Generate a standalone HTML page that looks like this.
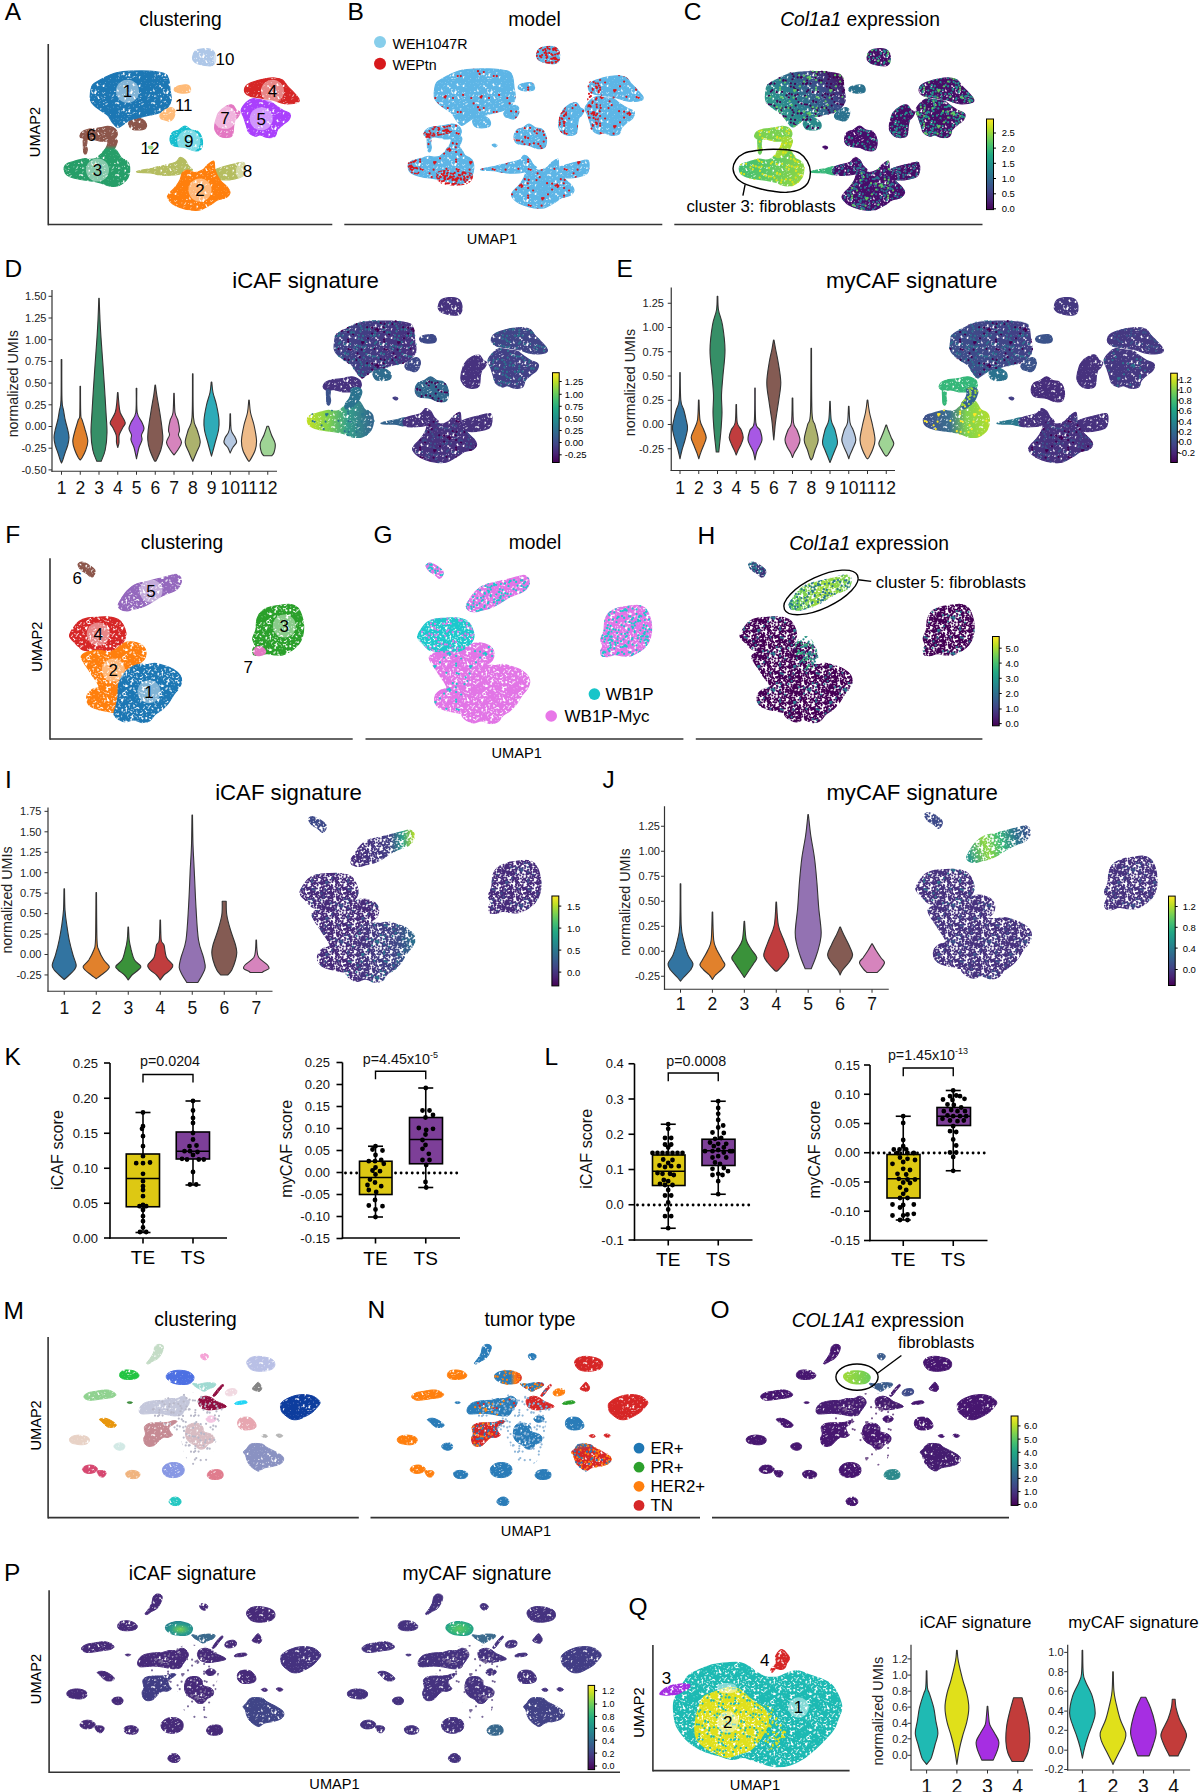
<!DOCTYPE html>
<html><head><meta charset="utf-8"><title>figure</title>
<style>html,body{margin:0;padding:0;background:#fff;} svg{display:block;} text{font-family:"Liberation Sans", sans-serif;}</style>
</head><body>
<svg width="1200" height="1792" viewBox="0 0 1200 1792" font-family='"Liberation Sans", sans-serif'>
<rect width="1200" height="1792" fill="#fff"/>
<defs><linearGradient id="vir" x1="0" y1="0" x2="0" y2="1"><stop offset="0.0" stop-color="#fde725"/><stop offset="0.1" stop-color="#bddf26"/><stop offset="0.2" stop-color="#7ad151"/><stop offset="0.3" stop-color="#44bf70"/><stop offset="0.4" stop-color="#22a884"/><stop offset="0.5" stop-color="#21918c"/><stop offset="0.6" stop-color="#2a788e"/><stop offset="0.7" stop-color="#355f8d"/><stop offset="0.8" stop-color="#414487"/><stop offset="0.9" stop-color="#482475"/><stop offset="1.0" stop-color="#440154"/></linearGradient><pattern id="p_mkd" width="36" height="36" patternUnits="userSpaceOnUse"><path d="M11.7 5.4h0M23.4 2.6h0M19.3 13.2h0M2.1 18.3h0M1.3 15.6h0M2.5 3.3h0M15.3 29.8h0M4.5 8.0h0M22.6 34.1h0M20.8 14.3h0M-0.9 1.7h0M35.1 1.7h0M30.9 10.4h0M5.2 4.2h0M11.1 29.4h0M6.5 20.9h0M23.0 13.4h0M19.7 2.3h0M2.1 7.4h0M24.5 15.4h0M11.3 21.1h0M16.3 10.8h0M28.6 25.2h0M8.8 20.7h0M18.9 31.5h0M26.3 10.4h0M-0.7 4.3h0M35.3 4.3h0M15.1 27.3h0M5.5 17.6h0M1.4 24.1h0M27.5 20.6h0M31.5 11.3h0M25.0 21.4h0M20.9 16.4h0M30.2 34.0h0M17.1 23.9h0M2.2 25.3h0M23.3 -0.2h0M23.3 35.8h0M29.6 10.2h0M13.9 24.1h0M0.8 16.6h0M36.8 16.6h0M6.0 4.2h0M2.1 27.7h0M4.7 8.9h0M14.1 31.4h0M2.9 16.2h0M19.8 31.8h0M29.5 31.1h0M10.0 15.0h0M12.9 31.8h0M34.5 5.4h0M6.3 8.4h0M8.4 17.5h0M21.2 9.5h0M0.1 15.1h0M36.1 15.1h0M13.3 20.4h0M34.3 24.9h0M18.6 22.2h0M24.3 1.9h0M32.4 28.1h0M31.5 28.7h0M14.1 14.4h0M3.7 22.8h0M2.2 2.4h0M7.5 5.8h0M12.2 1.9h0M0.0 5.4h0M36.0 5.4h0M3.7 13.1h0M0.9 31.5h0M36.9 31.5h0M22.1 5.3h0M9.1 12.5h0M13.1 4.4h0M30.6 -0.2h0M30.6 35.8h0M16.8 17.4h0M3.1 3.7h0M12.3 9.5h0M29.8 5.8h0M0.8 34.2h0M36.8 34.2h0M19.0 5.3h0M19.6 1.0h0M19.6 37.0h0M19.0 -0.8h0M19.0 35.2h0M31.1 25.1h0M9.4 13.2h0M6.0 27.8h0M19.2 28.0h0M11.9 8.0h0M29.2 -0.5h0M29.2 35.5h0M30.7 29.0h0M29.5 26.6h0M8.2 18.6h0M12.8 1.0h0M12.8 37.0h0M1.0 10.1h0M37.0 10.1h0M9.3 24.9h0M34.4 16.1h0M33.7 -0.4h0M33.7 35.6h0M34.4 13.1h0M7.9 8.2h0M7.1 7.4h0M22.5 32.4h0M30.3 17.3h0M23.5 28.8h0M3.1 23.8h0M32.8 28.2h0M27.0 17.2h0M6.4 28.4h0M12.0 28.8h0M-1.0 14.3h0M35.0 14.3h0M14.4 34.1h0M26.1 6.1h0M4.6 5.4h0M32.6 29.0h0M5.3 29.8h0M-0.7 23.7h0M35.3 23.7h0M12.6 19.8h0M4.7 0.5h0M4.7 36.5h0M-1.0 23.4h0M35.0 23.4h0M19.0 33.6h0M15.6 31.4h0M29.7 7.6h0M9.1 10.5h0M8.7 21.1h0M9.3 15.1h0M4.7 32.8h0M12.7 16.5h0M21.0 32.6h0M15.1 33.0h0M18.1 19.1h0M18.8 0.7h0M18.8 36.7h0M15.8 6.6h0M0.1 28.8h0M36.1 28.8h0M6.2 17.0h0M26.1 20.0h0M11.7 18.7h0M20.0 28.2h0M3.8 20.2h0M8.9 10.0h0M27.8 18.3h0M20.2 27.4h0M32.8 16.0h0M22.1 18.2h0M18.4 24.9h0M16.3 19.2h0M17.2 33.9h0M25.2 31.6h0M33.9 9.3h0M20.1 34.0h0M30.2 4.9h0M4.4 15.9h0M2.6 8.7h0M2.6 24.1h0M28.2 32.3h0M5.6 25.8h0M23.8 5.1h0M31.8 34.8h0M7.9 34.3h0M14.3 17.5h0M-0.4 30.0h0M35.6 30.0h0M5.8 15.5h0M18.6 12.2h0M7.0 11.5h0M26.0 0.7h0M26.0 36.7h0M19.9 15.9h0M0.7 11.9h0M36.7 11.9h0M22.5 18.4h0M2.3 -0.5h0M2.3 35.5h0M28.4 -1.0h0M28.4 35.0h0M3.8 9.6h0M1.4 28.0h0M9.7 4.7h0M15.2 32.8h0M29.5 9.3h0M5.4 33.1h0M20.5 25.2h0M3.2 2.1h0M24.8 15.3h0M2.6 33.8h0M22.8 28.9h0M3.0 30.8h0M2.4 31.1h0M16.3 12.2h0M19.9 33.4h0M9.6 4.7h0M19.0 8.6h0M3.9 5.8h0M1.8 7.3h0M11.2 11.0h0M27.3 10.4h0M18.0 6.4h0M12.5 0.7h0M12.5 36.7h0M9.0 0.6h0M9.0 36.6h0M26.4 19.8h0M6.8 17.1h0M33.6 3.8h0M29.5 15.6h0M17.8 30.0h0M14.2 18.2h0M24.8 -0.6h0M24.8 35.4h0M12.3 30.0h0M25.4 22.9h0M14.6 12.5h0M2.0 4.7h0M2.5 26.7h0M9.2 5.9h0M3.0 30.3h0M31.3 24.1h0M10.1 8.7h0M10.6 16.5h0M5.7 16.0h0M9.5 34.6h0M-1.0 19.7h0M35.0 19.7h0M8.8 34.8h0M11.1 12.8h0M0.0 13.7h0M36.0 13.7h0M17.1 18.1h0M7.2 18.2h0M0.2 9.5h0M36.2 9.5h0M3.2 14.4h0M1.5 0.8h0M1.5 36.8h0M11.0 8.4h0M21.1 19.1h0M27.0 23.7h0M25.8 31.6h0M14.0 11.7h0M-0.5 5.4h0M35.5 5.4h0M26.1 23.2h0M1.6 30.1h0M32.1 22.6h0M26.4 29.2h0M5.0 18.9h0M18.2 30.1h0M29.0 29.8h0M21.0 32.1h0M24.6 25.0h0M8.3 1.1h0M4.8 13.0h0M3.8 30.1h0M20.1 22.6h0M22.5 24.5h0M17.6 0.1h0M17.6 36.1h0M28.7 26.9h0M18.1 19.3h0M23.7 2.4h0M26.5 9.1h0M2.7 9.6h0M26.3 7.4h0M26.6 -0.9h0M26.6 35.1h0M17.8 13.8h0M17.2 24.6h0M27.6 22.2h0M23.1 2.8h0M5.3 9.1h0M26.8 11.0h0M20.4 0.4h0M20.4 36.4h0M2.2 9.7h0M24.2 24.9h0M24.3 10.5h0M18.6 16.7h0M16.8 4.3h0M32.2 7.2h0M-0.8 33.7h0M35.2 33.7h0M0.6 16.5h0M36.6 16.5h0M29.5 34.9h0M16.2 9.7h0M7.6 34.0h0M7.6 20.9h0M5.1 18.9h0M34.3 4.8h0M29.5 18.3h0M31.9 25.3h0M8.3 32.3h0M17.5 0.9h0M17.5 36.9h0M0.1 17.7h0M36.1 17.7h0M16.2 10.9h0M5.1 12.4h0M11.4 30.2h0M0.1 27.0h0M36.1 27.0h0M30.2 4.3h0M33.4 25.7h0M32.5 10.4h0M13.4 14.1h0M-0.0 21.2h0M36.0 21.2h0M13.0 15.4h0M9.9 1.7h0M3.7 30.0h0M10.3 33.7h0M9.0 9.6h0M18.4 6.8h0M13.4 34.4h0M31.8 29.2h0M22.7 32.9h0M33.9 19.8h0M25.9 1.8h0M26.4 16.2h0M27.1 23.2h0M10.3 1.8h0M33.4 4.6h0M17.0 12.4h0M10.7 26.6h0M-0.9 9.4h0M35.1 9.4h0M23.6 10.8h0M20.1 14.2h0M6.0 5.8h0M7.5 32.6h0M17.9 7.9h0M32.6 -0.1h0M32.6 35.9h0M16.2 5.0h0M6.9 3.3h0M12.3 3.3h0M8.6 9.3h0M20.5 31.9h0M27.0 14.9h0M14.9 18.9h0M13.6 12.2h0M2.2 10.0h0M34.8 4.5h0M18.1 22.7h0M31.1 7.8h0M9.8 8.9h0M14.4 16.1h0M34.3 30.6h0M31.4 0.8h0M31.4 36.8h0M1.2 25.5h0M32.2 17.0h0M21.1 0.0h0M21.1 36.0h0M14.1 33.4h0M29.7 30.8h0M-1.0 8.9h0M35.0 8.9h0M3.9 5.6h0M18.8 24.6h0M33.9 26.0h0M23.3 27.5h0M16.5 19.9h0M1.4 28.2h0M8.4 33.1h0M23.2 10.9h0M4.6 9.1h0M22.9 25.1h0M4.0 2.5h0M18.9 21.0h0M14.0 8.0h0M21.6 0.4h0M21.6 36.4h0M10.9 16.6h0M34.5 23.2h0M31.8 17.1h0M8.5 8.9h0M34.6 25.4h0M11.1 0.8h0M11.1 36.8h0M17.9 24.3h0M15.1 9.3h0M24.0 33.3h0M8.2 1.2h0M12.2 15.1h0M24.6 7.1h0M28.7 26.6h0M18.2 7.4h0M-1.1 11.2h0M34.9 11.2h0M29.5 8.3h0M8.0 27.4h0M10.6 34.3h0M17.8 6.7h0M8.0 15.0h0M24.0 34.2h0M5.3 14.2h0M7.7 -0.9h0M7.7 35.1h0M5.1 1.9h0M2.2 14.2h0M32.3 31.8h0M26.4 -0.1h0M26.4 35.9h0M33.5 11.9h0M6.7 33.7h0M26.9 1.1h0M23.9 13.6h0M13.5 11.9h0M6.1 0.1h0M6.1 36.1h0M10.1 12.7h0M34.4 4.5h0M34.7 7.5h0M12.8 29.6h0M29.6 15.6h0M1.8 17.0h0M13.4 33.1h0M6.9 13.1h0M32.3 1.1h0M32.3 37.1h0M14.8 29.2h0M27.6 1.5h0M1.3 2.3h0M33.1 9.3h0M26.9 32.3h0M12.2 9.8h0M34.5 22.2h0M9.4 25.8h0M11.4 9.9h0M0.1 27.2h0M36.1 27.2h0M33.0 22.8h0M34.0 0.9h0M34.0 36.9h0M8.4 17.1h0M34.4 34.3h0M13.9 9.0h0M15.5 17.8h0M33.4 6.6h0M28.9 26.6h0M29.6 27.8h0M21.9 11.8h0M11.5 13.0h0M28.2 2.8h0M7.1 27.1h0M8.9 2.3h0M1.2 19.9h0M11.7 -0.7h0M11.7 35.3h0M31.8 -0.4h0M31.8 35.6h0M9.5 3.0h0M3.5 17.9h0M25.6 16.1h0M8.4 15.0h0M22.3 24.3h0M26.9 30.5h0M23.9 4.4h0M30.3 10.6h0M20.4 13.4h0M26.6 7.2h0M8.9 8.8h0M5.5 31.8h0M20.8 11.7h0M14.3 -0.3h0M14.3 35.7h0M18.3 8.3h0M29.1 23.5h0M-0.3 3.7h0M35.7 3.7h0M17.1 29.5h0M30.3 32.9h0M1.5 10.6h0M4.3 6.8h0M-1.0 21.0h0M35.0 21.0h0M33.5 13.4h0M31.2 16.2h0M9.4 28.0h0M34.0 3.8h0M21.5 22.3h0M7.8 13.3h0M5.1 7.3h0M9.2 21.6h0M23.5 7.3h0M0.4 11.8h0M36.4 11.8h0M24.4 6.7h0M11.2 7.3h0M28.6 19.7h0M2.3 3.6h0M14.2 19.8h0M23.0 3.3h0M5.9 25.0h0M14.8 10.2h0M11.1 34.3h0M11.2 20.4h0M12.9 15.0h0M31.1 -0.1h0M31.1 35.9h0M13.1 7.1h0M26.2 7.3h0M0.2 32.5h0M36.2 32.5h0M15.3 29.5h0M14.6 31.8h0M16.6 5.9h0M0.5 19.9h0M36.5 19.9h0M23.1 32.8h0M3.2 22.4h0M13.4 18.2h0M5.3 10.2h0M18.8 33.3h0M3.9 17.7h0M29.0 34.8h0M7.1 4.6h0M34.0 -0.9h0M34.0 35.1h0M17.4 1.9h0M33.3 14.0h0M32.6 22.3h0M29.7 5.8h0M28.3 8.0h0M14.6 30.5h0M29.9 6.6h0M7.9 14.4h0M18.6 13.8h0M4.4 8.9h0M26.1 32.3h0M1.5 20.2h0M27.3 1.4h0M30.2 4.2h0M21.6 19.8h0M22.6 11.0h0M15.1 21.0h0M15.3 23.7h0M16.1 15.8h0M0.8 22.3h0M36.8 22.3h0M17.6 8.5h0M27.5 28.1h0M16.5 6.5h0M17.0 3.9h0M4.6 15.5h0M3.3 15.9h0M18.4 1.5h0M22.9 3.0h0M26.4 28.0h0M18.4 2.0h0M18.1 13.6h0M34.2 4.9h0M30.9 -0.1h0M30.9 35.9h0M26.4 29.3h0M7.0 -0.7h0M7.0 35.3h0M17.7 34.4h0M33.0 5.9h0M28.4 33.5h0M2.4 12.6h0M27.2 5.7h0M32.3 9.9h0M29.4 5.2h0M18.1 33.1h0M7.5 9.5h0M18.2 11.5h0M1.3 6.6h0M5.8 33.7h0M24.5 32.2h0M6.1 28.3h0M4.1 19.1h0M22.9 13.0h0M31.4 20.0h0M20.9 31.8h0M3.8 -0.3h0M3.8 35.7h0M22.7 14.2h0M28.7 9.5h0M-0.3 20.8h0M35.7 20.8h0M13.0 27.5h0M15.9 6.4h0M26.8 1.7h0M29.5 9.1h0M23.0 -0.6h0M23.0 35.4h0M21.1 23.9h0M11.3 0.1h0M11.3 36.1h0M1.2 5.4h0M22.2 15.6h0M18.5 32.2h0M4.8 8.2h0M23.5 0.8h0M23.5 36.8h0M0.1 12.8h0M36.1 12.8h0M3.8 12.9h0M8.1 21.0h0M21.2 7.4h0M22.5 17.1h0M4.9 33.7h0M8.8 5.4h0M3.4 23.0h0M31.4 28.2h0M14.5 9.5h0M0.4 23.2h0M36.4 23.2h0M20.2 12.6h0M23.2 16.0h0M33.7 26.4h0M8.9 32.5h0M1.6 19.1h0M14.6 8.6h0M2.1 28.0h0M0.4 19.8h0M36.4 19.8h0M33.9 5.1h0M7.2 21.9h0M18.3 23.1h0M29.3 6.3h0M11.1 10.8h0M1.7 32.0h0M28.2 25.8h0M0.2 30.4h0M36.2 30.4h0M26.8 16.7h0M26.7 16.3h0M8.1 3.8h0M8.4 1.4h0M12.1 27.0h0M25.0 30.4h0M25.6 9.6h0M19.9 15.7h0M28.4 18.8h0M9.6 23.1h0M34.7 7.8h0M31.7 0.5h0M31.7 36.5h0M9.4 8.5h0M26.8 34.0h0M26.9 11.8h0M31.7 11.8h0M8.6 32.7h0M22.7 24.9h0M23.9 -0.8h0M23.9 35.2h0M16.9 30.2h0M25.1 30.9h0M15.7 26.1h0M20.5 11.1h0M7.6 22.4h0M2.8 32.8h0M5.2 1.0h0M5.2 37.0h0M3.8 33.4h0M12.4 5.1h0M1.0 1.5h0M37.0 1.5h0M24.9 22.8h0M25.1 26.5h0M2.4 21.3h0M13.1 29.4h0M29.5 32.1h0M2.4 31.2h0M32.9 34.0h0M3.9 7.4h0M4.0 1.2h0M30.5 29.2h0M22.8 29.7h0M22.7 10.3h0M3.6 3.5h0M27.3 7.4h0M11.5 15.3h0M0.8 9.2h0M36.8 9.2h0M10.2 25.8h0M13.2 11.5h0M34.7 18.1h0M30.6 22.3h0M1.1 14.9h0M15.7 27.8h0M12.5 25.4h0M19.4 7.8h0M31.0 3.3h0M29.5 6.1h0M0.0 7.3h0M36.0 7.3h0M27.4 -0.8h0M27.4 35.2h0M0.2 17.7h0M36.2 17.7h0M17.7 28.7h0M6.6 17.8h0M12.5 29.9h0M9.4 34.0h0M10.2 7.7h0M25.2 17.9h0M4.0 22.9h0M2.9 28.4h0M25.1 28.3h0M22.6 12.8h0M14.4 14.2h0M32.1 3.1h0M32.0 0.9h0M32.0 36.9h0M7.4 9.5h0M32.4 18.0h0M13.7 31.8h0M8.4 16.6h0M19.1 27.2h0M27.1 23.3h0M12.5 11.8h0M5.6 30.4h0M23.8 26.7h0M6.1 15.8h0M27.8 20.9h0M4.5 16.6h0M31.9 8.6h0M6.9 10.9h0M25.3 30.4h0M5.6 5.6h0M8.9 11.8h0M18.8 5.8h0M11.8 6.8h0M-0.9 26.2h0M35.1 26.2h0M3.7 34.6h0M3.7 13.8h0M-0.6 28.6h0M35.4 28.6h0M26.4 15.7h0M7.1 23.0h0M3.8 7.4h0M14.0 1.2h0M14.4 28.5h0M25.0 18.0h0M22.8 16.7h0M5.1 21.7h0M14.6 26.7h0M32.7 15.5h0M20.7 27.0h0M15.2 8.2h0M26.0 31.7h0M27.9 25.2h0M30.7 24.5h0M23.1 16.3h0M11.3 22.6h0M3.5 15.1h0M28.2 25.7h0M22.7 9.0h0M15.2 16.4h0M22.4 14.7h0M24.3 33.5h0M6.6 23.6h0M28.0 14.0h0M17.6 -0.9h0M17.6 35.1h0M1.4 19.6h0M5.8 28.1h0M33.9 18.7h0M3.6 20.7h0M19.5 25.8h0M18.4 23.0h0M29.8 18.8h0M14.8 34.1h0M7.6 24.6h0M14.1 27.5h0M4.4 -0.6h0M4.4 35.4h0M12.8 2.0h0M9.9 14.4h0M0.5 15.1h0M36.5 15.1h0M15.1 25.1h0M12.7 9.5h0M8.1 26.7h0M33.8 19.0h0M7.9 28.9h0M14.1 7.6h0M4.7 28.0h0M29.1 22.8h0M16.9 20.2h0M8.1 34.7h0M12.7 23.0h0M29.5 29.4h0M16.9 10.6h0M19.7 4.5h0M30.0 12.8h0M30.6 9.6h0M13.5 9.1h0M15.3 6.7h0M0.1 26.0h0M36.1 26.0h0M10.1 8.8h0M10.9 17.3h0M15.4 22.9h0M23.7 13.0h0M33.4 30.8h0M2.1 29.8h0M32.6 28.2h0M5.1 29.9h0M22.8 0.5h0M22.8 36.5h0M0.4 34.3h0M36.4 34.3h0M23.6 9.0h0M3.7 5.1h0M8.4 27.9h0M12.5 5.5h0M32.5 28.5h0M6.0 32.1h0M21.9 28.1h0M24.1 32.2h0M28.4 30.2h0M7.1 24.9h0M19.1 26.7h0M15.8 31.8h0M20.0 9.5h0M8.4 5.0h0M17.8 2.1h0M16.8 5.2h0M17.7 17.9h0M19.4 31.1h0M0.2 30.3h0M36.2 30.3h0M16.8 20.3h0M24.0 30.3h0M13.5 15.1h0M34.6 2.7h0M22.9 22.9h0M1.0 21.9h0M37.0 21.9h0M24.6 33.5h0M11.9 -0.7h0M11.9 35.3h0M18.4 17.4h0M32.3 1.2h0M25.9 22.5h0M12.2 31.0h0M13.2 17.1h0M18.9 27.7h0M7.6 15.7h0M15.2 19.9h0M29.8 10.5h0M29.8 14.5h0M18.1 9.8h0M18.2 -0.9h0M18.2 35.1h0M23.6 28.5h0M11.9 11.4h0M10.8 21.1h0M22.9 28.2h0M1.4 26.0h0M31.9 19.6h0M1.8 10.8h0M0.2 6.8h0M36.2 6.8h0M33.2 21.9h0M23.7 28.4h0M32.8 22.0h0M22.2 22.6h0M25.1 21.5h0M24.5 7.7h0M24.0 16.5h0M27.5 3.6h0M6.5 1.3h0M27.9 32.9h0M23.6 13.3h0M29.6 28.3h0M20.2 9.3h0M10.9 15.2h0M11.5 15.5h0M23.1 33.6h0M2.0 20.4h0M1.4 4.3h0M29.2 20.7h0M33.1 16.1h0M0.5 13.9h0M36.5 13.9h0M21.3 33.8h0M-0.7 17.1h0M35.3 17.1h0M14.8 3.7h0M23.2 7.6h0M5.5 0.6h0M5.5 36.6h0M0.2 24.6h0M36.2 24.6h0M4.4 34.8h0M3.2 31.3h0M4.6 0.6h0M4.6 36.6h0M25.9 8.7h0M26.4 6.7h0M1.8 27.9h0M25.7 30.8h0M26.3 3.0h0M22.6 25.5h0M16.6 33.6h0M9.1 34.7h0M25.8 0.4h0M25.8 36.4h0M0.5 23.4h0M36.5 23.4h0M29.4 2.9h0M11.2 26.3h0M6.0 31.0h0M17.5 2.2h0M13.2 20.7h0M15.8 24.4h0M5.2 28.7h0M13.1 23.2h0M22.7 15.0h0M13.9 28.3h0M34.0 28.2h0M20.4 10.5h0M2.2 -0.9h0M2.2 35.1h0M25.3 29.8h0M12.0 21.8h0M-0.8 29.9h0M35.2 29.9h0M21.6 11.1h0M15.4 32.0h0M13.6 24.7h0M21.7 32.3h0M29.1 10.2h0M0.1 9.5h0M36.1 9.5h0M15.2 21.1h0M29.4 31.9h0M1.5 30.0h0M29.2 31.2h0M20.6 9.9h0M30.6 29.1h0M24.6 32.9h0M12.5 3.1h0M19.9 28.7h0M7.2 27.0h0M33.5 8.4h0M21.8 24.4h0M16.8 7.4h0M9.2 27.0h0M28.5 16.5h0M3.2 29.0h0M27.8 8.4h0M20.9 32.3h0M31.9 18.8h0M17.2 21.2h0M6.8 6.9h0M6.5 25.2h0M13.1 20.3h0M14.5 18.6h0M5.4 1.6h0M-0.1 13.5h0M35.9 13.5h0M3.8 22.8h0M28.3 5.6h0M21.5 12.4h0M18.7 0.7h0M18.7 36.7h0M1.2 -0.3h0M1.2 35.7h0M31.2 17.5h0M20.4 9.4h0M28.1 15.3h0M34.1 27.6h0M29.5 34.7h0M9.1 1.4h0M7.2 6.5h0M3.0 1.8h0M20.1 31.3h0M16.5 34.1h0M32.8 2.3h0M21.5 14.3h0M4.3 34.5h0M9.3 20.3h0M23.1 34.4h0M24.1 14.2h0M16.1 5.8h0M34.8 -0.3h0M34.8 35.7h0M8.0 1.4h0M9.2 12.7h0M32.5 32.6h0M30.1 1.7h0M28.3 25.5h0M23.3 -0.5h0M23.3 35.5h0M2.0 5.2h0M27.2 33.8h0M24.4 10.8h0M21.3 27.3h0M3.8 11.7h0M9.3 4.5h0M17.3 6.1h0M8.6 5.2h0M24.4 0.5h0M24.4 36.5h0M25.8 7.0h0M1.3 33.4h0M7.9 33.6h0M31.2 32.0h0M5.0 16.1h0M3.5 33.4h0M30.3 22.6h0M16.3 12.2h0M29.6 17.2h0M22.6 5.1h0M8.0 2.0h0M25.7 19.9h0M5.2 31.3h0M9.6 14.8h0M5.6 9.8h0M30.2 12.0h0M6.0 17.7h0M11.5 32.5h0M4.1 -0.8h0M4.1 35.2h0M2.0 32.2h0M24.1 7.6h0M17.2 10.3h0M9.3 7.3h0M13.1 -0.3h0M13.1 35.7h0M-0.1 33.3h0M35.9 33.3h0M3.5 10.4h0M32.3 2.1h0M26.2 10.6h0M-0.8 0.6h0M-0.8 36.6h0M35.2 0.6h0M35.2 36.6h0M29.1 12.3h0M5.0 0.1h0M5.0 36.1h0M30.0 19.0h0M6.7 15.7h0M32.8 7.9h0M20.6 5.0h0M6.5 27.7h0M25.6 7.1h0M2.9 3.1h0M21.9 17.8h0M9.9 7.4h0M22.0 25.5h0M29.2 21.0h0M7.3 2.4h0M26.4 14.7h0M26.0 2.0h0M29.2 12.1h0M30.3 31.1h0M17.7 0.6h0M17.7 36.6h0M32.8 17.2h0M31.4 9.6h0M6.7 29.9h0M13.2 5.9h0M13.4 21.4h0M0.2 18.7h0M36.2 18.7h0M16.0 18.6h0M4.3 25.7h0M29.4 31.2h0M11.6 25.6h0M13.7 27.0h0M2.2 31.4h0M34.3 17.8h0M18.5 19.1h0M19.3 0.7h0M19.3 36.7h0M34.8 8.1h0M6.6 3.7h0M9.0 29.4h0M1.1 3.5h0M37.1 3.5h0M25.2 7.0h0M0.6 21.6h0M36.6 21.6h0M20.8 18.8h0M25.3 3.7h0M31.3 25.8h0M1.6 4.4h0M17.8 18.0h0M10.1 4.4h0M14.6 4.9h0M21.3 31.0h0M5.3 20.6h0M26.9 5.9h0M29.7 33.8h0M14.0 15.1h0M30.2 18.9h0M14.2 33.9h0M28.0 12.2h0M8.7 12.1h0M15.7 -0.7h0M15.7 35.3h0M29.0 32.9h0M29.3 30.5h0M1.9 18.6h0M34.5 33.6h0M9.0 15.2h0M22.8 13.1h0M19.1 2.5h0M15.6 18.2h0M0.7 5.0h0M36.7 5.0h0M-1.1 28.0h0M34.9 28.0h0M33.7 22.8h0M29.1 31.8h0M31.8 1.2h0" stroke="#fff" stroke-width="2.2" stroke-linecap="round"/></pattern><mask id="mkd" maskUnits="userSpaceOnUse" x="0" y="0" width="1200" height="1792"><rect width="1200" height="1792" fill="url(#p_mkd)"/></mask><pattern id="p_mkm" width="36" height="36" patternUnits="userSpaceOnUse"><path d="M23.1 9.6h0M24.4 9.8h0M19.5 33.3h0M22.4 9.0h0M18.7 15.6h0M34.2 10.4h0M11.0 23.3h0M4.3 21.4h0M34.4 18.5h0M9.7 16.8h0M19.2 5.3h0M4.5 4.7h0M10.6 14.6h0M10.4 8.8h0M3.2 19.7h0M30.2 22.0h0M20.5 23.4h0M7.2 25.6h0M16.6 19.7h0M22.1 16.9h0M11.2 8.7h0M8.0 18.4h0M13.8 21.1h0M0.4 12.7h0M36.4 12.7h0M31.0 8.6h0M20.0 17.7h0M10.3 -0.4h0M10.3 35.6h0M10.6 27.8h0M5.7 2.4h0M31.4 15.8h0M2.2 14.0h0M15.8 26.5h0M3.9 8.1h0M34.5 26.6h0M5.6 12.1h0M12.7 24.3h0M22.2 30.6h0M29.6 18.6h0M26.6 26.8h0M27.3 17.1h0M28.3 25.5h0M32.9 4.6h0M31.3 0.2h0M31.3 36.2h0M27.6 21.1h0M17.9 34.7h0M20.6 15.0h0M28.2 31.4h0M21.9 13.7h0M16.3 16.5h0M26.0 10.5h0M14.1 20.0h0M13.8 11.6h0M28.3 30.6h0M18.0 16.0h0M6.6 10.9h0M5.2 20.7h0M20.9 3.2h0M33.1 11.7h0M30.4 30.2h0M34.5 7.4h0M15.4 32.8h0M0.4 1.7h0M36.4 1.7h0M20.3 17.9h0M33.1 27.8h0M19.4 -0.1h0M19.4 35.9h0M18.6 18.6h0M24.7 14.0h0M12.9 21.4h0M12.6 34.1h0M24.4 18.9h0M3.6 13.5h0M14.4 20.2h0M20.7 31.7h0M34.7 17.5h0M15.8 22.5h0M-0.1 12.4h0M35.9 12.4h0M19.1 29.4h0M6.1 11.5h0M-0.8 29.7h0M35.2 29.7h0M18.5 4.0h0M32.2 24.8h0M29.5 -0.4h0M29.5 35.6h0M32.0 15.2h0M5.6 10.4h0M18.4 18.2h0M6.8 6.6h0M22.7 21.7h0M12.7 -0.2h0M12.7 35.8h0M22.9 1.5h0M14.8 28.4h0M11.0 24.9h0M0.1 11.0h0M36.1 11.0h0M30.3 21.1h0M24.1 7.1h0M17.9 19.9h0M9.6 23.3h0M19.1 -0.1h0M19.1 35.9h0M20.7 14.8h0M4.4 5.6h0M27.3 3.8h0M3.6 6.1h0M18.8 29.6h0M22.1 29.0h0M2.2 0.4h0M2.2 36.4h0M27.7 11.6h0M25.8 12.7h0M6.1 9.6h0M3.6 32.5h0M21.0 12.6h0M16.2 13.9h0M2.0 32.1h0M21.0 34.5h0M15.8 22.3h0M9.0 1.6h0M33.5 30.8h0M11.3 32.4h0M29.4 10.9h0M21.7 34.6h0M17.8 34.2h0M8.7 14.0h0M25.9 8.0h0M11.1 31.5h0M17.4 28.5h0M8.8 6.2h0M12.9 6.7h0M-1.0 10.5h0M35.0 10.5h0M20.2 4.1h0M19.2 13.9h0M14.5 2.4h0M4.4 29.7h0M12.6 8.8h0M6.9 10.2h0M8.5 1.3h0M23.9 12.3h0M5.6 25.4h0M3.3 9.7h0M30.1 4.6h0M16.0 30.1h0M29.0 5.7h0M12.7 26.0h0M13.6 34.5h0M7.5 34.2h0M18.2 8.2h0M16.3 4.7h0M25.4 9.4h0M32.4 21.2h0M13.2 8.9h0M21.9 7.7h0M31.4 4.4h0M18.5 19.5h0M9.7 27.8h0M13.9 23.7h0M20.4 11.2h0M14.0 3.1h0M6.4 30.6h0M11.6 23.9h0M3.9 20.2h0M13.0 18.0h0M10.7 2.4h0M11.2 8.2h0M4.5 25.8h0M10.2 14.5h0M32.7 27.9h0M31.8 31.0h0M4.8 10.0h0M1.1 24.5h0M37.1 24.5h0M23.9 12.7h0M14.9 23.7h0M25.2 8.9h0M30.5 12.7h0M22.6 6.5h0M4.1 32.9h0M26.4 25.7h0M1.5 1.4h0M5.8 7.1h0M10.9 13.7h0M1.4 11.2h0M23.0 6.5h0M30.2 20.5h0M25.8 9.2h0M15.7 24.6h0M12.6 0.0h0M12.6 36.0h0M30.0 28.0h0M10.3 1.5h0M30.7 21.9h0M1.7 8.8h0M4.0 28.5h0M7.6 32.9h0M27.0 3.1h0M25.0 14.2h0M26.9 29.8h0M10.1 3.2h0M34.1 15.3h0M33.5 24.9h0M26.6 29.9h0M22.6 16.3h0M2.0 25.1h0M15.4 18.4h0M33.4 4.6h0M27.4 1.6h0M25.3 29.0h0M9.4 19.7h0M34.9 23.0h0M19.6 9.0h0M2.1 12.9h0M14.8 7.3h0M11.2 4.9h0M25.5 24.1h0M8.6 8.7h0M18.6 16.0h0M33.7 12.7h0M10.8 31.8h0M5.1 20.3h0M12.0 29.4h0M19.7 27.4h0M6.1 24.0h0M21.6 16.6h0M27.6 29.9h0M4.1 10.4h0M13.0 7.4h0M2.2 10.1h0M7.1 25.3h0M16.1 4.1h0M11.7 16.9h0M13.1 6.1h0M2.6 0.4h0M2.6 36.4h0M-0.3 27.0h0M35.7 27.0h0M3.0 25.8h0M-0.7 20.3h0M35.3 20.3h0M3.9 17.6h0M15.6 6.8h0M19.6 0.3h0M19.6 36.3h0M33.1 23.2h0M22.6 33.7h0M23.5 9.1h0M8.9 5.0h0M1.0 27.9h0M37.0 27.9h0M30.2 10.7h0M6.7 23.0h0M30.4 33.4h0M6.1 28.2h0M29.9 26.7h0M11.8 6.6h0M29.7 11.5h0M13.3 19.8h0M13.3 29.9h0M8.6 1.5h0M20.4 22.6h0M29.5 25.4h0M32.6 34.0h0M17.8 18.0h0M5.7 10.8h0M20.9 2.9h0M24.8 5.9h0M16.0 -1.1h0M16.0 34.9h0M3.2 1.4h0M15.8 6.9h0M26.0 0.1h0M26.0 36.1h0M30.3 30.8h0M28.3 15.3h0M10.2 23.8h0M18.5 15.2h0M12.2 15.8h0M24.0 29.7h0M32.5 5.9h0M10.6 16.0h0M20.3 12.5h0M7.0 3.1h0M11.7 16.6h0M-1.0 32.7h0M35.0 32.7h0M31.2 -0.9h0M31.2 35.1h0M34.6 22.3h0M29.2 2.2h0M24.4 21.9h0M10.7 20.6h0M34.3 17.3h0M23.3 10.8h0M12.4 31.9h0M1.0 6.8h0M37.0 6.8h0M24.4 16.1h0M3.1 23.8h0M13.4 20.9h0M15.0 19.1h0M20.3 14.3h0M4.1 6.5h0M32.0 19.7h0M4.0 31.0h0M9.1 3.4h0M19.1 9.1h0M17.6 19.9h0M8.2 20.6h0M4.1 18.5h0M21.2 2.9h0M14.7 2.6h0M15.8 31.1h0M19.8 25.7h0M27.2 4.1h0M-0.3 26.0h0M35.7 26.0h0M3.7 29.9h0M14.1 6.2h0M34.6 20.3h0M27.9 4.9h0M27.9 2.1h0M8.5 13.4h0M0.5 21.4h0M36.5 21.4h0M7.7 10.8h0M25.5 15.3h0M32.0 22.4h0M31.4 20.3h0M33.0 31.3h0M6.0 26.8h0M12.3 27.5h0M24.5 29.7h0M4.4 13.4h0M26.5 34.1h0M26.0 1.6h0M21.7 3.6h0M19.8 28.9h0M4.1 33.3h0M24.3 9.2h0M7.0 16.1h0M30.2 20.9h0M4.1 0.8h0M4.1 36.8h0M4.0 28.8h0M6.7 20.0h0M10.4 24.7h0M13.7 5.2h0M31.5 19.4h0M24.8 29.1h0M34.2 0.5h0M34.2 36.5h0M12.3 5.4h0M18.1 31.4h0M28.8 1.3h0M6.6 29.5h0M24.5 14.1h0M17.1 5.7h0M30.4 14.2h0M31.4 22.0h0M2.7 11.9h0M7.8 32.2h0M21.2 1.6h0M6.1 13.0h0M16.8 20.8h0M14.0 12.7h0M0.2 20.8h0M36.2 20.8h0M12.0 0.7h0M12.0 36.7h0M16.5 -0.5h0M16.5 35.5h0M1.6 5.2h0M24.2 9.8h0M9.8 18.0h0M9.4 20.5h0M19.0 34.5h0M-0.3 1.2h0M35.7 1.2h0M20.2 27.8h0M31.4 27.9h0M22.8 22.8h0M13.1 10.1h0M28.6 31.4h0M33.8 24.5h0M10.9 27.5h0M26.6 18.3h0M22.9 12.6h0M19.8 14.6h0M2.2 12.1h0M11.6 -0.4h0M11.6 35.6h0M17.3 13.2h0M8.8 8.5h0M12.6 4.9h0M0.3 31.4h0M36.3 31.4h0M16.3 16.0h0M20.5 10.9h0M6.1 2.4h0M10.9 11.1h0M26.2 19.8h0M33.7 12.3h0M33.2 21.0h0M2.9 6.4h0M20.9 -0.5h0M20.9 35.5h0M12.9 27.9h0M15.4 31.3h0M2.4 17.4h0M32.4 9.9h0M9.3 0.8h0M9.3 36.8h0M5.9 9.6h0M25.4 7.9h0M14.4 7.2h0M21.7 31.1h0M23.3 7.1h0M26.4 34.7h0M21.6 2.9h0M29.1 31.5h0M12.3 4.9h0M6.8 19.3h0M31.5 23.0h0M33.2 7.6h0M11.8 27.0h0M23.4 14.6h0M24.4 12.2h0M2.1 14.9h0M1.6 22.5h0M12.0 17.8h0M21.5 9.3h0M16.7 0.5h0M16.7 36.5h0M33.3 20.3h0M-0.4 2.0h0M35.6 2.0h0M22.1 26.1h0M11.8 3.4h0M5.6 5.1h0M27.6 3.2h0M29.3 15.2h0M19.4 21.2h0M20.0 23.7h0M21.7 11.9h0M26.7 9.3h0M25.6 27.5h0M27.9 11.1h0M27.8 -0.8h0M27.8 35.2h0M16.3 10.0h0M18.8 33.9h0M4.7 0.3h0M4.7 36.3h0M17.1 23.6h0M27.9 13.0h0M-0.4 8.2h0M35.6 8.2h0M27.2 3.2h0M1.0 4.8h0M37.0 4.8h0M2.2 18.1h0M20.0 6.5h0M33.8 13.2h0M5.4 6.4h0M26.6 33.2h0M5.8 1.0h0M5.8 37.0h0M28.0 8.7h0M-0.6 18.0h0M35.4 18.0h0M22.9 12.4h0M28.8 16.6h0M11.7 32.5h0M3.9 26.4h0M2.4 23.2h0M14.5 31.1h0M2.2 20.3h0M14.8 33.1h0M34.0 22.6h0M8.1 9.1h0M9.4 15.6h0M8.3 7.3h0M27.3 23.1h0M10.7 -0.2h0M10.7 35.8h0M7.8 20.5h0M5.6 31.1h0M31.3 9.6h0M27.1 29.6h0M10.2 11.9h0M17.5 32.1h0M5.8 24.6h0M21.5 16.3h0M20.9 31.8h0M7.6 31.8h0M13.0 28.1h0M31.1 6.6h0M31.1 -0.2h0M31.1 35.8h0M10.7 0.9h0M10.7 36.9h0M4.0 -0.9h0M4.0 35.1h0M0.3 32.8h0M36.3 32.8h0M5.4 26.5h0M3.5 6.1h0M24.6 3.2h0M12.2 33.1h0M25.8 31.8h0M-0.7 1.2h0M35.3 1.2h0M8.4 28.5h0M24.8 1.4h0M18.2 8.3h0M15.5 3.8h0M0.7 -0.3h0M0.7 35.7h0M36.7 -0.3h0M36.7 35.7h0M11.4 31.6h0M4.3 17.5h0M4.9 15.4h0M6.4 24.7h0M5.3 26.6h0M18.0 4.0h0M12.7 17.9h0M33.1 12.6h0M7.7 34.8h0M31.8 26.3h0M9.8 6.4h0M9.5 2.5h0M1.6 18.3h0M14.7 20.0h0M13.1 0.4h0M13.1 36.4h0M24.8 23.5h0M19.6 19.8h0M24.9 -0.6h0M24.9 35.4h0M31.5 25.8h0M14.4 11.5h0M15.1 -1.0h0M15.1 35.0h0M13.9 13.9h0M14.8 5.1h0M-0.1 0.2h0M-0.1 36.2h0M35.9 0.2h0M35.9 36.2h0M21.9 33.3h0M9.2 22.0h0M13.6 8.7h0M7.1 4.2h0M30.4 28.2h0M32.7 1.8h0M25.0 11.7h0M23.3 19.8h0M11.4 -1.0h0M11.4 35.0h0M0.0 26.9h0M36.0 26.9h0M30.7 18.4h0M21.3 -0.2h0M21.3 35.8h0M8.4 22.7h0M26.8 13.6h0M25.6 14.2h0M18.9 22.1h0M24.4 11.6h0M22.6 19.6h0M8.0 22.1h0M9.5 32.7h0M17.0 26.0h0M18.8 17.2h0M8.0 5.1h0M33.4 19.0h0M18.9 19.0h0M29.3 8.6h0M6.2 29.6h0M16.6 23.1h0M29.8 32.2h0M31.2 1.6h0M13.7 30.0h0M29.4 4.4h0M5.5 9.1h0M3.7 12.8h0M28.9 18.8h0M16.3 3.2h0M14.2 -0.1h0M14.2 35.9h0M25.0 16.2h0M17.2 28.7h0M27.3 5.4h0M24.5 13.2h0M18.7 8.6h0M13.3 12.2h0M13.7 0.6h0M13.7 36.6h0M7.2 20.5h0M2.1 6.4h0M25.9 9.9h0M11.7 8.7h0M30.0 3.3h0M22.9 30.9h0M7.3 15.2h0M28.5 22.2h0M13.4 1.6h0M15.9 13.2h0M25.7 10.6h0M14.7 23.3h0M29.2 12.7h0M13.9 20.8h0M33.3 6.9h0M-1.0 25.6h0M35.0 25.6h0M13.4 24.0h0M11.9 2.5h0M27.2 13.7h0M18.9 17.9h0M32.4 27.3h0M0.9 21.3h0M36.9 21.3h0M16.7 16.6h0M30.2 14.9h0M17.0 32.1h0M15.8 17.7h0M18.4 29.7h0M24.1 26.7h0M14.5 1.5h0M24.5 19.9h0M27.7 27.7h0M4.3 7.9h0M2.8 29.4h0M3.7 3.2h0M27.1 20.3h0M2.0 24.5h0M25.6 17.4h0M2.0 24.9h0M15.0 21.0h0M-0.1 29.4h0M35.9 29.4h0M31.4 5.2h0M12.0 18.7h0M0.2 -0.4h0M0.2 35.6h0M36.2 -0.4h0M36.2 35.6h0M9.9 9.4h0M11.3 9.2h0M30.9 20.0h0M18.4 15.1h0M1.8 11.0h0M31.2 28.9h0M30.8 9.3h0M7.3 1.9h0M19.3 13.5h0M16.7 17.6h0M21.0 13.2h0M28.9 7.2h0M33.1 20.0h0M1.8 11.3h0M19.2 14.7h0M20.3 11.6h0M9.8 28.7h0M10.5 25.6h0M28.9 21.3h0M16.4 33.7h0M16.0 31.6h0M2.1 15.6h0M23.0 1.8h0M31.1 2.6h0M21.5 6.5h0M33.2 20.2h0M28.8 17.9h0M24.3 24.3h0M10.6 7.6h0M30.2 5.2h0M33.0 7.4h0M3.6 3.4h0M28.2 34.2h0M14.9 23.7h0M9.3 32.6h0M24.7 5.6h0M2.0 25.0h0M1.5 30.1h0M10.6 8.4h0M21.0 11.5h0M20.2 5.5h0M32.8 11.7h0M30.3 5.5h0M28.8 -0.7h0M28.8 35.3h0M14.1 1.2h0M13.7 23.1h0M8.0 19.6h0M3.4 16.7h0M26.2 15.5h0M24.4 4.1h0M29.8 4.4h0M33.2 -0.1h0M33.2 35.9h0M33.8 18.9h0M10.5 12.5h0M27.0 17.9h0M33.5 3.3h0M17.5 31.1h0M21.5 19.5h0M3.2 5.0h0M9.8 32.2h0M30.4 8.2h0M33.3 1.2h0M21.6 34.8h0M12.4 34.0h0M23.6 1.8h0M12.0 16.2h0M8.9 26.7h0M6.4 28.4h0M10.7 2.5h0M20.1 3.4h0M19.9 28.4h0M21.4 16.6h0M1.2 18.5h0M3.5 23.3h0M4.8 20.8h0M12.7 13.5h0M23.9 5.9h0M6.1 33.9h0M11.9 30.3h0M31.4 17.3h0M5.4 3.4h0M31.6 4.2h0M17.9 19.3h0M4.2 16.8h0M5.9 19.3h0M18.2 13.2h0M7.1 14.5h0M7.3 4.6h0M8.6 31.4h0M18.1 32.1h0M0.5 34.0h0M36.5 34.0h0M17.6 28.5h0M20.5 24.8h0M8.3 27.0h0M5.5 9.5h0M1.1 14.2h0M18.7 10.5h0M32.1 3.0h0M20.8 8.4h0M21.4 28.2h0M25.6 2.2h0M8.8 21.6h0M-0.6 1.5h0M35.4 1.5h0M22.3 24.9h0M29.3 12.3h0M29.2 16.6h0M33.2 0.4h0M33.2 36.4h0M33.9 14.8h0M14.7 3.2h0M8.8 26.4h0M24.4 5.4h0M12.4 5.1h0M7.1 7.9h0M11.9 -0.9h0M11.9 35.1h0M-0.1 28.5h0M35.9 28.5h0" stroke="#fff" stroke-width="2.2" stroke-linecap="round"/></pattern><mask id="mkm" maskUnits="userSpaceOnUse" x="0" y="0" width="1200" height="1792"><rect width="1200" height="1792" fill="url(#p_mkm)"/></mask><pattern id="p_mks" width="36" height="36" patternUnits="userSpaceOnUse"><path d="M17.3 17.9h0M28.1 32.7h0M27.1 22.9h0M7.2 22.5h0M30.4 28.3h0M3.3 25.8h0M12.6 5.8h0M34.8 24.2h0M26.8 4.9h0M29.8 33.7h0M32.6 26.8h0M30.0 28.9h0M21.3 15.7h0M29.7 28.2h0M31.3 10.8h0M34.6 19.1h0M34.1 4.2h0M34.9 28.3h0M9.1 30.2h0M8.4 7.1h0M16.5 8.5h0M17.7 32.7h0M24.7 25.6h0M14.1 28.2h0M28.6 24.6h0M33.9 29.7h0M14.6 3.1h0M23.5 30.1h0M12.2 21.4h0M30.1 28.5h0M0.2 17.6h0M36.2 17.6h0M0.6 4.0h0M36.6 4.0h0M29.2 15.1h0M21.8 16.5h0M12.1 7.7h0M12.7 30.4h0M22.3 10.5h0M3.2 9.8h0M25.2 15.9h0M23.8 29.1h0M4.3 24.6h0M1.5 29.6h0M6.6 9.8h0M34.5 13.0h0M8.1 32.0h0M22.0 32.2h0M14.2 18.0h0M34.4 18.2h0M-0.4 6.8h0M35.6 6.8h0M29.9 5.8h0M19.0 0.0h0M19.0 36.0h0M6.3 34.0h0M16.4 29.1h0M9.0 12.7h0M3.6 19.9h0M31.0 18.5h0M13.6 33.4h0M32.2 24.0h0M2.7 22.5h0M16.0 34.5h0M13.0 23.8h0M22.7 13.5h0M18.8 24.4h0M32.7 17.9h0M13.1 -0.9h0M13.1 35.1h0M2.1 30.1h0M24.6 20.1h0M16.1 27.0h0M32.1 26.2h0M27.0 1.3h0M11.7 4.9h0M34.3 32.1h0M5.2 21.2h0M20.8 1.7h0M14.1 26.9h0M23.1 10.1h0M27.4 10.5h0M19.6 15.1h0M-0.8 23.4h0M35.2 23.4h0M29.0 24.4h0M13.7 34.7h0M25.5 24.9h0M10.0 5.8h0M20.7 29.7h0M28.6 12.5h0M5.0 18.6h0M31.6 5.8h0M26.6 6.1h0M11.2 1.9h0M10.7 13.8h0M34.8 34.6h0M6.7 11.1h0M34.0 7.1h0M11.6 15.8h0M3.9 9.4h0M14.2 13.9h0M34.7 9.6h0M7.3 32.7h0M16.2 30.1h0M22.9 28.0h0M11.3 5.5h0M27.3 16.9h0M20.1 24.1h0M27.1 9.9h0M13.1 33.0h0M19.1 10.4h0M22.7 9.4h0M27.8 1.5h0M29.8 20.4h0M12.7 33.8h0M9.6 8.8h0M2.5 19.7h0M27.1 24.4h0M14.9 29.1h0M4.0 11.1h0M23.2 34.8h0M22.8 24.9h0M27.9 14.2h0M33.9 26.7h0M12.3 14.1h0M29.0 12.6h0M6.7 31.4h0M19.1 18.8h0M24.1 32.5h0M4.8 12.2h0M2.4 14.9h0M18.1 30.7h0M24.0 20.8h0M14.5 20.7h0M9.9 30.4h0M28.4 30.2h0M5.4 24.2h0M27.1 18.0h0M32.3 32.4h0M26.7 29.6h0M23.4 31.6h0M4.7 25.3h0M25.3 22.0h0M9.9 2.4h0M21.7 29.7h0M9.8 7.7h0M8.1 3.4h0M24.3 -0.9h0M24.3 35.1h0M28.9 12.9h0M25.2 2.6h0M30.2 11.7h0M0.1 22.7h0M36.1 22.7h0M5.0 9.9h0M2.1 16.0h0M20.0 29.1h0M1.4 29.8h0M4.0 8.1h0M22.7 12.2h0M11.9 20.5h0M7.8 28.6h0M7.5 30.2h0M29.1 19.3h0M1.1 28.0h0M1.0 18.2h0M15.3 2.3h0M22.7 26.1h0M21.1 14.4h0M18.4 21.2h0M8.1 31.2h0M-0.2 29.0h0M35.8 29.0h0M34.6 11.9h0M-0.5 2.6h0M35.5 2.6h0M17.2 4.8h0M16.3 24.6h0M25.5 16.4h0M12.3 6.8h0M14.5 10.2h0M7.0 26.5h0M18.6 15.8h0M7.1 25.3h0M7.1 9.6h0M20.2 25.2h0M-1.0 26.9h0M35.0 26.9h0M34.1 33.1h0M26.0 25.9h0M2.3 7.4h0M0.5 31.1h0M36.5 31.1h0M26.0 22.7h0M9.5 12.8h0M5.9 22.8h0M-0.3 11.0h0M35.7 11.0h0M1.6 6.3h0M12.8 32.4h0M29.0 16.4h0M3.7 3.8h0M5.5 28.0h0M17.0 -0.3h0M17.0 35.7h0M32.8 28.6h0M17.1 29.6h0M4.6 3.9h0M20.3 18.3h0M7.5 9.1h0M0.8 32.7h0M36.8 32.7h0M25.6 34.0h0M-0.7 15.7h0M35.3 15.7h0M26.4 13.8h0M29.2 30.3h0M4.8 0.5h0M4.8 36.5h0M7.7 21.1h0M13.6 0.3h0M13.6 36.3h0M29.9 28.3h0M16.7 1.6h0M32.0 19.2h0M2.6 11.6h0M22.5 31.9h0M17.4 23.0h0M7.4 8.8h0M32.6 13.8h0M3.7 21.3h0M4.5 7.2h0M16.4 21.1h0M22.9 25.5h0M15.8 2.4h0M26.1 1.9h0M16.9 14.4h0M24.2 25.7h0M8.6 23.4h0M24.9 17.0h0M5.1 32.7h0M21.6 2.3h0M8.6 -0.5h0M8.6 35.5h0M8.2 14.1h0M28.4 29.7h0M22.8 26.7h0M1.4 3.4h0M-0.9 28.9h0M35.1 28.9h0M1.4 1.8h0M8.7 33.5h0M7.9 24.2h0M33.5 23.0h0M33.1 9.5h0M5.5 0.7h0M5.5 36.7h0M27.3 3.7h0M-1.0 25.6h0M35.0 25.6h0M6.7 29.1h0M5.9 18.4h0M3.8 28.3h0M32.0 33.0h0M0.1 30.7h0M36.1 30.7h0M20.0 29.6h0M18.1 22.3h0M21.4 28.8h0M2.8 2.0h0M19.6 10.5h0M14.3 0.3h0M14.3 36.3h0M26.8 0.9h0M26.8 36.9h0M29.9 29.2h0M16.5 4.4h0M23.4 7.5h0M15.4 4.0h0M-0.8 19.7h0M35.2 19.7h0M12.7 3.4h0M26.3 30.6h0M30.5 3.7h0M13.2 10.9h0M27.4 5.3h0M21.8 -0.8h0M21.8 35.2h0M27.7 0.2h0M27.7 36.2h0M2.7 4.1h0M24.9 21.6h0M18.7 16.4h0M14.7 22.0h0M23.3 33.0h0M26.4 28.7h0M32.9 30.1h0M25.8 1.1h0M24.5 30.6h0M15.5 31.6h0M6.5 33.9h0M15.9 25.4h0M9.1 10.8h0M12.5 11.7h0M3.4 15.9h0M-0.7 23.5h0M35.3 23.5h0M33.6 27.4h0M30.1 -0.2h0M30.1 35.8h0M27.1 9.9h0M9.0 14.8h0M0.8 8.3h0M36.8 8.3h0M31.9 33.2h0M11.8 27.7h0M27.9 32.0h0M28.6 19.2h0M3.8 29.7h0M11.3 22.6h0M13.2 19.3h0M34.8 5.8h0M19.1 23.4h0M19.4 33.8h0M14.7 32.9h0M24.8 34.8h0M3.2 7.6h0M10.3 32.6h0M0.5 9.4h0M36.5 9.4h0M25.8 -0.4h0M25.8 35.6h0M6.3 15.8h0M24.7 24.9h0M26.9 27.1h0M8.9 9.3h0M1.0 24.9h0M37.0 24.9h0M7.5 9.3h0M34.7 23.2h0M21.3 23.6h0M21.5 25.0h0M10.9 2.3h0M2.4 0.5h0M2.4 36.5h0M13.0 5.1h0M4.1 17.8h0M34.9 24.8h0M9.8 27.7h0M6.4 3.6h0M10.9 14.7h0M24.8 16.0h0M26.2 3.4h0M33.6 12.3h0M30.0 1.1h0M29.8 8.1h0M30.8 28.9h0M24.1 10.0h0M0.4 6.8h0M36.4 6.8h0M32.6 5.7h0M23.7 21.1h0M23.8 6.5h0M5.2 3.5h0M-0.6 13.8h0M35.4 13.8h0M23.5 20.5h0M8.0 2.3h0M0.5 30.7h0M36.5 30.7h0M4.7 34.7h0M13.1 26.0h0M5.0 28.4h0M9.1 13.2h0M18.8 4.0h0M8.9 28.7h0M10.3 13.7h0M27.5 8.1h0M7.0 7.9h0M13.8 13.2h0M23.1 17.0h0M31.3 1.8h0M23.9 30.1h0M8.5 1.1h0M15.8 4.2h0M16.6 25.6h0M3.4 4.2h0M17.3 6.3h0M8.3 15.8h0M4.3 2.4h0M13.0 16.9h0M33.7 20.0h0M2.6 8.0h0M26.8 20.3h0M31.3 34.6h0M30.9 4.0h0M34.0 18.9h0M8.6 6.1h0M31.1 7.6h0M3.0 9.6h0M33.3 16.6h0M26.3 2.7h0M16.3 11.4h0M7.4 23.9h0M13.0 4.3h0M-0.6 17.3h0M35.4 17.3h0M6.5 0.4h0M6.5 36.4h0M23.5 18.5h0M0.9 16.9h0M36.9 16.9h0M26.7 19.3h0M8.4 18.0h0M21.8 23.4h0M5.2 28.9h0M34.0 26.7h0M30.9 13.2h0M32.5 6.5h0M8.2 21.5h0M32.5 3.0h0M7.8 1.3h0M15.8 5.1h0M6.9 27.0h0M21.0 33.8h0M14.5 24.4h0M0.5 34.1h0M36.5 34.1h0M8.4 17.2h0M18.4 34.1h0M17.7 -0.3h0M17.7 35.7h0M22.4 7.8h0M30.0 7.3h0M-0.0 16.4h0M36.0 16.4h0M8.1 34.6h0M11.6 14.7h0M12.4 24.1h0M0.8 13.5h0M36.8 13.5h0M5.8 29.8h0M0.0 21.9h0M36.0 21.9h0M9.3 16.3h0M20.2 25.6h0M5.0 8.7h0M4.3 34.6h0M5.4 4.9h0M18.8 20.9h0M31.9 2.0h0M8.4 6.0h0M21.1 16.3h0M14.7 32.0h0M23.8 31.0h0M34.4 9.7h0M33.9 14.7h0M1.9 32.9h0M3.7 0.6h0M3.7 36.6h0M10.4 10.4h0M34.8 31.3h0M15.1 19.1h0M30.6 29.1h0M23.5 18.5h0M4.2 8.8h0M23.7 21.1h0M28.8 32.4h0M34.6 6.9h0M2.7 32.3h0M20.5 6.5h0M24.9 9.2h0M8.5 13.2h0M18.9 24.4h0M2.6 26.7h0M22.5 17.0h0M24.2 28.8h0M0.3 17.1h0M36.3 17.1h0M24.4 25.5h0M23.3 6.5h0M34.5 28.3h0M8.4 15.5h0M34.5 7.5h0M14.7 34.6h0M32.4 8.4h0M26.5 12.9h0M23.9 27.6h0M4.6 8.0h0M7.7 9.6h0M1.3 4.9h0M14.6 15.1h0M2.8 21.0h0M33.9 20.8h0M12.8 25.4h0M15.7 6.3h0M17.3 0.6h0M17.3 36.6h0M24.3 5.8h0M13.3 34.6h0M27.6 30.1h0M23.1 22.8h0M25.4 34.8h0M7.1 27.6h0M10.8 9.2h0M29.6 21.6h0M30.6 31.5h0M21.2 7.1h0M0.5 19.3h0M36.5 19.3h0M26.1 9.8h0M2.5 0.2h0M2.5 36.2h0M6.2 25.1h0M0.1 8.3h0M36.1 8.3h0M9.5 25.6h0M-0.5 0.7h0M-0.5 36.7h0M35.5 0.7h0M35.5 36.7h0M4.1 33.6h0M34.9 5.4h0M12.1 18.8h0M11.5 15.0h0M17.2 9.3h0M2.0 3.0h0M5.8 3.3h0M22.5 25.1h0M9.5 28.5h0M26.2 12.3h0M17.7 6.8h0M33.4 20.2h0M1.8 5.5h0M24.9 13.9h0M25.8 8.3h0M28.7 28.9h0M3.4 21.1h0M6.9 25.5h0M28.9 28.5h0M8.3 3.4h0M23.9 20.3h0M5.0 6.9h0M21.0 3.9h0M22.8 8.7h0M9.3 15.2h0M19.2 26.1h0M1.1 26.1h0M8.0 10.5h0M23.0 24.9h0M22.1 32.5h0M7.4 11.2h0M23.9 9.4h0M5.7 8.1h0M27.8 29.8h0M25.8 34.5h0M28.6 11.1h0M11.4 26.0h0M2.0 21.9h0M3.2 1.8h0M18.5 5.4h0M33.5 31.6h0M16.6 7.1h0M4.3 18.2h0M18.8 13.1h0M25.8 19.1h0M27.9 3.8h0M2.5 13.9h0M17.4 9.1h0M24.1 8.0h0M11.5 17.2h0M25.6 27.7h0M13.4 16.1h0M33.4 33.6h0" stroke="#fff" stroke-width="2.0" stroke-linecap="round"/></pattern><mask id="mks" maskUnits="userSpaceOnUse" x="0" y="0" width="1200" height="1792"><rect width="1200" height="1792" fill="url(#p_mks)"/></mask><pattern id="p_sk0" width="36" height="36" patternUnits="userSpaceOnUse"><path d="M22.3 3.8h0M16.4 22.9h0M10.0 1.3h0M-0.7 32.7h0M35.3 32.7h0M4.6 16.8h0M22.3 10.8h0M2.5 27.0h0M27.7 15.7h0M3.1 14.2h0M3.4 34.7h0M1.8 10.4h0M27.6 4.9h0M3.8 2.5h0M5.9 19.1h0M30.0 6.1h0M6.3 27.5h0M15.3 12.2h0M4.4 8.7h0M-1.0 4.2h0M35.0 4.2h0M9.3 26.7h0M32.1 32.6h0M17.0 34.4h0M21.7 10.4h0M16.7 25.8h0M26.4 4.7h0M7.0 34.5h0M3.9 29.3h0M12.2 8.9h0M9.2 16.9h0M-0.3 5.3h0M35.7 5.3h0M30.8 11.6h0M6.2 26.8h0M12.3 6.8h0M15.1 29.6h0M31.1 20.7h0M0.4 27.5h0M36.4 27.5h0M21.8 32.4h0M34.3 11.8h0M30.5 29.5h0M9.6 13.2h0M13.5 12.7h0M13.6 4.0h0M8.2 32.7h0M14.8 22.9h0M31.9 27.2h0M8.8 33.1h0M29.0 -0.3h0M29.0 35.7h0M26.2 27.2h0M29.3 9.1h0M23.6 13.7h0M30.2 4.8h0M19.4 12.1h0M29.5 12.4h0M30.4 30.5h0M31.6 5.0h0M33.8 26.8h0M24.4 23.5h0M1.7 31.3h0M19.7 16.4h0M12.2 28.2h0M28.2 31.3h0M7.7 12.3h0M9.0 3.6h0M11.8 0.9h0M11.8 36.9h0M28.7 8.2h0M2.5 2.4h0M26.7 7.1h0M16.6 14.5h0M28.9 34.3h0M11.2 22.8h0M32.2 16.9h0M32.4 26.4h0M11.2 31.5h0M20.6 3.8h0M21.1 29.9h0M18.7 17.4h0M15.0 31.7h0M24.0 7.5h0M13.0 13.1h0M34.5 25.1h0M4.5 32.9h0M1.3 21.3h0M15.6 25.8h0M15.5 3.3h0M18.9 29.5h0M28.4 12.8h0M8.0 26.8h0M28.9 7.9h0M31.8 -0.3h0M31.8 35.7h0M15.6 13.7h0M25.6 33.5h0M7.3 10.9h0M11.8 26.4h0M6.7 19.7h0M18.0 24.1h0M5.2 34.4h0M-0.0 20.2h0M36.0 20.2h0M28.6 6.6h0M32.8 19.9h0M27.3 31.3h0M13.0 33.3h0M7.5 0.8h0M7.5 36.8h0M18.1 32.4h0M32.4 34.4h0M18.4 33.6h0M20.2 5.2h0M22.7 28.9h0M15.3 21.7h0M9.3 9.9h0M15.1 18.5h0M16.9 3.3h0M0.2 12.2h0M36.2 12.2h0M25.8 26.9h0M8.5 9.2h0M18.6 6.3h0M21.7 32.5h0M7.3 21.1h0M25.9 27.0h0M25.6 25.6h0M9.8 30.2h0M33.3 1.9h0M34.0 15.9h0M3.1 2.5h0M28.7 24.4h0M5.1 16.6h0M23.0 -0.1h0M23.0 35.9h0M12.1 27.6h0M8.8 7.2h0M5.8 14.8h0M22.3 10.9h0M5.8 7.9h0M3.1 7.0h0M11.4 18.2h0M6.6 17.3h0M15.8 -1.0h0M15.8 35.0h0M17.5 34.0h0M17.0 7.1h0M21.3 5.2h0M6.1 2.6h0M25.2 34.8h0M14.5 12.7h0M15.3 12.7h0M24.9 14.1h0M5.5 31.1h0M20.6 0.2h0M20.6 36.2h0M30.6 26.2h0M12.8 22.7h0M33.1 14.5h0M15.6 10.7h0M20.0 23.9h0M26.5 34.2h0M5.2 13.2h0M30.7 28.5h0M21.2 24.4h0M12.2 34.0h0M19.8 14.5h0M6.6 4.2h0M32.3 28.8h0M1.0 11.6h0M37.0 11.6h0M17.3 17.8h0M13.1 32.2h0M12.6 19.2h0M33.5 23.0h0M17.2 12.0h0M13.9 21.9h0M28.3 9.4h0M13.3 14.0h0M13.1 32.9h0M19.4 9.9h0M12.0 29.6h0M5.8 24.8h0M0.8 7.0h0M36.8 7.0h0M2.1 29.0h0M5.3 8.2h0M2.1 9.5h0M26.4 25.9h0M32.8 34.1h0M19.8 33.2h0M3.2 33.3h0M15.6 6.9h0M26.9 30.9h0M13.9 3.4h0M31.4 27.1h0M21.5 -0.8h0M21.5 35.2h0M1.4 2.0h0M4.5 0.8h0M4.5 36.8h0M25.5 22.7h0M4.0 5.8h0M6.5 21.9h0M24.2 -1.1h0M24.2 34.9h0M13.0 -0.8h0M13.0 35.2h0M15.6 14.1h0M9.1 8.4h0M-0.9 -0.2h0M-0.9 35.8h0M35.1 -0.2h0M35.1 35.8h0M25.4 6.3h0M6.5 5.5h0M12.6 26.5h0M2.1 19.1h0M24.5 1.2h0M15.8 28.5h0" stroke="#fff" stroke-width="2.2" stroke-linecap="round"/></pattern><mask id="sk0" maskUnits="userSpaceOnUse" x="0" y="0" width="1200" height="1792"><rect width="1200" height="1792" fill="url(#p_sk0)"/></mask><pattern id="p_sk1" width="36" height="36" patternUnits="userSpaceOnUse"><path d="M20.7 16.3h0M31.7 21.6h0M12.1 14.3h0M34.0 30.9h0M32.9 20.2h0M5.1 6.3h0M13.8 24.9h0M0.2 28.9h0M36.2 28.9h0M28.3 18.5h0M0.2 28.7h0M36.2 28.7h0M14.9 24.1h0M20.5 26.2h0M14.7 34.6h0M34.4 33.4h0M22.1 11.4h0M13.6 9.7h0M32.5 28.5h0M28.4 29.6h0M-0.3 24.8h0M35.7 24.8h0M11.5 27.3h0M9.4 22.0h0M5.7 30.9h0M17.6 9.9h0M33.2 3.0h0M33.5 27.3h0M5.4 27.4h0M20.6 32.7h0M21.1 15.4h0M33.6 3.1h0M28.0 3.7h0M10.0 4.1h0M31.4 15.9h0M26.1 9.2h0M26.3 23.4h0M3.5 17.8h0M26.0 7.7h0M23.6 10.0h0M13.3 33.1h0M34.0 -0.1h0M34.0 35.9h0M15.4 20.6h0M29.1 27.3h0M16.4 31.1h0M14.4 34.2h0M17.0 4.3h0M27.0 5.2h0M24.5 1.9h0M-0.4 19.5h0M35.6 19.5h0M26.7 4.7h0M22.9 13.6h0M9.0 29.3h0M1.2 17.2h0M3.1 30.7h0M32.2 1.2h0M16.7 16.9h0M25.9 26.2h0M12.4 33.6h0M6.7 4.9h0M29.3 4.3h0M6.7 18.0h0M12.1 5.9h0M33.5 17.1h0M28.3 9.0h0M32.9 8.0h0M32.6 22.1h0M-1.0 27.8h0M35.0 27.8h0M22.7 19.2h0M30.8 16.0h0M3.5 32.9h0M29.0 24.6h0M26.8 8.4h0M16.7 29.6h0M34.6 33.2h0M5.8 24.6h0M19.9 14.6h0M6.0 4.9h0M16.9 17.8h0M9.6 13.2h0M19.9 27.4h0M21.2 5.8h0M31.9 13.2h0M34.6 -0.7h0M34.6 35.3h0M5.1 21.0h0M34.8 13.9h0M19.7 11.3h0M1.0 7.4h0M37.0 7.4h0M4.5 10.2h0M22.7 20.3h0M34.1 24.7h0M13.0 34.2h0M22.8 19.6h0M31.1 24.1h0M13.0 21.8h0M10.8 34.9h0M8.8 -1.0h0M8.8 35.0h0M2.3 0.4h0M2.3 36.4h0M19.9 7.4h0M18.3 4.3h0M30.1 24.1h0M24.6 33.4h0M-0.3 24.4h0M35.7 24.4h0" stroke="#fff" stroke-width="2.2" stroke-linecap="round"/></pattern><mask id="sk1" maskUnits="userSpaceOnUse" x="0" y="0" width="1200" height="1792"><rect width="1200" height="1792" fill="url(#p_sk1)"/></mask><pattern id="p_sk2" width="36" height="36" patternUnits="userSpaceOnUse"><path d="M25.7 0.1h0M25.7 36.1h0M1.8 15.4h0M34.9 11.3h0M20.5 0.3h0M20.5 36.3h0M15.0 32.5h0M21.2 29.7h0M0.5 7.3h0M36.5 7.3h0M6.5 30.0h0M3.7 33.6h0M9.6 31.7h0M18.6 11.6h0M34.8 14.6h0M25.1 2.4h0M29.9 -0.7h0M29.9 35.3h0M4.0 26.9h0M9.7 5.3h0M13.1 23.8h0M34.3 -0.2h0M34.3 35.8h0M-0.2 22.4h0M35.8 22.4h0M23.5 5.8h0M26.1 19.8h0M12.9 32.4h0M9.2 5.1h0M5.7 5.4h0M21.2 28.8h0M5.8 18.1h0M20.7 20.2h0M14.9 19.6h0M0.5 2.1h0M36.5 2.1h0M15.2 8.5h0M27.2 8.7h0M29.7 8.7h0M3.3 17.2h0M14.0 12.1h0M27.5 8.0h0M24.1 30.1h0M16.3 18.1h0M33.3 21.7h0M6.5 2.5h0M3.0 11.9h0M3.2 23.4h0M15.2 11.1h0M18.4 33.7h0M8.8 5.6h0M11.0 11.7h0M32.8 25.4h0M15.4 6.0h0M1.6 4.4h0M30.5 23.3h0M5.6 22.5h0" stroke="#fff" stroke-width="2.2" stroke-linecap="round"/></pattern><mask id="sk2" maskUnits="userSpaceOnUse" x="0" y="0" width="1200" height="1792"><rect width="1200" height="1792" fill="url(#p_sk2)"/></mask><pattern id="p_sk3" width="36" height="36" patternUnits="userSpaceOnUse"><path d="M2.1 18.2h0M12.1 3.7h0M26.7 25.8h0M18.4 6.1h0M24.1 15.6h0M23.8 3.3h0M32.5 0.1h0M32.5 36.1h0M8.0 14.3h0M7.1 3.2h0M24.7 -0.2h0M24.7 35.8h0M12.1 9.6h0M24.1 8.0h0M14.4 24.8h0M15.5 5.6h0M2.5 19.5h0M-0.3 33.1h0M35.7 33.1h0M3.6 18.1h0M17.6 7.0h0M24.1 17.8h0M29.1 10.5h0M33.6 29.3h0M17.0 5.1h0M17.4 4.6h0M24.7 25.1h0M20.8 -0.9h0M20.8 35.1h0M1.6 25.7h0" stroke="#fff" stroke-width="2.2" stroke-linecap="round"/></pattern><mask id="sk3" maskUnits="userSpaceOnUse" x="0" y="0" width="1200" height="1792"><rect width="1200" height="1792" fill="url(#p_sk3)"/></mask><pattern id="p_sk4" width="36" height="36" patternUnits="userSpaceOnUse"><path d="M28.8 4.1h0M11.6 1.9h0M21.0 26.0h0M12.5 25.0h0M13.2 25.6h0M10.0 -0.8h0M10.0 35.2h0M15.8 0.1h0M15.8 36.1h0M3.3 26.1h0M31.1 22.9h0M5.6 31.4h0M25.8 4.1h0M13.7 24.2h0" stroke="#fff" stroke-width="2.2" stroke-linecap="round"/></pattern><mask id="sk4" maskUnits="userSpaceOnUse" x="0" y="0" width="1200" height="1792"><rect width="1200" height="1792" fill="url(#p_sk4)"/></mask><filter id="soft" x="-2%" y="-2%" width="104%" height="104%"><feGaussianBlur stdDeviation="0.42"/></filter><linearGradient id="g1" x1="0" y1="0" x2="0" y2="1"><stop offset="0" stop-color="#8c564b"/><stop offset="0.4" stop-color="#8c564b"/><stop offset="0.6" stop-color="#279e68"/><stop offset="1" stop-color="#279e68"/></linearGradient><linearGradient id="g2" x1="0" y1="0.8" x2="1" y2="0.2"><stop offset="0" stop-color="#32a98a"/><stop offset="0.4" stop-color="#2a7d8e"/><stop offset="0.75" stop-color="#3a4a88"/><stop offset="1" stop-color="#470d60"/></linearGradient><linearGradient id="g3" x1="0" y1="0.3" x2="1" y2="0.6"><stop offset="0" stop-color="#3cbc74"/><stop offset="0.5" stop-color="#5ec962"/><stop offset="1" stop-color="#8ed645"/></linearGradient><linearGradient id="g4" x1="0" y1="0.5" x2="1" y2="0.5"><stop offset="0" stop-color="#414487"/><stop offset="1" stop-color="#46307e"/></linearGradient><linearGradient id="g5" x1="0" y1="0" x2="1" y2="0"><stop offset="0" stop-color="#c2df23"/><stop offset="0.3" stop-color="#86d549"/><stop offset="0.6" stop-color="#35a08a"/><stop offset="1" stop-color="#33638d"/></linearGradient><linearGradient id="g6" x1="0" y1="0.8" x2="1" y2="0.2"><stop offset="0" stop-color="#3b528b"/><stop offset="1" stop-color="#433e85"/></linearGradient><linearGradient id="g7" x1="0" y1="0" x2="1" y2="0"><stop offset="0" stop-color="#3d4e8a"/><stop offset="0.4" stop-color="#3b6f8e"/><stop offset="0.65" stop-color="#7fd34e"/><stop offset="1" stop-color="#b2dd2c"/></linearGradient><linearGradient id="g8" x1="0" y1="0" x2="1" y2="0"><stop offset="0" stop-color="#5ec962"/><stop offset="0.5" stop-color="#a0da39"/><stop offset="1" stop-color="#7ad151"/></linearGradient><linearGradient id="g9" x1="0" y1="0" x2="1" y2="0"><stop offset="0" stop-color="#472a7a"/><stop offset="0.6" stop-color="#433e85"/><stop offset="0.8" stop-color="#2a9d8c"/><stop offset="1" stop-color="#bddf26"/></linearGradient><linearGradient id="g10" x1="0" y1="0" x2="1" y2="0"><stop offset="0" stop-color="#472a7a"/><stop offset="0.7" stop-color="#414487"/><stop offset="1" stop-color="#2f6c8e"/></linearGradient><linearGradient id="g11" x1="0" y1="0.6" x2="1" y2="0.4"><stop offset="0" stop-color="#2c9a8a"/><stop offset="0.3" stop-color="#8fd744"/><stop offset="0.55" stop-color="#35b779"/><stop offset="0.8" stop-color="#2c728e"/><stop offset="1" stop-color="#3b528b"/></linearGradient><linearGradient id="g12" x1="0" y1="0" x2="0.3" y2="1"><stop offset="0" stop-color="#2a7cb8"/><stop offset="0.3" stop-color="#d62728"/><stop offset="1" stop-color="#d62728"/></linearGradient><linearGradient id="g13" x1="0" y1="0" x2="1" y2="0"><stop offset="0" stop-color="#2a7cb8"/><stop offset="0.6" stop-color="#2a7cb8"/><stop offset="0.75" stop-color="#ff7f0e"/><stop offset="1" stop-color="#d62728"/></linearGradient><linearGradient id="g14" x1="0" y1="0" x2="1" y2="0"><stop offset="0" stop-color="#a0da39"/><stop offset="1" stop-color="#6ccd5a"/></linearGradient><radialGradient id="g15" cx="0.55" cy="0.55" r="0.55"><stop offset="0" stop-color="#7ad151"/><stop offset="0.6" stop-color="#2a9d8c"/><stop offset="1" stop-color="#26828e"/></radialGradient><radialGradient id="g16" cx="0.5" cy="0.5" r="0.55"><stop offset="0" stop-color="#5ec962"/><stop offset="0.6" stop-color="#35b779"/><stop offset="1" stop-color="#1f988b"/></radialGradient></defs>
<g filter="url(#soft)"><g mask="url(#mkd)">
<path d="M137.5,171.2C139.4,170.6 146.2,169.5 150,168.8C153.8,168 158.8,165.8 160.5,166.8C162.2,167.7 162.2,173.5 160.5,174.5C158.8,175.5 153.6,173.1 150,172.8C146.4,172.4 140.8,172.8 138.8,172.5C136.7,172.2 135.6,171.9 137.5,171.2Z" fill="#b5bd61" stroke="#b5bd61" stroke-width="1.2" stroke-linejoin="round"/>
<path d="M160,167C162.5,165 171.7,164.1 175,162.5C178.3,160.9 178.3,157.9 180,157.5C181.7,157.1 183.5,158.5 185,160C186.5,161.5 187.5,164.6 188.8,166.2C190,167.9 193.1,169 192.5,170C191.9,171 187.9,171.7 185,172.5C182.1,173.3 179.2,174.7 175,175C170.8,175.3 162.5,175.8 160,174.5C157.5,173.2 157.5,169 160,167Z" fill="#b5bd61" stroke="#b5bd61" stroke-width="1.2" stroke-linejoin="round"/>
<path d="M215,170C216.7,168.5 221.7,167.3 225,166.2C228.3,165.2 231.9,164.4 235,163.8C238.1,163.1 242.1,161.5 243.8,162.5C245.4,163.5 245.2,167.7 245,170C244.8,172.3 244.2,174.8 242.5,176.2C240.8,177.7 237.9,178.1 235,178.8C232.1,179.4 227.9,180 225,180C222.1,180 219.2,179.6 217.5,178.8C215.8,177.9 215.4,176.5 215,175C214.6,173.5 213.3,171.5 215,170Z" fill="#b5bd61" stroke="#b5bd61" stroke-width="1.2" stroke-linejoin="round"/>
<path d="M167.5,197.5C167.1,195.6 168.8,194.2 170,192.5C171.2,190.8 173.3,189.6 175,187.5C176.7,185.4 178.8,182.5 180,180C181.2,177.5 181.2,174.2 182.5,172.5C183.8,170.8 185.4,170 187.5,170C189.6,170 192.5,172.5 195,172.5C197.5,172.5 200.4,171.2 202.5,170C204.6,168.8 205.6,166.5 207.5,165C209.4,163.5 212.5,160.4 213.8,161.2C215,162.1 214,166.9 215,170C216,173.1 217.9,177.1 220,180C222.1,182.9 225.8,185.4 227.5,187.5C229.2,189.6 230.2,190.8 230,192.5C229.8,194.2 228.3,196.2 226.2,197.5C224.2,198.8 220.2,198.8 217.5,200C214.8,201.2 212.9,203.3 210,205C207.1,206.7 203.3,209.2 200,210C196.7,210.8 193.3,210.4 190,210C186.7,209.6 182.9,208.5 180,207.5C177.1,206.5 174.6,205.4 172.5,203.8C170.4,202.1 167.9,199.4 167.5,197.5Z" fill="#ff7f0e" stroke="#ff7f0e" stroke-width="1.2" stroke-linejoin="round"/>
<path d="M64.2,167.4C64.6,165.7 66.1,164.3 67.7,163.3C69.2,162.3 71.6,162.1 73.5,161.5C75.4,161 77.4,160.3 79.3,159.8C81.3,159.3 83.2,158.7 85.2,158.6C87.1,158.6 89.3,159.4 91,159.4C92.8,159.4 94.3,159.2 95.7,158.6C97,158 98,156.6 99.2,155.7C100.3,154.8 101.5,154 102.7,153.4C103.8,152.8 104.8,152.5 106.2,152.2C107.5,151.9 109.3,152 110.8,151.6C112.4,151.2 114.2,149.6 115.5,149.9C116.8,150.2 117.4,152 118.4,153.4C119.4,154.7 120.1,156.9 121.3,158C122.6,159.2 124.7,159.4 126,160.4C127.3,161.3 128.3,162.1 128.9,163.9C129.5,165.6 129.9,168.5 129.7,170.9C129.5,173.2 128.8,175.9 127.8,177.9C126.7,179.8 125.1,181.3 123.7,182.5C122.2,183.8 120.8,184.8 119,185.5C117.3,186.1 115.1,186.4 113.2,186.4C111.2,186.4 109.3,186 107.3,185.5C105.4,184.9 103.6,183.8 101.5,183.1C99.4,182.4 97,181.9 94.5,181.4C92,180.9 89.1,180.6 86.3,180.2C83.6,179.8 80.9,179.6 78.2,179C75.4,178.5 72.1,177.7 70,176.7C67.9,175.7 66.3,174.8 65.3,173.2C64.4,171.7 63.8,169 64.2,167.4Z" fill="#279e68" stroke="#279e68" stroke-width="1.2" stroke-linejoin="round"/>
<path d="M79.9,135.9C79.9,134.7 81,132.9 82.3,131.8C83.5,130.7 85.5,130 87.5,129.5C89.5,128.9 92.2,129 94.5,128.6C96.8,128.3 99.4,127.9 101.5,127.5C103.6,127.1 105.6,126.4 107.3,126.3C109.1,126.2 110.5,126.5 112,127.1C113.5,127.7 115.2,128.8 116.1,130C117,131.3 117.4,133.3 117.3,134.7C117.1,136.1 116.2,137.2 114.9,138.2C113.7,139.2 111.3,140.1 109.7,140.5C108,141 106.6,141 105,141.1C103.4,141.2 101.9,141.3 100.3,141.1C98.8,140.9 97.2,140.3 95.7,140C94.1,139.6 92.6,139.2 91,139.1C89.4,139 87.8,139.4 86.3,139.4C84.9,139.3 83.3,139.4 82.3,138.8C81.2,138.2 79.9,137 79.9,135.9Z" fill="#8c564b" stroke="#8c564b" stroke-width="1.2" stroke-linejoin="round"/>
<path d="M83.4,139.4C84,138.3 86.4,139 86.9,140C87.4,140.9 86.5,143.6 86.6,145.2C86.6,146.9 87.4,148.4 87.3,149.9C87.1,151.3 86.3,153.6 85.8,154C85.2,154.3 84.2,153.5 83.8,152.2C83.4,150.9 83.5,148.5 83.4,146.4C83.4,144.2 82.8,140.4 83.4,139.4Z" fill="#8c564b" stroke="#8c564b" stroke-width="1.2" stroke-linejoin="round"/>
<path d="M107.3,138.2C108.5,137.2 112.6,136.6 114.3,137C116.1,137.4 117.4,139.2 117.8,140.5C118.2,141.9 117.3,143.6 116.7,145.2C116.1,146.8 115.5,148.3 114.3,149.9C113.2,151.4 111.2,153.3 109.7,154.5C108.1,155.8 106.4,157.1 105,157.5C103.6,157.8 102,157.7 101.5,156.9C101,156 101.4,153.8 102.1,152.2C102.8,150.6 104.7,149.1 105.6,147.5C106.5,146 107,144.4 107.3,142.9C107.6,141.3 106.2,139.2 107.3,138.2Z" fill="url(#g1)" stroke="none" stroke-width="1.2" stroke-linejoin="round"/>
<path d="M128.8,122.5C129.4,120.6 132.7,118 135,117.5C137.3,117 140.6,118.5 142.5,119.5C144.4,120.5 145.8,122.2 146.2,123.8C146.7,125.3 146.5,127.7 145,128.8C143.5,129.8 139.8,130 137.5,130C135.2,130 132.7,130 131.2,128.8C129.8,127.5 128.1,124.4 128.8,122.5Z" fill="#8c564b" stroke="#8c564b" stroke-width="1.2" stroke-linejoin="round"/>
<path d="M90.5,92.5C90.8,90 90.9,87.1 92.5,85C94.1,82.9 97.1,81.7 100,80C102.9,78.3 107.1,76.2 110,75C112.9,73.8 114.2,73.1 117.5,72.5C120.8,71.9 124.6,71.5 130,71.2C135.4,71 144.2,70.8 150,71.2C155.8,71.7 161.9,72.3 165,73.8C168.1,75.2 167.9,77.3 168.8,80C169.6,82.7 169.6,86.7 170,90C170.4,93.3 171.7,97.1 171.2,100C170.8,102.9 169.4,105.4 167.5,107.5C165.6,109.6 162.9,111.2 160,112.5C157.1,113.8 153.3,114.2 150,115C146.7,115.8 143.3,116.7 140,117.5C136.7,118.3 132.9,118.8 130,120C127.1,121.2 124.6,123.8 122.5,125C120.4,126.2 119.2,127.9 117.5,127.5C115.8,127.1 114.2,124.6 112.5,122.5C110.8,120.4 109.6,117.1 107.5,115C105.4,112.9 102.3,111.7 100,110C97.7,108.3 95.3,106.7 93.8,105C92.2,103.3 91,102.1 90.5,100C90,97.9 90.2,95 90.5,92.5Z" fill="#1f77b4" stroke="#1f77b4" stroke-width="1.2" stroke-linejoin="round"/>
<path d="M175,87.5C175.8,86.5 177.9,85.9 180,85.5C182.1,85.1 185.8,84.5 187.5,85C189.2,85.5 190.3,87.5 190.5,88.8C190.7,90 190.5,91.8 188.8,92.5C187,93.2 182.3,93.2 180,93C177.7,92.8 175.8,92.2 175,91.2C174.2,90.3 174.2,88.5 175,87.5Z" fill="#ffbb78" stroke="#ffbb78" stroke-width="1.2" stroke-linejoin="round"/>
<path d="M160,115C160.6,113.5 163.1,111.2 165,110C166.9,108.8 169.6,107.3 171.2,107.5C172.9,107.7 174.6,109.6 175,111.2C175.4,112.9 174.6,115.8 173.8,117.5C172.9,119.2 171.5,120.8 170,121.2C168.5,121.7 166.5,120.4 165,120C163.5,119.6 162.1,119.6 161.2,118.8C160.4,117.9 159.4,116.5 160,115Z" fill="#ffbb78" stroke="#ffbb78" stroke-width="1.2" stroke-linejoin="round"/>
<path d="M192.5,57.5C192.7,55.8 193.3,52.7 195,51.2C196.7,49.8 199.8,49 202.5,48.8C205.2,48.5 209.2,48.7 211.2,49.5C213.3,50.3 214.3,51.8 215,53.8C215.7,55.7 215.9,59.3 215.5,61.2C215.1,63.2 214.2,64.8 212.5,65.5C210.8,66.2 207.5,65.8 205,65.5C202.5,65.2 199.4,64.5 197.5,63.8C195.6,63 194.6,62.3 193.8,61.2C192.9,60.2 192.3,59.2 192.5,57.5Z" fill="#aec7e8" stroke="#aec7e8" stroke-width="1.2" stroke-linejoin="round"/>
<path d="M170,138.8C170.2,136.9 171,134 172.5,132.5C174,131 176.7,131 178.8,130C180.8,129 182.9,126.2 185,126.2C187.1,126.2 189.2,129.2 191.2,130C193.3,130.8 195.8,130.2 197.5,131.2C199.2,132.3 200.4,134.2 201.2,136.2C202.1,138.3 202.7,141.5 202.5,143.8C202.3,146 201.7,148.9 200,150C198.3,151.1 195,150.9 192.5,150.5C190,150.1 187.9,148.2 185,147.5C182.1,146.8 177.3,146.9 175,146.2C172.7,145.6 172.1,145 171.2,143.8C170.4,142.5 169.8,140.6 170,138.8Z" fill="#17becf" stroke="#17becf" stroke-width="1.2" stroke-linejoin="round"/>
<path d="M216.2,118.8C216.9,116.9 217.1,114.6 218.8,112.5C220.4,110.4 224,107.5 226.2,106.2C228.5,105 230.8,104.4 232.5,105C234.2,105.6 235,108.8 236.2,110C237.5,111.2 239.8,111.2 240,112.5C240.2,113.8 238.3,116.2 237.5,117.5C236.7,118.8 235.6,118.8 235,120C234.4,121.2 234.2,122.5 233.8,125C233.3,127.5 233.5,132.9 232.5,135C231.5,137.1 229.6,137.3 227.5,137.5C225.4,137.7 222.1,137.5 220,136.2C217.9,135 215.8,132.1 215,130C214.2,127.9 214.8,125.6 215,123.8C215.2,121.9 215.6,120.6 216.2,118.8Z" fill="#e377c2" stroke="#e377c2" stroke-width="1.2" stroke-linejoin="round"/>
<path d="M241.2,110C241.7,107.5 244.4,104.4 246.2,102.5C248.1,100.6 249.8,99.2 252.5,98.8C255.2,98.3 259.6,99.6 262.5,100C265.4,100.4 267.9,100.4 270,101.2C272.1,102.1 272.9,103.5 275,105C277.1,106.5 280,108.5 282.5,110C285,111.5 289,112.1 290,113.8C291,115.4 290,118.1 288.8,120C287.5,121.9 284.4,123.3 282.5,125C280.6,126.7 278.8,128.1 277.5,130C276.2,131.9 276.7,135 275,136.2C273.3,137.5 270,137.7 267.5,137.5C265,137.3 262.1,135.2 260,135C257.9,134.8 256.9,136.7 255,136.2C253.1,135.8 250.2,134.4 248.8,132.5C247.3,130.6 247.1,127.5 246.2,125C245.4,122.5 244.6,120 243.8,117.5C242.9,115 240.8,112.5 241.2,110Z" fill="#aa40fc" stroke="#aa40fc" stroke-width="1.2" stroke-linejoin="round"/>
<path d="M245,87.5C245.6,86 246.7,84.9 248.8,83.8C250.8,82.6 254.8,81.3 257.5,80.5C260.2,79.7 262.1,79.2 265,78.8C267.9,78.3 272.1,77.8 275,78C277.9,78.2 280.4,78.6 282.5,80C284.6,81.4 285.8,84.4 287.5,86.2C289.2,88.1 290.6,89.2 292.5,91.2C294.4,93.3 297.9,96.9 298.8,98.8C299.6,100.6 299.4,101.7 297.5,102.5C295.6,103.3 290.4,103.8 287.5,103.8C284.6,103.8 282.5,103.1 280,102.5C277.5,101.9 275,100.6 272.5,100C270,99.4 267.5,99.2 265,98.8C262.5,98.3 260,97.9 257.5,97.5C255,97.1 252.1,97.1 250,96.2C247.9,95.4 245.8,94 245,92.5C244.2,91 244.4,89 245,87.5Z" fill="#d62728" stroke="#d62728" stroke-width="1.2" stroke-linejoin="round"/>
<path d="M148.2,147C148.2,146.5 150,146.2 150.8,146.2C151.5,146.3 153,147 153,147.5C153,148 151.8,149.1 151,149C150.2,148.9 148.3,147.5 148.2,147Z" fill="#98df8a" stroke="#98df8a" stroke-width="1.2" stroke-linejoin="round"/>
</g></g>
<circle cx="127.50" cy="91.25" r="11.50" fill="#ffffff" fill-opacity="0.45"/>
<text x="127.50" y="97.25" font-size="17" text-anchor="middle" fill="#000">1</text>
<circle cx="200.00" cy="190.00" r="11.50" fill="#ffffff" fill-opacity="0.45"/>
<text x="200.00" y="196.00" font-size="17" text-anchor="middle" fill="#000">2</text>
<circle cx="97.50" cy="170.00" r="11.50" fill="#ffffff" fill-opacity="0.45"/>
<text x="97.50" y="176.00" font-size="17" text-anchor="middle" fill="#000">3</text>
<circle cx="272.50" cy="91.25" r="11.50" fill="#ffffff" fill-opacity="0.45"/>
<text x="272.50" y="97.25" font-size="17" text-anchor="middle" fill="#000">4</text>
<circle cx="261.25" cy="118.75" r="11.50" fill="#ffffff" fill-opacity="0.45"/>
<text x="261.25" y="124.75" font-size="17" text-anchor="middle" fill="#000">5</text>
<text x="91.25" y="141.00" font-size="17" text-anchor="middle" fill="#000">6</text>
<circle cx="225.00" cy="117.50" r="11.50" fill="#ffffff" fill-opacity="0.45"/>
<text x="225.00" y="123.50" font-size="17" text-anchor="middle" fill="#000">7</text>
<circle cx="247.50" cy="171.25" r="11.50" fill="#ffffff" fill-opacity="0.45"/>
<text x="247.50" y="177.25" font-size="17" text-anchor="middle" fill="#000">8</text>
<circle cx="188.75" cy="141.25" r="11.50" fill="#ffffff" fill-opacity="0.45"/>
<text x="188.75" y="147.25" font-size="17" text-anchor="middle" fill="#000">9</text>
<circle cx="225.00" cy="59.25" r="11.50" fill="#ffffff" fill-opacity="0.45"/>
<text x="225.00" y="65.25" font-size="17" text-anchor="middle" fill="#000">10</text>
<text x="183.75" y="111.00" font-size="17" text-anchor="middle" fill="#000">11</text>
<text x="150.00" y="153.50" font-size="17" text-anchor="middle" fill="#000">12</text>
<g filter="url(#soft)"><g mask="url(#mkd)">
<path d="M481.5,169.1C483.4,168.4 490.2,167.3 494,166.6C497.8,165.8 502.8,163.6 504.5,164.6C506.2,165.5 506.2,171.3 504.5,172.3C502.8,173.3 497.6,170.9 494,170.6C490.4,170.2 484.8,170.6 482.8,170.3C480.7,170.1 479.6,169.7 481.5,169.1Z" fill="#5db5e6" stroke="#5db5e6" stroke-width="1.2" stroke-linejoin="round"/>
<path d="M504,164.8C506.5,162.8 515.7,161.9 519,160.3C522.3,158.7 522.3,155.7 524,155.3C525.7,154.9 527.5,156.3 529,157.8C530.5,159.3 531.5,162.4 532.8,164.1C534,165.7 537.1,166.8 536.5,167.8C535.9,168.8 531.9,169.5 529,170.3C526.1,171.1 523.2,172.5 519,172.8C514.8,173.1 506.5,173.6 504,172.3C501.5,171 501.5,166.8 504,164.8Z" fill="#5db5e6" stroke="#5db5e6" stroke-width="1.2" stroke-linejoin="round"/>
<path d="M559,167.8C560.7,166.3 565.7,165.1 569,164.1C572.3,163 575.9,162.2 579,161.6C582.1,160.9 586.1,159.3 587.8,160.3C589.4,161.3 589.2,165.5 589,167.8C588.8,170.1 588.2,172.6 586.5,174.1C584.8,175.5 581.9,175.9 579,176.6C576.1,177.2 571.9,177.8 569,177.8C566.1,177.8 563.2,177.4 561.5,176.6C559.8,175.7 559.4,174.3 559,172.8C558.6,171.3 557.3,169.3 559,167.8Z" fill="#5db5e6" stroke="#5db5e6" stroke-width="1.2" stroke-linejoin="round"/>
<path d="M511.5,195.3C511.1,193.4 512.8,192 514,190.3C515.2,188.6 517.3,187.4 519,185.3C520.7,183.2 522.8,180.3 524,177.8C525.2,175.3 525.2,172 526.5,170.3C527.8,168.6 529.4,167.8 531.5,167.8C533.6,167.8 536.5,170.3 539,170.3C541.5,170.3 544.4,169.1 546.5,167.8C548.6,166.6 549.6,164.3 551.5,162.8C553.4,161.3 556.5,158.2 557.8,159.1C559,159.9 558,164.7 559,167.8C560,170.9 561.9,174.9 564,177.8C566.1,180.7 569.8,183.2 571.5,185.3C573.2,187.4 574.2,188.6 574,190.3C573.8,192 572.3,194.1 570.2,195.3C568.2,196.6 564.2,196.6 561.5,197.8C558.8,199.1 556.9,201.1 554,202.8C551.1,204.5 547.3,207 544,207.8C540.7,208.6 537.3,208.2 534,207.8C530.7,207.4 526.9,206.3 524,205.3C521.1,204.3 518.6,203.2 516.5,201.6C514.4,199.9 511.9,197.2 511.5,195.3Z" fill="#5db5e6" stroke="#5db5e6" stroke-width="1.2" stroke-linejoin="round"/>
<path d="M408.2,165.2C408.6,163.5 410.1,162.1 411.7,161.1C413.2,160.1 415.6,159.9 417.5,159.3C419.4,158.8 421.4,158.1 423.3,157.6C425.3,157.1 427.2,156.5 429.2,156.4C431.1,156.4 433.3,157.2 435,157.2C436.8,157.2 438.3,157 439.7,156.4C441,155.8 442,154.4 443.2,153.5C444.3,152.6 445.5,151.8 446.7,151.2C447.8,150.6 448.8,150.3 450.2,150C451.5,149.7 453.3,149.8 454.8,149.4C456.4,149 458.2,147.4 459.5,147.7C460.8,148 461.4,149.8 462.4,151.2C463.4,152.5 464.1,154.7 465.3,155.8C466.6,157 468.7,157.2 470,158.2C471.3,159.1 472.3,159.9 472.9,161.7C473.5,163.4 473.9,166.3 473.7,168.7C473.5,171 472.8,173.7 471.8,175.7C470.7,177.6 469.1,179.1 467.7,180.3C466.2,181.6 464.8,182.6 463,183.3C461.3,183.9 459.1,184.2 457.2,184.2C455.2,184.2 453.3,183.8 451.3,183.3C449.4,182.7 447.6,181.6 445.5,180.9C443.4,180.2 441,179.7 438.5,179.2C436,178.7 433.1,178.4 430.3,178C427.6,177.6 424.9,177.4 422.2,176.8C419.4,176.3 416.1,175.5 414,174.5C411.9,173.5 410.3,172.6 409.3,171C408.4,169.5 407.8,166.8 408.2,165.2Z" fill="#5db5e6" stroke="#5db5e6" stroke-width="1.2" stroke-linejoin="round"/>
<path d="M423.9,133.7C423.9,132.5 425,130.7 426.3,129.6C427.5,128.5 429.5,127.8 431.5,127.3C433.5,126.7 436.2,126.8 438.5,126.4C440.8,126.1 443.4,125.7 445.5,125.3C447.6,124.9 449.6,124.2 451.3,124.1C453.1,124 454.5,124.3 456,124.9C457.5,125.5 459.2,126.6 460.1,127.8C461,129.1 461.4,131.1 461.3,132.5C461.1,133.9 460.2,135 458.9,136C457.7,137 455.3,137.9 453.7,138.3C452,138.8 450.6,138.8 449,138.9C447.4,139 445.9,139.1 444.3,138.9C442.8,138.7 441.2,138.1 439.7,137.8C438.1,137.4 436.6,137 435,136.9C433.4,136.8 431.8,137.2 430.3,137.2C428.9,137.1 427.3,137.2 426.3,136.6C425.2,136 423.9,134.8 423.9,133.7Z" fill="#5db5e6" stroke="#5db5e6" stroke-width="1.2" stroke-linejoin="round"/>
<path d="M427.4,137.2C428,136.1 430.4,136.8 430.9,137.8C431.4,138.7 430.5,141.4 430.6,143C430.6,144.7 431.4,146.2 431.3,147.7C431.1,149.1 430.3,151.4 429.8,151.8C429.2,152.1 428.2,151.3 427.8,150C427.4,148.7 427.5,146.3 427.4,144.2C427.4,142 426.8,138.2 427.4,137.2Z" fill="#5db5e6" stroke="#5db5e6" stroke-width="1.2" stroke-linejoin="round"/>
<path d="M451.3,136C452.5,135 456.6,134.4 458.3,134.8C460.1,135.2 461.4,137 461.8,138.3C462.2,139.7 461.3,141.4 460.7,143C460.1,144.6 459.5,146.1 458.3,147.7C457.2,149.2 455.2,151.1 453.7,152.3C452.1,153.6 450.4,154.9 449,155.3C447.6,155.6 446,155.5 445.5,154.7C445,153.8 445.4,151.6 446.1,150C446.8,148.4 448.7,146.9 449.6,145.3C450.5,143.8 451,142.2 451.3,140.7C451.6,139.1 450.2,137 451.3,136Z" fill="#5db5e6" stroke="#5db5e6" stroke-width="1.2" stroke-linejoin="round"/>
<path d="M472.8,120.3C473.4,118.4 476.7,115.8 479,115.3C481.3,114.8 484.6,116.3 486.5,117.3C488.4,118.3 489.8,120 490.2,121.5C490.7,123.1 490.5,125.5 489,126.5C487.5,127.6 483.8,127.8 481.5,127.8C479.2,127.8 476.7,127.8 475.2,126.5C473.8,125.3 472.1,122.2 472.8,120.3Z" fill="#5db5e6" stroke="#5db5e6" stroke-width="1.2" stroke-linejoin="round"/>
<path d="M434.5,90.3C434.8,87.8 434.9,84.9 436.5,82.8C438.1,80.7 441.1,79.5 444,77.8C446.9,76.1 451.1,74 454,72.8C456.9,71.5 458.2,70.9 461.5,70.3C464.8,69.7 468.6,69.3 474,69C479.4,68.8 488.2,68.6 494,69C499.8,69.5 505.9,70.1 509,71.5C512.1,73 511.9,75.1 512.8,77.8C513.6,80.5 513.6,84.5 514,87.8C514.4,91.1 515.7,94.9 515.2,97.8C514.8,100.7 513.4,103.2 511.5,105.3C509.6,107.4 506.9,109 504,110.3C501.1,111.5 497.3,112 494,112.8C490.7,113.6 487.3,114.5 484,115.3C480.7,116.1 476.9,116.5 474,117.8C471.1,119 468.6,121.5 466.5,122.8C464.4,124 463.2,125.7 461.5,125.3C459.8,124.9 458.2,122.4 456.5,120.3C454.8,118.2 453.6,114.9 451.5,112.8C449.4,110.7 446.3,109.5 444,107.8C441.7,106.1 439.3,104.5 437.8,102.8C436.2,101.1 435,99.9 434.5,97.8C434,95.7 434.2,92.8 434.5,90.3Z" fill="#5db5e6" stroke="#5db5e6" stroke-width="1.2" stroke-linejoin="round"/>
<path d="M519,85.3C519.8,84.3 521.9,83.7 524,83.3C526.1,82.9 529.8,82.3 531.5,82.8C533.2,83.3 534.3,85.3 534.5,86.5C534.7,87.8 534.5,89.6 532.8,90.3C531,91 526.3,91 524,90.8C521.7,90.6 519.8,90 519,89C518.2,88.1 518.2,86.3 519,85.3Z" fill="#5db5e6" stroke="#5db5e6" stroke-width="1.2" stroke-linejoin="round"/>
<path d="M504,112.8C504.6,111.3 507.1,109 509,107.8C510.9,106.5 513.6,105.1 515.2,105.3C516.9,105.5 518.6,107.4 519,109C519.4,110.7 518.6,113.6 517.8,115.3C516.9,117 515.5,118.6 514,119C512.5,119.5 510.5,118.2 509,117.8C507.5,117.4 506.1,117.4 505.2,116.5C504.4,115.7 503.4,114.3 504,112.8Z" fill="#5db5e6" stroke="#5db5e6" stroke-width="1.2" stroke-linejoin="round"/>
<path d="M536.5,55.3C536.7,53.6 537.3,50.5 539,49C540.7,47.6 543.8,46.8 546.5,46.5C549.2,46.3 553.2,46.5 555.2,47.3C557.3,48.1 558.3,49.6 559,51.5C559.7,53.5 559.9,57.1 559.5,59C559.1,61 558.2,62.6 556.5,63.3C554.8,64 551.5,63.6 549,63.3C546.5,63 543.4,62.3 541.5,61.5C539.6,60.8 538.6,60.1 537.8,59C536.9,58 536.3,57 536.5,55.3Z" fill="#5db5e6" stroke="#5db5e6" stroke-width="1.2" stroke-linejoin="round"/>
<path d="M514,136.6C514.2,134.7 515,131.8 516.5,130.3C518,128.8 520.7,128.8 522.8,127.8C524.8,126.8 526.9,124 529,124C531.1,124 533.2,127 535.2,127.8C537.3,128.6 539.8,128 541.5,129.1C543.2,130.1 544.4,132 545.2,134.1C546.1,136.1 546.7,139.3 546.5,141.6C546.3,143.8 545.7,146.7 544,147.8C542.3,148.9 539,148.7 536.5,148.3C534,147.9 531.9,146 529,145.3C526.1,144.6 521.3,144.7 519,144.1C516.7,143.4 516.1,142.8 515.2,141.6C514.4,140.3 513.8,138.4 514,136.6Z" fill="#5db5e6" stroke="#5db5e6" stroke-width="1.2" stroke-linejoin="round"/>
<path d="M560.2,116.5C560.9,114.7 561.1,112.4 562.8,110.3C564.4,108.2 568,105.3 570.2,104C572.5,102.8 574.8,102.2 576.5,102.8C578.2,103.4 579,106.5 580.2,107.8C581.5,109 583.8,109 584,110.3C584.2,111.5 582.3,114 581.5,115.3C580.7,116.5 579.6,116.5 579,117.8C578.4,119 578.2,120.3 577.8,122.8C577.3,125.3 577.5,130.7 576.5,132.8C575.5,134.9 573.6,135.1 571.5,135.3C569.4,135.5 566.1,135.3 564,134.1C561.9,132.8 559.8,129.9 559,127.8C558.2,125.7 558.8,123.4 559,121.5C559.2,119.7 559.6,118.4 560.2,116.5Z" fill="#5db5e6" stroke="#5db5e6" stroke-width="1.2" stroke-linejoin="round"/>
<path d="M585.2,107.8C585.7,105.3 588.4,102.2 590.2,100.3C592.1,98.4 593.8,97 596.5,96.5C599.2,96.1 603.6,97.4 606.5,97.8C609.4,98.2 611.9,98.2 614,99C616.1,99.9 616.9,101.3 619,102.8C621.1,104.3 624,106.3 626.5,107.8C629,109.3 633,109.9 634,111.5C635,113.2 634,115.9 632.8,117.8C631.5,119.7 628.4,121.1 626.5,122.8C624.6,124.5 622.8,125.9 621.5,127.8C620.2,129.7 620.7,132.8 619,134.1C617.3,135.3 614,135.5 611.5,135.3C609,135.1 606.1,133 604,132.8C601.9,132.6 600.9,134.5 599,134.1C597.1,133.6 594.2,132.2 592.8,130.3C591.3,128.4 591.1,125.3 590.2,122.8C589.4,120.3 588.6,117.8 587.8,115.3C586.9,112.8 584.8,110.3 585.2,107.8Z" fill="#5db5e6" stroke="#5db5e6" stroke-width="1.2" stroke-linejoin="round"/>
<path d="M589,85.3C589.6,83.8 590.7,82.7 592.8,81.5C594.8,80.4 598.8,79.1 601.5,78.3C604.2,77.5 606.1,77 609,76.5C611.9,76.1 616.1,75.6 619,75.8C621.9,76 624.4,76.4 626.5,77.8C628.6,79.2 629.8,82.2 631.5,84C633.2,85.9 634.6,87 636.5,89C638.4,91.1 641.9,94.7 642.8,96.5C643.6,98.4 643.4,99.5 641.5,100.3C639.6,101.1 634.4,101.5 631.5,101.5C628.6,101.5 626.5,100.9 624,100.3C621.5,99.7 619,98.4 616.5,97.8C614,97.2 611.5,97 609,96.5C606.5,96.1 604,95.7 601.5,95.3C599,94.9 596.1,94.9 594,94C591.9,93.2 589.8,91.8 589,90.3C588.2,88.8 588.4,86.8 589,85.3Z" fill="#5db5e6" stroke="#5db5e6" stroke-width="1.2" stroke-linejoin="round"/>
<path d="M492.2,144.8C492.2,144.3 494,144 494.8,144.1C495.5,144.1 497,144.8 497,145.3C497,145.8 495.8,146.9 495,146.8C494.2,146.7 492.3,145.3 492.2,144.8Z" fill="#5db5e6" stroke="#5db5e6" stroke-width="1.2" stroke-linejoin="round"/>
</g></g>
<g filter="url(#soft)"><g mask="url(#sk0)">
<path d="M536.5,55.3C536.7,53.6 537.3,50.5 539,49C540.7,47.6 543.8,46.8 546.5,46.5C549.2,46.3 553.2,46.5 555.2,47.3C557.3,48.1 558.3,49.6 559,51.5C559.7,53.5 559.9,57.1 559.5,59C559.1,61 558.2,62.6 556.5,63.3C554.8,64 551.5,63.6 549,63.3C546.5,63 543.4,62.3 541.5,61.5C539.6,60.8 538.6,60.1 537.8,59C536.9,58 536.3,57 536.5,55.3Z" fill="#d7141c" stroke="#d7141c" stroke-width="1.0" stroke-linejoin="round"/>
</g></g>
<g filter="url(#soft)"><g mask="url(#sk3)">
<path d="M481.5,169.1C483.4,168.4 490.2,167.3 494,166.6C497.8,165.8 502.8,163.6 504.5,164.6C506.2,165.5 506.2,171.3 504.5,172.3C502.8,173.3 497.6,170.9 494,170.6C490.4,170.2 484.8,170.6 482.8,170.3C480.7,170.1 479.6,169.7 481.5,169.1Z" fill="#d7141c" stroke="#d7141c" stroke-width="1.0" stroke-linejoin="round"/>
<path d="M504,164.8C506.5,162.8 515.7,161.9 519,160.3C522.3,158.7 522.3,155.7 524,155.3C525.7,154.9 527.5,156.3 529,157.8C530.5,159.3 531.5,162.4 532.8,164.1C534,165.7 537.1,166.8 536.5,167.8C535.9,168.8 531.9,169.5 529,170.3C526.1,171.1 523.2,172.5 519,172.8C514.8,173.1 506.5,173.6 504,172.3C501.5,171 501.5,166.8 504,164.8Z" fill="#d7141c" stroke="#d7141c" stroke-width="1.0" stroke-linejoin="round"/>
<path d="M559,167.8C560.7,166.3 565.7,165.1 569,164.1C572.3,163 575.9,162.2 579,161.6C582.1,160.9 586.1,159.3 587.8,160.3C589.4,161.3 589.2,165.5 589,167.8C588.8,170.1 588.2,172.6 586.5,174.1C584.8,175.5 581.9,175.9 579,176.6C576.1,177.2 571.9,177.8 569,177.8C566.1,177.8 563.2,177.4 561.5,176.6C559.8,175.7 559.4,174.3 559,172.8C558.6,171.3 557.3,169.3 559,167.8Z" fill="#d7141c" stroke="#d7141c" stroke-width="1.0" stroke-linejoin="round"/>
<path d="M511.5,195.3C511.1,193.4 512.8,192 514,190.3C515.2,188.6 517.3,187.4 519,185.3C520.7,183.2 522.8,180.3 524,177.8C525.2,175.3 525.2,172 526.5,170.3C527.8,168.6 529.4,167.8 531.5,167.8C533.6,167.8 536.5,170.3 539,170.3C541.5,170.3 544.4,169.1 546.5,167.8C548.6,166.6 549.6,164.3 551.5,162.8C553.4,161.3 556.5,158.2 557.8,159.1C559,159.9 558,164.7 559,167.8C560,170.9 561.9,174.9 564,177.8C566.1,180.7 569.8,183.2 571.5,185.3C573.2,187.4 574.2,188.6 574,190.3C573.8,192 572.3,194.1 570.2,195.3C568.2,196.6 564.2,196.6 561.5,197.8C558.8,199.1 556.9,201.1 554,202.8C551.1,204.5 547.3,207 544,207.8C540.7,208.6 537.3,208.2 534,207.8C530.7,207.4 526.9,206.3 524,205.3C521.1,204.3 518.6,203.2 516.5,201.6C514.4,199.9 511.9,197.2 511.5,195.3Z" fill="#d7141c" stroke="#d7141c" stroke-width="1.0" stroke-linejoin="round"/>
<path d="M408.2,165.2C408.6,163.5 410.1,162.1 411.7,161.1C413.2,160.1 415.6,159.9 417.5,159.3C419.4,158.8 421.4,158.1 423.3,157.6C425.3,157.1 427.2,156.5 429.2,156.4C431.1,156.4 433.3,157.2 435,157.2C436.8,157.2 438.3,157 439.7,156.4C441,155.8 442,154.4 443.2,153.5C444.3,152.6 445.5,151.8 446.7,151.2C447.8,150.6 448.8,150.3 450.2,150C451.5,149.7 453.3,149.8 454.8,149.4C456.4,149 458.2,147.4 459.5,147.7C460.8,148 461.4,149.8 462.4,151.2C463.4,152.5 464.1,154.7 465.3,155.8C466.6,157 468.7,157.2 470,158.2C471.3,159.1 472.3,159.9 472.9,161.7C473.5,163.4 473.9,166.3 473.7,168.7C473.5,171 472.8,173.7 471.8,175.7C470.7,177.6 469.1,179.1 467.7,180.3C466.2,181.6 464.8,182.6 463,183.3C461.3,183.9 459.1,184.2 457.2,184.2C455.2,184.2 453.3,183.8 451.3,183.3C449.4,182.7 447.6,181.6 445.5,180.9C443.4,180.2 441,179.7 438.5,179.2C436,178.7 433.1,178.4 430.3,178C427.6,177.6 424.9,177.4 422.2,176.8C419.4,176.3 416.1,175.5 414,174.5C411.9,173.5 410.3,172.6 409.3,171C408.4,169.5 407.8,166.8 408.2,165.2Z" fill="#d7141c" stroke="#d7141c" stroke-width="1.0" stroke-linejoin="round"/>
<path d="M423.9,133.7C423.9,132.5 425,130.7 426.3,129.6C427.5,128.5 429.5,127.8 431.5,127.3C433.5,126.7 436.2,126.8 438.5,126.4C440.8,126.1 443.4,125.7 445.5,125.3C447.6,124.9 449.6,124.2 451.3,124.1C453.1,124 454.5,124.3 456,124.9C457.5,125.5 459.2,126.6 460.1,127.8C461,129.1 461.4,131.1 461.3,132.5C461.1,133.9 460.2,135 458.9,136C457.7,137 455.3,137.9 453.7,138.3C452,138.8 450.6,138.8 449,138.9C447.4,139 445.9,139.1 444.3,138.9C442.8,138.7 441.2,138.1 439.7,137.8C438.1,137.4 436.6,137 435,136.9C433.4,136.8 431.8,137.2 430.3,137.2C428.9,137.1 427.3,137.2 426.3,136.6C425.2,136 423.9,134.8 423.9,133.7Z" fill="#d7141c" stroke="#d7141c" stroke-width="1.0" stroke-linejoin="round"/>
<path d="M427.4,137.2C428,136.1 430.4,136.8 430.9,137.8C431.4,138.7 430.5,141.4 430.6,143C430.6,144.7 431.4,146.2 431.3,147.7C431.1,149.1 430.3,151.4 429.8,151.8C429.2,152.1 428.2,151.3 427.8,150C427.4,148.7 427.5,146.3 427.4,144.2C427.4,142 426.8,138.2 427.4,137.2Z" fill="#d7141c" stroke="#d7141c" stroke-width="1.0" stroke-linejoin="round"/>
<path d="M451.3,136C452.5,135 456.6,134.4 458.3,134.8C460.1,135.2 461.4,137 461.8,138.3C462.2,139.7 461.3,141.4 460.7,143C460.1,144.6 459.5,146.1 458.3,147.7C457.2,149.2 455.2,151.1 453.7,152.3C452.1,153.6 450.4,154.9 449,155.3C447.6,155.6 446,155.5 445.5,154.7C445,153.8 445.4,151.6 446.1,150C446.8,148.4 448.7,146.9 449.6,145.3C450.5,143.8 451,142.2 451.3,140.7C451.6,139.1 450.2,137 451.3,136Z" fill="#d7141c" stroke="#d7141c" stroke-width="1.0" stroke-linejoin="round"/>
<path d="M519,85.3C519.8,84.3 521.9,83.7 524,83.3C526.1,82.9 529.8,82.3 531.5,82.8C533.2,83.3 534.3,85.3 534.5,86.5C534.7,87.8 534.5,89.6 532.8,90.3C531,91 526.3,91 524,90.8C521.7,90.6 519.8,90 519,89C518.2,88.1 518.2,86.3 519,85.3Z" fill="#d7141c" stroke="#d7141c" stroke-width="1.0" stroke-linejoin="round"/>
<path d="M504,112.8C504.6,111.3 507.1,109 509,107.8C510.9,106.5 513.6,105.1 515.2,105.3C516.9,105.5 518.6,107.4 519,109C519.4,110.7 518.6,113.6 517.8,115.3C516.9,117 515.5,118.6 514,119C512.5,119.5 510.5,118.2 509,117.8C507.5,117.4 506.1,117.4 505.2,116.5C504.4,115.7 503.4,114.3 504,112.8Z" fill="#d7141c" stroke="#d7141c" stroke-width="1.0" stroke-linejoin="round"/>
<path d="M560.2,116.5C560.9,114.7 561.1,112.4 562.8,110.3C564.4,108.2 568,105.3 570.2,104C572.5,102.8 574.8,102.2 576.5,102.8C578.2,103.4 579,106.5 580.2,107.8C581.5,109 583.8,109 584,110.3C584.2,111.5 582.3,114 581.5,115.3C580.7,116.5 579.6,116.5 579,117.8C578.4,119 578.2,120.3 577.8,122.8C577.3,125.3 577.5,130.7 576.5,132.8C575.5,134.9 573.6,135.1 571.5,135.3C569.4,135.5 566.1,135.3 564,134.1C561.9,132.8 559.8,129.9 559,127.8C558.2,125.7 558.8,123.4 559,121.5C559.2,119.7 559.6,118.4 560.2,116.5Z" fill="#d7141c" stroke="#d7141c" stroke-width="1.0" stroke-linejoin="round"/>
<path d="M585.2,107.8C585.7,105.3 588.4,102.2 590.2,100.3C592.1,98.4 593.8,97 596.5,96.5C599.2,96.1 603.6,97.4 606.5,97.8C609.4,98.2 611.9,98.2 614,99C616.1,99.9 616.9,101.3 619,102.8C621.1,104.3 624,106.3 626.5,107.8C629,109.3 633,109.9 634,111.5C635,113.2 634,115.9 632.8,117.8C631.5,119.7 628.4,121.1 626.5,122.8C624.6,124.5 622.8,125.9 621.5,127.8C620.2,129.7 620.7,132.8 619,134.1C617.3,135.3 614,135.5 611.5,135.3C609,135.1 606.1,133 604,132.8C601.9,132.6 600.9,134.5 599,134.1C597.1,133.6 594.2,132.2 592.8,130.3C591.3,128.4 591.1,125.3 590.2,122.8C589.4,120.3 588.6,117.8 587.8,115.3C586.9,112.8 584.8,110.3 585.2,107.8Z" fill="#d7141c" stroke="#d7141c" stroke-width="1.0" stroke-linejoin="round"/>
<path d="M589,85.3C589.6,83.8 590.7,82.7 592.8,81.5C594.8,80.4 598.8,79.1 601.5,78.3C604.2,77.5 606.1,77 609,76.5C611.9,76.1 616.1,75.6 619,75.8C621.9,76 624.4,76.4 626.5,77.8C628.6,79.2 629.8,82.2 631.5,84C633.2,85.9 634.6,87 636.5,89C638.4,91.1 641.9,94.7 642.8,96.5C643.6,98.4 643.4,99.5 641.5,100.3C639.6,101.1 634.4,101.5 631.5,101.5C628.6,101.5 626.5,100.9 624,100.3C621.5,99.7 619,98.4 616.5,97.8C614,97.2 611.5,97 609,96.5C606.5,96.1 604,95.7 601.5,95.3C599,94.9 596.1,94.9 594,94C591.9,93.2 589.8,91.8 589,90.3C588.2,88.8 588.4,86.8 589,85.3Z" fill="#d7141c" stroke="#d7141c" stroke-width="1.0" stroke-linejoin="round"/>
</g></g>
<g filter="url(#soft)"><g mask="url(#sk2)">
<path d="M514,136.6C514.2,134.7 515,131.8 516.5,130.3C518,128.8 520.7,128.8 522.8,127.8C524.8,126.8 526.9,124 529,124C531.1,124 533.2,127 535.2,127.8C537.3,128.6 539.8,128 541.5,129.1C543.2,130.1 544.4,132 545.2,134.1C546.1,136.1 546.7,139.3 546.5,141.6C546.3,143.8 545.7,146.7 544,147.8C542.3,148.9 539,148.7 536.5,148.3C534,147.9 531.9,146 529,145.3C526.1,144.6 521.3,144.7 519,144.1C516.7,143.4 516.1,142.8 515.2,141.6C514.4,140.3 513.8,138.4 514,136.6Z" fill="#d7141c" stroke="#d7141c" stroke-width="1.0" stroke-linejoin="round"/>
</g></g>
<g filter="url(#soft)"><g mask="url(#sk4)">
<path d="M434.5,90.3C434.8,87.8 434.9,84.9 436.5,82.8C438.1,80.7 441.1,79.5 444,77.8C446.9,76.1 451.1,74 454,72.8C456.9,71.5 458.2,70.9 461.5,70.3C464.8,69.7 468.6,69.3 474,69C479.4,68.8 488.2,68.6 494,69C499.8,69.5 505.9,70.1 509,71.5C512.1,73 511.9,75.1 512.8,77.8C513.6,80.5 513.6,84.5 514,87.8C514.4,91.1 515.7,94.9 515.2,97.8C514.8,100.7 513.4,103.2 511.5,105.3C509.6,107.4 506.9,109 504,110.3C501.1,111.5 497.3,112 494,112.8C490.7,113.6 487.3,114.5 484,115.3C480.7,116.1 476.9,116.5 474,117.8C471.1,119 468.6,121.5 466.5,122.8C464.4,124 463.2,125.7 461.5,125.3C459.8,124.9 458.2,122.4 456.5,120.3C454.8,118.2 453.6,114.9 451.5,112.8C449.4,110.7 446.3,109.5 444,107.8C441.7,106.1 439.3,104.5 437.8,102.8C436.2,101.1 435,99.9 434.5,97.8C434,95.7 434.2,92.8 434.5,90.3Z" fill="#d7141c" stroke="#d7141c" stroke-width="1.0" stroke-linejoin="round"/>
</g></g>
<g filter="url(#soft)"><g mask="url(#sk0)">
<path d="M437.2,172.8C438.9,170.9 445,170.5 449,170.3C453,170.1 457.7,170.9 461.5,171.6C465.3,172.2 470.5,172.4 472,174.1C473.5,175.7 472,179.8 470.2,181.6C468.5,183.3 465,184.3 461.5,184.8C458,185.3 452.8,185.3 449,184.8C445.2,184.3 441,183.6 439,181.6C437,179.6 435.6,174.7 437.2,172.8Z" fill="#d7141c" stroke="#d7141c" stroke-width="1.0" stroke-linejoin="round"/>
<path d="M408,164.1C408.2,162 410.9,160.7 412.8,160.3C414.6,159.9 418,159.5 419,161.6C420,163.6 420.2,170.9 419,172.8C417.8,174.7 413.3,174.3 411.5,172.8C409.7,171.3 407.8,166.1 408,164.1Z" fill="#d7141c" stroke="#d7141c" stroke-width="1.0" stroke-linejoin="round"/>
<path d="M424.2,132.8C425.3,131.4 428.2,130.1 431.5,129.1C434.8,128 440.9,127.2 444,126.5C447.1,125.9 449,124.5 450.2,125.3C451.5,126.1 452.5,130.1 451.5,131.6C450.5,133 447.3,133.2 444,134.1C440.7,134.9 434.6,136 431.5,136.6C428.4,137.1 426.5,137.9 425.2,137.3C424,136.7 423.2,134.2 424.2,132.8Z" fill="#d7141c" stroke="#d7141c" stroke-width="1.0" stroke-linejoin="round"/>
<path d="M559.5,117.8C559.9,114.7 561.6,112.8 562.8,111.5C563.9,110.3 566.1,108.4 566.5,110.3C566.9,112.2 565.7,119 565.2,122.8C564.8,126.5 564.8,131.6 564,132.8C563.2,134.1 561,132.8 560.2,130.3C559.5,127.8 559.1,120.9 559.5,117.8Z" fill="#d7141c" stroke="#d7141c" stroke-width="1.0" stroke-linejoin="round"/>
</g></g>
<g filter="url(#soft)"><g mask="url(#sk1)">
<path d="M588.5,84C589.5,80.5 592.2,81.5 594,81.5C595.8,81.5 597.8,81.3 599,84C600.2,86.8 601.5,93 601.5,97.8C601.5,102.6 599.8,107.8 599,112.8C598.2,117.8 597.8,124.9 596.5,127.8C595.2,130.7 592.8,132 591.5,130.3C590.2,128.6 589.6,122.4 589,117.8C588.4,113.2 587.8,108.4 587.8,102.8C587.7,97.2 587.5,87.6 588.5,84Z" fill="#d7141c" stroke="#d7141c" stroke-width="1.0" stroke-linejoin="round"/>
</g></g>
<g filter="url(#soft)"><g mask="url(#mkd)">
<path d="M812.1,171.2C814,170.6 820.8,169.5 824.6,168.8C828.4,168 833.4,165.8 835.1,166.8C836.9,167.7 836.9,173.5 835.1,174.5C833.4,175.5 828.2,173.1 824.6,172.8C821,172.4 815.4,172.8 813.4,172.5C811.3,172.2 810.2,171.9 812.1,171.2Z" fill="#35b779" stroke="#35b779" stroke-width="1.2" stroke-linejoin="round"/>
<path d="M834.6,167C837.1,165 846.3,164.1 849.6,162.5C852.9,160.9 852.9,157.9 854.6,157.5C856.3,157.1 858.1,158.5 859.6,160C861.1,161.5 862.1,164.6 863.4,166.2C864.6,167.9 867.7,169 867.1,170C866.5,171 862.5,171.7 859.6,172.5C856.7,173.3 853.8,174.7 849.6,175C845.4,175.3 837.1,175.8 834.6,174.5C832.1,173.2 832.1,169 834.6,167Z" fill="#46086a" stroke="#46086a" stroke-width="1.2" stroke-linejoin="round"/>
<path d="M889.6,170C891.3,168.5 896.3,167.3 899.6,166.2C902.9,165.2 906.5,164.4 909.6,163.8C912.7,163.1 916.7,161.5 918.4,162.5C920,163.5 919.8,167.7 919.6,170C919.4,172.3 918.8,174.8 917.1,176.2C915.4,177.7 912.5,178.1 909.6,178.8C906.7,179.4 902.5,180 899.6,180C896.7,180 893.8,179.6 892.1,178.8C890.4,177.9 890,176.5 889.6,175C889.2,173.5 887.9,171.5 889.6,170Z" fill="#460b66" stroke="#460b66" stroke-width="1.2" stroke-linejoin="round"/>
<path d="M842.1,197.5C841.7,195.6 843.4,194.2 844.6,192.5C845.9,190.8 847.9,189.6 849.6,187.5C851.3,185.4 853.4,182.5 854.6,180C855.9,177.5 855.9,174.2 857.1,172.5C858.4,170.8 860,170 862.1,170C864.2,170 867.1,172.5 869.6,172.5C872.1,172.5 875,171.2 877.1,170C879.2,168.8 880.2,166.5 882.1,165C884,163.5 887.1,160.4 888.4,161.2C889.6,162.1 888.6,166.9 889.6,170C890.6,173.1 892.5,177.1 894.6,180C896.7,182.9 900.4,185.4 902.1,187.5C903.8,189.6 904.8,190.8 904.6,192.5C904.4,194.2 902.9,196.2 900.9,197.5C898.8,198.8 894.8,198.8 892.1,200C889.4,201.2 887.5,203.3 884.6,205C881.7,206.7 877.9,209.2 874.6,210C871.3,210.8 867.9,210.4 864.6,210C861.3,209.6 857.5,208.5 854.6,207.5C851.7,206.5 849.2,205.4 847.1,203.8C845,202.1 842.5,199.4 842.1,197.5Z" fill="#46086a" stroke="#46086a" stroke-width="1.2" stroke-linejoin="round"/>
<path d="M738.8,167.4C739.2,165.7 740.7,164.3 742.3,163.3C743.8,162.3 746.2,162.1 748.1,161.5C750,161 752,160.3 753.9,159.8C755.9,159.3 757.8,158.7 759.8,158.6C761.7,158.6 763.9,159.4 765.6,159.4C767.4,159.4 768.9,159.2 770.3,158.6C771.6,158 772.6,156.6 773.8,155.7C774.9,154.8 776.1,154 777.3,153.4C778.4,152.8 779.4,152.5 780.8,152.2C782.1,151.9 783.9,152 785.4,151.6C787,151.2 788.8,149.6 790.1,149.9C791.4,150.2 792,152 793,153.4C794,154.7 794.7,156.9 795.9,158C797.2,159.2 799.3,159.4 800.6,160.4C801.9,161.3 802.9,162.1 803.5,163.9C804.1,165.6 804.5,168.5 804.3,170.9C804.1,173.2 803.4,175.9 802.4,177.9C801.3,179.8 799.7,181.3 798.3,182.5C796.8,183.8 795.4,184.8 793.6,185.5C791.9,186.1 789.7,186.4 787.8,186.4C785.8,186.4 783.9,186 781.9,185.5C780,184.9 778.2,183.8 776.1,183.1C774,182.4 771.6,181.9 769.1,181.4C766.6,180.9 763.7,180.6 760.9,180.2C758.2,179.8 755.5,179.6 752.8,179C750,178.5 746.7,177.7 744.6,176.7C742.5,175.7 740.9,174.8 739.9,173.2C739,171.7 738.4,169 738.8,167.4Z" fill="url(#g3)" stroke="none" stroke-width="1.2" stroke-linejoin="round"/>
<path d="M754.5,135.9C754.5,134.7 755.6,132.9 756.9,131.8C758.1,130.7 760.1,130 762.1,129.5C764.1,128.9 766.8,129 769.1,128.6C771.4,128.3 774,127.9 776.1,127.5C778.2,127.1 780.2,126.4 781.9,126.3C783.7,126.2 785.1,126.5 786.6,127.1C788.1,127.7 789.8,128.8 790.7,130C791.6,131.3 792,133.3 791.9,134.7C791.7,136.1 790.8,137.2 789.5,138.2C788.3,139.2 785.9,140.1 784.3,140.5C782.6,141 781.2,141 779.6,141.1C778,141.2 776.5,141.3 774.9,141.1C773.4,140.9 771.8,140.3 770.3,140C768.7,139.6 767.2,139.2 765.6,139.1C764,139 762.4,139.4 760.9,139.4C759.5,139.3 757.9,139.4 756.9,138.8C755.8,138.2 754.5,137 754.5,135.9Z" fill="#7ad151" stroke="#7ad151" stroke-width="1.2" stroke-linejoin="round"/>
<path d="M758,139.4C758.6,138.3 761,139 761.5,140C762,140.9 761.1,143.6 761.2,145.2C761.2,146.9 762,148.4 761.9,149.9C761.7,151.3 760.9,153.6 760.4,154C759.8,154.3 758.8,153.5 758.4,152.2C758,150.9 758.1,148.5 758,146.4C758,144.2 757.4,140.4 758,139.4Z" fill="#6ccd5a" stroke="#6ccd5a" stroke-width="1.2" stroke-linejoin="round"/>
<path d="M781.9,138.2C783.1,137.2 787.2,136.6 788.9,137C790.7,137.4 792,139.2 792.4,140.5C792.8,141.9 791.9,143.6 791.3,145.2C790.7,146.8 790.1,148.3 788.9,149.9C787.8,151.4 785.8,153.3 784.3,154.5C782.7,155.8 781,157.1 779.6,157.5C778.2,157.8 776.6,157.7 776.1,156.9C775.6,156 776,153.8 776.7,152.2C777.4,150.6 779.3,149.1 780.2,147.5C781.1,146 781.6,144.4 781.9,142.9C782.2,141.3 780.8,139.2 781.9,138.2Z" fill="#a0da39" stroke="#a0da39" stroke-width="1.2" stroke-linejoin="round"/>
<path d="M803.4,122.5C804,120.6 807.3,118 809.6,117.5C811.9,117 815.2,118.5 817.1,119.5C819,120.5 820.4,122.2 820.9,123.8C821.3,125.3 821.1,127.7 819.6,128.8C818.1,129.8 814.4,130 812.1,130C809.8,130 807.3,130 805.9,128.8C804.4,127.5 802.7,124.4 803.4,122.5Z" fill="#2a8a8a" stroke="#2a8a8a" stroke-width="1.2" stroke-linejoin="round"/>
<path d="M765.1,92.5C765.4,90 765.5,87.1 767.1,85C768.7,82.9 771.7,81.7 774.6,80C777.5,78.3 781.7,76.2 784.6,75C787.5,73.8 788.8,73.1 792.1,72.5C795.4,71.9 799.2,71.5 804.6,71.2C810,71 818.8,70.8 824.6,71.2C830.4,71.7 836.5,72.3 839.6,73.8C842.7,75.2 842.5,77.3 843.4,80C844.2,82.7 844.2,86.7 844.6,90C845,93.3 846.3,97.1 845.9,100C845.4,102.9 844,105.4 842.1,107.5C840.2,109.6 837.5,111.2 834.6,112.5C831.7,113.8 827.9,114.2 824.6,115C821.3,115.8 817.9,116.7 814.6,117.5C811.3,118.3 807.5,118.8 804.6,120C801.7,121.2 799.2,123.8 797.1,125C795,126.2 793.8,127.9 792.1,127.5C790.4,127.1 788.8,124.6 787.1,122.5C785.4,120.4 784.2,117.1 782.1,115C780,112.9 776.9,111.7 774.6,110C772.3,108.3 769.9,106.7 768.4,105C766.8,103.3 765.6,102.1 765.1,100C764.6,97.9 764.8,95 765.1,92.5Z" fill="url(#g2)" stroke="none" stroke-width="1.2" stroke-linejoin="round"/>
<path d="M849.6,87.5C850.4,86.5 852.5,85.9 854.6,85.5C856.7,85.1 860.4,84.5 862.1,85C863.9,85.5 864.9,87.5 865.1,88.8C865.3,90 865.1,91.8 863.4,92.5C861.6,93.2 856.9,93.2 854.6,93C852.3,92.8 850.4,92.2 849.6,91.2C848.8,90.3 848.8,88.5 849.6,87.5Z" fill="#2c728e" stroke="#2c728e" stroke-width="1.2" stroke-linejoin="round"/>
<path d="M834.6,115C835.2,113.5 837.7,111.2 839.6,110C841.5,108.8 844.2,107.3 845.9,107.5C847.5,107.7 849.2,109.6 849.6,111.2C850,112.9 849.2,115.8 848.4,117.5C847.5,119.2 846.1,120.8 844.6,121.2C843.1,121.7 841.1,120.4 839.6,120C838.1,119.6 836.7,119.6 835.9,118.8C835,117.9 834,116.5 834.6,115Z" fill="#2c728e" stroke="#2c728e" stroke-width="1.2" stroke-linejoin="round"/>
<path d="M867.1,57.5C867.3,55.8 867.9,52.7 869.6,51.2C871.3,49.8 874.4,49 877.1,48.8C879.8,48.5 883.8,48.7 885.9,49.5C887.9,50.3 888.9,51.8 889.6,53.8C890.3,55.7 890.5,59.3 890.1,61.2C889.7,63.2 888.9,64.8 887.1,65.5C885.4,66.2 882.1,65.8 879.6,65.5C877.1,65.2 874,64.5 872.1,63.8C870.2,63 869.2,62.3 868.4,61.2C867.5,60.2 866.9,59.2 867.1,57.5Z" fill="#460b66" stroke="#460b66" stroke-width="1.2" stroke-linejoin="round"/>
<path d="M844.6,138.8C844.8,136.9 845.6,134 847.1,132.5C848.6,131 851.3,131 853.4,130C855.4,129 857.5,126.2 859.6,126.2C861.7,126.2 863.8,129.2 865.9,130C867.9,130.8 870.4,130.2 872.1,131.2C873.8,132.3 875,134.2 875.9,136.2C876.7,138.3 877.3,141.5 877.1,143.8C876.9,146 876.3,148.9 874.6,150C872.9,151.1 869.6,150.9 867.1,150.5C864.6,150.1 862.5,148.2 859.6,147.5C856.7,146.8 851.9,146.9 849.6,146.2C847.3,145.6 846.7,145 845.9,143.8C845,142.5 844.4,140.6 844.6,138.8Z" fill="#46086a" stroke="#46086a" stroke-width="1.2" stroke-linejoin="round"/>
<path d="M890.9,118.8C891.5,116.9 891.7,114.6 893.4,112.5C895,110.4 898.6,107.5 900.9,106.2C903.1,105 905.4,104.4 907.1,105C908.8,105.6 909.6,108.8 910.9,110C912.1,111.2 914.4,111.2 914.6,112.5C914.8,113.8 912.9,116.2 912.1,117.5C911.3,118.8 910.2,118.8 909.6,120C909,121.2 908.8,122.5 908.4,125C907.9,127.5 908.1,132.9 907.1,135C906.1,137.1 904.2,137.3 902.1,137.5C900,137.7 896.7,137.5 894.6,136.2C892.5,135 890.4,132.1 889.6,130C888.8,127.9 889.4,125.6 889.6,123.8C889.8,121.9 890.2,120.6 890.9,118.8Z" fill="#460b66" stroke="#460b66" stroke-width="1.2" stroke-linejoin="round"/>
<path d="M915.9,110C916.3,107.5 919,104.4 920.9,102.5C922.7,100.6 924.4,99.2 927.1,98.8C929.8,98.3 934.2,99.6 937.1,100C940,100.4 942.5,100.4 944.6,101.2C946.7,102.1 947.5,103.5 949.6,105C951.7,106.5 954.6,108.5 957.1,110C959.6,111.5 963.6,112.1 964.6,113.8C965.6,115.4 964.6,118.1 963.4,120C962.1,121.9 959,123.3 957.1,125C955.2,126.7 953.4,128.1 952.1,130C950.9,131.9 951.3,135 949.6,136.2C947.9,137.5 944.6,137.7 942.1,137.5C939.6,137.3 936.7,135.2 934.6,135C932.5,134.8 931.5,136.7 929.6,136.2C927.7,135.8 924.8,134.4 923.4,132.5C921.9,130.6 921.7,127.5 920.9,125C920,122.5 919.2,120 918.4,117.5C917.5,115 915.4,112.5 915.9,110Z" fill="#460b66" stroke="#460b66" stroke-width="1.2" stroke-linejoin="round"/>
<path d="M919.6,87.5C920.2,86 921.3,84.9 923.4,83.8C925.4,82.6 929.4,81.3 932.1,80.5C934.8,79.7 936.7,79.2 939.6,78.8C942.5,78.3 946.7,77.8 949.6,78C952.5,78.2 955,78.6 957.1,80C959.2,81.4 960.4,84.4 962.1,86.2C963.8,88.1 965.2,89.2 967.1,91.2C969,93.3 972.5,96.9 973.4,98.8C974.2,100.6 974,101.7 972.1,102.5C970.2,103.3 965,103.8 962.1,103.8C959.2,103.8 957.1,103.1 954.6,102.5C952.1,101.9 949.6,100.6 947.1,100C944.6,99.4 942.1,99.2 939.6,98.8C937.1,98.3 934.6,97.9 932.1,97.5C929.6,97.1 926.7,97.1 924.6,96.2C922.5,95.4 920.4,94 919.6,92.5C918.8,91 919,89 919.6,87.5Z" fill="#460b66" stroke="#460b66" stroke-width="1.2" stroke-linejoin="round"/>
<path d="M822.9,147C822.8,146.5 824.6,146.2 825.4,146.2C826.1,146.3 827.6,147 827.6,147.5C827.6,148 826.4,149.1 825.6,149C824.8,148.9 822.9,147.5 822.9,147Z" fill="#46086a" stroke="#46086a" stroke-width="1.2" stroke-linejoin="round"/>
</g></g>
<g filter="url(#soft)"><g mask="url(#sk1)">
<path d="M834.6,167C837.1,165 846.3,164.1 849.6,162.5C852.9,160.9 852.9,157.9 854.6,157.5C856.3,157.1 858.1,158.5 859.6,160C861.1,161.5 862.1,164.6 863.4,166.2C864.6,167.9 867.7,169 867.1,170C866.5,171 862.5,171.7 859.6,172.5C856.7,173.3 853.8,174.7 849.6,175C845.4,175.3 837.1,175.8 834.6,174.5C832.1,173.2 832.1,169 834.6,167Z" fill="#2c728e" stroke="#2c728e" stroke-width="1.0" stroke-linejoin="round"/>
<path d="M889.6,170C891.3,168.5 896.3,167.3 899.6,166.2C902.9,165.2 906.5,164.4 909.6,163.8C912.7,163.1 916.7,161.5 918.4,162.5C920,163.5 919.8,167.7 919.6,170C919.4,172.3 918.8,174.8 917.1,176.2C915.4,177.7 912.5,178.1 909.6,178.8C906.7,179.4 902.5,180 899.6,180C896.7,180 893.8,179.6 892.1,178.8C890.4,177.9 890,176.5 889.6,175C889.2,173.5 887.9,171.5 889.6,170Z" fill="#2c728e" stroke="#2c728e" stroke-width="1.0" stroke-linejoin="round"/>
<path d="M842.1,197.5C841.7,195.6 843.4,194.2 844.6,192.5C845.9,190.8 847.9,189.6 849.6,187.5C851.3,185.4 853.4,182.5 854.6,180C855.9,177.5 855.9,174.2 857.1,172.5C858.4,170.8 860,170 862.1,170C864.2,170 867.1,172.5 869.6,172.5C872.1,172.5 875,171.2 877.1,170C879.2,168.8 880.2,166.5 882.1,165C884,163.5 887.1,160.4 888.4,161.2C889.6,162.1 888.6,166.9 889.6,170C890.6,173.1 892.5,177.1 894.6,180C896.7,182.9 900.4,185.4 902.1,187.5C903.8,189.6 904.8,190.8 904.6,192.5C904.4,194.2 902.9,196.2 900.9,197.5C898.8,198.8 894.8,198.8 892.1,200C889.4,201.2 887.5,203.3 884.6,205C881.7,206.7 877.9,209.2 874.6,210C871.3,210.8 867.9,210.4 864.6,210C861.3,209.6 857.5,208.5 854.6,207.5C851.7,206.5 849.2,205.4 847.1,203.8C845,202.1 842.5,199.4 842.1,197.5Z" fill="#2c728e" stroke="#2c728e" stroke-width="1.0" stroke-linejoin="round"/>
<path d="M867.1,57.5C867.3,55.8 867.9,52.7 869.6,51.2C871.3,49.8 874.4,49 877.1,48.8C879.8,48.5 883.8,48.7 885.9,49.5C887.9,50.3 888.9,51.8 889.6,53.8C890.3,55.7 890.5,59.3 890.1,61.2C889.7,63.2 888.9,64.8 887.1,65.5C885.4,66.2 882.1,65.8 879.6,65.5C877.1,65.2 874,64.5 872.1,63.8C870.2,63 869.2,62.3 868.4,61.2C867.5,60.2 866.9,59.2 867.1,57.5Z" fill="#21918c" stroke="#21918c" stroke-width="1.0" stroke-linejoin="round"/>
<path d="M890.9,118.8C891.5,116.9 891.7,114.6 893.4,112.5C895,110.4 898.6,107.5 900.9,106.2C903.1,105 905.4,104.4 907.1,105C908.8,105.6 909.6,108.8 910.9,110C912.1,111.2 914.4,111.2 914.6,112.5C914.8,113.8 912.9,116.2 912.1,117.5C911.3,118.8 910.2,118.8 909.6,120C909,121.2 908.8,122.5 908.4,125C907.9,127.5 908.1,132.9 907.1,135C906.1,137.1 904.2,137.3 902.1,137.5C900,137.7 896.7,137.5 894.6,136.2C892.5,135 890.4,132.1 889.6,130C888.8,127.9 889.4,125.6 889.6,123.8C889.8,121.9 890.2,120.6 890.9,118.8Z" fill="#21918c" stroke="#21918c" stroke-width="1.0" stroke-linejoin="round"/>
<path d="M915.9,110C916.3,107.5 919,104.4 920.9,102.5C922.7,100.6 924.4,99.2 927.1,98.8C929.8,98.3 934.2,99.6 937.1,100C940,100.4 942.5,100.4 944.6,101.2C946.7,102.1 947.5,103.5 949.6,105C951.7,106.5 954.6,108.5 957.1,110C959.6,111.5 963.6,112.1 964.6,113.8C965.6,115.4 964.6,118.1 963.4,120C962.1,121.9 959,123.3 957.1,125C955.2,126.7 953.4,128.1 952.1,130C950.9,131.9 951.3,135 949.6,136.2C947.9,137.5 944.6,137.7 942.1,137.5C939.6,137.3 936.7,135.2 934.6,135C932.5,134.8 931.5,136.7 929.6,136.2C927.7,135.8 924.8,134.4 923.4,132.5C921.9,130.6 921.7,127.5 920.9,125C920,122.5 919.2,120 918.4,117.5C917.5,115 915.4,112.5 915.9,110Z" fill="#21918c" stroke="#21918c" stroke-width="1.0" stroke-linejoin="round"/>
<path d="M919.6,87.5C920.2,86 921.3,84.9 923.4,83.8C925.4,82.6 929.4,81.3 932.1,80.5C934.8,79.7 936.7,79.2 939.6,78.8C942.5,78.3 946.7,77.8 949.6,78C952.5,78.2 955,78.6 957.1,80C959.2,81.4 960.4,84.4 962.1,86.2C963.8,88.1 965.2,89.2 967.1,91.2C969,93.3 972.5,96.9 973.4,98.8C974.2,100.6 974,101.7 972.1,102.5C970.2,103.3 965,103.8 962.1,103.8C959.2,103.8 957.1,103.1 954.6,102.5C952.1,101.9 949.6,100.6 947.1,100C944.6,99.4 942.1,99.2 939.6,98.8C937.1,98.3 934.6,97.9 932.1,97.5C929.6,97.1 926.7,97.1 924.6,96.2C922.5,95.4 920.4,94 919.6,92.5C918.8,91 919,89 919.6,87.5Z" fill="#21918c" stroke="#21918c" stroke-width="1.0" stroke-linejoin="round"/>
</g></g>
<g filter="url(#soft)"><g mask="url(#sk2)">
<path d="M738.8,167.4C739.2,165.7 740.7,164.3 742.3,163.3C743.8,162.3 746.2,162.1 748.1,161.5C750,161 752,160.3 753.9,159.8C755.9,159.3 757.8,158.7 759.8,158.6C761.7,158.6 763.9,159.4 765.6,159.4C767.4,159.4 768.9,159.2 770.3,158.6C771.6,158 772.6,156.6 773.8,155.7C774.9,154.8 776.1,154 777.3,153.4C778.4,152.8 779.4,152.5 780.8,152.2C782.1,151.9 783.9,152 785.4,151.6C787,151.2 788.8,149.6 790.1,149.9C791.4,150.2 792,152 793,153.4C794,154.7 794.7,156.9 795.9,158C797.2,159.2 799.3,159.4 800.6,160.4C801.9,161.3 802.9,162.1 803.5,163.9C804.1,165.6 804.5,168.5 804.3,170.9C804.1,173.2 803.4,175.9 802.4,177.9C801.3,179.8 799.7,181.3 798.3,182.5C796.8,183.8 795.4,184.8 793.6,185.5C791.9,186.1 789.7,186.4 787.8,186.4C785.8,186.4 783.9,186 781.9,185.5C780,184.9 778.2,183.8 776.1,183.1C774,182.4 771.6,181.9 769.1,181.4C766.6,180.9 763.7,180.6 760.9,180.2C758.2,179.8 755.5,179.6 752.8,179C750,178.5 746.7,177.7 744.6,176.7C742.5,175.7 740.9,174.8 739.9,173.2C739,171.7 738.4,169 738.8,167.4Z" fill="#dde318" stroke="#dde318" stroke-width="1.0" stroke-linejoin="round"/>
<path d="M754.5,135.9C754.5,134.7 755.6,132.9 756.9,131.8C758.1,130.7 760.1,130 762.1,129.5C764.1,128.9 766.8,129 769.1,128.6C771.4,128.3 774,127.9 776.1,127.5C778.2,127.1 780.2,126.4 781.9,126.3C783.7,126.2 785.1,126.5 786.6,127.1C788.1,127.7 789.8,128.8 790.7,130C791.6,131.3 792,133.3 791.9,134.7C791.7,136.1 790.8,137.2 789.5,138.2C788.3,139.2 785.9,140.1 784.3,140.5C782.6,141 781.2,141 779.6,141.1C778,141.2 776.5,141.3 774.9,141.1C773.4,140.9 771.8,140.3 770.3,140C768.7,139.6 767.2,139.2 765.6,139.1C764,139 762.4,139.4 760.9,139.4C759.5,139.3 757.9,139.4 756.9,138.8C755.8,138.2 754.5,137 754.5,135.9Z" fill="#dde318" stroke="#dde318" stroke-width="1.0" stroke-linejoin="round"/>
<path d="M758,139.4C758.6,138.3 761,139 761.5,140C762,140.9 761.1,143.6 761.2,145.2C761.2,146.9 762,148.4 761.9,149.9C761.7,151.3 760.9,153.6 760.4,154C759.8,154.3 758.8,153.5 758.4,152.2C758,150.9 758.1,148.5 758,146.4C758,144.2 757.4,140.4 758,139.4Z" fill="#dde318" stroke="#dde318" stroke-width="1.0" stroke-linejoin="round"/>
<path d="M781.9,138.2C783.1,137.2 787.2,136.6 788.9,137C790.7,137.4 792,139.2 792.4,140.5C792.8,141.9 791.9,143.6 791.3,145.2C790.7,146.8 790.1,148.3 788.9,149.9C787.8,151.4 785.8,153.3 784.3,154.5C782.7,155.8 781,157.1 779.6,157.5C778.2,157.8 776.6,157.7 776.1,156.9C775.6,156 776,153.8 776.7,152.2C777.4,150.6 779.3,149.1 780.2,147.5C781.1,146 781.6,144.4 781.9,142.9C782.2,141.3 780.8,139.2 781.9,138.2Z" fill="#dde318" stroke="#dde318" stroke-width="1.0" stroke-linejoin="round"/>
<path d="M803.4,122.5C804,120.6 807.3,118 809.6,117.5C811.9,117 815.2,118.5 817.1,119.5C819,120.5 820.4,122.2 820.9,123.8C821.3,125.3 821.1,127.7 819.6,128.8C818.1,129.8 814.4,130 812.1,130C809.8,130 807.3,130 805.9,128.8C804.4,127.5 802.7,124.4 803.4,122.5Z" fill="#440154" stroke="#440154" stroke-width="1.0" stroke-linejoin="round"/>
<path d="M765.1,92.5C765.4,90 765.5,87.1 767.1,85C768.7,82.9 771.7,81.7 774.6,80C777.5,78.3 781.7,76.2 784.6,75C787.5,73.8 788.8,73.1 792.1,72.5C795.4,71.9 799.2,71.5 804.6,71.2C810,71 818.8,70.8 824.6,71.2C830.4,71.7 836.5,72.3 839.6,73.8C842.7,75.2 842.5,77.3 843.4,80C844.2,82.7 844.2,86.7 844.6,90C845,93.3 846.3,97.1 845.9,100C845.4,102.9 844,105.4 842.1,107.5C840.2,109.6 837.5,111.2 834.6,112.5C831.7,113.8 827.9,114.2 824.6,115C821.3,115.8 817.9,116.7 814.6,117.5C811.3,118.3 807.5,118.8 804.6,120C801.7,121.2 799.2,123.8 797.1,125C795,126.2 793.8,127.9 792.1,127.5C790.4,127.1 788.8,124.6 787.1,122.5C785.4,120.4 784.2,117.1 782.1,115C780,112.9 776.9,111.7 774.6,110C772.3,108.3 769.9,106.7 768.4,105C766.8,103.3 765.6,102.1 765.1,100C764.6,97.9 764.8,95 765.1,92.5Z" fill="#440154" stroke="#440154" stroke-width="1.0" stroke-linejoin="round"/>
<path d="M844.6,138.8C844.8,136.9 845.6,134 847.1,132.5C848.6,131 851.3,131 853.4,130C855.4,129 857.5,126.2 859.6,126.2C861.7,126.2 863.8,129.2 865.9,130C867.9,130.8 870.4,130.2 872.1,131.2C873.8,132.3 875,134.2 875.9,136.2C876.7,138.3 877.3,141.5 877.1,143.8C876.9,146 876.3,148.9 874.6,150C872.9,151.1 869.6,150.9 867.1,150.5C864.6,150.1 862.5,148.2 859.6,147.5C856.7,146.8 851.9,146.9 849.6,146.2C847.3,145.6 846.7,145 845.9,143.8C845,142.5 844.4,140.6 844.6,138.8Z" fill="#21918c" stroke="#21918c" stroke-width="1.0" stroke-linejoin="round"/>
</g></g>
<g filter="url(#soft)"><g mask="url(#sk3)">
<path d="M842.1,197.5C841.7,195.6 843.4,194.2 844.6,192.5C845.9,190.8 847.9,189.6 849.6,187.5C851.3,185.4 853.4,182.5 854.6,180C855.9,177.5 855.9,174.2 857.1,172.5C858.4,170.8 860,170 862.1,170C864.2,170 867.1,172.5 869.6,172.5C872.1,172.5 875,171.2 877.1,170C879.2,168.8 880.2,166.5 882.1,165C884,163.5 887.1,160.4 888.4,161.2C889.6,162.1 888.6,166.9 889.6,170C890.6,173.1 892.5,177.1 894.6,180C896.7,182.9 900.4,185.4 902.1,187.5C903.8,189.6 904.8,190.8 904.6,192.5C904.4,194.2 902.9,196.2 900.9,197.5C898.8,198.8 894.8,198.8 892.1,200C889.4,201.2 887.5,203.3 884.6,205C881.7,206.7 877.9,209.2 874.6,210C871.3,210.8 867.9,210.4 864.6,210C861.3,209.6 857.5,208.5 854.6,207.5C851.7,206.5 849.2,205.4 847.1,203.8C845,202.1 842.5,199.4 842.1,197.5Z" fill="#5ec962" stroke="#5ec962" stroke-width="1.0" stroke-linejoin="round"/>
<path d="M765.1,92.5C765.4,90 765.5,87.1 767.1,85C768.7,82.9 771.7,81.7 774.6,80C777.5,78.3 781.7,76.2 784.6,75C787.5,73.8 788.8,73.1 792.1,72.5C795.4,71.9 799.2,71.5 804.6,71.2C810,71 818.8,70.8 824.6,71.2C830.4,71.7 836.5,72.3 839.6,73.8C842.7,75.2 842.5,77.3 843.4,80C844.2,82.7 844.2,86.7 844.6,90C845,93.3 846.3,97.1 845.9,100C845.4,102.9 844,105.4 842.1,107.5C840.2,109.6 837.5,111.2 834.6,112.5C831.7,113.8 827.9,114.2 824.6,115C821.3,115.8 817.9,116.7 814.6,117.5C811.3,118.3 807.5,118.8 804.6,120C801.7,121.2 799.2,123.8 797.1,125C795,126.2 793.8,127.9 792.1,127.5C790.4,127.1 788.8,124.6 787.1,122.5C785.4,120.4 784.2,117.1 782.1,115C780,112.9 776.9,111.7 774.6,110C772.3,108.3 769.9,106.7 768.4,105C766.8,103.3 765.6,102.1 765.1,100C764.6,97.9 764.8,95 765.1,92.5Z" fill="#5ec962" stroke="#5ec962" stroke-width="1.0" stroke-linejoin="round"/>
<path d="M867.1,57.5C867.3,55.8 867.9,52.7 869.6,51.2C871.3,49.8 874.4,49 877.1,48.8C879.8,48.5 883.8,48.7 885.9,49.5C887.9,50.3 888.9,51.8 889.6,53.8C890.3,55.7 890.5,59.3 890.1,61.2C889.7,63.2 888.9,64.8 887.1,65.5C885.4,66.2 882.1,65.8 879.6,65.5C877.1,65.2 874,64.5 872.1,63.8C870.2,63 869.2,62.3 868.4,61.2C867.5,60.2 866.9,59.2 867.1,57.5Z" fill="#5ec962" stroke="#5ec962" stroke-width="1.0" stroke-linejoin="round"/>
<path d="M915.9,110C916.3,107.5 919,104.4 920.9,102.5C922.7,100.6 924.4,99.2 927.1,98.8C929.8,98.3 934.2,99.6 937.1,100C940,100.4 942.5,100.4 944.6,101.2C946.7,102.1 947.5,103.5 949.6,105C951.7,106.5 954.6,108.5 957.1,110C959.6,111.5 963.6,112.1 964.6,113.8C965.6,115.4 964.6,118.1 963.4,120C962.1,121.9 959,123.3 957.1,125C955.2,126.7 953.4,128.1 952.1,130C950.9,131.9 951.3,135 949.6,136.2C947.9,137.5 944.6,137.7 942.1,137.5C939.6,137.3 936.7,135.2 934.6,135C932.5,134.8 931.5,136.7 929.6,136.2C927.7,135.8 924.8,134.4 923.4,132.5C921.9,130.6 921.7,127.5 920.9,125C920,122.5 919.2,120 918.4,117.5C917.5,115 915.4,112.5 915.9,110Z" fill="#5ec962" stroke="#5ec962" stroke-width="1.0" stroke-linejoin="round"/>
<path d="M919.6,87.5C920.2,86 921.3,84.9 923.4,83.8C925.4,82.6 929.4,81.3 932.1,80.5C934.8,79.7 936.7,79.2 939.6,78.8C942.5,78.3 946.7,77.8 949.6,78C952.5,78.2 955,78.6 957.1,80C959.2,81.4 960.4,84.4 962.1,86.2C963.8,88.1 965.2,89.2 967.1,91.2C969,93.3 972.5,96.9 973.4,98.8C974.2,100.6 974,101.7 972.1,102.5C970.2,103.3 965,103.8 962.1,103.8C959.2,103.8 957.1,103.1 954.6,102.5C952.1,101.9 949.6,100.6 947.1,100C944.6,99.4 942.1,99.2 939.6,98.8C937.1,98.3 934.6,97.9 932.1,97.5C929.6,97.1 926.7,97.1 924.6,96.2C922.5,95.4 920.4,94 919.6,92.5C918.8,91 919,89 919.6,87.5Z" fill="#5ec962" stroke="#5ec962" stroke-width="1.0" stroke-linejoin="round"/>
</g></g>
<g filter="url(#soft)"><g mask="url(#mkd)">
<path d="M382,422.7C383.9,422 390.8,420.9 394.8,420.1C398.7,419.4 403.7,417.1 405.5,418.1C407.3,419.1 407.3,425 405.5,426C403.7,427 398.5,424.5 394.8,424.2C391,423.9 385.4,424.2 383.2,424C381.1,423.7 380,423.3 382,422.7Z" fill="#33638d" stroke="#33638d" stroke-width="1.2" stroke-linejoin="round"/>
<path d="M405,418.3C407.5,416.3 416.9,415.4 420.3,413.8C423.7,412.1 423.7,409.1 425.4,408.6C427.1,408.2 429.1,409.7 430.6,411.2C432,412.7 433.1,415.9 434.4,417.6C435.7,419.3 438.9,420.3 438.2,421.4C437.6,422.5 433.5,423.1 430.6,424C427.6,424.8 424.6,426.2 420.3,426.5C416.1,426.8 407.5,427.4 405,426C402.4,424.6 402.4,420.4 405,418.3Z" fill="#46307e" stroke="#46307e" stroke-width="1.2" stroke-linejoin="round"/>
<path d="M461.2,421.4C462.9,419.9 468.1,418.6 471.5,417.6C474.9,416.5 478.5,415.7 481.7,415C484.9,414.4 489,412.7 490.7,413.8C492.4,414.8 492.1,419.1 491.9,421.4C491.7,423.7 491.1,426.3 489.4,427.8C487.7,429.3 484.7,429.7 481.7,430.3C478.7,431 474.5,431.6 471.5,431.6C468.5,431.6 465.5,431.2 463.8,430.3C462.1,429.5 461.7,428 461.2,426.5C460.8,425 459.5,422.9 461.2,421.4Z" fill="#46327e" stroke="#46327e" stroke-width="1.2" stroke-linejoin="round"/>
<path d="M412.7,449.5C412.2,447.5 413.9,446.1 415.2,444.4C416.5,442.7 418.6,441.4 420.3,439.2C422,437.1 424.2,434.2 425.4,431.6C426.7,429.1 426.7,425.7 428,424C429.3,422.3 431,421.4 433.1,421.4C435.2,421.4 438.2,424 440.8,424C443.3,424 446.3,422.7 448.5,421.4C450.6,420.1 451.7,417.8 453.6,416.3C455.5,414.8 458.7,411.6 460,412.5C461.2,413.3 460.2,418.2 461.2,421.4C462.3,424.6 464.2,428.6 466.4,431.6C468.5,434.6 472.3,437.1 474,439.2C475.7,441.4 476.8,442.7 476.6,444.4C476.4,446.1 474.9,448.2 472.8,449.5C470.6,450.7 466.6,450.7 463.8,452C461,453.3 459.1,455.4 456.1,457.1C453.1,458.8 449.3,461.4 445.9,462.2C442.5,463.1 439.1,462.6 435.7,462.2C432.3,461.8 428.4,460.7 425.4,459.6C422.5,458.6 419.9,457.5 417.8,455.8C415.6,454.1 413.1,451.4 412.7,449.5Z" fill="#46307e" stroke="#46307e" stroke-width="1.2" stroke-linejoin="round"/>
<path d="M306.9,418.7C307.3,417 308.9,415.5 310.5,414.6C312.1,413.6 314.5,413.4 316.5,412.8C318.5,412.2 320.5,411.5 322.5,411C324.4,410.5 326.4,409.9 328.4,409.8C330.4,409.7 332.6,410.6 334.4,410.6C336.2,410.6 337.8,410.4 339.2,409.8C340.6,409.2 341.6,407.7 342.8,406.8C343.9,405.9 345.1,405 346.3,404.4C347.5,403.8 348.5,403.5 349.9,403.2C351.3,403 353.1,403.1 354.7,402.7C356.3,402.3 358.2,400.6 359.5,400.9C360.8,401.2 361.5,403.1 362.4,404.4C363.4,405.8 364.1,408 365.4,409.2C366.7,410.4 368.9,410.6 370.2,411.6C371.5,412.6 372.6,413.4 373.2,415.1C373.8,416.9 374.2,419.9 374,422.3C373.8,424.7 373,427.4 372,429.4C371,431.4 369.3,432.9 367.8,434.2C366.3,435.5 364.8,436.5 363,437.2C361.3,437.8 359.1,438.1 357.1,438.1C355.1,438.1 353.1,437.7 351.1,437.2C349.1,436.6 347.3,435.5 345.1,434.8C342.9,434.1 340.6,433.5 338,433C335.4,432.5 332.4,432.2 329.6,431.8C326.8,431.4 324.1,431.2 321.3,430.6C318.5,430 315.1,429.2 312.9,428.2C310.7,427.2 309.1,426.3 308.1,424.7C307.1,423.1 306.5,420.4 306.9,418.7Z" fill="url(#g5)" stroke="none" stroke-width="1.2" stroke-linejoin="round"/>
<path d="M323.1,386.6C323.1,385.4 324.2,383.5 325.4,382.4C326.7,381.3 328.7,380.6 330.8,380C332.9,379.5 335.6,379.5 338,379.2C340.4,378.9 342.9,378.4 345.1,378C347.3,377.6 349.3,376.9 351.1,376.8C352.9,376.8 354.4,377 355.9,377.7C357.4,378.3 359.2,379.3 360.1,380.6C361,381.9 361.5,384 361.3,385.4C361.1,386.8 360.2,388 358.9,389C357.6,390 355.2,390.9 353.5,391.3C351.8,391.8 350.3,391.8 348.7,391.9C347.1,392 345.5,392.1 343.9,391.9C342.4,391.7 340.8,391.1 339.2,390.8C337.6,390.4 336,390 334.4,389.9C332.8,389.8 331.1,390.2 329.6,390.2C328.1,390.1 326.5,390.2 325.4,389.6C324.3,389 323.1,387.8 323.1,386.6Z" fill="#46337f" stroke="#46337f" stroke-width="1.2" stroke-linejoin="round"/>
<path d="M326.6,390.2C327.2,389.1 329.7,389.8 330.2,390.8C330.8,391.7 329.8,394.4 329.9,396.1C329.9,397.8 330.7,399.4 330.6,400.9C330.4,402.4 329.6,404.6 329,405C328.4,405.4 327.4,404.5 327,403.2C326.6,402 326.7,399.5 326.6,397.3C326.6,395.1 326,391.2 326.6,390.2Z" fill="#3b528b" stroke="#3b528b" stroke-width="1.2" stroke-linejoin="round"/>
<path d="M351.1,389C352.3,388 356.5,387.4 358.3,387.8C360.1,388.2 361.5,390 361.8,391.3C362.2,392.7 361.3,394.5 360.7,396.1C360.1,397.7 359.5,399.3 358.3,400.9C357.1,402.5 355.1,404.3 353.5,405.6C351.9,406.9 350.1,408.2 348.7,408.6C347.3,409 345.6,408.9 345.1,408C344.6,407.1 345,404.8 345.7,403.2C346.4,401.7 348.4,400.1 349.3,398.5C350.2,396.9 350.8,395.3 351.1,393.7C351.4,392.1 349.9,390 351.1,389Z" fill="#2c728e" stroke="#2c728e" stroke-width="1.2" stroke-linejoin="round"/>
<path d="M373,372.9C373.7,371 377.1,368.4 379.4,367.9C381.7,367.3 385.2,368.8 387.1,369.9C389,371 390.5,372.7 390.9,374.2C391.3,375.8 391.1,378.3 389.6,379.3C388.1,380.4 384.3,380.6 382,380.6C379.6,380.6 377.1,380.6 375.6,379.3C374.1,378 372.4,374.9 373,372.9Z" fill="#2f6c8e" stroke="#2f6c8e" stroke-width="1.2" stroke-linejoin="round"/>
<path d="M333.9,342.4C334.2,339.8 334.3,336.8 335.9,334.7C337.5,332.6 340.6,331.3 343.6,329.6C346.6,327.9 350.8,325.8 353.8,324.5C356.8,323.2 358.1,322.6 361.5,321.9C364.9,321.3 368.7,320.9 374.3,320.7C379.8,320.5 388.8,320.2 394.8,320.7C400.7,321.1 406.9,321.7 410.1,323.2C413.3,324.7 413.1,326.8 413.9,329.6C414.8,332.4 414.8,336.4 415.2,339.8C415.6,343.2 416.9,347 416.5,350C416.1,353 414.6,355.5 412.7,357.6C410.7,359.8 408,361.5 405,362.8C402,364 398.2,364.4 394.8,365.3C391.3,366.2 387.9,367 384.5,367.9C381.1,368.7 377.3,369.1 374.3,370.4C371.3,371.7 368.7,374.2 366.6,375.5C364.5,376.8 363.2,378.5 361.5,378.1C359.8,377.6 358.1,375.1 356.4,372.9C354.7,370.8 353.4,367.4 351.3,365.3C349.1,363.2 345.9,361.9 343.6,360.2C341.3,358.5 338.8,356.8 337.2,355.1C335.6,353.4 334.4,352.1 333.9,350C333.3,347.9 333.5,344.9 333.9,342.4Z" fill="url(#g4)" stroke="none" stroke-width="1.2" stroke-linejoin="round"/>
<path d="M420.3,337.2C421.2,336.3 423.3,335.6 425.4,335.2C427.6,334.8 431.3,334.1 433.1,334.7C434.9,335.3 436,337.2 436.2,338.5C436.4,339.8 436.2,341.6 434.4,342.4C432.6,343.1 427.8,343.1 425.4,342.9C423.1,342.6 421.2,342 420.3,341.1C419.5,340.1 419.5,338.2 420.3,337.2Z" fill="#3e4989" stroke="#3e4989" stroke-width="1.2" stroke-linejoin="round"/>
<path d="M405,365.3C405.6,363.8 408.2,361.5 410.1,360.2C412,358.9 414.8,357.4 416.5,357.6C418.2,357.9 419.9,359.8 420.3,361.5C420.8,363.2 419.9,366.2 419,367.9C418.2,369.6 416.7,371.2 415.2,371.7C413.7,372.1 411.6,370.8 410.1,370.4C408.6,370 407.1,370 406.3,369.1C405.4,368.3 404.3,366.8 405,365.3Z" fill="#3e4989" stroke="#3e4989" stroke-width="1.2" stroke-linejoin="round"/>
<path d="M438.2,306.6C438.4,304.9 439.1,301.8 440.8,300.3C442.5,298.8 445.7,298 448.5,297.7C451.2,297.4 455.3,297.6 457.4,298.5C459.5,299.3 460.5,300.8 461.2,302.8C462,304.8 462.2,308.5 461.8,310.5C461.3,312.5 460.5,314.1 458.7,314.8C456.9,315.5 453.6,315.1 451,314.8C448.5,314.5 445.3,313.7 443.3,313C441.4,312.3 440.4,311.5 439.5,310.5C438.7,309.4 438,308.3 438.2,306.6Z" fill="#46337f" stroke="#46337f" stroke-width="1.2" stroke-linejoin="round"/>
<path d="M415.2,389.5C415.4,387.6 416.3,384.6 417.8,383.1C419.3,381.7 422,381.7 424.2,380.6C426.3,379.5 428.4,376.8 430.6,376.8C432.7,376.8 434.8,379.8 436.9,380.6C439.1,381.5 441.6,380.8 443.3,381.9C445,382.9 446.3,384.9 447.2,387C448,389.1 448.7,392.3 448.5,394.6C448.2,397 447.6,399.9 445.9,401C444.2,402.1 440.8,401.9 438.2,401.5C435.7,401.1 433.5,399.2 430.6,398.4C427.6,397.7 422.7,397.8 420.3,397.2C418,396.5 417.3,395.9 416.5,394.6C415.6,393.4 415,391.4 415.2,389.5Z" fill="#31688e" stroke="#31688e" stroke-width="1.2" stroke-linejoin="round"/>
<path d="M462.5,369.1C463.2,367.2 463.4,364.9 465.1,362.8C466.8,360.6 470.4,357.6 472.8,356.4C475.1,355.1 477.4,354.5 479.1,355.1C480.9,355.7 481.7,358.9 483,360.2C484.3,361.5 486.6,361.5 486.8,362.8C487,364 485.1,366.6 484.3,367.9C483.4,369.1 482.3,369.1 481.7,370.4C481.1,371.7 480.9,372.9 480.4,375.5C480,378.1 480.2,383.6 479.1,385.7C478.1,387.8 476.2,388 474,388.2C471.9,388.5 468.5,388.2 466.4,387C464.2,385.7 462.1,382.7 461.2,380.6C460.4,378.5 461,376.1 461.2,374.2C461.5,372.3 461.9,371 462.5,369.1Z" fill="#46337f" stroke="#46337f" stroke-width="1.2" stroke-linejoin="round"/>
<path d="M488.1,360.2C488.5,357.6 491.3,354.5 493.2,352.6C495.1,350.6 496.8,349.2 499.6,348.7C502.4,348.3 506.9,349.6 509.8,350C512.8,350.4 515.4,350.4 517.5,351.3C519.6,352.1 520.5,353.6 522.6,355.1C524.8,356.6 527.7,358.7 530.3,360.2C532.9,361.7 536.9,362.3 538,364C539,365.7 538,368.5 536.7,370.4C535.4,372.3 532.2,373.8 530.3,375.5C528.4,377.2 526.5,378.7 525.2,380.6C523.9,382.5 524.3,385.7 522.6,387C520.9,388.2 517.5,388.5 515,388.2C512.4,388 509.4,385.9 507.3,385.7C505.1,385.5 504.1,387.4 502.2,387C500.2,386.6 497.3,385.1 495.8,383.1C494.3,381.2 494.1,378.1 493.2,375.5C492.4,372.9 491.5,370.4 490.7,367.9C489.8,365.3 487.7,362.8 488.1,360.2Z" fill="#424086" stroke="#424086" stroke-width="1.2" stroke-linejoin="round"/>
<path d="M491.9,337.2C492.6,335.8 493.6,334.6 495.8,333.4C497.9,332.2 502,331 504.7,330.1C507.5,329.3 509.4,328.8 512.4,328.3C515.4,327.9 519.6,327.3 522.6,327.6C525.6,327.8 528.2,328.2 530.3,329.6C532.4,331 533.7,334.1 535.4,336C537.1,337.9 538.6,338.9 540.5,341.1C542.4,343.2 546.1,346.8 546.9,348.7C547.8,350.6 547.6,351.7 545.6,352.6C543.7,353.4 538.4,353.8 535.4,353.8C532.4,353.8 530.3,353.2 527.7,352.6C525.2,351.9 522.6,350.6 520.1,350C517.5,349.4 515,349.2 512.4,348.7C509.8,348.3 507.3,347.9 504.7,347.4C502.2,347 499.2,347 497,346.2C494.9,345.3 492.8,343.8 491.9,342.4C491.1,340.9 491.3,338.7 491.9,337.2Z" fill="#414487" stroke="#414487" stroke-width="1.2" stroke-linejoin="round"/>
<path d="M393,397.9C392.9,397.5 394.7,397.1 395.5,397.2C396.3,397.3 397.8,398 397.8,398.4C397.9,398.9 396.6,400.1 395.8,400C395,399.9 393,398.4 393,397.9Z" fill="#433d85" stroke="#433d85" stroke-width="1.2" stroke-linejoin="round"/>
</g></g>
<g filter="url(#soft)"><g mask="url(#sk2)">
<path d="M412.7,449.5C412.2,447.5 413.9,446.1 415.2,444.4C416.5,442.7 418.6,441.4 420.3,439.2C422,437.1 424.2,434.2 425.4,431.6C426.7,429.1 426.7,425.7 428,424C429.3,422.3 431,421.4 433.1,421.4C435.2,421.4 438.2,424 440.8,424C443.3,424 446.3,422.7 448.5,421.4C450.6,420.1 451.7,417.8 453.6,416.3C455.5,414.8 458.7,411.6 460,412.5C461.2,413.3 460.2,418.2 461.2,421.4C462.3,424.6 464.2,428.6 466.4,431.6C468.5,434.6 472.3,437.1 474,439.2C475.7,441.4 476.8,442.7 476.6,444.4C476.4,446.1 474.9,448.2 472.8,449.5C470.6,450.7 466.6,450.7 463.8,452C461,453.3 459.1,455.4 456.1,457.1C453.1,458.8 449.3,461.4 445.9,462.2C442.5,463.1 439.1,462.6 435.7,462.2C432.3,461.8 428.4,460.7 425.4,459.6C422.5,458.6 419.9,457.5 417.8,455.8C415.6,454.1 413.1,451.4 412.7,449.5Z" fill="#3b528b" stroke="#3b528b" stroke-width="1.0" stroke-linejoin="round"/>
<path d="M333.9,342.4C334.2,339.8 334.3,336.8 335.9,334.7C337.5,332.6 340.6,331.3 343.6,329.6C346.6,327.9 350.8,325.8 353.8,324.5C356.8,323.2 358.1,322.6 361.5,321.9C364.9,321.3 368.7,320.9 374.3,320.7C379.8,320.5 388.8,320.2 394.8,320.7C400.7,321.1 406.9,321.7 410.1,323.2C413.3,324.7 413.1,326.8 413.9,329.6C414.8,332.4 414.8,336.4 415.2,339.8C415.6,343.2 416.9,347 416.5,350C416.1,353 414.6,355.5 412.7,357.6C410.7,359.8 408,361.5 405,362.8C402,364 398.2,364.4 394.8,365.3C391.3,366.2 387.9,367 384.5,367.9C381.1,368.7 377.3,369.1 374.3,370.4C371.3,371.7 368.7,374.2 366.6,375.5C364.5,376.8 363.2,378.5 361.5,378.1C359.8,377.6 358.1,375.1 356.4,372.9C354.7,370.8 353.4,367.4 351.3,365.3C349.1,363.2 345.9,361.9 343.6,360.2C341.3,358.5 338.8,356.8 337.2,355.1C335.6,353.4 334.4,352.1 333.9,350C333.3,347.9 333.5,344.9 333.9,342.4Z" fill="#2c728e" stroke="#2c728e" stroke-width="1.0" stroke-linejoin="round"/>
<path d="M415.2,389.5C415.4,387.6 416.3,384.6 417.8,383.1C419.3,381.7 422,381.7 424.2,380.6C426.3,379.5 428.4,376.8 430.6,376.8C432.7,376.8 434.8,379.8 436.9,380.6C439.1,381.5 441.6,380.8 443.3,381.9C445,382.9 446.3,384.9 447.2,387C448,389.1 448.7,392.3 448.5,394.6C448.2,397 447.6,399.9 445.9,401C444.2,402.1 440.8,401.9 438.2,401.5C435.7,401.1 433.5,399.2 430.6,398.4C427.6,397.7 422.7,397.8 420.3,397.2C418,396.5 417.3,395.9 416.5,394.6C415.6,393.4 415,391.4 415.2,389.5Z" fill="#440154" stroke="#440154" stroke-width="1.0" stroke-linejoin="round"/>
<path d="M488.1,360.2C488.5,357.6 491.3,354.5 493.2,352.6C495.1,350.6 496.8,349.2 499.6,348.7C502.4,348.3 506.9,349.6 509.8,350C512.8,350.4 515.4,350.4 517.5,351.3C519.6,352.1 520.5,353.6 522.6,355.1C524.8,356.6 527.7,358.7 530.3,360.2C532.9,361.7 536.9,362.3 538,364C539,365.7 538,368.5 536.7,370.4C535.4,372.3 532.2,373.8 530.3,375.5C528.4,377.2 526.5,378.7 525.2,380.6C523.9,382.5 524.3,385.7 522.6,387C520.9,388.2 517.5,388.5 515,388.2C512.4,388 509.4,385.9 507.3,385.7C505.1,385.5 504.1,387.4 502.2,387C500.2,386.6 497.3,385.1 495.8,383.1C494.3,381.2 494.1,378.1 493.2,375.5C492.4,372.9 491.5,370.4 490.7,367.9C489.8,365.3 487.7,362.8 488.1,360.2Z" fill="#2c728e" stroke="#2c728e" stroke-width="1.0" stroke-linejoin="round"/>
<path d="M491.9,337.2C492.6,335.8 493.6,334.6 495.8,333.4C497.9,332.2 502,331 504.7,330.1C507.5,329.3 509.4,328.8 512.4,328.3C515.4,327.9 519.6,327.3 522.6,327.6C525.6,327.8 528.2,328.2 530.3,329.6C532.4,331 533.7,334.1 535.4,336C537.1,337.9 538.6,338.9 540.5,341.1C542.4,343.2 546.1,346.8 546.9,348.7C547.8,350.6 547.6,351.7 545.6,352.6C543.7,353.4 538.4,353.8 535.4,353.8C532.4,353.8 530.3,353.2 527.7,352.6C525.2,351.9 522.6,350.6 520.1,350C517.5,349.4 515,349.2 512.4,348.7C509.8,348.3 507.3,347.9 504.7,347.4C502.2,347 499.2,347 497,346.2C494.9,345.3 492.8,343.8 491.9,342.4C491.1,340.9 491.3,338.7 491.9,337.2Z" fill="#2c728e" stroke="#2c728e" stroke-width="1.0" stroke-linejoin="round"/>
</g></g>
<g filter="url(#soft)"><g mask="url(#sk3)">
<path d="M412.7,449.5C412.2,447.5 413.9,446.1 415.2,444.4C416.5,442.7 418.6,441.4 420.3,439.2C422,437.1 424.2,434.2 425.4,431.6C426.7,429.1 426.7,425.7 428,424C429.3,422.3 431,421.4 433.1,421.4C435.2,421.4 438.2,424 440.8,424C443.3,424 446.3,422.7 448.5,421.4C450.6,420.1 451.7,417.8 453.6,416.3C455.5,414.8 458.7,411.6 460,412.5C461.2,413.3 460.2,418.2 461.2,421.4C462.3,424.6 464.2,428.6 466.4,431.6C468.5,434.6 472.3,437.1 474,439.2C475.7,441.4 476.8,442.7 476.6,444.4C476.4,446.1 474.9,448.2 472.8,449.5C470.6,450.7 466.6,450.7 463.8,452C461,453.3 459.1,455.4 456.1,457.1C453.1,458.8 449.3,461.4 445.9,462.2C442.5,463.1 439.1,462.6 435.7,462.2C432.3,461.8 428.4,460.7 425.4,459.6C422.5,458.6 419.9,457.5 417.8,455.8C415.6,454.1 413.1,451.4 412.7,449.5Z" fill="#440154" stroke="#440154" stroke-width="1.0" stroke-linejoin="round"/>
<path d="M306.9,418.7C307.3,417 308.9,415.5 310.5,414.6C312.1,413.6 314.5,413.4 316.5,412.8C318.5,412.2 320.5,411.5 322.5,411C324.4,410.5 326.4,409.9 328.4,409.8C330.4,409.7 332.6,410.6 334.4,410.6C336.2,410.6 337.8,410.4 339.2,409.8C340.6,409.2 341.6,407.7 342.8,406.8C343.9,405.9 345.1,405 346.3,404.4C347.5,403.8 348.5,403.5 349.9,403.2C351.3,403 353.1,403.1 354.7,402.7C356.3,402.3 358.2,400.6 359.5,400.9C360.8,401.2 361.5,403.1 362.4,404.4C363.4,405.8 364.1,408 365.4,409.2C366.7,410.4 368.9,410.6 370.2,411.6C371.5,412.6 372.6,413.4 373.2,415.1C373.8,416.9 374.2,419.9 374,422.3C373.8,424.7 373,427.4 372,429.4C371,431.4 369.3,432.9 367.8,434.2C366.3,435.5 364.8,436.5 363,437.2C361.3,437.8 359.1,438.1 357.1,438.1C355.1,438.1 353.1,437.7 351.1,437.2C349.1,436.6 347.3,435.5 345.1,434.8C342.9,434.1 340.6,433.5 338,433C335.4,432.5 332.4,432.2 329.6,431.8C326.8,431.4 324.1,431.2 321.3,430.6C318.5,430 315.1,429.2 312.9,428.2C310.7,427.2 309.1,426.3 308.1,424.7C307.1,423.1 306.5,420.4 306.9,418.7Z" fill="#2a788e" stroke="#2a788e" stroke-width="1.0" stroke-linejoin="round"/>
<path d="M333.9,342.4C334.2,339.8 334.3,336.8 335.9,334.7C337.5,332.6 340.6,331.3 343.6,329.6C346.6,327.9 350.8,325.8 353.8,324.5C356.8,323.2 358.1,322.6 361.5,321.9C364.9,321.3 368.7,320.9 374.3,320.7C379.8,320.5 388.8,320.2 394.8,320.7C400.7,321.1 406.9,321.7 410.1,323.2C413.3,324.7 413.1,326.8 413.9,329.6C414.8,332.4 414.8,336.4 415.2,339.8C415.6,343.2 416.9,347 416.5,350C416.1,353 414.6,355.5 412.7,357.6C410.7,359.8 408,361.5 405,362.8C402,364 398.2,364.4 394.8,365.3C391.3,366.2 387.9,367 384.5,367.9C381.1,368.7 377.3,369.1 374.3,370.4C371.3,371.7 368.7,374.2 366.6,375.5C364.5,376.8 363.2,378.5 361.5,378.1C359.8,377.6 358.1,375.1 356.4,372.9C354.7,370.8 353.4,367.4 351.3,365.3C349.1,363.2 345.9,361.9 343.6,360.2C341.3,358.5 338.8,356.8 337.2,355.1C335.6,353.4 334.4,352.1 333.9,350C333.3,347.9 333.5,344.9 333.9,342.4Z" fill="#440154" stroke="#440154" stroke-width="1.0" stroke-linejoin="round"/>
</g></g>
<g filter="url(#soft)"><g mask="url(#mkd)">
<path d="M998,422.7C999.9,422 1006.8,420.9 1010.8,420.1C1014.7,419.4 1019.7,417.1 1021.5,418.1C1023.3,419.1 1023.3,425 1021.5,426C1019.7,427 1014.5,424.5 1010.8,424.2C1007,423.9 1001.4,424.2 999.2,424C997.1,423.7 996,423.3 998,422.7Z" fill="#2a788e" stroke="#2a788e" stroke-width="1.2" stroke-linejoin="round"/>
<path d="M1021,418.3C1023.5,416.3 1032.9,415.4 1036.3,413.8C1039.7,412.1 1039.7,409.1 1041.4,408.6C1043.1,408.2 1045.1,409.7 1046.6,411.2C1048,412.7 1049.1,415.9 1050.4,417.6C1051.7,419.3 1054.9,420.3 1054.2,421.4C1053.6,422.5 1049.5,423.1 1046.6,424C1043.6,424.8 1040.6,426.2 1036.3,426.5C1032.1,426.8 1023.5,427.4 1021,426C1018.4,424.6 1018.4,420.4 1021,418.3Z" fill="#46307e" stroke="#46307e" stroke-width="1.2" stroke-linejoin="round"/>
<path d="M1077.2,421.4C1078.9,419.9 1084.1,418.6 1087.5,417.6C1090.9,416.5 1094.5,415.7 1097.7,415C1100.9,414.4 1105,412.7 1106.7,413.8C1108.4,414.8 1108.1,419.1 1107.9,421.4C1107.7,423.7 1107.1,426.3 1105.4,427.8C1103.7,429.3 1100.7,429.7 1097.7,430.3C1094.7,431 1090.5,431.6 1087.5,431.6C1084.5,431.6 1081.5,431.2 1079.8,430.3C1078.1,429.5 1077.7,428 1077.2,426.5C1076.8,425 1075.5,422.9 1077.2,421.4Z" fill="#46307e" stroke="#46307e" stroke-width="1.2" stroke-linejoin="round"/>
<path d="M1028.7,449.5C1028.2,447.5 1029.9,446.1 1031.2,444.4C1032.5,442.7 1034.6,441.4 1036.3,439.2C1038,437.1 1040.2,434.2 1041.4,431.6C1042.7,429.1 1042.7,425.7 1044,424C1045.3,422.3 1047,421.4 1049.1,421.4C1051.2,421.4 1054.2,424 1056.8,424C1059.3,424 1062.3,422.7 1064.5,421.4C1066.6,420.1 1067.7,417.8 1069.6,416.3C1071.5,414.8 1074.7,411.6 1076,412.5C1077.2,413.3 1076.2,418.2 1077.2,421.4C1078.3,424.6 1080.2,428.6 1082.4,431.6C1084.5,434.6 1088.3,437.1 1090,439.2C1091.7,441.4 1092.8,442.7 1092.6,444.4C1092.4,446.1 1090.9,448.2 1088.8,449.5C1086.6,450.7 1082.6,450.7 1079.8,452C1077,453.3 1075.1,455.4 1072.1,457.1C1069.1,458.8 1065.3,461.4 1061.9,462.2C1058.5,463.1 1055.1,462.6 1051.7,462.2C1048.3,461.8 1044.4,460.7 1041.4,459.6C1038.5,458.6 1035.9,457.5 1033.8,455.8C1031.6,454.1 1029.1,451.4 1028.7,449.5Z" fill="#46307e" stroke="#46307e" stroke-width="1.2" stroke-linejoin="round"/>
<path d="M922.9,418.7C923.3,417 924.9,415.5 926.5,414.6C928.1,413.6 930.5,413.4 932.5,412.8C934.5,412.2 936.5,411.5 938.5,411C940.4,410.5 942.4,409.9 944.4,409.8C946.4,409.7 948.6,410.6 950.4,410.6C952.2,410.6 953.8,410.4 955.2,409.8C956.6,409.2 957.6,407.7 958.8,406.8C959.9,405.9 961.1,405 962.3,404.4C963.5,403.8 964.5,403.5 965.9,403.2C967.3,403 969.1,403.1 970.7,402.7C972.3,402.3 974.2,400.6 975.5,400.9C976.8,401.2 977.5,403.1 978.4,404.4C979.4,405.8 980.1,408 981.4,409.2C982.7,410.4 984.9,410.6 986.2,411.6C987.5,412.6 988.6,413.4 989.2,415.1C989.8,416.9 990.2,419.9 990,422.3C989.8,424.7 989,427.4 988,429.4C987,431.4 985.3,432.9 983.8,434.2C982.3,435.5 980.8,436.5 979,437.2C977.3,437.8 975.1,438.1 973.1,438.1C971.1,438.1 969.1,437.7 967.1,437.2C965.1,436.6 963.3,435.5 961.1,434.8C958.9,434.1 956.6,433.5 954,433C951.4,432.5 948.4,432.2 945.6,431.8C942.8,431.4 940.1,431.2 937.3,430.6C934.5,430 931.1,429.2 928.9,428.2C926.7,427.2 925.1,426.3 924.1,424.7C923.1,423.1 922.5,420.4 922.9,418.7Z" fill="url(#g7)" stroke="none" stroke-width="1.2" stroke-linejoin="round"/>
<path d="M939.1,386.6C939.1,385.4 940.2,383.5 941.4,382.4C942.7,381.3 944.7,380.6 946.8,380C948.9,379.5 951.6,379.5 954,379.2C956.4,378.9 958.9,378.4 961.1,378C963.3,377.6 965.3,376.9 967.1,376.8C968.9,376.8 970.4,377 971.9,377.7C973.4,378.3 975.2,379.3 976.1,380.6C977,381.9 977.5,384 977.3,385.4C977.1,386.8 976.2,388 974.9,389C973.6,390 971.2,390.9 969.5,391.3C967.8,391.8 966.3,391.8 964.7,391.9C963.1,392 961.5,392.1 959.9,391.9C958.4,391.7 956.8,391.1 955.2,390.8C953.6,390.4 952,390 950.4,389.9C948.8,389.8 947.1,390.2 945.6,390.2C944.1,390.1 942.5,390.2 941.4,389.6C940.3,389 939.1,387.8 939.1,386.6Z" fill="#35b779" stroke="#35b779" stroke-width="1.2" stroke-linejoin="round"/>
<path d="M942.6,390.2C943.2,389.1 945.7,389.8 946.2,390.8C946.8,391.7 945.8,394.4 945.9,396.1C945.9,397.8 946.7,399.4 946.6,400.9C946.4,402.4 945.6,404.6 945,405C944.4,405.4 943.4,404.5 943,403.2C942.6,402 942.7,399.5 942.6,397.3C942.6,395.1 942,391.2 942.6,390.2Z" fill="#35b779" stroke="#35b779" stroke-width="1.2" stroke-linejoin="round"/>
<path d="M967.1,389C968.3,388 972.5,387.4 974.3,387.8C976.1,388.2 977.5,390 977.8,391.3C978.2,392.7 977.3,394.5 976.7,396.1C976.1,397.7 975.5,399.3 974.3,400.9C973.1,402.5 971.1,404.3 969.5,405.6C967.9,406.9 966.1,408.2 964.7,408.6C963.3,409 961.6,408.9 961.1,408C960.6,407.1 961,404.8 961.7,403.2C962.4,401.7 964.4,400.1 965.3,398.5C966.2,396.9 966.8,395.3 967.1,393.7C967.4,392.1 965.9,390 967.1,389Z" fill="#33638d" stroke="#33638d" stroke-width="1.2" stroke-linejoin="round"/>
<path d="M989,372.9C989.7,371 993.1,368.4 995.4,367.9C997.7,367.3 1001.2,368.8 1003.1,369.9C1005,371 1006.5,372.7 1006.9,374.2C1007.3,375.8 1007.1,378.3 1005.6,379.3C1004.1,380.4 1000.3,380.6 998,380.6C995.6,380.6 993.1,380.6 991.6,379.3C990.1,378 988.4,374.9 989,372.9Z" fill="#2c728e" stroke="#2c728e" stroke-width="1.2" stroke-linejoin="round"/>
<path d="M949.9,342.4C950.2,339.8 950.3,336.8 951.9,334.7C953.5,332.6 956.6,331.3 959.6,329.6C962.6,327.9 966.8,325.8 969.8,324.5C972.8,323.2 974.1,322.6 977.5,321.9C980.9,321.3 984.7,320.9 990.3,320.7C995.8,320.5 1004.8,320.2 1010.8,320.7C1016.7,321.1 1022.9,321.7 1026.1,323.2C1029.3,324.7 1029.1,326.8 1029.9,329.6C1030.8,332.4 1030.8,336.4 1031.2,339.8C1031.6,343.2 1032.9,347 1032.5,350C1032.1,353 1030.6,355.5 1028.7,357.6C1026.7,359.8 1024,361.5 1021,362.8C1018,364 1014.2,364.4 1010.8,365.3C1007.3,366.2 1003.9,367 1000.5,367.9C997.1,368.7 993.3,369.1 990.3,370.4C987.3,371.7 984.7,374.2 982.6,375.5C980.5,376.8 979.2,378.5 977.5,378.1C975.8,377.6 974.1,375.1 972.4,372.9C970.7,370.8 969.4,367.4 967.3,365.3C965.1,363.2 961.9,361.9 959.6,360.2C957.3,358.5 954.8,356.8 953.2,355.1C951.6,353.4 950.4,352.1 949.9,350C949.3,347.9 949.5,344.9 949.9,342.4Z" fill="url(#g6)" stroke="none" stroke-width="1.2" stroke-linejoin="round"/>
<path d="M1036.3,337.2C1037.2,336.3 1039.3,335.6 1041.4,335.2C1043.6,334.8 1047.3,334.1 1049.1,334.7C1050.9,335.3 1052,337.2 1052.2,338.5C1052.4,339.8 1052.2,341.6 1050.4,342.4C1048.6,343.1 1043.8,343.1 1041.4,342.9C1039.1,342.6 1037.2,342 1036.3,341.1C1035.5,340.1 1035.5,338.2 1036.3,337.2Z" fill="#3b528b" stroke="#3b528b" stroke-width="1.2" stroke-linejoin="round"/>
<path d="M1021,365.3C1021.6,363.8 1024.2,361.5 1026.1,360.2C1028,358.9 1030.8,357.4 1032.5,357.6C1034.2,357.9 1035.9,359.8 1036.3,361.5C1036.8,363.2 1035.9,366.2 1035,367.9C1034.2,369.6 1032.7,371.2 1031.2,371.7C1029.7,372.1 1027.6,370.8 1026.1,370.4C1024.6,370 1023.1,370 1022.3,369.1C1021.4,368.3 1020.3,366.8 1021,365.3Z" fill="#3b528b" stroke="#3b528b" stroke-width="1.2" stroke-linejoin="round"/>
<path d="M1054.2,306.6C1054.4,304.9 1055.1,301.8 1056.8,300.3C1058.5,298.8 1061.7,298 1064.5,297.7C1067.2,297.4 1071.3,297.6 1073.4,298.5C1075.5,299.3 1076.5,300.8 1077.2,302.8C1078,304.8 1078.2,308.5 1077.8,310.5C1077.3,312.5 1076.5,314.1 1074.7,314.8C1072.9,315.5 1069.6,315.1 1067,314.8C1064.5,314.5 1061.3,313.7 1059.3,313C1057.4,312.3 1056.4,311.5 1055.5,310.5C1054.7,309.4 1054,308.3 1054.2,306.6Z" fill="#453781" stroke="#453781" stroke-width="1.2" stroke-linejoin="round"/>
<path d="M1031.2,389.5C1031.4,387.6 1032.3,384.6 1033.8,383.1C1035.3,381.7 1038,381.7 1040.2,380.6C1042.3,379.5 1044.4,376.8 1046.6,376.8C1048.7,376.8 1050.8,379.8 1052.9,380.6C1055.1,381.5 1057.6,380.8 1059.3,381.9C1061,382.9 1062.3,384.9 1063.2,387C1064,389.1 1064.7,392.3 1064.5,394.6C1064.2,397 1063.6,399.9 1061.9,401C1060.2,402.1 1056.8,401.9 1054.2,401.5C1051.7,401.1 1049.5,399.2 1046.6,398.4C1043.6,397.7 1038.7,397.8 1036.3,397.2C1034,396.5 1033.3,395.9 1032.5,394.6C1031.6,393.4 1031,391.4 1031.2,389.5Z" fill="#472d7b" stroke="#472d7b" stroke-width="1.2" stroke-linejoin="round"/>
<path d="M1078.5,369.1C1079.2,367.2 1079.4,364.9 1081.1,362.8C1082.8,360.6 1086.4,357.6 1088.8,356.4C1091.1,355.1 1093.4,354.5 1095.1,355.1C1096.9,355.7 1097.7,358.9 1099,360.2C1100.3,361.5 1102.6,361.5 1102.8,362.8C1103,364 1101.1,366.6 1100.3,367.9C1099.4,369.1 1098.3,369.1 1097.7,370.4C1097.1,371.7 1096.9,372.9 1096.4,375.5C1096,378.1 1096.2,383.6 1095.1,385.7C1094.1,387.8 1092.2,388 1090,388.2C1087.9,388.5 1084.5,388.2 1082.4,387C1080.2,385.7 1078.1,382.7 1077.2,380.6C1076.4,378.5 1077,376.1 1077.2,374.2C1077.5,372.3 1077.9,371 1078.5,369.1Z" fill="#46327e" stroke="#46327e" stroke-width="1.2" stroke-linejoin="round"/>
<path d="M1104.1,360.2C1104.5,357.6 1107.3,354.5 1109.2,352.6C1111.1,350.6 1112.8,349.2 1115.6,348.7C1118.4,348.3 1122.9,349.6 1125.8,350C1128.8,350.4 1131.4,350.4 1133.5,351.3C1135.6,352.1 1136.5,353.6 1138.6,355.1C1140.8,356.6 1143.7,358.7 1146.3,360.2C1148.9,361.7 1152.9,362.3 1154,364C1155,365.7 1154,368.5 1152.7,370.4C1151.4,372.3 1148.2,373.8 1146.3,375.5C1144.4,377.2 1142.5,378.7 1141.2,380.6C1139.9,382.5 1140.3,385.7 1138.6,387C1136.9,388.2 1133.5,388.5 1131,388.2C1128.4,388 1125.4,385.9 1123.3,385.7C1121.1,385.5 1120.1,387.4 1118.2,387C1116.2,386.6 1113.3,385.1 1111.8,383.1C1110.3,381.2 1110.1,378.1 1109.2,375.5C1108.4,372.9 1107.5,370.4 1106.7,367.9C1105.8,365.3 1103.7,362.8 1104.1,360.2Z" fill="#453781" stroke="#453781" stroke-width="1.2" stroke-linejoin="round"/>
<path d="M1107.9,337.2C1108.6,335.8 1109.6,334.6 1111.8,333.4C1113.9,332.2 1118,331 1120.7,330.1C1123.5,329.3 1125.4,328.8 1128.4,328.3C1131.4,327.9 1135.6,327.3 1138.6,327.6C1141.6,327.8 1144.2,328.2 1146.3,329.6C1148.4,331 1149.7,334.1 1151.4,336C1153.1,337.9 1154.6,338.9 1156.5,341.1C1158.4,343.2 1162.1,346.8 1162.9,348.7C1163.8,350.6 1163.6,351.7 1161.6,352.6C1159.7,353.4 1154.4,353.8 1151.4,353.8C1148.4,353.8 1146.3,353.2 1143.7,352.6C1141.2,351.9 1138.6,350.6 1136.1,350C1133.5,349.4 1131,349.2 1128.4,348.7C1125.8,348.3 1123.3,347.9 1120.7,347.4C1118.2,347 1115.2,347 1113,346.2C1110.9,345.3 1108.8,343.8 1107.9,342.4C1107.1,340.9 1107.3,338.7 1107.9,337.2Z" fill="#453781" stroke="#453781" stroke-width="1.2" stroke-linejoin="round"/>
<path d="M1009,397.9C1008.9,397.5 1010.7,397.1 1011.5,397.2C1012.3,397.3 1013.8,398 1013.8,398.4C1013.9,398.9 1012.6,400.1 1011.8,400C1011,399.9 1009,398.4 1009,397.9Z" fill="#433d85" stroke="#433d85" stroke-width="1.2" stroke-linejoin="round"/>
</g></g>
<g filter="url(#soft)"><g mask="url(#sk1)">
<path d="M967.1,389C968.3,388 972.5,387.4 974.3,387.8C976.1,388.2 977.5,390 977.8,391.3C978.2,392.7 977.3,394.5 976.7,396.1C976.1,397.7 975.5,399.3 974.3,400.9C973.1,402.5 971.1,404.3 969.5,405.6C967.9,406.9 966.1,408.2 964.7,408.6C963.3,409 961.6,408.9 961.1,408C960.6,407.1 961,404.8 961.7,403.2C962.4,401.7 964.4,400.1 965.3,398.5C966.2,396.9 966.8,395.3 967.1,393.7C967.4,392.1 965.9,390 967.1,389Z" fill="#a0da39" stroke="#a0da39" stroke-width="1.0" stroke-linejoin="round"/>
</g></g>
<g filter="url(#soft)"><g mask="url(#sk2)">
<path d="M1028.7,449.5C1028.2,447.5 1029.9,446.1 1031.2,444.4C1032.5,442.7 1034.6,441.4 1036.3,439.2C1038,437.1 1040.2,434.2 1041.4,431.6C1042.7,429.1 1042.7,425.7 1044,424C1045.3,422.3 1047,421.4 1049.1,421.4C1051.2,421.4 1054.2,424 1056.8,424C1059.3,424 1062.3,422.7 1064.5,421.4C1066.6,420.1 1067.7,417.8 1069.6,416.3C1071.5,414.8 1074.7,411.6 1076,412.5C1077.2,413.3 1076.2,418.2 1077.2,421.4C1078.3,424.6 1080.2,428.6 1082.4,431.6C1084.5,434.6 1088.3,437.1 1090,439.2C1091.7,441.4 1092.8,442.7 1092.6,444.4C1092.4,446.1 1090.9,448.2 1088.8,449.5C1086.6,450.7 1082.6,450.7 1079.8,452C1077,453.3 1075.1,455.4 1072.1,457.1C1069.1,458.8 1065.3,461.4 1061.9,462.2C1058.5,463.1 1055.1,462.6 1051.7,462.2C1048.3,461.8 1044.4,460.7 1041.4,459.6C1038.5,458.6 1035.9,457.5 1033.8,455.8C1031.6,454.1 1029.1,451.4 1028.7,449.5Z" fill="#3b528b" stroke="#3b528b" stroke-width="1.0" stroke-linejoin="round"/>
<path d="M949.9,342.4C950.2,339.8 950.3,336.8 951.9,334.7C953.5,332.6 956.6,331.3 959.6,329.6C962.6,327.9 966.8,325.8 969.8,324.5C972.8,323.2 974.1,322.6 977.5,321.9C980.9,321.3 984.7,320.9 990.3,320.7C995.8,320.5 1004.8,320.2 1010.8,320.7C1016.7,321.1 1022.9,321.7 1026.1,323.2C1029.3,324.7 1029.1,326.8 1029.9,329.6C1030.8,332.4 1030.8,336.4 1031.2,339.8C1031.6,343.2 1032.9,347 1032.5,350C1032.1,353 1030.6,355.5 1028.7,357.6C1026.7,359.8 1024,361.5 1021,362.8C1018,364 1014.2,364.4 1010.8,365.3C1007.3,366.2 1003.9,367 1000.5,367.9C997.1,368.7 993.3,369.1 990.3,370.4C987.3,371.7 984.7,374.2 982.6,375.5C980.5,376.8 979.2,378.5 977.5,378.1C975.8,377.6 974.1,375.1 972.4,372.9C970.7,370.8 969.4,367.4 967.3,365.3C965.1,363.2 961.9,361.9 959.6,360.2C957.3,358.5 954.8,356.8 953.2,355.1C951.6,353.4 950.4,352.1 949.9,350C949.3,347.9 949.5,344.9 949.9,342.4Z" fill="#2c728e" stroke="#2c728e" stroke-width="1.0" stroke-linejoin="round"/>
<path d="M1107.9,337.2C1108.6,335.8 1109.6,334.6 1111.8,333.4C1113.9,332.2 1118,331 1120.7,330.1C1123.5,329.3 1125.4,328.8 1128.4,328.3C1131.4,327.9 1135.6,327.3 1138.6,327.6C1141.6,327.8 1144.2,328.2 1146.3,329.6C1148.4,331 1149.7,334.1 1151.4,336C1153.1,337.9 1154.6,338.9 1156.5,341.1C1158.4,343.2 1162.1,346.8 1162.9,348.7C1163.8,350.6 1163.6,351.7 1161.6,352.6C1159.7,353.4 1154.4,353.8 1151.4,353.8C1148.4,353.8 1146.3,353.2 1143.7,352.6C1141.2,351.9 1138.6,350.6 1136.1,350C1133.5,349.4 1131,349.2 1128.4,348.7C1125.8,348.3 1123.3,347.9 1120.7,347.4C1118.2,347 1115.2,347 1113,346.2C1110.9,345.3 1108.8,343.8 1107.9,342.4C1107.1,340.9 1107.3,338.7 1107.9,337.2Z" fill="#3b528b" stroke="#3b528b" stroke-width="1.0" stroke-linejoin="round"/>
</g></g>
<g filter="url(#soft)"><g mask="url(#sk3)">
<path d="M1028.7,449.5C1028.2,447.5 1029.9,446.1 1031.2,444.4C1032.5,442.7 1034.6,441.4 1036.3,439.2C1038,437.1 1040.2,434.2 1041.4,431.6C1042.7,429.1 1042.7,425.7 1044,424C1045.3,422.3 1047,421.4 1049.1,421.4C1051.2,421.4 1054.2,424 1056.8,424C1059.3,424 1062.3,422.7 1064.5,421.4C1066.6,420.1 1067.7,417.8 1069.6,416.3C1071.5,414.8 1074.7,411.6 1076,412.5C1077.2,413.3 1076.2,418.2 1077.2,421.4C1078.3,424.6 1080.2,428.6 1082.4,431.6C1084.5,434.6 1088.3,437.1 1090,439.2C1091.7,441.4 1092.8,442.7 1092.6,444.4C1092.4,446.1 1090.9,448.2 1088.8,449.5C1086.6,450.7 1082.6,450.7 1079.8,452C1077,453.3 1075.1,455.4 1072.1,457.1C1069.1,458.8 1065.3,461.4 1061.9,462.2C1058.5,463.1 1055.1,462.6 1051.7,462.2C1048.3,461.8 1044.4,460.7 1041.4,459.6C1038.5,458.6 1035.9,457.5 1033.8,455.8C1031.6,454.1 1029.1,451.4 1028.7,449.5Z" fill="#440154" stroke="#440154" stroke-width="1.0" stroke-linejoin="round"/>
<path d="M922.9,418.7C923.3,417 924.9,415.5 926.5,414.6C928.1,413.6 930.5,413.4 932.5,412.8C934.5,412.2 936.5,411.5 938.5,411C940.4,410.5 942.4,409.9 944.4,409.8C946.4,409.7 948.6,410.6 950.4,410.6C952.2,410.6 953.8,410.4 955.2,409.8C956.6,409.2 957.6,407.7 958.8,406.8C959.9,405.9 961.1,405 962.3,404.4C963.5,403.8 964.5,403.5 965.9,403.2C967.3,403 969.1,403.1 970.7,402.7C972.3,402.3 974.2,400.6 975.5,400.9C976.8,401.2 977.5,403.1 978.4,404.4C979.4,405.8 980.1,408 981.4,409.2C982.7,410.4 984.9,410.6 986.2,411.6C987.5,412.6 988.6,413.4 989.2,415.1C989.8,416.9 990.2,419.9 990,422.3C989.8,424.7 989,427.4 988,429.4C987,431.4 985.3,432.9 983.8,434.2C982.3,435.5 980.8,436.5 979,437.2C977.3,437.8 975.1,438.1 973.1,438.1C971.1,438.1 969.1,437.7 967.1,437.2C965.1,436.6 963.3,435.5 961.1,434.8C958.9,434.1 956.6,433.5 954,433C951.4,432.5 948.4,432.2 945.6,431.8C942.8,431.4 940.1,431.2 937.3,430.6C934.5,430 931.1,429.2 928.9,428.2C926.7,427.2 925.1,426.3 924.1,424.7C923.1,423.1 922.5,420.4 922.9,418.7Z" fill="#fde725" stroke="#fde725" stroke-width="1.0" stroke-linejoin="round"/>
<path d="M949.9,342.4C950.2,339.8 950.3,336.8 951.9,334.7C953.5,332.6 956.6,331.3 959.6,329.6C962.6,327.9 966.8,325.8 969.8,324.5C972.8,323.2 974.1,322.6 977.5,321.9C980.9,321.3 984.7,320.9 990.3,320.7C995.8,320.5 1004.8,320.2 1010.8,320.7C1016.7,321.1 1022.9,321.7 1026.1,323.2C1029.3,324.7 1029.1,326.8 1029.9,329.6C1030.8,332.4 1030.8,336.4 1031.2,339.8C1031.6,343.2 1032.9,347 1032.5,350C1032.1,353 1030.6,355.5 1028.7,357.6C1026.7,359.8 1024,361.5 1021,362.8C1018,364 1014.2,364.4 1010.8,365.3C1007.3,366.2 1003.9,367 1000.5,367.9C997.1,368.7 993.3,369.1 990.3,370.4C987.3,371.7 984.7,374.2 982.6,375.5C980.5,376.8 979.2,378.5 977.5,378.1C975.8,377.6 974.1,375.1 972.4,372.9C970.7,370.8 969.4,367.4 967.3,365.3C965.1,363.2 961.9,361.9 959.6,360.2C957.3,358.5 954.8,356.8 953.2,355.1C951.6,353.4 950.4,352.1 949.9,350C949.3,347.9 949.5,344.9 949.9,342.4Z" fill="#440154" stroke="#440154" stroke-width="1.0" stroke-linejoin="round"/>
<path d="M1104.1,360.2C1104.5,357.6 1107.3,354.5 1109.2,352.6C1111.1,350.6 1112.8,349.2 1115.6,348.7C1118.4,348.3 1122.9,349.6 1125.8,350C1128.8,350.4 1131.4,350.4 1133.5,351.3C1135.6,352.1 1136.5,353.6 1138.6,355.1C1140.8,356.6 1143.7,358.7 1146.3,360.2C1148.9,361.7 1152.9,362.3 1154,364C1155,365.7 1154,368.5 1152.7,370.4C1151.4,372.3 1148.2,373.8 1146.3,375.5C1144.4,377.2 1142.5,378.7 1141.2,380.6C1139.9,382.5 1140.3,385.7 1138.6,387C1136.9,388.2 1133.5,388.5 1131,388.2C1128.4,388 1125.4,385.9 1123.3,385.7C1121.1,385.5 1120.1,387.4 1118.2,387C1116.2,386.6 1113.3,385.1 1111.8,383.1C1110.3,381.2 1110.1,378.1 1109.2,375.5C1108.4,372.9 1107.5,370.4 1106.7,367.9C1105.8,365.3 1103.7,362.8 1104.1,360.2Z" fill="#2c728e" stroke="#2c728e" stroke-width="1.0" stroke-linejoin="round"/>
</g></g>
<g filter="url(#soft)"><g mask="url(#mkm)">
<path d="M78.2,563.8C78.9,563 80.6,561.9 82.6,562.2C84.6,562.6 88.1,564.6 90.2,565.9C92.2,567.3 94.2,568.8 94.9,570.2C95.7,571.7 95.1,573.4 94.5,574.6C93.9,575.8 92.5,577.6 91.2,577.4C90,577.2 88.5,574.7 86.9,573.5C85.3,572.3 82.8,571.3 81.5,570.2C80.2,569.2 79.4,568.1 78.9,567C78.4,565.9 77.6,564.5 78.2,563.8Z" fill="#8c564b" stroke="#8c564b" stroke-width="1.2" stroke-linejoin="round"/>
<path d="M118.3,604.9C118.5,603.1 120.1,600.8 121.6,598.4C123,596.1 124.7,593.2 127,590.8C129.3,588.5 132.1,586 135.7,584.3C139.3,582.7 144.3,582.2 148.7,581.1C153,580 158.1,578.7 161.7,577.8C165.3,576.9 167.8,576.2 170.3,575.7C172.9,575.1 175,574 176.8,574.6C178.6,575.1 180.6,577.1 181.2,578.9C181.7,580.7 181.2,583.4 180.1,585.4C179,587.4 177,589.4 174.7,590.8C172.3,592.3 168.5,593 166,594.1C163.5,595.2 162,595.9 159.5,597.3C157,598.8 153.7,601.1 150.8,602.8C147.9,604.4 145.1,606 142.2,607.1C139.3,608.2 136,608.6 133.5,609.2C131,609.9 129.2,610.8 127,610.8C124.8,610.8 121.9,610.2 120.5,609.2C119.1,608.3 118.2,606.7 118.3,604.9Z" fill="#9467bd" stroke="#9467bd" stroke-width="1.2" stroke-linejoin="round"/>
<path d="M69.6,636.3C69.2,634 71.2,631.3 72.8,628.8C74.5,626.2 76.8,623 79.3,621.2C81.9,619.4 85.1,618.6 88,617.9C90.9,617.3 93.8,617.4 96.7,617.3C99.6,617.1 102.4,616.7 105.3,616.8C108.2,616.9 111.5,617.2 114,617.9C116.5,618.6 118.7,619.4 120.5,621.2C122.3,623 123.9,626.2 124.8,628.8C125.7,631.3 126.3,634 125.9,636.3C125.6,638.7 124.3,640.7 122.7,642.8C121,645 118.5,647.8 116.2,649.3C113.8,650.9 111.3,651.8 108.6,651.9C105.9,652.1 103,650.6 99.9,650.4C96.8,650.3 93.2,651.2 90.2,651.1C87.1,650.9 84,650.7 81.5,649.3C79,648 77,645 75,642.8C73,640.7 69.9,638.7 69.6,636.3Z" fill="#d62728" stroke="#d62728" stroke-width="1.2" stroke-linejoin="round"/>
<path d="M81.5,655.8C82.6,654 87.1,652 90.2,651.1C93.2,650.2 96.8,650.3 99.9,650.4C103,650.6 105.9,652.1 108.6,651.9C111.3,651.8 113.8,650.7 116.2,649.3C118.5,648 120.5,645.2 122.7,643.9C124.8,642.7 126.8,641.9 129.2,641.8C131.5,641.6 134.4,642.1 136.8,642.8C139.1,643.6 141.7,644.5 143.2,646.1C144.8,647.7 145.9,650.4 146.1,652.6C146.2,654.8 145.5,657.3 144.3,659.1C143.1,660.9 141.1,662.2 138.9,663.4C136.8,664.7 133.7,665.4 131.3,666.7C129,667.9 126.6,669.2 124.8,671C123,672.8 121.5,675 120.5,677.5C119.5,680 118.8,683.3 118.8,686.2C118.7,689.1 120.1,691.9 120.1,694.8C120.1,697.7 119.6,700.6 118.8,703.5C117.9,706.4 117.1,710.9 115.1,712.2C113,713.4 109.1,711.5 106.4,711.1C103.7,710.7 101.4,710.3 98.8,709.6C96.3,708.8 93.2,708.1 91.2,706.8C89.3,705.4 87.5,703.5 86.9,701.3C86.3,699.2 86.7,695.7 87.6,693.8C88.5,691.8 90.5,690.5 92.3,689.4C94.2,688.3 98.1,688.5 98.8,687.2C99.6,686 97.8,683.8 96.7,681.8C95.6,679.8 93.8,677.5 92.3,675.3C90.9,673.2 89.4,671 88,668.8C86.6,666.7 84.8,664.5 83.7,662.3C82.6,660.2 80.4,657.7 81.5,655.8Z" fill="#ff7f0e" stroke="#ff7f0e" stroke-width="1.2" stroke-linejoin="round"/>
<path d="M118.8,684C119.6,680.4 120.9,677.9 122.7,675.3C124.4,672.8 126.6,670.6 129.2,668.8C131.7,667 134.8,665.2 137.8,664.5C140.9,663.8 144.7,664.7 147.6,664.5C150.5,664.3 152.5,663.2 155.2,663.4C157.9,663.6 160.9,664.7 163.8,665.6C166.7,666.5 169.8,667.2 172.5,668.8C175.2,670.5 178.6,673.2 180.1,675.3C181.6,677.5 181.8,679.7 181.6,681.8C181.4,684 180.3,686.2 179,688.3C177.7,690.5 175.4,692.3 173.6,694.8C171.8,697.4 170.2,701 168.2,703.5C166.2,706 163.8,708.2 161.7,710C159.5,711.8 157.2,712.5 155.2,714.3C153.2,716.1 151.9,719.5 149.8,720.8C147.6,722.2 144.9,722.7 142.2,722.6C139.5,722.4 136.2,719.9 133.5,719.8C130.8,719.6 128.3,721.9 125.9,721.9C123.6,721.9 121.4,721 119.4,719.8C117.4,718.5 114.5,716.7 114,714.3C113.5,712 115.5,708.6 116.2,705.7C116.8,702.8 117.5,700.6 117.9,697C118.3,693.4 118,687.6 118.8,684Z" fill="#1f77b4" stroke="#1f77b4" stroke-width="1.2" stroke-linejoin="round"/>
<path d="M252.7,638.5C252.8,636 255.2,633.1 255.9,629.8C256.6,626.6 256.1,622.1 257,619C257.9,615.9 259.2,613.4 261.3,611.4C263.5,609.4 267.1,608.1 270,607.1C272.9,606.1 275.4,606 278.7,605.6C281.9,605.1 286.4,604 289.5,604.3C292.6,604.5 295.1,605.4 297.1,607.1C299.1,608.8 300.3,611.6 301.4,614.7C302.5,617.7 303.4,621.9 303.6,625.5C303.8,629.1 303.4,633.1 302.5,636.3C301.6,639.6 300,642.7 298.2,645C296.4,647.3 294.2,648.8 291.7,650.4C289.1,652 285.9,654 283,654.8C280.1,655.5 276.9,654.9 274.3,654.8C271.8,654.6 270,653.8 267.8,653.7C265.7,653.6 263.5,653.8 261.3,654.1C259.2,654.4 256.3,656 254.8,655.4C253.4,654.8 252.7,652.1 252.7,650.4C252.7,648.7 254.8,647 254.8,645C254.8,643 252.5,641 252.7,638.5Z" fill="#2ca02c" stroke="#2ca02c" stroke-width="1.2" stroke-linejoin="round"/>
<path d="M254.4,649.3C255.1,648.2 256.7,647 258.1,646.7C259.4,646.4 261.2,646.8 262.4,647.6C263.7,648.4 265.7,650.3 265.7,651.5C265.7,652.7 263.9,654.3 262.4,655C261,655.6 258.4,655.7 257,655.4C255.6,655.1 254.4,654.2 254,653.2C253.5,652.2 253.7,650.4 254.4,649.3Z" fill="#e377c2" stroke="#e377c2" stroke-width="1.2" stroke-linejoin="round"/>
</g></g>
<circle cx="149.00" cy="691.67" r="11.50" fill="#ffffff" fill-opacity="0.45"/>
<text x="149.00" y="697.67" font-size="17" text-anchor="middle" fill="#000">1</text>
<circle cx="113.33" cy="670.00" r="11.50" fill="#ffffff" fill-opacity="0.45"/>
<text x="113.33" y="676.00" font-size="17" text-anchor="middle" fill="#000">2</text>
<circle cx="284.33" cy="626.00" r="11.50" fill="#ffffff" fill-opacity="0.45"/>
<text x="284.33" y="632.00" font-size="17" text-anchor="middle" fill="#000">3</text>
<circle cx="98.33" cy="634.00" r="11.50" fill="#ffffff" fill-opacity="0.45"/>
<text x="98.33" y="640.00" font-size="17" text-anchor="middle" fill="#000">4</text>
<circle cx="151.00" cy="591.00" r="11.50" fill="#ffffff" fill-opacity="0.45"/>
<text x="151.00" y="597.00" font-size="17" text-anchor="middle" fill="#000">5</text>
<text x="77.33" y="584.33" font-size="17" text-anchor="middle" fill="#000">6</text>
<text x="248.33" y="672.67" font-size="17" text-anchor="middle" fill="#000">7</text>
<g filter="url(#soft)"><g mask="url(#mkm)">
<path d="M426.2,564.8C426.9,564 428.6,562.9 430.6,563.2C432.6,563.6 436.1,565.6 438.2,566.9C440.2,568.3 442.2,569.8 442.9,571.2C443.7,572.7 443.1,574.4 442.5,575.6C441.9,576.8 440.5,578.6 439.2,578.4C438,578.2 436.5,575.7 434.9,574.5C433.3,573.3 430.8,572.3 429.5,571.2C428.2,570.2 427.4,569.1 426.9,568C426.4,566.9 425.6,565.5 426.2,564.8Z" fill="#e274e6" stroke="#e274e6" stroke-width="1.2" stroke-linejoin="round"/>
<path d="M466.3,605.9C466.5,604.1 468.1,601.8 469.6,599.4C471,597.1 472.7,594.2 475,591.8C477.3,589.5 480.1,587 483.7,585.3C487.3,583.7 492.3,583.2 496.7,582.1C501,581 506.1,579.7 509.7,578.8C513.3,577.9 515.8,577.2 518.3,576.7C520.9,576.1 523,575 524.8,575.6C526.6,576.1 528.6,578.1 529.2,579.9C529.7,581.7 529.2,584.4 528.1,586.4C527,588.4 525,590.4 522.7,591.8C520.3,593.3 516.5,594 514,595.1C511.5,596.2 510,596.9 507.5,598.3C505,599.8 501.7,602.1 498.8,603.8C495.9,605.4 493.1,607 490.2,608.1C487.3,609.2 484,609.6 481.5,610.2C479,610.9 477.2,611.8 475,611.8C472.8,611.8 469.9,611.2 468.5,610.2C467.1,609.3 466.2,607.7 466.3,605.9Z" fill="#e274e6" stroke="#e274e6" stroke-width="1.2" stroke-linejoin="round"/>
<path d="M417.6,637.3C417.2,635 419.2,632.3 420.8,629.8C422.5,627.2 424.8,624 427.3,622.2C429.9,620.4 433.1,619.6 436,618.9C438.9,618.3 441.8,618.4 444.7,618.3C447.6,618.1 450.4,617.7 453.3,617.8C456.2,617.9 459.5,618.2 462,618.9C464.5,619.6 466.7,620.4 468.5,622.2C470.3,624 471.9,627.2 472.8,629.8C473.7,632.3 474.3,635 473.9,637.3C473.6,639.7 472.3,641.7 470.7,643.8C469,646 466.5,648.8 464.2,650.3C461.8,651.9 459.3,652.8 456.6,652.9C453.9,653.1 451,651.6 447.9,651.4C444.8,651.3 441.2,652.2 438.2,652.1C435.1,651.9 432,651.7 429.5,650.3C427,649 425,646 423,643.8C421,641.7 417.9,639.7 417.6,637.3Z" fill="#1ec8cc" stroke="#1ec8cc" stroke-width="1.2" stroke-linejoin="round"/>
<path d="M429.5,656.8C430.6,655 435.1,653 438.2,652.1C441.2,651.2 444.8,651.3 447.9,651.4C451,651.6 453.9,653.1 456.6,652.9C459.3,652.8 461.8,651.7 464.2,650.3C466.5,649 468.5,646.2 470.7,644.9C472.8,643.7 474.8,642.9 477.2,642.8C479.5,642.6 482.4,643.1 484.8,643.8C487.1,644.6 489.7,645.5 491.2,647.1C492.8,648.7 493.9,651.4 494.1,653.6C494.2,655.8 493.5,658.3 492.3,660.1C491.1,661.9 489.1,663.2 486.9,664.4C484.7,665.7 481.7,666.4 479.3,667.7C477,668.9 474.6,670.2 472.8,672C471,673.8 469.5,676 468.5,678.5C467.5,681 466.8,684.3 466.8,687.2C466.7,690.1 468.1,692.9 468.1,695.8C468.1,698.7 467.6,701.6 466.8,704.5C465.9,707.4 465.1,711.9 463.1,713.2C461,714.4 457.1,712.5 454.4,712.1C451.7,711.7 449.4,711.3 446.8,710.6C444.3,709.8 441.2,709.1 439.2,707.8C437.3,706.4 435.5,704.5 434.9,702.3C434.3,700.2 434.7,696.7 435.6,694.8C436.5,692.8 438.5,691.5 440.3,690.4C442.2,689.3 446.1,689.5 446.8,688.2C447.6,687 445.8,684.8 444.7,682.8C443.6,680.8 441.8,678.5 440.3,676.3C438.9,674.2 437.4,672 436,669.8C434.6,667.7 432.8,665.5 431.7,663.3C430.6,661.2 428.4,658.7 429.5,656.8Z" fill="#e274e6" stroke="#e274e6" stroke-width="1.2" stroke-linejoin="round"/>
<path d="M466.8,685C467.6,681.4 468.9,678.9 470.7,676.3C472.4,673.8 474.6,671.6 477.2,669.8C479.7,668 482.8,666.2 485.8,665.5C488.9,664.8 492.7,665.7 495.6,665.5C498.5,665.3 500.5,664.2 503.2,664.4C505.9,664.6 508.9,665.7 511.8,666.6C514.7,667.5 517.8,668.2 520.5,669.8C523.2,671.5 526.6,674.2 528.1,676.3C529.6,678.5 529.8,680.7 529.6,682.8C529.4,685 528.3,687.2 527,689.3C525.7,691.5 523.4,693.3 521.6,695.8C519.8,698.4 518.2,702 516.2,704.5C514.2,707 511.8,709.2 509.7,711C507.5,712.8 505.2,713.5 503.2,715.3C501.2,717.1 499.9,720.5 497.8,721.8C495.6,723.2 492.9,723.7 490.2,723.6C487.5,723.4 484.2,720.9 481.5,720.8C478.8,720.6 476.3,722.9 473.9,722.9C471.6,722.9 469.4,722 467.4,720.8C465.4,719.5 462.5,717.7 462,715.3C461.5,713 463.5,709.6 464.2,706.7C464.8,703.8 465.5,701.6 465.9,698C466.3,694.4 466,688.6 466.8,685Z" fill="#e274e6" stroke="#e274e6" stroke-width="1.2" stroke-linejoin="round"/>
<path d="M600.7,639.5C600.8,637 603.2,634.1 603.9,630.8C604.6,627.6 604.1,623.1 605,620C605.9,616.9 607.2,614.4 609.3,612.4C611.5,610.4 615.1,609.1 618,608.1C620.9,607.1 623.4,607 626.7,606.6C629.9,606.1 634.4,605 637.5,605.3C640.6,605.5 643.1,606.4 645.1,608.1C647.1,609.8 648.3,612.6 649.4,615.7C650.5,618.7 651.4,622.9 651.6,626.5C651.8,630.1 651.4,634.1 650.5,637.3C649.6,640.6 648,643.7 646.2,646C644.4,648.3 642.2,649.8 639.7,651.4C637.1,653 633.9,655 631,655.8C628.1,656.5 624.9,655.9 622.3,655.8C619.8,655.6 618,654.8 615.8,654.7C613.7,654.6 611.5,654.8 609.3,655.1C607.2,655.4 604.3,657 602.8,656.4C601.4,655.8 600.7,653.1 600.7,651.4C600.7,649.7 602.8,648 602.8,646C602.8,644 600.5,642 600.7,639.5Z" fill="#e274e6" stroke="#e274e6" stroke-width="1.2" stroke-linejoin="round"/>
<path d="M602.4,650.3C603.1,649.2 604.7,648 606.1,647.7C607.4,647.4 609.2,647.8 610.4,648.6C611.7,649.4 613.7,651.3 613.7,652.5C613.7,653.7 611.9,655.3 610.4,656C609,656.6 606.4,656.7 605,656.4C603.6,656.1 602.4,655.2 602,654.2C601.5,653.2 601.7,651.4 602.4,650.3Z" fill="#e274e6" stroke="#e274e6" stroke-width="1.2" stroke-linejoin="round"/>
</g></g>
<g filter="url(#soft)"><g mask="url(#sk1)">
<path d="M426.2,564.8C426.9,564 428.6,562.9 430.6,563.2C432.6,563.6 436.1,565.6 438.2,566.9C440.2,568.3 442.2,569.8 442.9,571.2C443.7,572.7 443.1,574.4 442.5,575.6C441.9,576.8 440.5,578.6 439.2,578.4C438,578.2 436.5,575.7 434.9,574.5C433.3,573.3 430.8,572.3 429.5,571.2C428.2,570.2 427.4,569.1 426.9,568C426.4,566.9 425.6,565.5 426.2,564.8Z" fill="#1ec8cc" stroke="#1ec8cc" stroke-width="1.0" stroke-linejoin="round"/>
<path d="M466.3,605.9C466.5,604.1 468.1,601.8 469.6,599.4C471,597.1 472.7,594.2 475,591.8C477.3,589.5 480.1,587 483.7,585.3C487.3,583.7 492.3,583.2 496.7,582.1C501,581 506.1,579.7 509.7,578.8C513.3,577.9 515.8,577.2 518.3,576.7C520.9,576.1 523,575 524.8,575.6C526.6,576.1 528.6,578.1 529.2,579.9C529.7,581.7 529.2,584.4 528.1,586.4C527,588.4 525,590.4 522.7,591.8C520.3,593.3 516.5,594 514,595.1C511.5,596.2 510,596.9 507.5,598.3C505,599.8 501.7,602.1 498.8,603.8C495.9,605.4 493.1,607 490.2,608.1C487.3,609.2 484,609.6 481.5,610.2C479,610.9 477.2,611.8 475,611.8C472.8,611.8 469.9,611.2 468.5,610.2C467.1,609.3 466.2,607.7 466.3,605.9Z" fill="#1ec8cc" stroke="#1ec8cc" stroke-width="1.0" stroke-linejoin="round"/>
<path d="M600.7,639.5C600.8,637 603.2,634.1 603.9,630.8C604.6,627.6 604.1,623.1 605,620C605.9,616.9 607.2,614.4 609.3,612.4C611.5,610.4 615.1,609.1 618,608.1C620.9,607.1 623.4,607 626.7,606.6C629.9,606.1 634.4,605 637.5,605.3C640.6,605.5 643.1,606.4 645.1,608.1C647.1,609.8 648.3,612.6 649.4,615.7C650.5,618.7 651.4,622.9 651.6,626.5C651.8,630.1 651.4,634.1 650.5,637.3C649.6,640.6 648,643.7 646.2,646C644.4,648.3 642.2,649.8 639.7,651.4C637.1,653 633.9,655 631,655.8C628.1,656.5 624.9,655.9 622.3,655.8C619.8,655.6 618,654.8 615.8,654.7C613.7,654.6 611.5,654.8 609.3,655.1C607.2,655.4 604.3,657 602.8,656.4C601.4,655.8 600.7,653.1 600.7,651.4C600.7,649.7 602.8,648 602.8,646C602.8,644 600.5,642 600.7,639.5Z" fill="#1ec8cc" stroke="#1ec8cc" stroke-width="1.0" stroke-linejoin="round"/>
</g></g>
<g filter="url(#soft)"><g mask="url(#sk2)">
<path d="M417.6,637.3C417.2,635 419.2,632.3 420.8,629.8C422.5,627.2 424.8,624 427.3,622.2C429.9,620.4 433.1,619.6 436,618.9C438.9,618.3 441.8,618.4 444.7,618.3C447.6,618.1 450.4,617.7 453.3,617.8C456.2,617.9 459.5,618.2 462,618.9C464.5,619.6 466.7,620.4 468.5,622.2C470.3,624 471.9,627.2 472.8,629.8C473.7,632.3 474.3,635 473.9,637.3C473.6,639.7 472.3,641.7 470.7,643.8C469,646 466.5,648.8 464.2,650.3C461.8,651.9 459.3,652.8 456.6,652.9C453.9,653.1 451,651.6 447.9,651.4C444.8,651.3 441.2,652.2 438.2,652.1C435.1,651.9 432,651.7 429.5,650.3C427,649 425,646 423,643.8C421,641.7 417.9,639.7 417.6,637.3Z" fill="#e274e6" stroke="#e274e6" stroke-width="1.0" stroke-linejoin="round"/>
</g></g>
<g filter="url(#soft)"><g mask="url(#sk3)">
<path d="M429.5,656.8C430.6,655 435.1,653 438.2,652.1C441.2,651.2 444.8,651.3 447.9,651.4C451,651.6 453.9,653.1 456.6,652.9C459.3,652.8 461.8,651.7 464.2,650.3C466.5,649 468.5,646.2 470.7,644.9C472.8,643.7 474.8,642.9 477.2,642.8C479.5,642.6 482.4,643.1 484.8,643.8C487.1,644.6 489.7,645.5 491.2,647.1C492.8,648.7 493.9,651.4 494.1,653.6C494.2,655.8 493.5,658.3 492.3,660.1C491.1,661.9 489.1,663.2 486.9,664.4C484.7,665.7 481.7,666.4 479.3,667.7C477,668.9 474.6,670.2 472.8,672C471,673.8 469.5,676 468.5,678.5C467.5,681 466.8,684.3 466.8,687.2C466.7,690.1 468.1,692.9 468.1,695.8C468.1,698.7 467.6,701.6 466.8,704.5C465.9,707.4 465.1,711.9 463.1,713.2C461,714.4 457.1,712.5 454.4,712.1C451.7,711.7 449.4,711.3 446.8,710.6C444.3,709.8 441.2,709.1 439.2,707.8C437.3,706.4 435.5,704.5 434.9,702.3C434.3,700.2 434.7,696.7 435.6,694.8C436.5,692.8 438.5,691.5 440.3,690.4C442.2,689.3 446.1,689.5 446.8,688.2C447.6,687 445.8,684.8 444.7,682.8C443.6,680.8 441.8,678.5 440.3,676.3C438.9,674.2 437.4,672 436,669.8C434.6,667.7 432.8,665.5 431.7,663.3C430.6,661.2 428.4,658.7 429.5,656.8Z" fill="#1ec8cc" stroke="#1ec8cc" stroke-width="1.0" stroke-linejoin="round"/>
</g></g>
<g filter="url(#soft)"><g mask="url(#mks)">
<path d="M748.8,563.8C749.4,563 751.1,561.9 753.1,562.2C755.1,562.6 758.6,564.6 760.7,565.9C762.7,567.3 764.7,568.8 765.4,570.2C766.2,571.7 765.6,573.4 765,574.6C764.4,575.8 763,577.6 761.8,577.4C760.5,577.2 759,574.7 757.4,573.5C755.8,572.3 753.3,571.3 752,570.2C750.7,569.2 749.9,568.1 749.4,567C748.9,565.9 748.1,564.5 748.8,563.8Z" fill="#3b3277" stroke="#3b3277" stroke-width="1.2" stroke-linejoin="round"/>
<path d="M788.8,604.9C789,603.1 790.6,600.8 792.1,598.4C793.5,596.1 795.2,593.2 797.5,590.8C799.8,588.5 802.6,586 806.2,584.3C809.8,582.7 814.8,582.2 819.2,581.1C823.5,580 828.6,578.7 832.2,577.8C835.8,576.9 838.3,576.2 840.8,575.7C843.4,575.1 845.5,574 847.3,574.6C849.1,575.1 851.1,577.1 851.7,578.9C852.2,580.7 851.7,583.4 850.6,585.4C849.5,587.4 847.5,589.4 845.2,590.8C842.8,592.3 839,593 836.5,594.1C834,595.2 832.5,595.9 830,597.3C827.5,598.8 824.2,601.1 821.3,602.8C818.4,604.4 815.6,606 812.7,607.1C809.8,608.2 806.5,608.6 804,609.2C801.5,609.9 799.7,610.8 797.5,610.8C795.3,610.8 792.4,610.2 791,609.2C789.6,608.3 788.7,606.7 788.8,604.9Z" fill="url(#g8)" stroke="none" stroke-width="1.2" stroke-linejoin="round"/>
<path d="M740.1,636.3C739.7,634 741.7,631.3 743.3,628.8C745,626.2 747.3,623 749.8,621.2C752.4,619.4 755.6,618.6 758.5,617.9C761.4,617.3 764.3,617.4 767.2,617.3C770.1,617.1 772.9,616.7 775.8,616.8C778.7,616.9 782,617.2 784.5,617.9C787,618.6 789.2,619.4 791,621.2C792.8,623 794.4,626.2 795.3,628.8C796.2,631.3 796.8,634 796.4,636.3C796.1,638.7 794.8,640.7 793.2,642.8C791.5,645 789,647.8 786.7,649.3C784.3,650.9 781.8,651.8 779.1,651.9C776.4,652.1 773.5,650.6 770.4,650.4C767.3,650.3 763.7,651.2 760.7,651.1C757.6,650.9 754.5,650.7 752,649.3C749.5,648 747.5,645 745.5,642.8C743.5,640.7 740.4,638.7 740.1,636.3Z" fill="#440154" stroke="#440154" stroke-width="1.2" stroke-linejoin="round"/>
<path d="M752,655.8C753.1,654 757.6,652 760.7,651.1C763.7,650.2 767.3,650.3 770.4,650.4C773.5,650.6 776.4,652.1 779.1,651.9C781.8,651.8 784.3,650.7 786.7,649.3C789,648 791,645.2 793.2,643.9C795.3,642.7 797.3,641.9 799.7,641.8C802,641.6 804.9,642.1 807.2,642.8C809.6,643.6 812.2,644.5 813.8,646.1C815.3,647.7 816.4,650.4 816.6,652.6C816.7,654.8 816,657.3 814.8,659.1C813.6,660.9 811.6,662.2 809.4,663.4C807.2,664.7 804.2,665.4 801.8,666.7C799.5,667.9 797.1,669.2 795.3,671C793.5,672.8 792,675 791,677.5C790,680 789.3,683.3 789.3,686.2C789.2,689.1 790.6,691.9 790.6,694.8C790.6,697.7 790.1,700.6 789.3,703.5C788.4,706.4 787.6,710.9 785.6,712.2C783.5,713.4 779.6,711.5 776.9,711.1C774.2,710.7 771.9,710.3 769.3,709.6C766.8,708.8 763.7,708.1 761.8,706.8C759.8,705.4 758,703.5 757.4,701.3C756.8,699.2 757.2,695.7 758.1,693.8C759,691.8 761,690.5 762.8,689.4C764.7,688.3 768.6,688.5 769.3,687.2C770.1,686 768.2,683.8 767.2,681.8C766.1,679.8 764.3,677.5 762.8,675.3C761.4,673.2 759.9,671 758.5,668.8C757.1,666.7 755.2,664.5 754.2,662.3C753.1,660.2 750.9,657.7 752,655.8Z" fill="#440154" stroke="#440154" stroke-width="1.2" stroke-linejoin="round"/>
<path d="M789.3,684C790.1,680.4 791.4,677.9 793.2,675.3C794.9,672.8 797.1,670.6 799.7,668.8C802.2,667 805.3,665.2 808.3,664.5C811.4,663.8 815.2,664.7 818.1,664.5C821,664.3 823,663.2 825.7,663.4C828.4,663.6 831.4,664.7 834.3,665.6C837.2,666.5 840.3,667.2 843,668.8C845.7,670.5 849.1,673.2 850.6,675.3C852.1,677.5 852.3,679.7 852.1,681.8C851.9,684 850.8,686.2 849.5,688.3C848.2,690.5 845.9,692.3 844.1,694.8C842.3,697.4 840.7,701 838.7,703.5C836.7,706 834.3,708.2 832.2,710C830,711.8 827.7,712.5 825.7,714.3C823.7,716.1 822.4,719.5 820.2,720.8C818.1,722.2 815.4,722.7 812.7,722.6C810,722.4 806.7,719.9 804,719.8C801.3,719.6 798.8,721.9 796.4,721.9C794.1,721.9 791.9,721 789.9,719.8C787.9,718.5 785,716.7 784.5,714.3C784,712 786,708.6 786.7,705.7C787.3,702.8 788,700.6 788.4,697C788.8,693.4 788.5,687.6 789.3,684Z" fill="#440154" stroke="#440154" stroke-width="1.2" stroke-linejoin="round"/>
<path d="M923.2,638.5C923.3,636 925.7,633.1 926.4,629.8C927.1,626.6 926.6,622.1 927.5,619C928.4,615.9 929.7,613.4 931.8,611.4C934,609.4 937.6,608.1 940.5,607.1C943.4,606.1 945.9,606 949.2,605.6C952.4,605.1 956.9,604 960,604.3C963.1,604.5 965.6,605.4 967.6,607.1C969.6,608.8 970.8,611.6 971.9,614.7C973,617.7 973.9,621.9 974.1,625.5C974.3,629.1 973.9,633.1 973,636.3C972.1,639.6 970.5,642.7 968.7,645C966.9,647.3 964.7,648.8 962.2,650.4C959.6,652 956.4,654 953.5,654.8C950.6,655.5 947.4,654.9 944.8,654.8C942.3,654.6 940.5,653.8 938.3,653.7C936.2,653.6 934,653.8 931.8,654.1C929.7,654.4 926.8,656 925.3,655.4C923.9,654.8 923.2,652.1 923.2,650.4C923.2,648.7 925.3,647 925.3,645C925.3,643 923,641 923.2,638.5Z" fill="#440154" stroke="#440154" stroke-width="1.2" stroke-linejoin="round"/>
<path d="M924.9,649.3C925.6,648.2 927.2,647 928.6,646.7C929.9,646.4 931.7,646.8 932.9,647.6C934.2,648.4 936.2,650.3 936.2,651.5C936.2,652.7 934.4,654.3 932.9,655C931.5,655.6 928.9,655.7 927.5,655.4C926.1,655.1 924.9,654.2 924.5,653.2C924,652.2 924.2,650.4 924.9,649.3Z" fill="#440154" stroke="#440154" stroke-width="1.2" stroke-linejoin="round"/>
</g></g>
<g filter="url(#soft)"><g mask="url(#sk1)">
<path d="M748.8,563.8C749.4,563 751.1,561.9 753.1,562.2C755.1,562.6 758.6,564.6 760.7,565.9C762.7,567.3 764.7,568.8 765.4,570.2C766.2,571.7 765.6,573.4 765,574.6C764.4,575.8 763,577.6 761.8,577.4C760.5,577.2 759,574.7 757.4,573.5C755.8,572.3 753.3,571.3 752,570.2C750.7,569.2 749.9,568.1 749.4,567C748.9,565.9 748.1,564.5 748.8,563.8Z" fill="#2a788e" stroke="#2a788e" stroke-width="1.0" stroke-linejoin="round"/>
<path d="M788.8,604.9C789,603.1 790.6,600.8 792.1,598.4C793.5,596.1 795.2,593.2 797.5,590.8C799.8,588.5 802.6,586 806.2,584.3C809.8,582.7 814.8,582.2 819.2,581.1C823.5,580 828.6,578.7 832.2,577.8C835.8,576.9 838.3,576.2 840.8,575.7C843.4,575.1 845.5,574 847.3,574.6C849.1,575.1 851.1,577.1 851.7,578.9C852.2,580.7 851.7,583.4 850.6,585.4C849.5,587.4 847.5,589.4 845.2,590.8C842.8,592.3 839,593 836.5,594.1C834,595.2 832.5,595.9 830,597.3C827.5,598.8 824.2,601.1 821.3,602.8C818.4,604.4 815.6,606 812.7,607.1C809.8,608.2 806.5,608.6 804,609.2C801.5,609.9 799.7,610.8 797.5,610.8C795.3,610.8 792.4,610.2 791,609.2C789.6,608.3 788.7,606.7 788.8,604.9Z" fill="#2a788e" stroke="#2a788e" stroke-width="1.0" stroke-linejoin="round"/>
</g></g>
<g filter="url(#soft)"><g mask="url(#sk3)">
<path d="M740.1,636.3C739.7,634 741.7,631.3 743.3,628.8C745,626.2 747.3,623 749.8,621.2C752.4,619.4 755.6,618.6 758.5,617.9C761.4,617.3 764.3,617.4 767.2,617.3C770.1,617.1 772.9,616.7 775.8,616.8C778.7,616.9 782,617.2 784.5,617.9C787,618.6 789.2,619.4 791,621.2C792.8,623 794.4,626.2 795.3,628.8C796.2,631.3 796.8,634 796.4,636.3C796.1,638.7 794.8,640.7 793.2,642.8C791.5,645 789,647.8 786.7,649.3C784.3,650.9 781.8,651.8 779.1,651.9C776.4,652.1 773.5,650.6 770.4,650.4C767.3,650.3 763.7,651.2 760.7,651.1C757.6,650.9 754.5,650.7 752,649.3C749.5,648 747.5,645 745.5,642.8C743.5,640.7 740.4,638.7 740.1,636.3Z" fill="#2a788e" stroke="#2a788e" stroke-width="1.0" stroke-linejoin="round"/>
<path d="M752,655.8C753.1,654 757.6,652 760.7,651.1C763.7,650.2 767.3,650.3 770.4,650.4C773.5,650.6 776.4,652.1 779.1,651.9C781.8,651.8 784.3,650.7 786.7,649.3C789,648 791,645.2 793.2,643.9C795.3,642.7 797.3,641.9 799.7,641.8C802,641.6 804.9,642.1 807.2,642.8C809.6,643.6 812.2,644.5 813.8,646.1C815.3,647.7 816.4,650.4 816.6,652.6C816.7,654.8 816,657.3 814.8,659.1C813.6,660.9 811.6,662.2 809.4,663.4C807.2,664.7 804.2,665.4 801.8,666.7C799.5,667.9 797.1,669.2 795.3,671C793.5,672.8 792,675 791,677.5C790,680 789.3,683.3 789.3,686.2C789.2,689.1 790.6,691.9 790.6,694.8C790.6,697.7 790.1,700.6 789.3,703.5C788.4,706.4 787.6,710.9 785.6,712.2C783.5,713.4 779.6,711.5 776.9,711.1C774.2,710.7 771.9,710.3 769.3,709.6C766.8,708.8 763.7,708.1 761.8,706.8C759.8,705.4 758,703.5 757.4,701.3C756.8,699.2 757.2,695.7 758.1,693.8C759,691.8 761,690.5 762.8,689.4C764.7,688.3 768.6,688.5 769.3,687.2C770.1,686 768.2,683.8 767.2,681.8C766.1,679.8 764.3,677.5 762.8,675.3C761.4,673.2 759.9,671 758.5,668.8C757.1,666.7 755.2,664.5 754.2,662.3C753.1,660.2 750.9,657.7 752,655.8Z" fill="#2a788e" stroke="#2a788e" stroke-width="1.0" stroke-linejoin="round"/>
<path d="M789.3,684C790.1,680.4 791.4,677.9 793.2,675.3C794.9,672.8 797.1,670.6 799.7,668.8C802.2,667 805.3,665.2 808.3,664.5C811.4,663.8 815.2,664.7 818.1,664.5C821,664.3 823,663.2 825.7,663.4C828.4,663.6 831.4,664.7 834.3,665.6C837.2,666.5 840.3,667.2 843,668.8C845.7,670.5 849.1,673.2 850.6,675.3C852.1,677.5 852.3,679.7 852.1,681.8C851.9,684 850.8,686.2 849.5,688.3C848.2,690.5 845.9,692.3 844.1,694.8C842.3,697.4 840.7,701 838.7,703.5C836.7,706 834.3,708.2 832.2,710C830,711.8 827.7,712.5 825.7,714.3C823.7,716.1 822.4,719.5 820.2,720.8C818.1,722.2 815.4,722.7 812.7,722.6C810,722.4 806.7,719.9 804,719.8C801.3,719.6 798.8,721.9 796.4,721.9C794.1,721.9 791.9,721 789.9,719.8C787.9,718.5 785,716.7 784.5,714.3C784,712 786,708.6 786.7,705.7C787.3,702.8 788,700.6 788.4,697C788.8,693.4 788.5,687.6 789.3,684Z" fill="#2a788e" stroke="#2a788e" stroke-width="1.0" stroke-linejoin="round"/>
<path d="M923.2,638.5C923.3,636 925.7,633.1 926.4,629.8C927.1,626.6 926.6,622.1 927.5,619C928.4,615.9 929.7,613.4 931.8,611.4C934,609.4 937.6,608.1 940.5,607.1C943.4,606.1 945.9,606 949.2,605.6C952.4,605.1 956.9,604 960,604.3C963.1,604.5 965.6,605.4 967.6,607.1C969.6,608.8 970.8,611.6 971.9,614.7C973,617.7 973.9,621.9 974.1,625.5C974.3,629.1 973.9,633.1 973,636.3C972.1,639.6 970.5,642.7 968.7,645C966.9,647.3 964.7,648.8 962.2,650.4C959.6,652 956.4,654 953.5,654.8C950.6,655.5 947.4,654.9 944.8,654.8C942.3,654.6 940.5,653.8 938.3,653.7C936.2,653.6 934,653.8 931.8,654.1C929.7,654.4 926.8,656 925.3,655.4C923.9,654.8 923.2,652.1 923.2,650.4C923.2,648.7 925.3,647 925.3,645C925.3,643 923,641 923.2,638.5Z" fill="#2a788e" stroke="#2a788e" stroke-width="1.0" stroke-linejoin="round"/>
</g></g>
<g filter="url(#soft)"><g mask="url(#sk1)">
<path d="M796,642C797.8,638.8 802.8,635.5 806,636C809.2,636.5 813,641 815,645C817,649 818.8,655.8 818,660C817.2,664.2 813,668.7 810,670C807,671.3 802.5,670.5 800,668C797.5,665.5 795.7,659.3 795,655C794.3,650.7 794.2,645.2 796,642Z" fill="#2a8a8a"/>
</g></g>
<g filter="url(#soft)"><g mask="url(#sk2)">
<path d="M796,642C797.8,638.8 802.8,635.5 806,636C809.2,636.5 813,641 815,645C817,649 818.8,655.8 818,660C817.2,664.2 813,668.7 810,670C807,671.3 802.5,670.5 800,668C797.5,665.5 795.7,659.3 795,655C794.3,650.7 794.2,645.2 796,642Z" fill="#35b779"/>
</g></g>
<g filter="url(#soft)"><g mask="url(#mks)">
<path d="M308.8,818.3C309.5,817.5 311.2,816.4 313.3,816.8C315.3,817.1 319,819.2 321.1,820.6C323.2,821.9 325.3,823.6 326,825C326.7,826.5 326.2,828.3 325.6,829.5C324.9,830.8 323.5,832.6 322.2,832.4C320.9,832.3 319.4,829.6 317.7,828.4C316.1,827.2 313.5,826.2 312.2,825C310.8,823.9 310,822.8 309.5,821.7C308.9,820.6 308.2,819.1 308.8,818.3Z" fill="#3e4a89" stroke="#3e4a89" stroke-width="1.2" stroke-linejoin="round"/>
<path d="M350.1,860.9C350.3,859.1 352,856.6 353.5,854.2C354.9,851.8 356.6,848.8 359,846.4C361.4,843.9 364.2,841.3 368,839.6C371.7,837.9 376.9,837.4 381.3,836.3C385.8,835.1 391,833.8 394.7,832.9C398.5,832 401.1,831.2 403.7,830.7C406.3,830.1 408.5,829 410.4,829.5C412.2,830.1 414.3,832.2 414.8,834C415.4,835.9 414.8,838.7 413.7,840.7C412.6,842.8 410.5,844.9 408.1,846.4C405.7,847.8 401.8,848.6 399.2,849.7C396.6,850.8 395.1,851.6 392.5,853.1C389.9,854.6 386.6,857 383.6,858.7C380.6,860.4 377.6,862.1 374.7,863.2C371.7,864.3 368.3,864.8 365.7,865.4C363.1,866 361.3,867 359,867C356.8,867 353.8,866.4 352.3,865.4C350.8,864.4 349.9,862.8 350.1,860.9Z" fill="url(#g9)" stroke="none" stroke-width="1.2" stroke-linejoin="round"/>
<path d="M299.9,893.4C299.5,891 301.6,888.2 303.2,885.6C304.9,883 307.3,879.6 309.9,877.7C312.5,875.9 315.9,875.1 318.9,874.4C321.8,873.7 324.8,873.9 327.8,873.7C330.8,873.5 333.7,873.2 336.7,873.3C339.7,873.4 343,873.6 345.6,874.4C348.2,875.1 350.5,875.9 352.3,877.7C354.2,879.6 355.9,883 356.8,885.6C357.7,888.2 358.3,891 357.9,893.4C357.5,895.9 356.2,897.9 354.6,900.2C352.9,902.4 350.3,905.3 347.9,906.9C345.5,908.5 342.9,909.4 340.1,909.6C337.3,909.8 334.3,908.2 331.1,908C328,907.9 324.3,908.9 321.1,908.7C317.9,908.5 314.8,908.3 312.2,906.9C309.6,905.5 307.5,902.4 305.5,900.2C303.4,897.9 300.3,895.9 299.9,893.4Z" fill="#472a7a" stroke="#472a7a" stroke-width="1.2" stroke-linejoin="round"/>
<path d="M312.2,913.6C313.3,911.7 317.9,909.6 321.1,908.7C324.3,907.8 328,907.9 331.1,908C334.3,908.2 337.3,909.8 340.1,909.6C342.9,909.4 345.5,908.3 347.9,906.9C350.3,905.5 352.3,902.6 354.6,901.3C356.8,900 358.8,899.2 361.3,899.1C363.7,898.9 366.7,899.4 369.1,900.2C371.5,900.9 374.2,901.9 375.8,903.5C377.4,905.2 378.5,908 378.7,910.3C378.9,912.5 378.1,915.1 376.9,917C375.7,918.9 373.5,920.2 371.3,921.5C369.1,922.8 365.9,923.5 363.5,924.8C361.1,926.1 358.7,927.5 356.8,929.3C354.9,931.2 353.4,933.4 352.3,936.1C351.3,938.7 350.6,942 350.6,945C350.5,948 351.9,951 351.9,954C351.9,957 351.4,960 350.6,963C349.7,966 348.9,970.6 346.8,971.9C344.6,973.2 340.6,971.3 337.8,970.8C335,970.4 332.6,970 330,969.2C327.4,968.5 324.3,967.7 322.2,966.3C320.2,964.9 318.4,963 317.7,960.7C317.1,958.5 317.5,954.9 318.4,952.9C319.3,950.8 321.4,949.5 323.3,948.4C325.3,947.3 329.3,947.5 330,946.1C330.8,944.8 328.9,942.6 327.8,940.5C326.7,938.5 324.8,936.1 323.3,933.8C321.8,931.6 320.3,929.3 318.9,927.1C317.4,924.8 315.5,922.6 314.4,920.4C313.3,918.1 311.1,915.6 312.2,913.6Z" fill="#472a7a" stroke="#472a7a" stroke-width="1.2" stroke-linejoin="round"/>
<path d="M350.6,942.8C351.4,939 352.8,936.4 354.6,933.8C356.4,931.2 358.7,929 361.3,927.1C363.9,925.2 367,923.3 370.2,922.6C373.4,921.9 377.3,922.8 380.2,922.6C383.2,922.4 385.3,921.3 388,921.5C390.8,921.7 394,922.8 397,923.7C399.9,924.7 403.1,925.4 405.9,927.1C408.7,928.8 412.1,931.6 413.7,933.8C415.3,936.1 415.5,938.3 415.3,940.5C415.1,942.8 414,945 412.6,947.3C411.2,949.5 408.9,951.4 407,954C405.2,956.6 403.5,960.3 401.4,963C399.4,965.6 397,967.8 394.7,969.7C392.5,971.6 390.1,972.3 388,974.2C386,976 384.7,979.5 382.5,980.9C380.2,982.3 377.4,982.9 374.7,982.7C371.9,982.5 368.5,979.9 365.7,979.8C362.9,979.7 360.3,982 357.9,982C355.5,982 353.3,981.1 351.2,979.8C349.2,978.5 346.2,976.6 345.6,974.2C345.1,971.7 347.2,968.2 347.9,965.2C348.5,962.2 349.2,960 349.7,956.2C350.1,952.5 349.7,946.5 350.6,942.8Z" fill="url(#g10)" stroke="none" stroke-width="1.2" stroke-linejoin="round"/>
<path d="M488.5,895.7C488.7,893.1 491.1,890.1 491.8,886.7C492.6,883.4 492,878.7 492.9,875.5C493.9,872.3 495.2,869.7 497.4,867.7C499.6,865.6 503.3,864.2 506.3,863.2C509.3,862.2 511.9,862.1 515.2,861.6C518.6,861.1 523.2,860 526.4,860.3C529.6,860.5 532.2,861.4 534.2,863.2C536.3,865 537.6,867.8 538.7,871C539.8,874.2 540.7,878.5 540.9,882.2C541.1,886 540.7,890.1 539.8,893.4C538.9,896.8 537.2,900 535.3,902.4C533.5,904.8 531.2,906.3 528.6,908C526,909.7 522.7,911.8 519.7,912.5C516.7,913.3 513.4,912.7 510.8,912.5C508.2,912.3 506.3,911.5 504.1,911.4C501.9,911.3 499.6,911.5 497.4,911.8C495.2,912.1 492.2,913.8 490.7,913.2C489.2,912.5 488.5,909.8 488.5,908C488.5,906.2 490.7,904.5 490.7,902.4C490.7,900.4 488.3,898.3 488.5,895.7Z" fill="#472a7a" stroke="#472a7a" stroke-width="1.2" stroke-linejoin="round"/>
<path d="M490.3,906.9C491,905.8 492.7,904.5 494,904.2C495.4,903.9 497.2,904.3 498.5,905.1C499.8,905.9 501.9,907.9 501.9,909.1C501.9,910.4 500,912.1 498.5,912.7C497,913.4 494.4,913.5 492.9,913.2C491.5,912.9 490.3,912 489.8,910.9C489.4,909.9 489.5,908 490.3,906.9Z" fill="#472a7a" stroke="#472a7a" stroke-width="1.2" stroke-linejoin="round"/>
</g></g>
<g filter="url(#soft)"><g mask="url(#sk3)">
<path d="M299.9,893.4C299.5,891 301.6,888.2 303.2,885.6C304.9,883 307.3,879.6 309.9,877.7C312.5,875.9 315.9,875.1 318.9,874.4C321.8,873.7 324.8,873.9 327.8,873.7C330.8,873.5 333.7,873.2 336.7,873.3C339.7,873.4 343,873.6 345.6,874.4C348.2,875.1 350.5,875.9 352.3,877.7C354.2,879.6 355.9,883 356.8,885.6C357.7,888.2 358.3,891 357.9,893.4C357.5,895.9 356.2,897.9 354.6,900.2C352.9,902.4 350.3,905.3 347.9,906.9C345.5,908.5 342.9,909.4 340.1,909.6C337.3,909.8 334.3,908.2 331.1,908C328,907.9 324.3,908.9 321.1,908.7C317.9,908.5 314.8,908.3 312.2,906.9C309.6,905.5 307.5,902.4 305.5,900.2C303.4,897.9 300.3,895.9 299.9,893.4Z" fill="#3b528b" stroke="#3b528b" stroke-width="1.0" stroke-linejoin="round"/>
<path d="M312.2,913.6C313.3,911.7 317.9,909.6 321.1,908.7C324.3,907.8 328,907.9 331.1,908C334.3,908.2 337.3,909.8 340.1,909.6C342.9,909.4 345.5,908.3 347.9,906.9C350.3,905.5 352.3,902.6 354.6,901.3C356.8,900 358.8,899.2 361.3,899.1C363.7,898.9 366.7,899.4 369.1,900.2C371.5,900.9 374.2,901.9 375.8,903.5C377.4,905.2 378.5,908 378.7,910.3C378.9,912.5 378.1,915.1 376.9,917C375.7,918.9 373.5,920.2 371.3,921.5C369.1,922.8 365.9,923.5 363.5,924.8C361.1,926.1 358.7,927.5 356.8,929.3C354.9,931.2 353.4,933.4 352.3,936.1C351.3,938.7 350.6,942 350.6,945C350.5,948 351.9,951 351.9,954C351.9,957 351.4,960 350.6,963C349.7,966 348.9,970.6 346.8,971.9C344.6,973.2 340.6,971.3 337.8,970.8C335,970.4 332.6,970 330,969.2C327.4,968.5 324.3,967.7 322.2,966.3C320.2,964.9 318.4,963 317.7,960.7C317.1,958.5 317.5,954.9 318.4,952.9C319.3,950.8 321.4,949.5 323.3,948.4C325.3,947.3 329.3,947.5 330,946.1C330.8,944.8 328.9,942.6 327.8,940.5C326.7,938.5 324.8,936.1 323.3,933.8C321.8,931.6 320.3,929.3 318.9,927.1C317.4,924.8 315.5,922.6 314.4,920.4C313.3,918.1 311.1,915.6 312.2,913.6Z" fill="#3b528b" stroke="#3b528b" stroke-width="1.0" stroke-linejoin="round"/>
<path d="M350.6,942.8C351.4,939 352.8,936.4 354.6,933.8C356.4,931.2 358.7,929 361.3,927.1C363.9,925.2 367,923.3 370.2,922.6C373.4,921.9 377.3,922.8 380.2,922.6C383.2,922.4 385.3,921.3 388,921.5C390.8,921.7 394,922.8 397,923.7C399.9,924.7 403.1,925.4 405.9,927.1C408.7,928.8 412.1,931.6 413.7,933.8C415.3,936.1 415.5,938.3 415.3,940.5C415.1,942.8 414,945 412.6,947.3C411.2,949.5 408.9,951.4 407,954C405.2,956.6 403.5,960.3 401.4,963C399.4,965.6 397,967.8 394.7,969.7C392.5,971.6 390.1,972.3 388,974.2C386,976 384.7,979.5 382.5,980.9C380.2,982.3 377.4,982.9 374.7,982.7C371.9,982.5 368.5,979.9 365.7,979.8C362.9,979.7 360.3,982 357.9,982C355.5,982 353.3,981.1 351.2,979.8C349.2,978.5 346.2,976.6 345.6,974.2C345.1,971.7 347.2,968.2 347.9,965.2C348.5,962.2 349.2,960 349.7,956.2C350.1,952.5 349.7,946.5 350.6,942.8Z" fill="#2c728e" stroke="#2c728e" stroke-width="1.0" stroke-linejoin="round"/>
<path d="M488.5,895.7C488.7,893.1 491.1,890.1 491.8,886.7C492.6,883.4 492,878.7 492.9,875.5C493.9,872.3 495.2,869.7 497.4,867.7C499.6,865.6 503.3,864.2 506.3,863.2C509.3,862.2 511.9,862.1 515.2,861.6C518.6,861.1 523.2,860 526.4,860.3C529.6,860.5 532.2,861.4 534.2,863.2C536.3,865 537.6,867.8 538.7,871C539.8,874.2 540.7,878.5 540.9,882.2C541.1,886 540.7,890.1 539.8,893.4C538.9,896.8 537.2,900 535.3,902.4C533.5,904.8 531.2,906.3 528.6,908C526,909.7 522.7,911.8 519.7,912.5C516.7,913.3 513.4,912.7 510.8,912.5C508.2,912.3 506.3,911.5 504.1,911.4C501.9,911.3 499.6,911.5 497.4,911.8C495.2,912.1 492.2,913.8 490.7,913.2C489.2,912.5 488.5,909.8 488.5,908C488.5,906.2 490.7,904.5 490.7,902.4C490.7,900.4 488.3,898.3 488.5,895.7Z" fill="#3b528b" stroke="#3b528b" stroke-width="1.0" stroke-linejoin="round"/>
</g></g>
<g filter="url(#soft)"><g mask="url(#mks)">
<path d="M924.8,814.2C925.5,813.4 927.2,812.3 929.3,812.7C931.3,813 935,815.1 937.1,816.5C939.2,817.9 941.3,819.5 942,821C942.8,822.5 942.2,824.2 941.6,825.5C940.9,826.7 939.5,828.6 938.2,828.4C936.9,828.2 935.4,825.6 933.8,824.3C932.1,823.1 929.5,822.1 928.2,821C926.8,819.8 926,818.7 925.5,817.6C924.9,816.5 924.2,815 924.8,814.2Z" fill="#3e4a89" stroke="#3e4a89" stroke-width="1.2" stroke-linejoin="round"/>
<path d="M966.1,856.9C966.3,855 968,852.6 969.5,850.2C971,847.7 972.7,844.7 975.1,842.3C977.5,839.9 980.3,837.3 984,835.6C987.7,833.9 992.9,833.3 997.4,832.2C1001.9,831.1 1007.1,829.8 1010.8,828.8C1014.5,827.9 1017.1,827.1 1019.8,826.6C1022.4,826 1024.6,824.9 1026.5,825.5C1028.3,826 1030.4,828.1 1030.9,830C1031.5,831.8 1030.9,834.6 1029.8,836.7C1028.7,838.8 1026.6,840.8 1024.2,842.3C1021.8,843.8 1017.9,844.6 1015.3,845.7C1012.7,846.8 1011.2,847.6 1008.6,849.1C1006,850.5 1002.6,853 999.7,854.7C996.7,856.4 993.7,858 990.7,859.2C987.7,860.3 984.4,860.8 981.8,861.4C979.2,862 977.3,863 975.1,863C972.8,863 969.9,862.4 968.4,861.4C966.9,860.4 966,858.8 966.1,856.9Z" fill="url(#g11)" stroke="none" stroke-width="1.2" stroke-linejoin="round"/>
<path d="M915.9,889.5C915.5,887.1 917.6,884.3 919.2,881.6C920.9,879 923.3,875.6 925.9,873.8C928.5,871.9 931.9,871.1 934.9,870.4C937.8,869.7 940.8,869.9 943.8,869.7C946.8,869.5 949.8,869.2 952.7,869.3C955.7,869.4 959.1,869.6 961.7,870.4C964.3,871.1 966.5,871.9 968.4,873.8C970.2,875.6 971.9,879 972.8,881.6C973.8,884.3 974.3,887.1 974,889.5C973.6,891.9 972.3,894 970.6,896.2C968.9,898.5 966.3,901.4 963.9,903C961.5,904.5 958.9,905.5 956.1,905.7C953.3,905.9 950.3,904.2 947.2,904.1C944,903.9 940.3,905 937.1,904.8C933.9,904.6 930.8,904.4 928.2,903C925.6,901.6 923.5,898.5 921.5,896.2C919.4,894 916.3,891.9 915.9,889.5Z" fill="#46307e" stroke="#46307e" stroke-width="1.2" stroke-linejoin="round"/>
<path d="M928.2,909.7C929.3,907.8 933.9,905.7 937.1,904.8C940.3,903.8 944,903.9 947.2,904.1C950.3,904.2 953.3,905.9 956.1,905.7C958.9,905.5 961.5,904.4 963.9,903C966.3,901.6 968.4,898.7 970.6,897.4C972.8,896 974.9,895.3 977.3,895.1C979.7,894.9 982.7,895.5 985.1,896.2C987.6,897 990.2,897.9 991.8,899.6C993.4,901.3 994.6,904.1 994.7,906.3C994.9,908.6 994.2,911.2 992.9,913.1C991.7,915 989.6,916.3 987.4,917.6C985.1,918.9 982,919.6 979.5,921C977.1,922.3 974.7,923.6 972.8,925.4C971,927.3 969.4,929.6 968.4,932.2C967.3,934.8 966.7,938.2 966.6,941.2C966.5,944.2 967.9,947.2 967.9,950.2C967.9,953.2 967.4,956.2 966.6,959.1C965.7,962.1 964.9,966.8 962.8,968.1C960.7,969.4 956.6,967.5 953.9,967C951.1,966.6 948.6,966.2 946,965.4C943.4,964.7 940.3,963.9 938.2,962.5C936.2,961.1 934.4,959.1 933.8,956.9C933.1,954.7 933.5,951.1 934.4,949C935.4,947 937.4,945.7 939.3,944.5C941.3,943.4 945.3,943.6 946,942.3C946.8,941 944.9,938.7 943.8,936.7C942.7,934.6 940.8,932.2 939.3,929.9C937.8,927.7 936.4,925.4 934.9,923.2C933.4,921 931.5,918.7 930.4,916.5C929.3,914.2 927.1,911.7 928.2,909.7Z" fill="#46307e" stroke="#46307e" stroke-width="1.2" stroke-linejoin="round"/>
<path d="M966.6,938.9C967.4,935.2 968.8,932.6 970.6,929.9C972.4,927.3 974.7,925.1 977.3,923.2C979.9,921.3 983.1,919.5 986.2,918.7C989.4,918 993.3,918.9 996.3,918.7C999.3,918.5 1001.3,917.4 1004.1,917.6C1006.9,917.8 1010.1,918.9 1013.1,919.8C1016,920.8 1019.2,921.5 1022,923.2C1024.8,924.9 1028.2,927.7 1029.8,929.9C1031.4,932.2 1031.6,934.4 1031.4,936.7C1031.2,938.9 1030.1,941.2 1028.7,943.4C1027.3,945.7 1025,947.5 1023.1,950.2C1021.2,952.8 1019.6,956.5 1017.5,959.1C1015.5,961.8 1013.1,964 1010.8,965.9C1008.6,967.8 1006.2,968.5 1004.1,970.4C1002.1,972.3 1000.8,975.7 998.5,977.1C996.3,978.5 993.5,979.1 990.7,978.9C987.9,978.7 984.6,976.1 981.8,976C979,975.9 976.4,978.2 974,978.2C971.5,978.2 969.3,977.3 967.3,976C965.2,974.7 962.2,972.8 961.7,970.4C961.1,967.9 963.2,964.4 963.9,961.4C964.6,958.4 965.2,956.2 965.7,952.4C966.1,948.7 965.8,942.7 966.6,938.9Z" fill="#46307e" stroke="#46307e" stroke-width="1.2" stroke-linejoin="round"/>
<path d="M1104.6,891.7C1104.8,889.1 1107.2,886.1 1108,882.8C1108.7,879.4 1108.2,874.7 1109.1,871.5C1110,868.3 1111.3,865.7 1113.6,863.7C1115.8,861.6 1119.5,860.2 1122.5,859.2C1125.5,858.2 1128.1,858.1 1131.4,857.6C1134.8,857.1 1139.5,856 1142.6,856.2C1145.8,856.5 1148.4,857.4 1150.4,859.2C1152.5,861 1153.8,863.8 1154.9,867C1156,870.2 1156.9,874.5 1157.1,878.3C1157.3,882 1156.9,886.1 1156,889.5C1155.1,892.9 1153.4,896 1151.6,898.5C1149.7,900.9 1147.5,902.4 1144.9,904.1C1142.2,905.8 1138.9,907.8 1135.9,908.6C1132.9,909.3 1129.6,908.8 1127,908.6C1124.4,908.4 1122.5,907.6 1120.3,907.5C1118,907.4 1115.8,907.6 1113.6,907.9C1111.3,908.2 1108.4,909.9 1106.9,909.3C1105.4,908.6 1104.6,905.9 1104.6,904.1C1104.6,902.3 1106.9,900.5 1106.9,898.5C1106.9,896.4 1104.5,894.4 1104.6,891.7Z" fill="#46307e" stroke="#46307e" stroke-width="1.2" stroke-linejoin="round"/>
<path d="M1106.4,903C1107.1,901.9 1108.8,900.6 1110.2,900.3C1111.6,900 1113.4,900.4 1114.7,901.2C1116,902 1118,903.9 1118,905.2C1118,906.5 1116.2,908.1 1114.7,908.8C1113.2,909.5 1110.6,909.6 1109.1,909.3C1107.7,909 1106.4,908.1 1106,907C1105.5,906 1105.7,904.1 1106.4,903Z" fill="#46307e" stroke="#46307e" stroke-width="1.2" stroke-linejoin="round"/>
</g></g>
<g filter="url(#soft)"><g mask="url(#sk3)">
<path d="M915.9,889.5C915.5,887.1 917.6,884.3 919.2,881.6C920.9,879 923.3,875.6 925.9,873.8C928.5,871.9 931.9,871.1 934.9,870.4C937.8,869.7 940.8,869.9 943.8,869.7C946.8,869.5 949.8,869.2 952.7,869.3C955.7,869.4 959.1,869.6 961.7,870.4C964.3,871.1 966.5,871.9 968.4,873.8C970.2,875.6 971.9,879 972.8,881.6C973.8,884.3 974.3,887.1 974,889.5C973.6,891.9 972.3,894 970.6,896.2C968.9,898.5 966.3,901.4 963.9,903C961.5,904.5 958.9,905.5 956.1,905.7C953.3,905.9 950.3,904.2 947.2,904.1C944,903.9 940.3,905 937.1,904.8C933.9,904.6 930.8,904.4 928.2,903C925.6,901.6 923.5,898.5 921.5,896.2C919.4,894 916.3,891.9 915.9,889.5Z" fill="#2c728e" stroke="#2c728e" stroke-width="1.0" stroke-linejoin="round"/>
<path d="M928.2,909.7C929.3,907.8 933.9,905.7 937.1,904.8C940.3,903.8 944,903.9 947.2,904.1C950.3,904.2 953.3,905.9 956.1,905.7C958.9,905.5 961.5,904.4 963.9,903C966.3,901.6 968.4,898.7 970.6,897.4C972.8,896 974.9,895.3 977.3,895.1C979.7,894.9 982.7,895.5 985.1,896.2C987.6,897 990.2,897.9 991.8,899.6C993.4,901.3 994.6,904.1 994.7,906.3C994.9,908.6 994.2,911.2 992.9,913.1C991.7,915 989.6,916.3 987.4,917.6C985.1,918.9 982,919.6 979.5,921C977.1,922.3 974.7,923.6 972.8,925.4C971,927.3 969.4,929.6 968.4,932.2C967.3,934.8 966.7,938.2 966.6,941.2C966.5,944.2 967.9,947.2 967.9,950.2C967.9,953.2 967.4,956.2 966.6,959.1C965.7,962.1 964.9,966.8 962.8,968.1C960.7,969.4 956.6,967.5 953.9,967C951.1,966.6 948.6,966.2 946,965.4C943.4,964.7 940.3,963.9 938.2,962.5C936.2,961.1 934.4,959.1 933.8,956.9C933.1,954.7 933.5,951.1 934.4,949C935.4,947 937.4,945.7 939.3,944.5C941.3,943.4 945.3,943.6 946,942.3C946.8,941 944.9,938.7 943.8,936.7C942.7,934.6 940.8,932.2 939.3,929.9C937.8,927.7 936.4,925.4 934.9,923.2C933.4,921 931.5,918.7 930.4,916.5C929.3,914.2 927.1,911.7 928.2,909.7Z" fill="#3b528b" stroke="#3b528b" stroke-width="1.0" stroke-linejoin="round"/>
<path d="M966.6,938.9C967.4,935.2 968.8,932.6 970.6,929.9C972.4,927.3 974.7,925.1 977.3,923.2C979.9,921.3 983.1,919.5 986.2,918.7C989.4,918 993.3,918.9 996.3,918.7C999.3,918.5 1001.3,917.4 1004.1,917.6C1006.9,917.8 1010.1,918.9 1013.1,919.8C1016,920.8 1019.2,921.5 1022,923.2C1024.8,924.9 1028.2,927.7 1029.8,929.9C1031.4,932.2 1031.6,934.4 1031.4,936.7C1031.2,938.9 1030.1,941.2 1028.7,943.4C1027.3,945.7 1025,947.5 1023.1,950.2C1021.2,952.8 1019.6,956.5 1017.5,959.1C1015.5,961.8 1013.1,964 1010.8,965.9C1008.6,967.8 1006.2,968.5 1004.1,970.4C1002.1,972.3 1000.8,975.7 998.5,977.1C996.3,978.5 993.5,979.1 990.7,978.9C987.9,978.7 984.6,976.1 981.8,976C979,975.9 976.4,978.2 974,978.2C971.5,978.2 969.3,977.3 967.3,976C965.2,974.7 962.2,972.8 961.7,970.4C961.1,967.9 963.2,964.4 963.9,961.4C964.6,958.4 965.2,956.2 965.7,952.4C966.1,948.7 965.8,942.7 966.6,938.9Z" fill="#3b528b" stroke="#3b528b" stroke-width="1.0" stroke-linejoin="round"/>
<path d="M1104.6,891.7C1104.8,889.1 1107.2,886.1 1108,882.8C1108.7,879.4 1108.2,874.7 1109.1,871.5C1110,868.3 1111.3,865.7 1113.6,863.7C1115.8,861.6 1119.5,860.2 1122.5,859.2C1125.5,858.2 1128.1,858.1 1131.4,857.6C1134.8,857.1 1139.5,856 1142.6,856.2C1145.8,856.5 1148.4,857.4 1150.4,859.2C1152.5,861 1153.8,863.8 1154.9,867C1156,870.2 1156.9,874.5 1157.1,878.3C1157.3,882 1156.9,886.1 1156,889.5C1155.1,892.9 1153.4,896 1151.6,898.5C1149.7,900.9 1147.5,902.4 1144.9,904.1C1142.2,905.8 1138.9,907.8 1135.9,908.6C1132.9,909.3 1129.6,908.8 1127,908.6C1124.4,908.4 1122.5,907.6 1120.3,907.5C1118,907.4 1115.8,907.6 1113.6,907.9C1111.3,908.2 1108.4,909.9 1106.9,909.3C1105.4,908.6 1104.6,905.9 1104.6,904.1C1104.6,902.3 1106.9,900.5 1106.9,898.5C1106.9,896.4 1104.5,894.4 1104.6,891.7Z" fill="#3b528b" stroke="#3b528b" stroke-width="1.0" stroke-linejoin="round"/>
</g></g>
<g filter="url(#soft)"><g mask="url(#mkd)">
<path d="M146.6,1363.1C146.8,1362.3 148.9,1360.3 150,1358.6C151.1,1356.9 152.6,1354.9 153.4,1353C154.1,1351.1 153.8,1348.8 154.5,1347.4C155.3,1346 156.6,1344.8 157.9,1344.5C159.2,1344.1 161.4,1344.5 162.4,1345.1C163.3,1345.8 163.7,1347 163.5,1348.5C163.3,1350 162.2,1352.4 161.3,1354.1C160.3,1355.8 159.2,1357.5 157.9,1358.6C156.6,1359.8 154.9,1360 153.4,1360.9C151.9,1361.7 150,1363.4 148.9,1363.8C147.8,1364.2 146.4,1364 146.6,1363.1Z" fill="#c4dcc6" stroke="#c4dcc6" stroke-width="1.0" stroke-linejoin="round"/>
<path d="M200.6,1355.3C200.9,1354.5 201.9,1353.6 202.9,1353.5C203.9,1353.3 205.8,1353.6 206.7,1354.1C207.7,1354.6 208.5,1355.5 208.5,1356.4C208.5,1357.2 207.5,1358.7 206.7,1359.3C206,1359.9 204.9,1360 204,1359.8C203.1,1359.5 201.9,1358.7 201.3,1358C200.8,1357.2 200.4,1356 200.6,1355.3Z" fill="#f5a3d6" stroke="#f5a3d6" stroke-width="1.0" stroke-linejoin="round"/>
<path d="M246.8,1363.1C246.6,1361.4 247.5,1359.8 249,1358.6C250.5,1357.5 253.1,1356.6 255.8,1356.4C258.4,1356.1 262,1356.5 264.8,1357.1C267.6,1357.6 271,1358.6 272.6,1359.8C274.3,1361 274.9,1362.8 274.9,1364.3C274.9,1365.8 274.3,1367.6 272.6,1368.8C271,1369.9 267.6,1370.6 264.8,1371C262,1371.4 258.2,1371.4 255.8,1371C253.3,1370.6 251.6,1370.1 250.1,1368.8C248.6,1367.4 247,1364.8 246.8,1363.1Z" fill="#b9c0e6" stroke="#b9c0e6" stroke-width="1.0" stroke-linejoin="round"/>
<path d="M119.6,1374.4C119.8,1373.3 120.6,1371.8 121.9,1371C123.2,1370.3 125.4,1369.9 127.5,1369.9C129.6,1369.9 132.4,1370.3 134.3,1371C136.1,1371.8 138.2,1373.3 138.8,1374.4C139.3,1375.5 138.8,1376.9 137.6,1377.8C136.5,1378.6 134.1,1379.1 132,1379.3C129.9,1379.6 127.1,1379.6 125.3,1379.3C123.4,1379.1 121.7,1378.6 120.8,1377.8C119.8,1376.9 119.4,1375.5 119.6,1374.4Z" fill="#22c443" stroke="#22c443" stroke-width="1.0" stroke-linejoin="round"/>
<path d="M192.8,1383.4C193.5,1383 197.3,1384.2 199.5,1384.1C201.8,1383.9 203.6,1382.8 206.3,1382.7C208.9,1382.6 214,1382.7 215.3,1383.4C216.6,1384.1 215.3,1385.8 214.1,1386.8C213,1387.7 210.2,1388.3 208.5,1389C206.8,1389.8 205.5,1391.3 204,1391.3C202.5,1391.3 201,1389.8 199.5,1389C198,1388.2 196.1,1387.2 195,1386.3C193.9,1385.4 192,1383.8 192.8,1383.4Z" fill="#a0dad2" stroke="#a0dad2" stroke-width="1.0" stroke-linejoin="round"/>
<path d="M166.2,1376.6C166.2,1375.5 166.6,1374.3 168,1373.3C169.4,1372.2 172.1,1371 174.8,1370.6C177.4,1370.1 181.1,1370.2 183.8,1370.6C186.4,1370.9 188.8,1371.8 190.5,1372.8C192.2,1373.8 193.5,1375.2 193.9,1376.6C194.3,1378 193.7,1379.9 192.8,1381.1C191.8,1382.4 190.1,1383.5 188.3,1384.1C186.4,1384.6 183.9,1384.6 181.5,1384.5C179.1,1384.4 175.9,1384.1 173.6,1383.4C171.4,1382.6 169.2,1381.1 168,1380C166.8,1378.9 166.2,1377.8 166.2,1376.6Z" fill="#4d70e3" stroke="#4d70e3" stroke-width="1.0" stroke-linejoin="round"/>
<path d="M198.4,1400.3C198.7,1399.1 199.3,1398.2 200.6,1397.6C202,1396.9 204.4,1396.1 206.3,1396.2C208.1,1396.3 210.2,1397.1 211.9,1398C213.6,1398.9 214.7,1400.4 216.4,1401.4C218.1,1402.3 220.3,1402.8 222,1403.6C223.7,1404.5 226.5,1405.8 226.5,1406.6C226.5,1407.3 223.9,1407.7 222,1408.1C220.1,1408.6 217.5,1409 215.3,1409.3C213,1409.6 210.8,1410.1 208.5,1409.9C206.3,1409.7 203.3,1409 201.8,1408.1C200.2,1407.3 199.6,1406.1 199.1,1404.8C198.5,1403.4 198.1,1401.5 198.4,1400.3Z" fill="#900c40" stroke="#900c40" stroke-width="1.0" stroke-linejoin="round"/>
<path d="M213,1395.3C213.6,1394 217.1,1389.7 218.6,1387.9C220.2,1386.1 221.7,1384.8 222.5,1384.5C223.3,1384.2 223.8,1384.9 223.4,1385.9C222.9,1386.8 221.1,1388.5 219.8,1390.1C218.4,1391.8 216.4,1394.9 215.3,1395.8C214.1,1396.6 212.5,1396.6 213,1395.3Z" fill="#900c40" stroke="#900c40" stroke-width="1.0" stroke-linejoin="round"/>
<path d="M225.4,1392.4C225.6,1391.4 226.3,1390.3 227.6,1389.7C229,1389 231.8,1388.5 233.3,1388.6C234.8,1388.6 236.2,1389.2 236.6,1390.1C237.1,1391 236.9,1393 236,1394C235,1394.9 232.6,1395.5 231,1395.8C229.4,1396 227.5,1395.9 226.5,1395.3C225.6,1394.7 225.2,1393.3 225.4,1392.4Z" fill="#f1d9e1" stroke="#f1d9e1" stroke-width="1.0" stroke-linejoin="round"/>
<path d="M252.4,1389C252.2,1388.1 253.7,1386.8 254.6,1385.6C255.6,1384.5 257.1,1382.4 258,1382.3C259,1382.1 259.6,1383.6 260.3,1384.5C260.9,1385.4 261.9,1386.8 261.8,1387.9C261.8,1389 260.8,1390.8 259.8,1391.3C258.8,1391.7 257,1391.2 255.8,1390.8C254.5,1390.4 252.6,1389.9 252.4,1389Z" fill="#858585" stroke="#858585" stroke-width="1.0" stroke-linejoin="round"/>
<path d="M84.3,1395.3C85.1,1394.3 87.3,1393.1 89.3,1392.4C91.2,1391.7 93.8,1391.6 96,1391.3C98.3,1390.9 100.7,1390.3 102.8,1390.1C104.8,1389.9 106.5,1389.8 108.4,1390.1C110.3,1390.5 112.8,1391.5 114,1392.4C115.2,1393.2 116.2,1394.4 115.8,1395.3C115.4,1396.2 113.6,1397 111.8,1397.6C110,1398.1 107.6,1398.1 105,1398.5C102.4,1398.8 98.6,1399.5 96,1399.8C93.4,1400.1 91.1,1400.5 89.3,1400.3C87.4,1400 85.6,1399.3 84.8,1398.5C83.9,1397.6 83.6,1396.3 84.3,1395.3Z" fill="#90d290" stroke="#90d290" stroke-width="1.0" stroke-linejoin="round"/>
<path d="M127.1,1402.5C127.1,1402.2 128.9,1401.8 129.8,1401.8C130.7,1401.8 132.5,1402.2 132.5,1402.5C132.5,1402.8 130.7,1403.6 129.8,1403.6C128.9,1403.6 127.1,1402.8 127.1,1402.5Z" fill="#3a8a3a" stroke="#3a8a3a" stroke-width="1.0" stroke-linejoin="round"/>
<path d="M235.1,1403C235.6,1402.5 237.1,1401.7 238.9,1401.4C240.7,1401 244.3,1400.7 245.6,1400.9C247,1401.2 247.5,1402.4 246.8,1403C246,1403.5 243,1404.1 241.1,1404.3C239.3,1404.5 236.5,1404.5 235.5,1404.3C234.5,1404.1 234.5,1403.4 235.1,1403Z" fill="#22d5f5" stroke="#22d5f5" stroke-width="1.0" stroke-linejoin="round"/>
<path d="M280.5,1404.8C280.7,1403.1 281.5,1402.5 282.8,1401.4C284.1,1400.3 286.1,1399 288.4,1398C290.6,1397 293.5,1395.9 296.3,1395.3C299.1,1394.7 302.5,1394.5 305.3,1394.6C308.1,1394.8 310.9,1395.3 313.2,1396.2C315.4,1397.1 317.7,1399 318.8,1400.3C319.9,1401.5 320.3,1402.3 319.9,1403.6C319.5,1404.9 317.8,1406.6 316.5,1408.1C315.2,1409.6 313.9,1411.2 312,1412.6C310.2,1414 307.5,1415.3 305.3,1416.5C303,1417.6 300.8,1418.9 298.5,1419.4C296.3,1419.9 293.8,1419.9 291.8,1419.4C289.7,1418.8 287.8,1417.3 286.1,1416C284.5,1414.7 282.6,1413.4 281.6,1411.5C280.7,1409.6 280.3,1406.4 280.5,1404.8Z" fill="#0f3c9e" stroke="#0f3c9e" stroke-width="1.0" stroke-linejoin="round"/>
<path d="M139.2,1410.4C139.2,1409.1 140,1407.2 141,1405.9C142.1,1404.6 143.3,1403.4 145.5,1402.5C147.8,1401.6 151.5,1401.1 154.5,1400.7C157.5,1400.3 160.9,1400.6 163.5,1400.3C166.1,1399.9 168,1398.8 170.3,1398.5C172.5,1398.2 174.9,1398.8 177,1398.5C179.1,1398.1 180.9,1396.3 182.6,1396.2C184.3,1396.1 186,1397 187.1,1398C188.3,1399.1 189.4,1401 189.4,1402.5C189.4,1404 188.1,1405.5 187.1,1407C186.2,1408.5 184.7,1410.2 183.8,1411.5C182.8,1412.8 183,1414.1 181.5,1414.9C180,1415.6 177,1416 174.8,1416C172.5,1416 170.3,1415.3 168,1414.9C165.8,1414.5 163.5,1414 161.3,1413.8C159,1413.5 156.8,1413.3 154.5,1413.3C152.3,1413.3 150,1413.7 147.8,1413.8C145.5,1413.8 142.4,1414.3 141,1413.8C139.6,1413.2 139.2,1411.7 139.2,1410.4Z" fill="#c4c7db" stroke="#c4c7db" stroke-width="1.0" stroke-linejoin="round"/>
<path d="M99.4,1419.4C99.6,1418.8 101.4,1418.4 102.8,1418.3C104.1,1418.1 105.6,1418.1 107.3,1418.7C108.9,1419.3 111.4,1420.6 112.9,1421.6C114.4,1422.7 116.1,1424.1 116.3,1425C116.4,1425.9 115.3,1426.9 114,1427.3C112.7,1427.6 109.9,1427.6 108.4,1427.3C106.9,1426.9 106.1,1425.9 105,1425C103.9,1424.1 102.6,1422.6 101.6,1421.6C100.7,1420.7 99.2,1419.9 99.4,1419.4Z" fill="#e8960f" stroke="#e8960f" stroke-width="1.0" stroke-linejoin="round"/>
<path d="M206.3,1418.3C206.8,1417.5 208.3,1416.3 209.6,1416C211,1415.7 213,1416 214.1,1416.5C215.3,1416.9 216.4,1417.8 216.4,1418.7C216.4,1419.6 215.3,1421 214.1,1421.6C213,1422.2 210.9,1422.5 209.6,1422.3C208.4,1422.1 207.3,1421.2 206.7,1420.5C206.2,1419.8 205.8,1419 206.3,1418.3Z" fill="#f5c6e2" stroke="#f5c6e2" stroke-width="1.0" stroke-linejoin="round"/>
<path d="M144.4,1427.3C144.8,1425.6 146.1,1424.6 147.8,1423.9C149.4,1423.1 152.3,1422.9 154.5,1422.8C156.8,1422.6 159,1422.8 161.3,1422.8C163.5,1422.7 165.9,1422.7 168,1422.3C170.1,1421.9 172.1,1420.6 173.6,1420.5C175.1,1420.4 177.2,1420.9 177,1421.6C176.8,1422.4 173.8,1424.1 172.5,1425C171.2,1425.9 169.5,1426.1 169.1,1427.3C168.8,1428.4 169.7,1430.4 170.3,1431.8C170.8,1433.1 172.9,1434.2 172.5,1435.1C172.1,1436.1 169.5,1437 168,1437.4C166.5,1437.8 165,1436.8 163.5,1437.4C162,1437.9 160.5,1439.4 159,1440.8C157.5,1442.1 156.2,1444.3 154.5,1445.3C152.8,1446.2 150.5,1446.6 148.9,1446.4C147.3,1446.2 145.9,1445.4 145.1,1444.1C144.2,1442.8 143.6,1440.2 143.7,1438.5C143.8,1436.8 145.4,1435.9 145.5,1434C145.6,1432.1 144,1428.9 144.4,1427.3Z" fill="#c58a93" stroke="#c58a93" stroke-width="1.0" stroke-linejoin="round"/>
<path d="M186,1429.5C186.5,1427.8 187,1426.1 188.3,1425C189.6,1424 192,1423.4 193.9,1423.2C195.8,1423 198,1423.2 199.5,1423.9C201,1424.6 202.1,1425.9 202.9,1427.3C203.6,1428.6 202.7,1430.6 204,1431.8C205.3,1432.9 209.1,1433.1 210.8,1434C212.5,1434.9 213.8,1436.1 214.1,1437.4C214.5,1438.7 214,1440.8 213,1441.9C212.1,1443 210,1443 208.5,1444.1C207,1445.3 205.7,1447.9 204,1448.6C202.3,1449.4 199.9,1449.2 198.4,1448.6C196.9,1448.1 196.3,1446.2 195,1445.3C193.7,1444.3 191.8,1443.9 190.5,1443C189.2,1442.1 188,1440.9 187.1,1439.6C186.3,1438.3 185.8,1436.8 185.6,1435.1C185.4,1433.4 185.6,1431.2 186,1429.5Z" fill="#d8bcc2" stroke="#d8bcc2" stroke-width="1.0" stroke-linejoin="round"/>
<path d="M237.8,1421.6C238.1,1420.5 238.7,1419 240,1418.3C241.3,1417.5 243.8,1417.1 245.6,1417.1C247.5,1417.1 249.7,1417.3 251.3,1418.3C252.9,1419.2 254.6,1421.3 255.3,1422.8C256.1,1424.3 256.4,1426.1 255.8,1427.3C255.1,1428.4 253.1,1429.1 251.3,1429.5C249.4,1430 246.4,1430.1 244.5,1430C242.6,1429.8 241.1,1429.2 240,1428.4C238.9,1427.6 238.1,1426.1 237.8,1425C237.4,1423.9 237.4,1422.8 237.8,1421.6Z" fill="#e7a6b0" stroke="#e7a6b0" stroke-width="1.0" stroke-linejoin="round"/>
<path d="M69.5,1439C69.7,1437.9 70.8,1436.9 72.4,1436.3C74,1435.6 76.9,1435.1 79.1,1435.1C81.4,1435.1 84.2,1435.6 85.9,1436.3C87.6,1436.9 88.9,1437.8 89.3,1439C89.6,1440.1 89.3,1442 88.1,1443C87,1444 84.6,1444.6 82.5,1444.8C80.4,1445 77.7,1444.5 75.8,1444.1C73.8,1443.8 71.9,1443.4 70.8,1442.6C69.8,1441.7 69.2,1440 69.5,1439Z" fill="#e8d2c6" stroke="#e8d2c6" stroke-width="1.0" stroke-linejoin="round"/>
<path d="M114,1445.7C114.3,1444.8 115.4,1443.9 116.7,1443.5C118,1443 120.5,1442.6 121.9,1443C123.2,1443.4 124.5,1444.7 124.8,1445.7C125.1,1446.8 124.4,1448.6 123.5,1449.3C122.5,1450.1 120.3,1450.3 119,1450.2C117.6,1450.1 116,1449.4 115.1,1448.6C114.3,1447.9 113.7,1446.6 114,1445.7Z" fill="#d2e9e5" stroke="#d2e9e5" stroke-width="1.0" stroke-linejoin="round"/>
<path d="M261.4,1435.8C261.4,1435.3 263.8,1434.4 264.8,1434.5C265.8,1434.5 267.5,1435.7 267.5,1436.3C267.5,1436.8 265.8,1437.7 264.8,1437.6C263.8,1437.5 261.4,1436.3 261.4,1435.8Z" fill="#b5b5b5" stroke="#b5b5b5" stroke-width="1.0" stroke-linejoin="round"/>
<path d="M276,1435.1C276,1434.6 278.3,1433.9 279.4,1434C280.5,1434.1 282.8,1435.2 282.8,1435.8C282.8,1436.4 280.5,1437.5 279.4,1437.4C278.3,1437.3 276,1435.7 276,1435.1Z" fill="#b5b5b5" stroke="#b5b5b5" stroke-width="1.0" stroke-linejoin="round"/>
<path d="M243.4,1452C243.6,1450.9 245.8,1449.8 246.8,1448.6C247.7,1447.5 247.9,1446.1 249,1445.3C250.1,1444.4 251.3,1443.6 253.5,1443.5C255.8,1443.3 260.3,1443.5 262.5,1444.1C264.8,1444.8 264.8,1446.2 267,1447.5C269.3,1448.8 273.4,1450.5 276,1452C278.6,1453.5 281.6,1455 282.8,1456.5C284,1458 283.8,1459.7 283.2,1461C282.7,1462.3 281.3,1463.5 279.4,1464.4C277.4,1465.3 274,1466.1 271.5,1466.6C269.1,1467.2 266.8,1467 264.8,1467.8C262.7,1468.5 260.6,1470.8 259.1,1471.1C257.6,1471.5 256.9,1470.6 255.8,1470C254.6,1469.5 253.5,1468.7 252.4,1467.8C251.3,1466.8 250,1465.7 249,1464.4C248.1,1463.1 247.3,1461.4 246.8,1459.9C246.2,1458.4 246.2,1456.7 245.6,1455.4C245.1,1454.1 243.2,1453.1 243.4,1452Z" fill="#8a92c2" stroke="#8a92c2" stroke-width="1.0" stroke-linejoin="round"/>
<path d="M82.5,1468.9C82.8,1467.9 83.7,1466.6 85.2,1466C86.7,1465.3 89.6,1464.8 91.5,1465.1C93.4,1465.3 95.5,1466.5 96.5,1467.3C97.4,1468.1 97.6,1469.1 97.1,1470C96.7,1470.9 95.3,1472.2 93.8,1472.7C92.3,1473.3 89.8,1473.5 88.1,1473.4C86.4,1473.2 84.6,1472.6 83.6,1471.8C82.7,1471.1 82.2,1469.9 82.5,1468.9Z" fill="#d6476f" stroke="#d6476f" stroke-width="1.0" stroke-linejoin="round"/>
<path d="M97.1,1471.1C97.5,1470.5 99.2,1470.5 100.5,1470.5C101.8,1470.5 104.1,1470.7 105,1471.1C105.9,1471.6 106.3,1472.5 106.1,1473.4C105.9,1474.3 104.8,1476.2 103.9,1476.8C102.9,1477.3 101.4,1477.1 100.5,1476.8C99.6,1476.4 98.8,1475.5 98.3,1474.5C97.7,1473.6 96.8,1471.8 97.1,1471.1Z" fill="#d6476f" stroke="#d6476f" stroke-width="1.0" stroke-linejoin="round"/>
<path d="M125.7,1473.4C125.9,1472.3 127.2,1471.4 128.6,1470.9C130.1,1470.4 132.6,1470.2 134.3,1470.5C135.9,1470.7 137.8,1471.5 138.8,1472.3C139.7,1473 140.1,1474 139.9,1475C139.7,1475.9 138.9,1477.3 137.6,1477.9C136.3,1478.5 133.7,1478.7 132,1478.6C130.3,1478.5 128.6,1478.1 127.5,1477.2C126.5,1476.4 125.5,1474.4 125.7,1473.4Z" fill="#f0b47f" stroke="#f0b47f" stroke-width="1.0" stroke-linejoin="round"/>
<path d="M162.4,1470C162.4,1468.4 163.3,1466.7 164.6,1465.5C165.9,1464.3 168.2,1463.3 170.3,1462.8C172.3,1462.4 174.9,1462.4 177,1462.8C179.1,1463.3 181.4,1464.3 182.6,1465.5C183.8,1466.7 184.2,1468.5 184.2,1470C184.2,1471.5 183.8,1473.3 182.6,1474.5C181.4,1475.7 179.1,1476.7 177,1477.2C174.9,1477.7 172.3,1477.8 170.3,1477.4C168.2,1477.1 165.9,1476.2 164.6,1475C163.3,1473.7 162.4,1471.6 162.4,1470Z" fill="#8898e4" stroke="#8898e4" stroke-width="1.0" stroke-linejoin="round"/>
<path d="M207.4,1474.5C207.7,1473.5 208.3,1472 209.6,1471.1C211,1470.3 213.4,1469.7 215.3,1469.6C217.1,1469.5 219.6,1469.7 220.9,1470.5C222.2,1471.2 223,1472.8 223.1,1474.1C223.3,1475.3 223.1,1477 222,1477.9C220.9,1478.8 218.3,1479.3 216.4,1479.5C214.5,1479.7 212.2,1479.4 210.8,1479C209.4,1478.6 208.6,1478 208.1,1477.2C207.5,1476.5 207.1,1475.5 207.4,1474.5Z" fill="#e07b8d" stroke="#e07b8d" stroke-width="1.0" stroke-linejoin="round"/>
<path d="M169.1,1501.5C169.2,1500.5 170.3,1498.9 171.4,1498.1C172.5,1497.4 174.5,1496.9 175.9,1497C177.3,1497.1 178.8,1498 179.7,1498.8C180.6,1499.6 181.1,1501 181.1,1502C181,1503 180.3,1504.3 179.3,1504.9C178.2,1505.5 176.2,1505.7 174.8,1505.6C173.3,1505.5 171.6,1504.9 170.7,1504.2C169.8,1503.5 169,1502.5 169.1,1501.5Z" fill="#25c8c2" stroke="#25c8c2" stroke-width="1.0" stroke-linejoin="round"/>
</g></g>
<g filter="url(#soft)"><g mask="url(#mkd)">
<path d="M474.4,1363.1C474.6,1362.3 476.7,1360.3 477.8,1358.6C478.9,1356.9 480.4,1354.9 481.2,1353C481.9,1351.1 481.6,1348.8 482.3,1347.4C483.1,1346 484.4,1344.8 485.7,1344.5C487,1344.1 489.2,1344.5 490.2,1345.1C491.1,1345.8 491.5,1347 491.3,1348.5C491.1,1350 490,1352.4 489.1,1354.1C488.1,1355.8 487,1357.5 485.7,1358.6C484.4,1359.8 482.7,1360 481.2,1360.9C479.7,1361.7 477.8,1363.4 476.7,1363.8C475.6,1364.2 474.2,1364 474.4,1363.1Z" fill="#2a7cb8" stroke="#2a7cb8" stroke-width="1.0" stroke-linejoin="round"/>
<path d="M528.4,1355.3C528.7,1354.5 529.7,1353.6 530.7,1353.5C531.7,1353.3 533.6,1353.6 534.5,1354.1C535.5,1354.6 536.3,1355.5 536.3,1356.4C536.3,1357.2 535.3,1358.7 534.5,1359.3C533.8,1359.9 532.7,1360 531.8,1359.8C530.9,1359.5 529.7,1358.7 529.1,1358C528.6,1357.2 528.2,1356 528.4,1355.3Z" fill="#2a7cb8" stroke="#2a7cb8" stroke-width="1.0" stroke-linejoin="round"/>
<path d="M574.6,1363.1C574.4,1361.4 575.3,1359.8 576.8,1358.6C578.3,1357.5 580.9,1356.6 583.6,1356.4C586.2,1356.1 589.8,1356.5 592.6,1357.1C595.4,1357.6 598.8,1358.6 600.4,1359.8C602.1,1361 602.7,1362.8 602.7,1364.3C602.7,1365.8 602.1,1367.6 600.4,1368.8C598.8,1369.9 595.4,1370.6 592.6,1371C589.8,1371.4 586,1371.4 583.6,1371C581.1,1370.6 579.4,1370.1 577.9,1368.8C576.4,1367.4 574.8,1364.8 574.6,1363.1Z" fill="#d62728" stroke="#d62728" stroke-width="1.0" stroke-linejoin="round"/>
<path d="M447.4,1374.4C447.6,1373.3 448.4,1371.8 449.7,1371C451,1370.3 453.2,1369.9 455.3,1369.9C457.4,1369.9 460.2,1370.3 462.1,1371C463.9,1371.8 466,1373.3 466.6,1374.4C467.1,1375.5 466.6,1376.9 465.4,1377.8C464.3,1378.6 461.9,1379.1 459.8,1379.3C457.7,1379.6 454.9,1379.6 453.1,1379.3C451.2,1379.1 449.5,1378.6 448.6,1377.8C447.6,1376.9 447.2,1375.5 447.4,1374.4Z" fill="#ff7f0e" stroke="#ff7f0e" stroke-width="1.0" stroke-linejoin="round"/>
<path d="M520.6,1383.4C521.3,1383 525.1,1384.2 527.3,1384.1C529.6,1383.9 531.4,1382.8 534.1,1382.7C536.7,1382.6 541.8,1382.7 543.1,1383.4C544.4,1384.1 543.1,1385.8 541.9,1386.8C540.8,1387.7 538,1388.3 536.3,1389C534.6,1389.8 533.3,1391.3 531.8,1391.3C530.3,1391.3 528.8,1389.8 527.3,1389C525.8,1388.2 523.9,1387.2 522.8,1386.3C521.7,1385.4 519.8,1383.8 520.6,1383.4Z" fill="#2a7cb8" stroke="#2a7cb8" stroke-width="1.0" stroke-linejoin="round"/>
<path d="M494,1376.6C494,1375.5 494.4,1374.3 495.8,1373.3C497.2,1372.2 499.9,1371 502.6,1370.6C505.2,1370.1 508.9,1370.2 511.6,1370.6C514.2,1370.9 516.6,1371.8 518.3,1372.8C520,1373.8 521.3,1375.2 521.7,1376.6C522.1,1378 521.5,1379.9 520.6,1381.1C519.6,1382.4 517.9,1383.5 516.1,1384.1C514.2,1384.6 511.7,1384.6 509.3,1384.5C506.9,1384.4 503.7,1384.1 501.4,1383.4C499.2,1382.6 497,1381.1 495.8,1380C494.6,1378.9 494,1377.8 494,1376.6Z" fill="url(#g13)" stroke="none" stroke-width="1.0" stroke-linejoin="round"/>
<path d="M526.2,1400.3C526.5,1399.1 527.1,1398.2 528.4,1397.6C529.8,1396.9 532.2,1396.1 534.1,1396.2C535.9,1396.3 538,1397.1 539.7,1398C541.4,1398.9 542.5,1400.4 544.2,1401.4C545.9,1402.3 548.1,1402.8 549.8,1403.6C551.5,1404.5 554.3,1405.8 554.3,1406.6C554.3,1407.3 551.7,1407.7 549.8,1408.1C547.9,1408.6 545.3,1409 543.1,1409.3C540.8,1409.6 538.6,1410.1 536.3,1409.9C534.1,1409.7 531.1,1409 529.6,1408.1C528,1407.3 527.4,1406.1 526.9,1404.8C526.3,1403.4 525.9,1401.5 526.2,1400.3Z" fill="#d62728" stroke="#d62728" stroke-width="1.0" stroke-linejoin="round"/>
<path d="M540.8,1395.3C541.4,1394 544.9,1389.7 546.4,1387.9C548,1386.1 549.5,1384.8 550.3,1384.5C551.1,1384.2 551.6,1384.9 551.2,1385.9C550.7,1386.8 548.9,1388.5 547.6,1390.1C546.2,1391.8 544.2,1394.9 543.1,1395.8C541.9,1396.6 540.3,1396.6 540.8,1395.3Z" fill="#d62728" stroke="#d62728" stroke-width="1.0" stroke-linejoin="round"/>
<path d="M553.2,1392.4C553.4,1391.4 554.1,1390.3 555.4,1389.7C556.8,1389 559.6,1388.5 561.1,1388.6C562.6,1388.6 564,1389.2 564.4,1390.1C564.9,1391 564.7,1393 563.8,1394C562.8,1394.9 560.4,1395.5 558.8,1395.8C557.2,1396 555.3,1395.9 554.3,1395.3C553.4,1394.7 553,1393.3 553.2,1392.4Z" fill="#ff7f0e" stroke="#ff7f0e" stroke-width="1.0" stroke-linejoin="round"/>
<path d="M580.2,1389C580,1388.1 581.5,1386.8 582.4,1385.6C583.4,1384.5 584.9,1382.4 585.8,1382.3C586.8,1382.1 587.4,1383.6 588.1,1384.5C588.7,1385.4 589.7,1386.8 589.6,1387.9C589.6,1389 588.6,1390.8 587.6,1391.3C586.6,1391.7 584.8,1391.2 583.6,1390.8C582.3,1390.4 580.4,1389.9 580.2,1389Z" fill="#d62728" stroke="#d62728" stroke-width="1.0" stroke-linejoin="round"/>
<path d="M412.1,1395.3C412.9,1394.3 415.1,1393.1 417.1,1392.4C419,1391.7 421.6,1391.6 423.8,1391.3C426.1,1390.9 428.5,1390.3 430.6,1390.1C432.6,1389.9 434.3,1389.8 436.2,1390.1C438.1,1390.5 440.6,1391.5 441.8,1392.4C443,1393.2 444,1394.4 443.6,1395.3C443.2,1396.2 441.4,1397 439.6,1397.6C437.8,1398.1 435.4,1398.1 432.8,1398.5C430.2,1398.8 426.4,1399.5 423.8,1399.8C421.2,1400.1 418.9,1400.5 417.1,1400.3C415.2,1400 413.4,1399.3 412.6,1398.5C411.7,1397.6 411.4,1396.3 412.1,1395.3Z" fill="#ff7f0e" stroke="#ff7f0e" stroke-width="1.0" stroke-linejoin="round"/>
<path d="M454.9,1402.5C454.9,1402.2 456.7,1401.8 457.6,1401.8C458.5,1401.8 460.3,1402.2 460.3,1402.5C460.3,1402.8 458.5,1403.6 457.6,1403.6C456.7,1403.6 454.9,1402.8 454.9,1402.5Z" fill="#2a7cb8" stroke="#2a7cb8" stroke-width="1.0" stroke-linejoin="round"/>
<path d="M562.9,1403C563.4,1402.5 564.9,1401.7 566.7,1401.4C568.5,1401 572.1,1400.7 573.4,1400.9C574.8,1401.2 575.3,1402.4 574.6,1403C573.8,1403.5 570.8,1404.1 568.9,1404.3C567.1,1404.5 564.3,1404.5 563.3,1404.3C562.3,1404.1 562.3,1403.4 562.9,1403Z" fill="#2ca02c" stroke="#2ca02c" stroke-width="1.0" stroke-linejoin="round"/>
<path d="M608.3,1404.8C608.5,1403.1 609.3,1402.5 610.6,1401.4C611.9,1400.3 613.9,1399 616.2,1398C618.4,1397 621.3,1395.9 624.1,1395.3C626.9,1394.7 630.3,1394.5 633.1,1394.6C635.9,1394.8 638.7,1395.3 641,1396.2C643.2,1397.1 645.5,1399 646.6,1400.3C647.7,1401.5 648.1,1402.3 647.7,1403.6C647.3,1404.9 645.6,1406.6 644.3,1408.1C643,1409.6 641.7,1411.2 639.8,1412.6C638,1414 635.3,1415.3 633.1,1416.5C630.8,1417.6 628.6,1418.9 626.3,1419.4C624.1,1419.9 621.6,1419.9 619.6,1419.4C617.5,1418.8 615.6,1417.3 613.9,1416C612.3,1414.7 610.4,1413.4 609.4,1411.5C608.5,1409.6 608.1,1406.4 608.3,1404.8Z" fill="#d62728" stroke="#d62728" stroke-width="1.0" stroke-linejoin="round"/>
<path d="M467,1410.4C467,1409.1 467.8,1407.2 468.8,1405.9C469.9,1404.6 471.1,1403.4 473.3,1402.5C475.6,1401.6 479.3,1401.1 482.3,1400.7C485.3,1400.3 488.7,1400.6 491.3,1400.3C493.9,1399.9 495.8,1398.8 498.1,1398.5C500.3,1398.2 502.7,1398.8 504.8,1398.5C506.9,1398.1 508.7,1396.3 510.4,1396.2C512.1,1396.1 513.8,1397 514.9,1398C516.1,1399.1 517.2,1401 517.2,1402.5C517.2,1404 515.9,1405.5 514.9,1407C514,1408.5 512.5,1410.2 511.6,1411.5C510.6,1412.8 510.8,1414.1 509.3,1414.9C507.8,1415.6 504.8,1416 502.6,1416C500.3,1416 498.1,1415.3 495.8,1414.9C493.6,1414.5 491.3,1414 489.1,1413.8C486.8,1413.5 484.6,1413.3 482.3,1413.3C480.1,1413.3 477.8,1413.7 475.6,1413.8C473.3,1413.8 470.2,1414.3 468.8,1413.8C467.4,1413.2 467,1411.7 467,1410.4Z" fill="#2a7cb8" stroke="#2a7cb8" stroke-width="1.0" stroke-linejoin="round"/>
<path d="M427.2,1419.4C427.4,1418.8 429.2,1418.4 430.6,1418.3C431.9,1418.1 433.4,1418.1 435.1,1418.7C436.7,1419.3 439.2,1420.6 440.7,1421.6C442.2,1422.7 443.9,1424.1 444.1,1425C444.2,1425.9 443.1,1426.9 441.8,1427.3C440.5,1427.6 437.7,1427.6 436.2,1427.3C434.7,1426.9 433.9,1425.9 432.8,1425C431.7,1424.1 430.4,1422.6 429.4,1421.6C428.5,1420.7 427,1419.9 427.2,1419.4Z" fill="#2a7cb8" stroke="#2a7cb8" stroke-width="1.0" stroke-linejoin="round"/>
<path d="M534.1,1418.3C534.6,1417.5 536.1,1416.3 537.4,1416C538.8,1415.7 540.8,1416 541.9,1416.5C543.1,1416.9 544.2,1417.8 544.2,1418.7C544.2,1419.6 543.1,1421 541.9,1421.6C540.8,1422.2 538.7,1422.5 537.4,1422.3C536.2,1422.1 535.1,1421.2 534.5,1420.5C534,1419.8 533.6,1419 534.1,1418.3Z" fill="#2a7cb8" stroke="#2a7cb8" stroke-width="1.0" stroke-linejoin="round"/>
<path d="M472.2,1427.3C472.6,1425.6 473.9,1424.6 475.6,1423.9C477.2,1423.1 480.1,1422.9 482.3,1422.8C484.6,1422.6 486.8,1422.8 489.1,1422.8C491.3,1422.7 493.7,1422.7 495.8,1422.3C497.9,1421.9 499.9,1420.6 501.4,1420.5C502.9,1420.4 505,1420.9 504.8,1421.6C504.6,1422.4 501.6,1424.1 500.3,1425C499,1425.9 497.3,1426.1 496.9,1427.3C496.6,1428.4 497.5,1430.4 498.1,1431.8C498.6,1433.1 500.7,1434.2 500.3,1435.1C499.9,1436.1 497.3,1437 495.8,1437.4C494.3,1437.8 492.8,1436.8 491.3,1437.4C489.8,1437.9 488.3,1439.4 486.8,1440.8C485.3,1442.1 484,1444.3 482.3,1445.3C480.6,1446.2 478.3,1446.6 476.7,1446.4C475.1,1446.2 473.7,1445.4 472.9,1444.1C472,1442.8 471.4,1440.2 471.5,1438.5C471.6,1436.8 473.2,1435.9 473.3,1434C473.4,1432.1 471.8,1428.9 472.2,1427.3Z" fill="#d62728" stroke="#d62728" stroke-width="1.0" stroke-linejoin="round"/>
<path d="M513.8,1429.5C514.3,1427.8 514.8,1426.1 516.1,1425C517.4,1424 519.8,1423.4 521.7,1423.2C523.6,1423 525.8,1423.2 527.3,1423.9C528.8,1424.6 529.9,1425.9 530.7,1427.3C531.4,1428.6 530.5,1430.6 531.8,1431.8C533.1,1432.9 536.9,1433.1 538.6,1434C540.3,1434.9 541.6,1436.1 541.9,1437.4C542.3,1438.7 541.8,1440.8 540.8,1441.9C539.9,1443 537.8,1443 536.3,1444.1C534.8,1445.3 533.5,1447.9 531.8,1448.6C530.1,1449.4 527.7,1449.2 526.2,1448.6C524.7,1448.1 524.1,1446.2 522.8,1445.3C521.5,1444.3 519.6,1443.9 518.3,1443C517,1442.1 515.8,1440.9 514.9,1439.6C514.1,1438.3 513.6,1436.8 513.4,1435.1C513.2,1433.4 513.4,1431.2 513.8,1429.5Z" fill="#2a7cb8" stroke="#2a7cb8" stroke-width="1.0" stroke-linejoin="round"/>
<path d="M565.6,1421.6C565.9,1420.5 566.5,1419 567.8,1418.3C569.1,1417.5 571.6,1417.1 573.4,1417.1C575.3,1417.1 577.5,1417.3 579.1,1418.3C580.7,1419.2 582.4,1421.3 583.1,1422.8C583.9,1424.3 584.2,1426.1 583.6,1427.3C582.9,1428.4 580.9,1429.1 579.1,1429.5C577.2,1430 574.2,1430.1 572.3,1430C570.4,1429.8 568.9,1429.2 567.8,1428.4C566.7,1427.6 565.9,1426.1 565.6,1425C565.2,1423.9 565.2,1422.8 565.6,1421.6Z" fill="#2a7cb8" stroke="#2a7cb8" stroke-width="1.0" stroke-linejoin="round"/>
<path d="M397.3,1439C397.5,1437.9 398.6,1436.9 400.2,1436.3C401.8,1435.6 404.7,1435.1 406.9,1435.1C409.2,1435.1 412,1435.6 413.7,1436.3C415.4,1436.9 416.7,1437.8 417.1,1439C417.4,1440.1 417.1,1442 415.9,1443C414.8,1444 412.4,1444.6 410.3,1444.8C408.2,1445 405.5,1444.5 403.6,1444.1C401.6,1443.8 399.7,1443.4 398.6,1442.6C397.6,1441.7 397,1440 397.3,1439Z" fill="#ff7f0e" stroke="#ff7f0e" stroke-width="1.0" stroke-linejoin="round"/>
<path d="M441.8,1445.7C442.1,1444.8 443.2,1443.9 444.5,1443.5C445.8,1443 448.3,1442.6 449.7,1443C451,1443.4 452.3,1444.7 452.6,1445.7C452.9,1446.8 452.2,1448.6 451.3,1449.3C450.3,1450.1 448.1,1450.3 446.8,1450.2C445.4,1450.1 443.8,1449.4 442.9,1448.6C442.1,1447.9 441.5,1446.6 441.8,1445.7Z" fill="#2a7cb8" stroke="#2a7cb8" stroke-width="1.0" stroke-linejoin="round"/>
<path d="M589.2,1435.8C589.2,1435.3 591.6,1434.4 592.6,1434.5C593.6,1434.5 595.3,1435.7 595.3,1436.3C595.3,1436.8 593.6,1437.7 592.6,1437.6C591.6,1437.5 589.2,1436.3 589.2,1435.8Z" fill="#d62728" stroke="#d62728" stroke-width="1.0" stroke-linejoin="round"/>
<path d="M603.8,1435.1C603.8,1434.6 606.1,1433.9 607.2,1434C608.3,1434.1 610.6,1435.2 610.6,1435.8C610.6,1436.4 608.3,1437.5 607.2,1437.4C606.1,1437.3 603.8,1435.7 603.8,1435.1Z" fill="#d62728" stroke="#d62728" stroke-width="1.0" stroke-linejoin="round"/>
<path d="M571.2,1452C571.4,1450.9 573.6,1449.8 574.6,1448.6C575.5,1447.5 575.7,1446.1 576.8,1445.3C577.9,1444.4 579.1,1443.6 581.3,1443.5C583.6,1443.3 588.1,1443.5 590.3,1444.1C592.6,1444.8 592.6,1446.2 594.8,1447.5C597.1,1448.8 601.2,1450.5 603.8,1452C606.4,1453.5 609.4,1455 610.6,1456.5C611.8,1458 611.6,1459.7 611,1461C610.5,1462.3 609.1,1463.5 607.2,1464.4C605.2,1465.3 601.8,1466.1 599.3,1466.6C596.9,1467.2 594.6,1467 592.6,1467.8C590.5,1468.5 588.4,1470.8 586.9,1471.1C585.4,1471.5 584.7,1470.6 583.6,1470C582.4,1469.5 581.3,1468.7 580.2,1467.8C579.1,1466.8 577.8,1465.7 576.8,1464.4C575.9,1463.1 575.1,1461.4 574.6,1459.9C574,1458.4 574,1456.7 573.4,1455.4C572.9,1454.1 571,1453.1 571.2,1452Z" fill="url(#g12)" stroke="none" stroke-width="1.0" stroke-linejoin="round"/>
<path d="M410.3,1468.9C410.6,1467.9 411.5,1466.6 413,1466C414.5,1465.3 417.4,1464.8 419.3,1465.1C421.2,1465.3 423.3,1466.5 424.3,1467.3C425.2,1468.1 425.4,1469.1 424.9,1470C424.5,1470.9 423.1,1472.2 421.6,1472.7C420.1,1473.3 417.6,1473.5 415.9,1473.4C414.2,1473.2 412.4,1472.6 411.4,1471.8C410.5,1471.1 410,1469.9 410.3,1468.9Z" fill="#ff7f0e" stroke="#ff7f0e" stroke-width="1.0" stroke-linejoin="round"/>
<path d="M424.9,1471.1C425.3,1470.5 427,1470.5 428.3,1470.5C429.6,1470.5 431.9,1470.7 432.8,1471.1C433.7,1471.6 434.1,1472.5 433.9,1473.4C433.7,1474.3 432.6,1476.2 431.7,1476.8C430.7,1477.3 429.2,1477.1 428.3,1476.8C427.4,1476.4 426.6,1475.5 426.1,1474.5C425.5,1473.6 424.6,1471.8 424.9,1471.1Z" fill="#ff7f0e" stroke="#ff7f0e" stroke-width="1.0" stroke-linejoin="round"/>
<path d="M453.5,1473.4C453.7,1472.3 455,1471.4 456.4,1470.9C457.9,1470.4 460.4,1470.2 462.1,1470.5C463.7,1470.7 465.6,1471.5 466.6,1472.3C467.5,1473 467.9,1474 467.7,1475C467.5,1475.9 466.7,1477.3 465.4,1477.9C464.1,1478.5 461.5,1478.7 459.8,1478.6C458.1,1478.5 456.4,1478.1 455.3,1477.2C454.3,1476.4 453.3,1474.4 453.5,1473.4Z" fill="#2a7cb8" stroke="#2a7cb8" stroke-width="1.0" stroke-linejoin="round"/>
<path d="M490.2,1470C490.2,1468.4 491.1,1466.7 492.4,1465.5C493.7,1464.3 496,1463.3 498.1,1462.8C500.1,1462.4 502.7,1462.4 504.8,1462.8C506.9,1463.3 509.2,1464.3 510.4,1465.5C511.6,1466.7 512,1468.5 512,1470C512,1471.5 511.6,1473.3 510.4,1474.5C509.2,1475.7 506.9,1476.7 504.8,1477.2C502.7,1477.7 500.1,1477.8 498.1,1477.4C496,1477.1 493.7,1476.2 492.4,1475C491.1,1473.7 490.2,1471.6 490.2,1470Z" fill="#2a7cb8" stroke="#2a7cb8" stroke-width="1.0" stroke-linejoin="round"/>
<path d="M535.2,1474.5C535.5,1473.5 536.1,1472 537.4,1471.1C538.8,1470.3 541.2,1469.7 543.1,1469.6C544.9,1469.5 547.4,1469.7 548.7,1470.5C550,1471.2 550.8,1472.8 550.9,1474.1C551.1,1475.3 550.9,1477 549.8,1477.9C548.7,1478.8 546.1,1479.3 544.2,1479.5C542.3,1479.7 540,1479.4 538.6,1479C537.2,1478.6 536.4,1478 535.9,1477.2C535.3,1476.5 534.9,1475.5 535.2,1474.5Z" fill="#2a7cb8" stroke="#2a7cb8" stroke-width="1.0" stroke-linejoin="round"/>
<path d="M496.9,1501.5C497,1500.5 498.1,1498.9 499.2,1498.1C500.3,1497.4 502.3,1496.9 503.7,1497C505.1,1497.1 506.6,1498 507.5,1498.8C508.4,1499.6 508.9,1501 508.9,1502C508.8,1503 508.1,1504.3 507.1,1504.9C506,1505.5 504,1505.7 502.6,1505.6C501.1,1505.5 499.4,1504.9 498.5,1504.2C497.6,1503.5 496.8,1502.5 496.9,1501.5Z" fill="#2a7cb8" stroke="#2a7cb8" stroke-width="1.0" stroke-linejoin="round"/>
</g></g>
<g filter="url(#soft)"><g mask="url(#sk1)">
<path d="M520.6,1383.4C521.3,1383 525.1,1384.2 527.3,1384.1C529.6,1383.9 531.4,1382.8 534.1,1382.7C536.7,1382.6 541.8,1382.7 543.1,1383.4C544.4,1384.1 543.1,1385.8 541.9,1386.8C540.8,1387.7 538,1388.3 536.3,1389C534.6,1389.8 533.3,1391.3 531.8,1391.3C530.3,1391.3 528.8,1389.8 527.3,1389C525.8,1388.2 523.9,1387.2 522.8,1386.3C521.7,1385.4 519.8,1383.8 520.6,1383.4Z" fill="#ff7f0e" stroke="#ff7f0e" stroke-width="1.0" stroke-linejoin="round"/>
<path d="M472.2,1427.3C472.6,1425.6 473.9,1424.6 475.6,1423.9C477.2,1423.1 480.1,1422.9 482.3,1422.8C484.6,1422.6 486.8,1422.8 489.1,1422.8C491.3,1422.7 493.7,1422.7 495.8,1422.3C497.9,1421.9 499.9,1420.6 501.4,1420.5C502.9,1420.4 505,1420.9 504.8,1421.6C504.6,1422.4 501.6,1424.1 500.3,1425C499,1425.9 497.3,1426.1 496.9,1427.3C496.6,1428.4 497.5,1430.4 498.1,1431.8C498.6,1433.1 500.7,1434.2 500.3,1435.1C499.9,1436.1 497.3,1437 495.8,1437.4C494.3,1437.8 492.8,1436.8 491.3,1437.4C489.8,1437.9 488.3,1439.4 486.8,1440.8C485.3,1442.1 484,1444.3 482.3,1445.3C480.6,1446.2 478.3,1446.6 476.7,1446.4C475.1,1446.2 473.7,1445.4 472.9,1444.1C472,1442.8 471.4,1440.2 471.5,1438.5C471.6,1436.8 473.2,1435.9 473.3,1434C473.4,1432.1 471.8,1428.9 472.2,1427.3Z" fill="#2a7cb8" stroke="#2a7cb8" stroke-width="1.0" stroke-linejoin="round"/>
<path d="M571.2,1452C571.4,1450.9 573.6,1449.8 574.6,1448.6C575.5,1447.5 575.7,1446.1 576.8,1445.3C577.9,1444.4 579.1,1443.6 581.3,1443.5C583.6,1443.3 588.1,1443.5 590.3,1444.1C592.6,1444.8 592.6,1446.2 594.8,1447.5C597.1,1448.8 601.2,1450.5 603.8,1452C606.4,1453.5 609.4,1455 610.6,1456.5C611.8,1458 611.6,1459.7 611,1461C610.5,1462.3 609.1,1463.5 607.2,1464.4C605.2,1465.3 601.8,1466.1 599.3,1466.6C596.9,1467.2 594.6,1467 592.6,1467.8C590.5,1468.5 588.4,1470.8 586.9,1471.1C585.4,1471.5 584.7,1470.6 583.6,1470C582.4,1469.5 581.3,1468.7 580.2,1467.8C579.1,1466.8 577.8,1465.7 576.8,1464.4C575.9,1463.1 575.1,1461.4 574.6,1459.9C574,1458.4 574,1456.7 573.4,1455.4C572.9,1454.1 571,1453.1 571.2,1452Z" fill="#ff7f0e" stroke="#ff7f0e" stroke-width="1.0" stroke-linejoin="round"/>
</g></g>
<g filter="url(#soft)"><g mask="url(#sk2)">
<path d="M520.6,1383.4C521.3,1383 525.1,1384.2 527.3,1384.1C529.6,1383.9 531.4,1382.8 534.1,1382.7C536.7,1382.6 541.8,1382.7 543.1,1383.4C544.4,1384.1 543.1,1385.8 541.9,1386.8C540.8,1387.7 538,1388.3 536.3,1389C534.6,1389.8 533.3,1391.3 531.8,1391.3C530.3,1391.3 528.8,1389.8 527.3,1389C525.8,1388.2 523.9,1387.2 522.8,1386.3C521.7,1385.4 519.8,1383.8 520.6,1383.4Z" fill="#d62728" stroke="#d62728" stroke-width="1.0" stroke-linejoin="round"/>
<path d="M494,1376.6C494,1375.5 494.4,1374.3 495.8,1373.3C497.2,1372.2 499.9,1371 502.6,1370.6C505.2,1370.1 508.9,1370.2 511.6,1370.6C514.2,1370.9 516.6,1371.8 518.3,1372.8C520,1373.8 521.3,1375.2 521.7,1376.6C522.1,1378 521.5,1379.9 520.6,1381.1C519.6,1382.4 517.9,1383.5 516.1,1384.1C514.2,1384.6 511.7,1384.6 509.3,1384.5C506.9,1384.4 503.7,1384.1 501.4,1383.4C499.2,1382.6 497,1381.1 495.8,1380C494.6,1378.9 494,1377.8 494,1376.6Z" fill="#ff7f0e" stroke="#ff7f0e" stroke-width="1.0" stroke-linejoin="round"/>
<path d="M526.2,1400.3C526.5,1399.1 527.1,1398.2 528.4,1397.6C529.8,1396.9 532.2,1396.1 534.1,1396.2C535.9,1396.3 538,1397.1 539.7,1398C541.4,1398.9 542.5,1400.4 544.2,1401.4C545.9,1402.3 548.1,1402.8 549.8,1403.6C551.5,1404.5 554.3,1405.8 554.3,1406.6C554.3,1407.3 551.7,1407.7 549.8,1408.1C547.9,1408.6 545.3,1409 543.1,1409.3C540.8,1409.6 538.6,1410.1 536.3,1409.9C534.1,1409.7 531.1,1409 529.6,1408.1C528,1407.3 527.4,1406.1 526.9,1404.8C526.3,1403.4 525.9,1401.5 526.2,1400.3Z" fill="#2a7cb8" stroke="#2a7cb8" stroke-width="1.0" stroke-linejoin="round"/>
<path d="M540.8,1395.3C541.4,1394 544.9,1389.7 546.4,1387.9C548,1386.1 549.5,1384.8 550.3,1384.5C551.1,1384.2 551.6,1384.9 551.2,1385.9C550.7,1386.8 548.9,1388.5 547.6,1390.1C546.2,1391.8 544.2,1394.9 543.1,1395.8C541.9,1396.6 540.3,1396.6 540.8,1395.3Z" fill="#2a7cb8" stroke="#2a7cb8" stroke-width="1.0" stroke-linejoin="round"/>
<path d="M472.2,1427.3C472.6,1425.6 473.9,1424.6 475.6,1423.9C477.2,1423.1 480.1,1422.9 482.3,1422.8C484.6,1422.6 486.8,1422.8 489.1,1422.8C491.3,1422.7 493.7,1422.7 495.8,1422.3C497.9,1421.9 499.9,1420.6 501.4,1420.5C502.9,1420.4 505,1420.9 504.8,1421.6C504.6,1422.4 501.6,1424.1 500.3,1425C499,1425.9 497.3,1426.1 496.9,1427.3C496.6,1428.4 497.5,1430.4 498.1,1431.8C498.6,1433.1 500.7,1434.2 500.3,1435.1C499.9,1436.1 497.3,1437 495.8,1437.4C494.3,1437.8 492.8,1436.8 491.3,1437.4C489.8,1437.9 488.3,1439.4 486.8,1440.8C485.3,1442.1 484,1444.3 482.3,1445.3C480.6,1446.2 478.3,1446.6 476.7,1446.4C475.1,1446.2 473.7,1445.4 472.9,1444.1C472,1442.8 471.4,1440.2 471.5,1438.5C471.6,1436.8 473.2,1435.9 473.3,1434C473.4,1432.1 471.8,1428.9 472.2,1427.3Z" fill="#ff7f0e" stroke="#ff7f0e" stroke-width="1.0" stroke-linejoin="round"/>
<path d="M571.2,1452C571.4,1450.9 573.6,1449.8 574.6,1448.6C575.5,1447.5 575.7,1446.1 576.8,1445.3C577.9,1444.4 579.1,1443.6 581.3,1443.5C583.6,1443.3 588.1,1443.5 590.3,1444.1C592.6,1444.8 592.6,1446.2 594.8,1447.5C597.1,1448.8 601.2,1450.5 603.8,1452C606.4,1453.5 609.4,1455 610.6,1456.5C611.8,1458 611.6,1459.7 611,1461C610.5,1462.3 609.1,1463.5 607.2,1464.4C605.2,1465.3 601.8,1466.1 599.3,1466.6C596.9,1467.2 594.6,1467 592.6,1467.8C590.5,1468.5 588.4,1470.8 586.9,1471.1C585.4,1471.5 584.7,1470.6 583.6,1470C582.4,1469.5 581.3,1468.7 580.2,1467.8C579.1,1466.8 577.8,1465.7 576.8,1464.4C575.9,1463.1 575.1,1461.4 574.6,1459.9C574,1458.4 574,1456.7 573.4,1455.4C572.9,1454.1 571,1453.1 571.2,1452Z" fill="#2a7cb8" stroke="#2a7cb8" stroke-width="1.0" stroke-linejoin="round"/>
</g></g>
<g filter="url(#soft)"><g mask="url(#sk3)">
<path d="M467,1410.4C467,1409.1 467.8,1407.2 468.8,1405.9C469.9,1404.6 471.1,1403.4 473.3,1402.5C475.6,1401.6 479.3,1401.1 482.3,1400.7C485.3,1400.3 488.7,1400.6 491.3,1400.3C493.9,1399.9 495.8,1398.8 498.1,1398.5C500.3,1398.2 502.7,1398.8 504.8,1398.5C506.9,1398.1 508.7,1396.3 510.4,1396.2C512.1,1396.1 513.8,1397 514.9,1398C516.1,1399.1 517.2,1401 517.2,1402.5C517.2,1404 515.9,1405.5 514.9,1407C514,1408.5 512.5,1410.2 511.6,1411.5C510.6,1412.8 510.8,1414.1 509.3,1414.9C507.8,1415.6 504.8,1416 502.6,1416C500.3,1416 498.1,1415.3 495.8,1414.9C493.6,1414.5 491.3,1414 489.1,1413.8C486.8,1413.5 484.6,1413.3 482.3,1413.3C480.1,1413.3 477.8,1413.7 475.6,1413.8C473.3,1413.8 470.2,1414.3 468.8,1413.8C467.4,1413.2 467,1411.7 467,1410.4Z" fill="#ff7f0e" stroke="#ff7f0e" stroke-width="1.0" stroke-linejoin="round"/>
</g></g>
<g filter="url(#soft)"><g mask="url(#sk4)">
<path d="M467,1410.4C467,1409.1 467.8,1407.2 468.8,1405.9C469.9,1404.6 471.1,1403.4 473.3,1402.5C475.6,1401.6 479.3,1401.1 482.3,1400.7C485.3,1400.3 488.7,1400.6 491.3,1400.3C493.9,1399.9 495.8,1398.8 498.1,1398.5C500.3,1398.2 502.7,1398.8 504.8,1398.5C506.9,1398.1 508.7,1396.3 510.4,1396.2C512.1,1396.1 513.8,1397 514.9,1398C516.1,1399.1 517.2,1401 517.2,1402.5C517.2,1404 515.9,1405.5 514.9,1407C514,1408.5 512.5,1410.2 511.6,1411.5C510.6,1412.8 510.8,1414.1 509.3,1414.9C507.8,1415.6 504.8,1416 502.6,1416C500.3,1416 498.1,1415.3 495.8,1414.9C493.6,1414.5 491.3,1414 489.1,1413.8C486.8,1413.5 484.6,1413.3 482.3,1413.3C480.1,1413.3 477.8,1413.7 475.6,1413.8C473.3,1413.8 470.2,1414.3 468.8,1413.8C467.4,1413.2 467,1411.7 467,1410.4Z" fill="#d62728" stroke="#d62728" stroke-width="1.0" stroke-linejoin="round"/>
</g></g>
<g filter="url(#soft)"><g mask="url(#mkd)">
<path d="M823.4,1363.1C823.6,1362.3 825.7,1360.3 826.8,1358.6C827.9,1356.9 829.4,1354.9 830.2,1353C830.9,1351.1 830.6,1348.8 831.3,1347.4C832.1,1346 833.4,1344.8 834.7,1344.5C836,1344.1 838.2,1344.5 839.2,1345.1C840.1,1345.8 840.5,1347 840.3,1348.5C840.1,1350 839,1352.4 838.1,1354.1C837.1,1355.8 836,1357.5 834.7,1358.6C833.4,1359.8 831.7,1360 830.2,1360.9C828.7,1361.7 826.8,1363.4 825.7,1363.8C824.6,1364.2 823.2,1364 823.4,1363.1Z" fill="#46166f" stroke="#46166f" stroke-width="1.0" stroke-linejoin="round"/>
<path d="M877.4,1355.3C877.7,1354.5 878.7,1353.6 879.7,1353.5C880.7,1353.3 882.6,1353.6 883.5,1354.1C884.5,1354.6 885.3,1355.5 885.3,1356.4C885.3,1357.2 884.3,1358.7 883.5,1359.3C882.8,1359.9 881.7,1360 880.8,1359.8C879.9,1359.5 878.7,1358.7 878.1,1358C877.6,1357.2 877.2,1356 877.4,1355.3Z" fill="#3b5c8c" stroke="#3b5c8c" stroke-width="1.0" stroke-linejoin="round"/>
<path d="M923.6,1363.1C923.4,1361.4 924.3,1359.8 925.8,1358.6C927.3,1357.5 929.9,1356.6 932.6,1356.4C935.2,1356.1 938.8,1356.5 941.6,1357.1C944.4,1357.6 947.8,1358.6 949.4,1359.8C951.1,1361 951.7,1362.8 951.7,1364.3C951.7,1365.8 951.1,1367.6 949.4,1368.8C947.8,1369.9 944.4,1370.6 941.6,1371C938.8,1371.4 935,1371.4 932.6,1371C930.1,1370.6 928.4,1370.1 926.9,1368.8C925.4,1367.4 923.8,1364.8 923.6,1363.1Z" fill="#47176f" stroke="#47176f" stroke-width="1.0" stroke-linejoin="round"/>
<path d="M796.4,1374.4C796.6,1373.3 797.4,1371.8 798.7,1371C800,1370.3 802.2,1369.9 804.3,1369.9C806.4,1369.9 809.2,1370.3 811.1,1371C812.9,1371.8 815,1373.3 815.6,1374.4C816.1,1375.5 815.6,1376.9 814.4,1377.8C813.3,1378.6 810.9,1379.1 808.8,1379.3C806.7,1379.6 803.9,1379.6 802.1,1379.3C800.2,1379.1 798.5,1378.6 797.6,1377.8C796.6,1376.9 796.2,1375.5 796.4,1374.4Z" fill="#46166f" stroke="#46166f" stroke-width="1.0" stroke-linejoin="round"/>
<path d="M869.6,1383.4C870.3,1383 874.1,1384.2 876.3,1384.1C878.6,1383.9 880.4,1382.8 883.1,1382.7C885.7,1382.6 890.8,1382.7 892.1,1383.4C893.4,1384.1 892.1,1385.8 890.9,1386.8C889.8,1387.7 887,1388.3 885.3,1389C883.6,1389.8 882.3,1391.3 880.8,1391.3C879.3,1391.3 877.8,1389.8 876.3,1389C874.8,1388.2 872.9,1387.2 871.8,1386.3C870.7,1385.4 868.8,1383.8 869.6,1383.4Z" fill="#3b5c8c" stroke="#3b5c8c" stroke-width="1.0" stroke-linejoin="round"/>
<path d="M843,1376.6C843,1375.5 843.4,1374.3 844.8,1373.3C846.2,1372.2 848.9,1371 851.6,1370.6C854.2,1370.1 857.9,1370.2 860.6,1370.6C863.2,1370.9 865.6,1371.8 867.3,1372.8C869,1373.8 870.3,1375.2 870.7,1376.6C871.1,1378 870.5,1379.9 869.6,1381.1C868.6,1382.4 866.9,1383.5 865.1,1384.1C863.2,1384.6 860.7,1384.6 858.3,1384.5C855.9,1384.4 852.7,1384.1 850.4,1383.4C848.2,1382.6 846,1381.1 844.8,1380C843.6,1378.9 843,1377.8 843,1376.6Z" fill="url(#g14)" stroke="none" stroke-width="1.0" stroke-linejoin="round"/>
<path d="M875.2,1400.3C875.5,1399.1 876.1,1398.2 877.4,1397.6C878.8,1396.9 881.2,1396.1 883.1,1396.2C884.9,1396.3 887,1397.1 888.7,1398C890.4,1398.9 891.5,1400.4 893.2,1401.4C894.9,1402.3 897.1,1402.8 898.8,1403.6C900.5,1404.5 903.3,1405.8 903.3,1406.6C903.3,1407.3 900.7,1407.7 898.8,1408.1C896.9,1408.6 894.3,1409 892.1,1409.3C889.8,1409.6 887.6,1410.1 885.3,1409.9C883.1,1409.7 880.1,1409 878.6,1408.1C877,1407.3 876.4,1406.1 875.9,1404.8C875.3,1403.4 874.9,1401.5 875.2,1400.3Z" fill="#451a6e" stroke="#451a6e" stroke-width="1.0" stroke-linejoin="round"/>
<path d="M889.8,1395.3C890.4,1394 893.9,1389.7 895.4,1387.9C897,1386.1 898.5,1384.8 899.3,1384.5C900.1,1384.2 900.6,1384.9 900.2,1385.9C899.7,1386.8 897.9,1388.5 896.6,1390.1C895.2,1391.8 893.2,1394.9 892.1,1395.8C890.9,1396.6 889.3,1396.6 889.8,1395.3Z" fill="#451a6e" stroke="#451a6e" stroke-width="1.0" stroke-linejoin="round"/>
<path d="M902.2,1392.4C902.4,1391.4 903.1,1390.3 904.4,1389.7C905.8,1389 908.6,1388.5 910.1,1388.6C911.6,1388.6 913,1389.2 913.4,1390.1C913.9,1391 913.7,1393 912.8,1394C911.8,1394.9 909.4,1395.5 907.8,1395.8C906.2,1396 904.3,1395.9 903.3,1395.3C902.4,1394.7 902,1393.3 902.2,1392.4Z" fill="#3e4a89" stroke="#3e4a89" stroke-width="1.0" stroke-linejoin="round"/>
<path d="M929.2,1389C929,1388.1 930.5,1386.8 931.4,1385.6C932.4,1384.5 933.9,1382.4 934.8,1382.3C935.8,1382.1 936.4,1383.6 937.1,1384.5C937.7,1385.4 938.7,1386.8 938.6,1387.9C938.6,1389 937.6,1390.8 936.6,1391.3C935.6,1391.7 933.8,1391.2 932.6,1390.8C931.3,1390.4 929.4,1389.9 929.2,1389Z" fill="#46166f" stroke="#46166f" stroke-width="1.0" stroke-linejoin="round"/>
<path d="M761.1,1395.3C761.9,1394.3 764.1,1393.1 766.1,1392.4C768,1391.7 770.6,1391.6 772.8,1391.3C775.1,1390.9 777.5,1390.3 779.6,1390.1C781.6,1389.9 783.3,1389.8 785.2,1390.1C787.1,1390.5 789.6,1391.5 790.8,1392.4C792,1393.2 793,1394.4 792.6,1395.3C792.2,1396.2 790.4,1397 788.6,1397.6C786.8,1398.1 784.4,1398.1 781.8,1398.5C779.2,1398.8 775.4,1399.5 772.8,1399.8C770.2,1400.1 767.9,1400.5 766.1,1400.3C764.2,1400 762.4,1399.3 761.6,1398.5C760.7,1397.6 760.4,1396.3 761.1,1395.3Z" fill="#46166f" stroke="#46166f" stroke-width="1.0" stroke-linejoin="round"/>
<path d="M803.9,1402.5C803.9,1402.2 805.7,1401.8 806.6,1401.8C807.5,1401.8 809.3,1402.2 809.3,1402.5C809.3,1402.8 807.5,1403.6 806.6,1403.6C805.7,1403.6 803.9,1402.8 803.9,1402.5Z" fill="#46166f" stroke="#46166f" stroke-width="1.0" stroke-linejoin="round"/>
<path d="M911.9,1403C912.4,1402.5 913.9,1401.7 915.7,1401.4C917.5,1401 921.1,1400.7 922.4,1400.9C923.8,1401.2 924.3,1402.4 923.6,1403C922.8,1403.5 919.8,1404.1 917.9,1404.3C916.1,1404.5 913.3,1404.5 912.3,1404.3C911.3,1404.1 911.3,1403.4 911.9,1403Z" fill="#46166f" stroke="#46166f" stroke-width="1.0" stroke-linejoin="round"/>
<path d="M957.3,1404.8C957.5,1403.1 958.3,1402.5 959.6,1401.4C960.9,1400.3 962.9,1399 965.2,1398C967.4,1397 970.3,1395.9 973.1,1395.3C975.9,1394.7 979.3,1394.5 982.1,1394.6C984.9,1394.8 987.7,1395.3 990,1396.2C992.2,1397.1 994.5,1399 995.6,1400.3C996.7,1401.5 997.1,1402.3 996.7,1403.6C996.3,1404.9 994.6,1406.6 993.3,1408.1C992,1409.6 990.7,1411.2 988.8,1412.6C987,1414 984.3,1415.3 982.1,1416.5C979.8,1417.6 977.6,1418.9 975.3,1419.4C973.1,1419.9 970.6,1419.9 968.6,1419.4C966.5,1418.8 964.6,1417.3 962.9,1416C961.3,1414.7 959.4,1413.4 958.4,1411.5C957.5,1409.6 957.1,1406.4 957.3,1404.8Z" fill="#46166f" stroke="#46166f" stroke-width="1.0" stroke-linejoin="round"/>
<path d="M816,1410.4C816,1409.1 816.8,1407.2 817.8,1405.9C818.9,1404.6 820.1,1403.4 822.3,1402.5C824.6,1401.6 828.3,1401.1 831.3,1400.7C834.3,1400.3 837.7,1400.6 840.3,1400.3C842.9,1399.9 844.8,1398.8 847.1,1398.5C849.3,1398.2 851.7,1398.8 853.8,1398.5C855.9,1398.1 857.7,1396.3 859.4,1396.2C861.1,1396.1 862.8,1397 863.9,1398C865.1,1399.1 866.2,1401 866.2,1402.5C866.2,1404 864.9,1405.5 863.9,1407C863,1408.5 861.5,1410.2 860.6,1411.5C859.6,1412.8 859.8,1414.1 858.3,1414.9C856.8,1415.6 853.8,1416 851.6,1416C849.3,1416 847.1,1415.3 844.8,1414.9C842.6,1414.5 840.3,1414 838.1,1413.8C835.8,1413.5 833.6,1413.3 831.3,1413.3C829.1,1413.3 826.8,1413.7 824.6,1413.8C822.3,1413.8 819.2,1414.3 817.8,1413.8C816.4,1413.2 816,1411.7 816,1410.4Z" fill="#471f72" stroke="#471f72" stroke-width="1.0" stroke-linejoin="round"/>
<path d="M776.2,1419.4C776.4,1418.8 778.2,1418.4 779.6,1418.3C780.9,1418.1 782.4,1418.1 784.1,1418.7C785.7,1419.3 788.2,1420.6 789.7,1421.6C791.2,1422.7 792.9,1424.1 793.1,1425C793.2,1425.9 792.1,1426.9 790.8,1427.3C789.5,1427.6 786.7,1427.6 785.2,1427.3C783.7,1426.9 782.9,1425.9 781.8,1425C780.7,1424.1 779.4,1422.6 778.4,1421.6C777.5,1420.7 776,1419.9 776.2,1419.4Z" fill="#46166f" stroke="#46166f" stroke-width="1.0" stroke-linejoin="round"/>
<path d="M883.1,1418.3C883.6,1417.5 885.1,1416.3 886.4,1416C887.8,1415.7 889.8,1416 890.9,1416.5C892.1,1416.9 893.2,1417.8 893.2,1418.7C893.2,1419.6 892.1,1421 890.9,1421.6C889.8,1422.2 887.7,1422.5 886.4,1422.3C885.2,1422.1 884.1,1421.2 883.5,1420.5C883,1419.8 882.6,1419 883.1,1418.3Z" fill="#46166f" stroke="#46166f" stroke-width="1.0" stroke-linejoin="round"/>
<path d="M821.2,1427.3C821.6,1425.6 822.9,1424.6 824.6,1423.9C826.2,1423.1 829.1,1422.9 831.3,1422.8C833.6,1422.6 835.8,1422.8 838.1,1422.8C840.3,1422.7 842.7,1422.7 844.8,1422.3C846.9,1421.9 848.9,1420.6 850.4,1420.5C851.9,1420.4 854,1420.9 853.8,1421.6C853.6,1422.4 850.6,1424.1 849.3,1425C848,1425.9 846.3,1426.1 845.9,1427.3C845.6,1428.4 846.5,1430.4 847.1,1431.8C847.6,1433.1 849.7,1434.2 849.3,1435.1C848.9,1436.1 846.3,1437 844.8,1437.4C843.3,1437.8 841.8,1436.8 840.3,1437.4C838.8,1437.9 837.3,1439.4 835.8,1440.8C834.3,1442.1 833,1444.3 831.3,1445.3C829.6,1446.2 827.3,1446.6 825.7,1446.4C824.1,1446.2 822.7,1445.4 821.9,1444.1C821,1442.8 820.4,1440.2 820.5,1438.5C820.6,1436.8 822.2,1435.9 822.3,1434C822.4,1432.1 820.8,1428.9 821.2,1427.3Z" fill="#46166f" stroke="#46166f" stroke-width="1.0" stroke-linejoin="round"/>
<path d="M862.8,1429.5C863.3,1427.8 863.8,1426.1 865.1,1425C866.4,1424 868.8,1423.4 870.7,1423.2C872.6,1423 874.8,1423.2 876.3,1423.9C877.8,1424.6 878.9,1425.9 879.7,1427.3C880.4,1428.6 879.5,1430.6 880.8,1431.8C882.1,1432.9 885.9,1433.1 887.6,1434C889.3,1434.9 890.6,1436.1 890.9,1437.4C891.3,1438.7 890.8,1440.8 889.8,1441.9C888.9,1443 886.8,1443 885.3,1444.1C883.8,1445.3 882.5,1447.9 880.8,1448.6C879.1,1449.4 876.7,1449.2 875.2,1448.6C873.7,1448.1 873.1,1446.2 871.8,1445.3C870.5,1444.3 868.6,1443.9 867.3,1443C866,1442.1 864.8,1440.9 863.9,1439.6C863.1,1438.3 862.6,1436.8 862.4,1435.1C862.2,1433.4 862.4,1431.2 862.8,1429.5Z" fill="#46166f" stroke="#46166f" stroke-width="1.0" stroke-linejoin="round"/>
<path d="M914.6,1421.6C914.9,1420.5 915.5,1419 916.8,1418.3C918.1,1417.5 920.6,1417.1 922.4,1417.1C924.3,1417.1 926.5,1417.3 928.1,1418.3C929.7,1419.2 931.4,1421.3 932.1,1422.8C932.9,1424.3 933.2,1426.1 932.6,1427.3C931.9,1428.4 929.9,1429.1 928.1,1429.5C926.2,1430 923.2,1430.1 921.3,1430C919.4,1429.8 917.9,1429.2 916.8,1428.4C915.7,1427.6 914.9,1426.1 914.6,1425C914.2,1423.9 914.2,1422.8 914.6,1421.6Z" fill="#46166f" stroke="#46166f" stroke-width="1.0" stroke-linejoin="round"/>
<path d="M746.3,1439C746.5,1437.9 747.6,1436.9 749.2,1436.3C750.8,1435.6 753.7,1435.1 755.9,1435.1C758.2,1435.1 761,1435.6 762.7,1436.3C764.4,1436.9 765.7,1437.8 766.1,1439C766.4,1440.1 766.1,1442 764.9,1443C763.8,1444 761.4,1444.6 759.3,1444.8C757.2,1445 754.5,1444.5 752.6,1444.1C750.6,1443.8 748.7,1443.4 747.6,1442.6C746.6,1441.7 746,1440 746.3,1439Z" fill="#46166f" stroke="#46166f" stroke-width="1.0" stroke-linejoin="round"/>
<path d="M790.8,1445.7C791.1,1444.8 792.2,1443.9 793.5,1443.5C794.8,1443 797.3,1442.6 798.7,1443C800,1443.4 801.3,1444.7 801.6,1445.7C801.9,1446.8 801.2,1448.6 800.3,1449.3C799.3,1450.1 797.1,1450.3 795.8,1450.2C794.4,1450.1 792.8,1449.4 791.9,1448.6C791.1,1447.9 790.5,1446.6 790.8,1445.7Z" fill="#46166f" stroke="#46166f" stroke-width="1.0" stroke-linejoin="round"/>
<path d="M938.2,1435.8C938.2,1435.3 940.6,1434.4 941.6,1434.5C942.6,1434.5 944.3,1435.7 944.3,1436.3C944.3,1436.8 942.6,1437.7 941.6,1437.6C940.6,1437.5 938.2,1436.3 938.2,1435.8Z" fill="#46166f" stroke="#46166f" stroke-width="1.0" stroke-linejoin="round"/>
<path d="M952.8,1435.1C952.8,1434.6 955.1,1433.9 956.2,1434C957.3,1434.1 959.6,1435.2 959.6,1435.8C959.6,1436.4 957.3,1437.5 956.2,1437.4C955.1,1437.3 952.8,1435.7 952.8,1435.1Z" fill="#46166f" stroke="#46166f" stroke-width="1.0" stroke-linejoin="round"/>
<path d="M920.2,1452C920.4,1450.9 922.6,1449.8 923.6,1448.6C924.5,1447.5 924.7,1446.1 925.8,1445.3C926.9,1444.4 928.1,1443.6 930.3,1443.5C932.6,1443.3 937.1,1443.5 939.3,1444.1C941.6,1444.8 941.6,1446.2 943.8,1447.5C946.1,1448.8 950.2,1450.5 952.8,1452C955.4,1453.5 958.4,1455 959.6,1456.5C960.8,1458 960.6,1459.7 960,1461C959.5,1462.3 958.1,1463.5 956.2,1464.4C954.2,1465.3 950.8,1466.1 948.3,1466.6C945.9,1467.2 943.6,1467 941.6,1467.8C939.5,1468.5 937.4,1470.8 935.9,1471.1C934.4,1471.5 933.7,1470.6 932.6,1470C931.4,1469.5 930.3,1468.7 929.2,1467.8C928.1,1466.8 926.8,1465.7 925.8,1464.4C924.9,1463.1 924.1,1461.4 923.6,1459.9C923,1458.4 923,1456.7 922.4,1455.4C921.9,1454.1 920,1453.1 920.2,1452Z" fill="#441d70" stroke="#441d70" stroke-width="1.0" stroke-linejoin="round"/>
<path d="M759.3,1468.9C759.6,1467.9 760.5,1466.6 762,1466C763.5,1465.3 766.4,1464.8 768.3,1465.1C770.2,1465.3 772.3,1466.5 773.3,1467.3C774.2,1468.1 774.4,1469.1 773.9,1470C773.5,1470.9 772.1,1472.2 770.6,1472.7C769.1,1473.3 766.6,1473.5 764.9,1473.4C763.2,1473.2 761.4,1472.6 760.4,1471.8C759.5,1471.1 759,1469.9 759.3,1468.9Z" fill="#46166f" stroke="#46166f" stroke-width="1.0" stroke-linejoin="round"/>
<path d="M773.9,1471.1C774.3,1470.5 776,1470.5 777.3,1470.5C778.6,1470.5 780.9,1470.7 781.8,1471.1C782.7,1471.6 783.1,1472.5 782.9,1473.4C782.7,1474.3 781.6,1476.2 780.7,1476.8C779.7,1477.3 778.2,1477.1 777.3,1476.8C776.4,1476.4 775.6,1475.5 775.1,1474.5C774.5,1473.6 773.6,1471.8 773.9,1471.1Z" fill="#46166f" stroke="#46166f" stroke-width="1.0" stroke-linejoin="round"/>
<path d="M802.5,1473.4C802.7,1472.3 804,1471.4 805.4,1470.9C806.9,1470.4 809.4,1470.2 811.1,1470.5C812.7,1470.7 814.6,1471.5 815.6,1472.3C816.5,1473 816.9,1474 816.7,1475C816.5,1475.9 815.7,1477.3 814.4,1477.9C813.1,1478.5 810.5,1478.7 808.8,1478.6C807.1,1478.5 805.4,1478.1 804.3,1477.2C803.3,1476.4 802.3,1474.4 802.5,1473.4Z" fill="#46166f" stroke="#46166f" stroke-width="1.0" stroke-linejoin="round"/>
<path d="M839.2,1470C839.2,1468.4 840.1,1466.7 841.4,1465.5C842.7,1464.3 845,1463.3 847.1,1462.8C849.1,1462.4 851.7,1462.4 853.8,1462.8C855.9,1463.3 858.2,1464.3 859.4,1465.5C860.6,1466.7 861,1468.5 861,1470C861,1471.5 860.6,1473.3 859.4,1474.5C858.2,1475.7 855.9,1476.7 853.8,1477.2C851.7,1477.7 849.1,1477.8 847.1,1477.4C845,1477.1 842.7,1476.2 841.4,1475C840.1,1473.7 839.2,1471.6 839.2,1470Z" fill="#46166f" stroke="#46166f" stroke-width="1.0" stroke-linejoin="round"/>
<path d="M884.2,1474.5C884.5,1473.5 885.1,1472 886.4,1471.1C887.8,1470.3 890.2,1469.7 892.1,1469.6C893.9,1469.5 896.4,1469.7 897.7,1470.5C899,1471.2 899.8,1472.8 899.9,1474.1C900.1,1475.3 899.9,1477 898.8,1477.9C897.7,1478.8 895.1,1479.3 893.2,1479.5C891.3,1479.7 889,1479.4 887.6,1479C886.2,1478.6 885.4,1478 884.9,1477.2C884.3,1476.5 883.9,1475.5 884.2,1474.5Z" fill="#2e8a8c" stroke="#2e8a8c" stroke-width="1.0" stroke-linejoin="round"/>
<path d="M845.9,1501.5C846,1500.5 847.1,1498.9 848.2,1498.1C849.3,1497.4 851.3,1496.9 852.7,1497C854.1,1497.1 855.6,1498 856.5,1498.8C857.4,1499.6 857.9,1501 857.9,1502C857.8,1503 857.1,1504.3 856.1,1504.9C855,1505.5 853,1505.7 851.6,1505.6C850.1,1505.5 848.4,1504.9 847.5,1504.2C846.6,1503.5 845.8,1502.5 845.9,1501.5Z" fill="#46166f" stroke="#46166f" stroke-width="1.0" stroke-linejoin="round"/>
</g></g>
<g filter="url(#soft)"><g mask="url(#mkd)">
<path d="M145.1,1613.7C145.3,1612.8 147.4,1610.7 148.5,1609C149.6,1607.2 151.2,1605 151.9,1603.1C152.7,1601.1 152.3,1598.7 153.1,1597.2C153.8,1595.7 155.2,1594.5 156.5,1594.1C157.8,1593.8 160.1,1594.1 161,1594.9C162,1595.6 162.4,1596.8 162.2,1598.4C162,1599.9 160.9,1602.5 159.9,1604.3C159,1606 157.8,1607.8 156.5,1609C155.2,1610.1 153.4,1610.4 151.9,1611.3C150.4,1612.2 148.5,1614 147.4,1614.4C146.2,1614.8 144.9,1614.6 145.1,1613.7Z" fill="#462a79" stroke="#462a79" stroke-width="1.0" stroke-linejoin="round"/>
<path d="M199.8,1605.4C200.1,1604.7 201,1603.8 202.1,1603.6C203.1,1603.4 205,1603.8 205.9,1604.3C206.9,1604.8 207.8,1605.7 207.8,1606.6C207.8,1607.5 206.7,1609.1 205.9,1609.7C205.2,1610.3 204.1,1610.4 203.2,1610.1C202.3,1609.9 201,1609 200.5,1608.3C199.9,1607.5 199.5,1606.2 199.8,1605.4Z" fill="#462a79" stroke="#462a79" stroke-width="1.0" stroke-linejoin="round"/>
<path d="M246.5,1613.7C246.3,1611.9 247.3,1610.1 248.8,1609C250.3,1607.8 253,1606.9 255.6,1606.6C258.3,1606.3 261.9,1606.7 264.8,1607.3C267.6,1607.9 271,1608.9 272.7,1610.1C274.4,1611.4 275,1613.3 275,1614.8C275,1616.4 274.4,1618.4 272.7,1619.5C271,1620.7 267.6,1621.5 264.8,1621.9C261.9,1622.3 258.1,1622.3 255.6,1621.9C253.2,1621.5 251.5,1620.9 249.9,1619.5C248.4,1618.2 246.7,1615.4 246.5,1613.7Z" fill="#462a79" stroke="#462a79" stroke-width="1.0" stroke-linejoin="round"/>
<path d="M117.7,1625.4C117.9,1624.2 118.7,1622.7 120,1621.9C121.3,1621.1 123.6,1620.7 125.7,1620.7C127.8,1620.7 130.7,1621.1 132.5,1621.9C134.4,1622.7 136.5,1624.2 137.1,1625.4C137.7,1626.6 137.1,1628.1 136,1629C134.8,1629.8 132.4,1630.3 130.3,1630.6C128.2,1630.9 125.3,1630.9 123.4,1630.6C121.5,1630.3 119.8,1629.8 118.9,1629C117.9,1628.1 117.5,1626.6 117.7,1625.4Z" fill="#462a79" stroke="#462a79" stroke-width="1.0" stroke-linejoin="round"/>
<path d="M191.8,1634.8C192.6,1634.4 196.4,1635.7 198.7,1635.5C200.9,1635.4 202.8,1634.2 205.5,1634.1C208.2,1634 213.3,1634.1 214.6,1634.8C215.9,1635.5 214.6,1637.4 213.5,1638.4C212.3,1639.3 209.5,1639.9 207.8,1640.7C206.1,1641.5 204.7,1643.1 203.2,1643.1C201.7,1643.1 200.2,1641.6 198.7,1640.7C197.1,1639.8 195.2,1638.9 194.1,1637.9C193,1636.9 191.1,1635.2 191.8,1634.8Z" fill="#3a6a8d" stroke="#3a6a8d" stroke-width="1.0" stroke-linejoin="round"/>
<path d="M164.9,1627.8C164.9,1626.6 165.3,1625.3 166.7,1624.2C168.2,1623.2 170.9,1621.9 173.6,1621.4C176.2,1621 180,1621 182.7,1621.4C185.4,1621.8 187.8,1622.7 189.5,1623.8C191.2,1624.8 192.6,1626.3 193,1627.8C193.3,1629.2 192.8,1631.2 191.8,1632.5C190.9,1633.8 189.2,1634.9 187.3,1635.5C185.4,1636.1 182.9,1636.1 180.4,1636C177.9,1635.9 174.7,1635.6 172.4,1634.8C170.2,1634 168,1632.5 166.7,1631.3C165.5,1630.1 164.9,1629 164.9,1627.8Z" fill="url(#g15)" stroke="none" stroke-width="1.0" stroke-linejoin="round"/>
<path d="M197.5,1652.5C197.8,1651.2 198.5,1650.3 199.8,1649.6C201.1,1648.9 203.6,1648.2 205.5,1648.2C207.4,1648.3 209.5,1649.2 211.2,1650.1C212.9,1651 214,1652.7 215.8,1653.6C217.5,1654.6 219.7,1655.1 221.4,1656C223.2,1656.9 226,1658.3 226,1659C226,1659.8 223.3,1660.2 221.4,1660.7C219.5,1661.2 216.9,1661.6 214.6,1661.9C212.3,1662.2 210.1,1662.8 207.8,1662.6C205.5,1662.4 202.5,1661.6 200.9,1660.7C199.3,1659.8 198.8,1658.5 198.2,1657.2C197.6,1655.8 197.2,1653.7 197.5,1652.5Z" fill="#462a79" stroke="#462a79" stroke-width="1.0" stroke-linejoin="round"/>
<path d="M212.3,1647.3C212.9,1645.9 216.4,1641.4 218,1639.5C219.6,1637.7 221.1,1636.4 221.9,1636C222.7,1635.7 223.3,1636.4 222.8,1637.4C222.4,1638.4 220.5,1640.2 219.2,1641.9C217.8,1643.6 215.8,1646.9 214.6,1647.8C213.5,1648.7 211.8,1648.7 212.3,1647.3Z" fill="#462a79" stroke="#462a79" stroke-width="1.0" stroke-linejoin="round"/>
<path d="M224.9,1644.2C225.1,1643.3 225.8,1642.1 227.1,1641.4C228.5,1640.7 231.3,1640.2 232.8,1640.2C234.4,1640.3 235.8,1640.9 236.3,1641.9C236.7,1642.8 236.5,1644.9 235.6,1645.9C234.6,1646.9 232.2,1647.5 230.6,1647.8C229,1648 227,1647.9 226,1647.3C225.1,1646.7 224.7,1645.2 224.9,1644.2Z" fill="#462a79" stroke="#462a79" stroke-width="1.0" stroke-linejoin="round"/>
<path d="M252.2,1640.7C252,1639.8 253.6,1638.4 254.5,1637.2C255.5,1636 257,1633.8 257.9,1633.7C258.9,1633.5 259.6,1635 260.2,1636C260.8,1637 261.9,1638.4 261.8,1639.5C261.7,1640.7 260.8,1642.6 259.7,1643.1C258.7,1643.6 256.9,1643 255.6,1642.6C254.4,1642.2 252.4,1641.6 252.2,1640.7Z" fill="#462a79" stroke="#462a79" stroke-width="1.0" stroke-linejoin="round"/>
<path d="M81.9,1647.3C82.7,1646.2 85,1644.9 87,1644.2C88.9,1643.5 91.5,1643.5 93.8,1643.1C96.1,1642.7 98.5,1642.1 100.6,1641.9C102.7,1641.7 104.4,1641.5 106.3,1641.9C108.2,1642.3 110.8,1643.3 112,1644.2C113.3,1645.1 114.2,1646.4 113.9,1647.3C113.5,1648.2 111.6,1649.1 109.8,1649.6C107.9,1650.2 105.6,1650.2 102.9,1650.6C100.3,1651 96.5,1651.7 93.8,1652C91.1,1652.3 88.9,1652.7 87,1652.5C85.1,1652.2 83.2,1651.4 82.4,1650.6C81.6,1649.7 81.2,1648.4 81.9,1647.3Z" fill="#462a79" stroke="#462a79" stroke-width="1.0" stroke-linejoin="round"/>
<path d="M125.3,1654.8C125.3,1654.5 127.1,1654.1 128,1654.1C128.9,1654.1 130.7,1654.5 130.7,1654.8C130.7,1655.1 128.9,1656 128,1656C127.1,1656 125.3,1655.1 125.3,1654.8Z" fill="#462a79" stroke="#462a79" stroke-width="1.0" stroke-linejoin="round"/>
<path d="M234.7,1655.3C235.2,1654.8 236.8,1654 238.5,1653.6C240.3,1653.3 244.1,1652.9 245.4,1653.2C246.7,1653.4 247.3,1654.7 246.5,1655.3C245.8,1655.9 242.7,1656.5 240.8,1656.7C238.9,1656.9 236.2,1656.9 235.1,1656.7C234.1,1656.5 234.1,1655.8 234.7,1655.3Z" fill="#462a79" stroke="#462a79" stroke-width="1.0" stroke-linejoin="round"/>
<path d="M280.7,1657.2C280.9,1655.4 281.7,1654.8 283,1653.6C284.3,1652.5 286.4,1651.2 288.7,1650.1C291,1649.1 293.8,1647.9 296.7,1647.3C299.5,1646.7 302.9,1646.4 305.8,1646.6C308.6,1646.7 311.5,1647.3 313.8,1648.2C316,1649.2 318.3,1651.2 319.5,1652.5C320.6,1653.8 321,1654.6 320.6,1656C320.2,1657.4 318.5,1659.1 317.2,1660.7C315.9,1662.3 314.5,1663.9 312.6,1665.4C310.7,1666.8 308.1,1668.2 305.8,1669.4C303.5,1670.6 301.2,1671.9 299,1672.5C296.7,1673 294.2,1673 292.1,1672.5C290,1671.9 288.1,1670.3 286.4,1668.9C284.7,1667.6 282.8,1666.2 281.9,1664.2C280.9,1662.3 280.5,1658.9 280.7,1657.2Z" fill="#44327f" stroke="#44327f" stroke-width="1.0" stroke-linejoin="round"/>
<path d="M137.6,1663C137.6,1661.7 138.3,1659.7 139.4,1658.3C140.5,1657 141.7,1655.7 143.9,1654.8C146.2,1653.9 150,1653.3 153.1,1652.9C156.1,1652.5 159.5,1652.9 162.2,1652.5C164.8,1652.1 166.7,1650.9 169,1650.6C171.3,1650.3 173.8,1651 175.9,1650.6C177.9,1650.2 179.8,1648.3 181.6,1648.2C183.3,1648.2 185,1649 186.1,1650.1C187.3,1651.2 188.4,1653.2 188.4,1654.8C188.4,1656.4 187.1,1658 186.1,1659.5C185.2,1661.1 183.6,1662.9 182.7,1664.2C181.7,1665.6 181.9,1667 180.4,1667.8C178.9,1668.5 175.9,1668.9 173.6,1668.9C171.3,1668.9 169,1668.1 166.7,1667.8C164.5,1667.4 162.2,1666.8 159.9,1666.6C157.6,1666.3 155.3,1666.1 153.1,1666.1C150.8,1666.1 148.5,1666.5 146.2,1666.6C143.9,1666.7 140.8,1667.2 139.4,1666.6C137.9,1666 137.6,1664.4 137.6,1663Z" fill="#462a79" stroke="#462a79" stroke-width="1.0" stroke-linejoin="round"/>
<path d="M97.2,1672.5C97.4,1671.9 99.3,1671.4 100.6,1671.3C102,1671.2 103.5,1671.2 105.2,1671.7C106.9,1672.3 109.4,1673.7 110.9,1674.8C112.4,1675.9 114.1,1677.4 114.3,1678.3C114.5,1679.3 113.4,1680.3 112,1680.7C110.7,1681.1 107.9,1681.1 106.3,1680.7C104.8,1680.3 104.1,1679.3 102.9,1678.3C101.8,1677.4 100.4,1675.8 99.5,1674.8C98.5,1673.8 97,1673 97.2,1672.5Z" fill="#462a79" stroke="#462a79" stroke-width="1.0" stroke-linejoin="round"/>
<path d="M205.5,1671.3C206,1670.5 207.6,1669.2 208.9,1668.9C210.2,1668.6 212.3,1668.9 213.5,1669.4C214.6,1669.9 215.8,1670.8 215.8,1671.7C215.8,1672.6 214.6,1674.2 213.5,1674.8C212.3,1675.4 210.2,1675.7 208.9,1675.5C207.7,1675.3 206.5,1674.3 205.9,1673.6C205.4,1672.9 205,1672.1 205.5,1671.3Z" fill="#462a79" stroke="#462a79" stroke-width="1.0" stroke-linejoin="round"/>
<path d="M142.8,1680.7C143.2,1678.9 144.5,1677.9 146.2,1677.2C147.9,1676.4 150.8,1676.2 153.1,1676C155.3,1675.8 157.6,1676.1 159.9,1676C162.2,1675.9 164.7,1675.9 166.7,1675.5C168.8,1675.1 170.9,1673.7 172.4,1673.6C174,1673.5 176,1674 175.9,1674.8C175.7,1675.6 172.6,1677.4 171.3,1678.3C170,1679.3 168.3,1679.5 167.9,1680.7C167.5,1681.9 168.5,1684 169,1685.4C169.6,1686.8 171.7,1687.9 171.3,1688.9C170.9,1689.9 168.3,1690.9 166.7,1691.3C165.2,1691.7 163.7,1690.7 162.2,1691.3C160.7,1691.9 159.1,1693.4 157.6,1694.8C156.1,1696.2 154.8,1698.5 153.1,1699.5C151.4,1700.5 149,1700.9 147.4,1700.7C145.8,1700.5 144.4,1699.7 143.5,1698.3C142.6,1696.9 142,1694.2 142.1,1692.4C142.2,1690.7 143.8,1689.7 143.9,1687.7C144.1,1685.8 142.4,1682.4 142.8,1680.7Z" fill="#413d84" stroke="#413d84" stroke-width="1.0" stroke-linejoin="round"/>
<path d="M185,1683C185.4,1681.3 185.9,1679.4 187.3,1678.3C188.6,1677.2 191.1,1676.6 193,1676.5C194.9,1676.3 197.1,1676.5 198.7,1677.2C200.2,1677.9 201.3,1679.3 202.1,1680.7C202.8,1682.1 201.9,1684.2 203.2,1685.4C204.5,1686.6 208.3,1686.8 210.1,1687.7C211.8,1688.7 213.1,1689.9 213.5,1691.3C213.9,1692.6 213.3,1694.8 212.3,1696C211.4,1697.1 209.3,1697.1 207.8,1698.3C206.3,1699.5 204.9,1702.2 203.2,1703C201.5,1703.8 199,1703.6 197.5,1703C196,1702.4 195.4,1700.5 194.1,1699.5C192.8,1698.5 190.9,1698.1 189.5,1697.1C188.2,1696.2 187,1695 186.1,1693.6C185.3,1692.2 184.7,1690.7 184.5,1688.9C184.3,1687.1 184.5,1684.8 185,1683Z" fill="#462a79" stroke="#462a79" stroke-width="1.0" stroke-linejoin="round"/>
<path d="M237.4,1674.8C237.8,1673.6 238.4,1672.1 239.7,1671.3C241,1670.5 243.5,1670.1 245.4,1670.1C247.3,1670.1 249.4,1670.3 251.1,1671.3C252.7,1672.3 254.4,1674.4 255.2,1676C255.9,1677.5 256.3,1679.5 255.6,1680.7C255,1681.9 253,1682.6 251.1,1683C249.2,1683.5 246.1,1683.7 244.2,1683.5C242.3,1683.3 240.8,1682.7 239.7,1681.9C238.5,1681 237.8,1679.5 237.4,1678.3C237,1677.2 237,1676 237.4,1674.8Z" fill="#462a79" stroke="#462a79" stroke-width="1.0" stroke-linejoin="round"/>
<path d="M66.9,1692.9C67.2,1691.8 68.2,1690.8 69.9,1690.1C71.5,1689.4 74.4,1688.9 76.7,1688.9C79,1688.9 81.8,1689.4 83.5,1690.1C85.3,1690.8 86.6,1691.7 87,1692.9C87.3,1694.1 87,1696.1 85.8,1697.1C84.7,1698.2 82.2,1698.8 80.1,1699C78,1699.2 75.3,1698.7 73.3,1698.3C71.3,1697.9 69.3,1697.6 68.3,1696.7C67.2,1695.8 66.6,1694 66.9,1692.9Z" fill="#462a79" stroke="#462a79" stroke-width="1.0" stroke-linejoin="round"/>
<path d="M112,1700C112.3,1699.1 113.4,1698.1 114.8,1697.6C116.1,1697.1 118.6,1696.8 120,1697.1C121.4,1697.5 122.7,1698.9 123,1700C123.2,1701.1 122.6,1702.9 121.6,1703.7C120.6,1704.5 118.5,1704.8 117,1704.7C115.6,1704.6 114,1703.8 113.2,1703C112.3,1702.2 111.8,1700.9 112,1700Z" fill="#462a79" stroke="#462a79" stroke-width="1.0" stroke-linejoin="round"/>
<path d="M261.3,1689.6C261.3,1689.1 263.7,1688.1 264.8,1688.2C265.8,1688.3 267.5,1689.5 267.5,1690.1C267.5,1690.6 265.8,1691.6 264.8,1691.5C263.7,1691.4 261.3,1690.2 261.3,1689.6Z" fill="#462a79" stroke="#462a79" stroke-width="1.0" stroke-linejoin="round"/>
<path d="M276.2,1688.9C276.2,1688.3 278.4,1687.6 279.6,1687.7C280.7,1687.9 283,1689 283,1689.6C283,1690.2 280.7,1691.4 279.6,1691.3C278.4,1691.1 276.2,1689.5 276.2,1688.9Z" fill="#462a79" stroke="#462a79" stroke-width="1.0" stroke-linejoin="round"/>
<path d="M243.1,1706.5C243.3,1705.4 245.6,1704.2 246.5,1703C247.5,1701.8 247.7,1700.4 248.8,1699.5C249.9,1698.6 251.1,1697.8 253.4,1697.6C255.6,1697.4 260.2,1697.6 262.5,1698.3C264.8,1699 264.8,1700.5 267,1701.8C269.3,1703.2 273.5,1705 276.2,1706.5C278.8,1708.1 281.8,1709.7 283,1711.3C284.2,1712.8 284,1714.6 283.5,1716C282.9,1717.3 281.6,1718.5 279.6,1719.5C277.6,1720.5 274.1,1721.2 271.6,1721.8C269.1,1722.4 266.8,1722.2 264.8,1723C262.7,1723.8 260.6,1726.1 259.1,1726.5C257.5,1726.9 256.8,1725.9 255.6,1725.4C254.5,1724.8 253.4,1724 252.2,1723C251.1,1722 249.8,1720.9 248.8,1719.5C247.9,1718.1 247.1,1716.3 246.5,1714.8C246,1713.2 246,1711.4 245.4,1710.1C244.8,1708.7 242.9,1707.7 243.1,1706.5Z" fill="#3f4587" stroke="#3f4587" stroke-width="1.0" stroke-linejoin="round"/>
<path d="M80.1,1724.2C80.4,1723.2 81.3,1721.8 82.9,1721.1C84.4,1720.5 87.3,1720 89.2,1720.2C91.1,1720.4 93.3,1721.7 94.3,1722.5C95.2,1723.4 95.4,1724.4 94.9,1725.4C94.5,1726.3 93,1727.6 91.5,1728.2C90,1728.8 87.5,1729 85.8,1728.9C84.1,1728.7 82.2,1728 81.3,1727.2C80.3,1726.5 79.9,1725.2 80.1,1724.2Z" fill="#462a79" stroke="#462a79" stroke-width="1.0" stroke-linejoin="round"/>
<path d="M94.9,1726.5C95.3,1725.8 97,1725.8 98.4,1725.8C99.7,1725.8 102,1726 102.9,1726.5C103.9,1727 104.2,1727.9 104.1,1728.9C103.9,1729.9 102.7,1731.8 101.8,1732.4C100.8,1733 99.3,1732.8 98.4,1732.4C97.4,1732 96.6,1731 96.1,1730.1C95.5,1729.1 94.6,1727.2 94.9,1726.5Z" fill="#462a79" stroke="#462a79" stroke-width="1.0" stroke-linejoin="round"/>
<path d="M123.9,1728.9C124.1,1727.8 125.4,1726.8 126.9,1726.3C128.3,1725.8 130.8,1725.6 132.5,1725.8C134.3,1726.1 136.2,1726.9 137.1,1727.7C138.1,1728.5 138.4,1729.6 138.2,1730.5C138.1,1731.5 137.3,1733 136,1733.6C134.6,1734.2 132,1734.4 130.3,1734.3C128.6,1734.2 126.8,1733.8 125.7,1732.9C124.6,1732 123.7,1730 123.9,1728.9Z" fill="#462a79" stroke="#462a79" stroke-width="1.0" stroke-linejoin="round"/>
<path d="M161,1725.4C161,1723.7 162,1721.9 163.3,1720.7C164.7,1719.4 166.9,1718.3 169,1717.8C171.1,1717.4 173.8,1717.4 175.9,1717.8C177.9,1718.3 180.3,1719.4 181.6,1720.7C182.8,1721.9 183.2,1723.8 183.2,1725.4C183.2,1726.9 182.8,1728.8 181.6,1730.1C180.3,1731.3 177.9,1732.4 175.9,1732.9C173.8,1733.4 171.1,1733.5 169,1733.1C166.9,1732.7 164.7,1731.8 163.3,1730.5C162,1729.2 161,1727 161,1725.4Z" fill="#462a79" stroke="#462a79" stroke-width="1.0" stroke-linejoin="round"/>
<path d="M206.6,1730.1C206.9,1729 207.6,1727.4 208.9,1726.5C210.2,1725.7 212.7,1725 214.6,1724.9C216.5,1724.8 219,1725 220.3,1725.8C221.6,1726.6 222.4,1728.3 222.6,1729.6C222.8,1730.9 222.6,1732.7 221.4,1733.6C220.3,1734.5 217.7,1735 215.8,1735.2C213.9,1735.4 211.5,1735.2 210.1,1734.8C208.6,1734.4 207.9,1733.7 207.3,1732.9C206.7,1732.1 206.4,1731.1 206.6,1730.1Z" fill="#462a79" stroke="#462a79" stroke-width="1.0" stroke-linejoin="round"/>
<path d="M167.9,1758.3C168,1757.2 169,1755.5 170.2,1754.8C171.3,1754 173.3,1753.5 174.7,1753.6C176.1,1753.7 177.7,1754.6 178.6,1755.5C179.5,1756.3 180,1757.7 180,1758.8C179.9,1759.8 179.2,1761.2 178.1,1761.8C177.1,1762.4 175,1762.6 173.6,1762.5C172.1,1762.4 170.4,1761.8 169.5,1761.1C168.5,1760.4 167.8,1759.3 167.9,1758.3Z" fill="#462a79" stroke="#462a79" stroke-width="1.0" stroke-linejoin="round"/>
</g></g>
<g filter="url(#soft)"><g mask="url(#mkd)">
<path d="M425.6,1613.7C425.8,1612.8 427.9,1610.7 429,1609C430.1,1607.2 431.7,1605 432.4,1603.1C433.2,1601.1 432.8,1598.7 433.6,1597.2C434.3,1595.7 435.7,1594.5 437,1594.1C438.3,1593.8 440.6,1594.1 441.5,1594.9C442.5,1595.6 442.9,1596.8 442.7,1598.4C442.5,1599.9 441.4,1602.5 440.4,1604.3C439.5,1606 438.3,1607.8 437,1609C435.7,1610.1 433.9,1610.4 432.4,1611.3C430.9,1612.2 429,1614 427.9,1614.4C426.7,1614.8 425.4,1614.6 425.6,1613.7Z" fill="#45337f" stroke="#45337f" stroke-width="1.0" stroke-linejoin="round"/>
<path d="M480.3,1605.4C480.6,1604.7 481.5,1603.8 482.6,1603.6C483.6,1603.4 485.5,1603.8 486.4,1604.3C487.4,1604.8 488.3,1605.7 488.3,1606.6C488.3,1607.5 487.2,1609.1 486.4,1609.7C485.7,1610.3 484.6,1610.4 483.7,1610.1C482.8,1609.9 481.5,1609 481,1608.3C480.4,1607.5 480,1606.2 480.3,1605.4Z" fill="#45337f" stroke="#45337f" stroke-width="1.0" stroke-linejoin="round"/>
<path d="M527,1613.7C526.8,1611.9 527.8,1610.1 529.3,1609C530.8,1607.8 533.5,1606.9 536.1,1606.6C538.8,1606.3 542.4,1606.7 545.3,1607.3C548.1,1607.9 551.5,1608.9 553.2,1610.1C554.9,1611.4 555.5,1613.3 555.5,1614.8C555.5,1616.4 554.9,1618.4 553.2,1619.5C551.5,1620.7 548.1,1621.5 545.3,1621.9C542.4,1622.3 538.6,1622.3 536.1,1621.9C533.7,1621.5 532,1620.9 530.4,1619.5C528.9,1618.2 527.2,1615.4 527,1613.7Z" fill="#45337f" stroke="#45337f" stroke-width="1.0" stroke-linejoin="round"/>
<path d="M398.2,1625.4C398.4,1624.2 399.2,1622.7 400.5,1621.9C401.8,1621.1 404.1,1620.7 406.2,1620.7C408.3,1620.7 411.2,1621.1 413,1621.9C414.9,1622.7 417,1624.2 417.6,1625.4C418.2,1626.6 417.6,1628.1 416.5,1629C415.3,1629.8 412.9,1630.3 410.8,1630.6C408.7,1630.9 405.8,1630.9 403.9,1630.6C402,1630.3 400.3,1629.8 399.4,1629C398.4,1628.1 398,1626.6 398.2,1625.4Z" fill="#45337f" stroke="#45337f" stroke-width="1.0" stroke-linejoin="round"/>
<path d="M472.3,1634.8C473.1,1634.4 476.9,1635.7 479.2,1635.5C481.4,1635.4 483.3,1634.2 486,1634.1C488.7,1634 493.8,1634.1 495.1,1634.8C496.4,1635.5 495.1,1637.4 494,1638.4C492.8,1639.3 490,1639.9 488.3,1640.7C486.6,1641.5 485.2,1643.1 483.7,1643.1C482.2,1643.1 480.7,1641.6 479.2,1640.7C477.6,1639.8 475.7,1638.9 474.6,1637.9C473.5,1636.9 471.6,1635.2 472.3,1634.8Z" fill="#3a6a8d" stroke="#3a6a8d" stroke-width="1.0" stroke-linejoin="round"/>
<path d="M445.4,1627.8C445.4,1626.6 445.8,1625.3 447.2,1624.2C448.7,1623.2 451.4,1621.9 454.1,1621.4C456.7,1621 460.5,1621 463.2,1621.4C465.9,1621.8 468.3,1622.7 470,1623.8C471.7,1624.8 473.1,1626.3 473.5,1627.8C473.8,1629.2 473.3,1631.2 472.3,1632.5C471.4,1633.8 469.7,1634.9 467.8,1635.5C465.9,1636.1 463.4,1636.1 460.9,1636C458.4,1635.9 455.2,1635.6 452.9,1634.8C450.7,1634 448.5,1632.5 447.2,1631.3C446,1630.1 445.4,1629 445.4,1627.8Z" fill="url(#g16)" stroke="none" stroke-width="1.0" stroke-linejoin="round"/>
<path d="M478,1652.5C478.3,1651.2 479,1650.3 480.3,1649.6C481.6,1648.9 484.1,1648.2 486,1648.2C487.9,1648.3 490,1649.2 491.7,1650.1C493.4,1651 494.5,1652.7 496.3,1653.6C498,1654.6 500.2,1655.1 501.9,1656C503.7,1656.9 506.5,1658.3 506.5,1659C506.5,1659.8 503.8,1660.2 501.9,1660.7C500,1661.2 497.4,1661.6 495.1,1661.9C492.8,1662.2 490.6,1662.8 488.3,1662.6C486,1662.4 483,1661.6 481.4,1660.7C479.8,1659.8 479.3,1658.5 478.7,1657.2C478.1,1655.8 477.7,1653.7 478,1652.5Z" fill="#45337f" stroke="#45337f" stroke-width="1.0" stroke-linejoin="round"/>
<path d="M492.8,1647.3C493.4,1645.9 496.9,1641.4 498.5,1639.5C500.1,1637.7 501.6,1636.4 502.4,1636C503.2,1635.7 503.8,1636.4 503.3,1637.4C502.9,1638.4 501,1640.2 499.7,1641.9C498.3,1643.6 496.3,1646.9 495.1,1647.8C494,1648.7 492.3,1648.7 492.8,1647.3Z" fill="#45337f" stroke="#45337f" stroke-width="1.0" stroke-linejoin="round"/>
<path d="M505.4,1644.2C505.6,1643.3 506.3,1642.1 507.6,1641.4C509,1640.7 511.8,1640.2 513.3,1640.2C514.9,1640.3 516.3,1640.9 516.8,1641.9C517.2,1642.8 517,1644.9 516.1,1645.9C515.1,1646.9 512.7,1647.5 511.1,1647.8C509.5,1648 507.5,1647.9 506.5,1647.3C505.6,1646.7 505.2,1645.2 505.4,1644.2Z" fill="#45337f" stroke="#45337f" stroke-width="1.0" stroke-linejoin="round"/>
<path d="M532.7,1640.7C532.5,1639.8 534.1,1638.4 535,1637.2C536,1636 537.5,1633.8 538.4,1633.7C539.4,1633.5 540.1,1635 540.7,1636C541.3,1637 542.4,1638.4 542.3,1639.5C542.2,1640.7 541.3,1642.6 540.2,1643.1C539.2,1643.6 537.4,1643 536.1,1642.6C534.9,1642.2 532.9,1641.6 532.7,1640.7Z" fill="#45337f" stroke="#45337f" stroke-width="1.0" stroke-linejoin="round"/>
<path d="M362.4,1647.3C363.2,1646.2 365.5,1644.9 367.5,1644.2C369.4,1643.5 372,1643.5 374.3,1643.1C376.6,1642.7 379,1642.1 381.1,1641.9C383.2,1641.7 384.9,1641.5 386.8,1641.9C388.7,1642.3 391.3,1643.3 392.5,1644.2C393.8,1645.1 394.7,1646.4 394.4,1647.3C394,1648.2 392.1,1649.1 390.3,1649.6C388.4,1650.2 386.1,1650.2 383.4,1650.6C380.8,1651 377,1651.7 374.3,1652C371.6,1652.3 369.4,1652.7 367.5,1652.5C365.6,1652.2 363.7,1651.4 362.9,1650.6C362.1,1649.7 361.7,1648.4 362.4,1647.3Z" fill="#45337f" stroke="#45337f" stroke-width="1.0" stroke-linejoin="round"/>
<path d="M405.8,1654.8C405.8,1654.5 407.6,1654.1 408.5,1654.1C409.4,1654.1 411.2,1654.5 411.2,1654.8C411.2,1655.1 409.4,1656 408.5,1656C407.6,1656 405.8,1655.1 405.8,1654.8Z" fill="#45337f" stroke="#45337f" stroke-width="1.0" stroke-linejoin="round"/>
<path d="M515.2,1655.3C515.7,1654.8 517.3,1654 519,1653.6C520.8,1653.3 524.6,1652.9 525.9,1653.2C527.2,1653.4 527.8,1654.7 527,1655.3C526.3,1655.9 523.2,1656.5 521.3,1656.7C519.4,1656.9 516.7,1656.9 515.6,1656.7C514.6,1656.5 514.6,1655.8 515.2,1655.3Z" fill="#45337f" stroke="#45337f" stroke-width="1.0" stroke-linejoin="round"/>
<path d="M561.2,1657.2C561.4,1655.4 562.2,1654.8 563.5,1653.6C564.8,1652.5 566.9,1651.2 569.2,1650.1C571.5,1649.1 574.3,1647.9 577.2,1647.3C580,1646.7 583.4,1646.4 586.3,1646.6C589.1,1646.7 592,1647.3 594.3,1648.2C596.5,1649.2 598.8,1651.2 600,1652.5C601.1,1653.8 601.5,1654.6 601.1,1656C600.7,1657.4 599,1659.1 597.7,1660.7C596.4,1662.3 595,1663.9 593.1,1665.4C591.2,1666.8 588.6,1668.2 586.3,1669.4C584,1670.6 581.7,1671.9 579.5,1672.5C577.2,1673 574.7,1673 572.6,1672.5C570.5,1671.9 568.6,1670.3 566.9,1668.9C565.2,1667.6 563.3,1666.2 562.4,1664.2C561.4,1662.3 561,1658.9 561.2,1657.2Z" fill="#433e85" stroke="#433e85" stroke-width="1.0" stroke-linejoin="round"/>
<path d="M418.1,1663C418.1,1661.7 418.8,1659.7 419.9,1658.3C421,1657 422.2,1655.7 424.4,1654.8C426.7,1653.9 430.5,1653.3 433.6,1652.9C436.6,1652.5 440,1652.9 442.7,1652.5C445.3,1652.1 447.2,1650.9 449.5,1650.6C451.8,1650.3 454.3,1651 456.4,1650.6C458.4,1650.2 460.3,1648.3 462.1,1648.2C463.8,1648.2 465.5,1649 466.6,1650.1C467.8,1651.2 468.9,1653.2 468.9,1654.8C468.9,1656.4 467.6,1658 466.6,1659.5C465.7,1661.1 464.1,1662.9 463.2,1664.2C462.2,1665.6 462.4,1667 460.9,1667.8C459.4,1668.5 456.4,1668.9 454.1,1668.9C451.8,1668.9 449.5,1668.1 447.2,1667.8C445,1667.4 442.7,1666.8 440.4,1666.6C438.1,1666.3 435.8,1666.1 433.6,1666.1C431.3,1666.1 429,1666.5 426.7,1666.6C424.4,1666.7 421.3,1667.2 419.9,1666.6C418.4,1666 418.1,1664.4 418.1,1663Z" fill="#45337f" stroke="#45337f" stroke-width="1.0" stroke-linejoin="round"/>
<path d="M377.7,1672.5C377.9,1671.9 379.8,1671.4 381.1,1671.3C382.5,1671.2 384,1671.2 385.7,1671.7C387.4,1672.3 389.9,1673.7 391.4,1674.8C392.9,1675.9 394.6,1677.4 394.8,1678.3C395,1679.3 393.9,1680.3 392.5,1680.7C391.2,1681.1 388.4,1681.1 386.8,1680.7C385.3,1680.3 384.6,1679.3 383.4,1678.3C382.3,1677.4 380.9,1675.8 380,1674.8C379,1673.8 377.5,1673 377.7,1672.5Z" fill="#45337f" stroke="#45337f" stroke-width="1.0" stroke-linejoin="round"/>
<path d="M486,1671.3C486.5,1670.5 488.1,1669.2 489.4,1668.9C490.7,1668.6 492.8,1668.9 494,1669.4C495.1,1669.9 496.3,1670.8 496.3,1671.7C496.3,1672.6 495.1,1674.2 494,1674.8C492.8,1675.4 490.7,1675.7 489.4,1675.5C488.2,1675.3 487,1674.3 486.4,1673.6C485.9,1672.9 485.5,1672.1 486,1671.3Z" fill="#45337f" stroke="#45337f" stroke-width="1.0" stroke-linejoin="round"/>
<path d="M423.3,1680.7C423.7,1678.9 425,1677.9 426.7,1677.2C428.4,1676.4 431.3,1676.2 433.6,1676C435.8,1675.8 438.1,1676.1 440.4,1676C442.7,1675.9 445.2,1675.9 447.2,1675.5C449.3,1675.1 451.4,1673.7 452.9,1673.6C454.5,1673.5 456.5,1674 456.4,1674.8C456.2,1675.6 453.1,1677.4 451.8,1678.3C450.5,1679.3 448.8,1679.5 448.4,1680.7C448,1681.9 449,1684 449.5,1685.4C450.1,1686.8 452.2,1687.9 451.8,1688.9C451.4,1689.9 448.8,1690.9 447.2,1691.3C445.7,1691.7 444.2,1690.7 442.7,1691.3C441.2,1691.9 439.6,1693.4 438.1,1694.8C436.6,1696.2 435.3,1698.5 433.6,1699.5C431.9,1700.5 429.5,1700.9 427.9,1700.7C426.3,1700.5 424.9,1699.7 424,1698.3C423.1,1696.9 422.5,1694.2 422.6,1692.4C422.7,1690.7 424.3,1689.7 424.4,1687.7C424.6,1685.8 422.9,1682.4 423.3,1680.7Z" fill="#45337f" stroke="#45337f" stroke-width="1.0" stroke-linejoin="round"/>
<path d="M465.5,1683C465.9,1681.3 466.4,1679.4 467.8,1678.3C469.1,1677.2 471.6,1676.6 473.5,1676.5C475.4,1676.3 477.6,1676.5 479.2,1677.2C480.7,1677.9 481.8,1679.3 482.6,1680.7C483.3,1682.1 482.4,1684.2 483.7,1685.4C485,1686.6 488.8,1686.8 490.6,1687.7C492.3,1688.7 493.6,1689.9 494,1691.3C494.4,1692.6 493.8,1694.8 492.8,1696C491.9,1697.1 489.8,1697.1 488.3,1698.3C486.8,1699.5 485.4,1702.2 483.7,1703C482,1703.8 479.5,1703.6 478,1703C476.5,1702.4 475.9,1700.5 474.6,1699.5C473.3,1698.5 471.4,1698.1 470,1697.1C468.7,1696.2 467.5,1695 466.6,1693.6C465.8,1692.2 465.2,1690.7 465,1688.9C464.8,1687.1 465,1684.8 465.5,1683Z" fill="#45337f" stroke="#45337f" stroke-width="1.0" stroke-linejoin="round"/>
<path d="M517.9,1674.8C518.3,1673.6 518.9,1672.1 520.2,1671.3C521.5,1670.5 524,1670.1 525.9,1670.1C527.8,1670.1 529.9,1670.3 531.6,1671.3C533.2,1672.3 534.9,1674.4 535.7,1676C536.4,1677.5 536.8,1679.5 536.1,1680.7C535.5,1681.9 533.5,1682.6 531.6,1683C529.7,1683.5 526.6,1683.7 524.7,1683.5C522.8,1683.3 521.3,1682.7 520.2,1681.9C519,1681 518.3,1679.5 517.9,1678.3C517.5,1677.2 517.5,1676 517.9,1674.8Z" fill="#45337f" stroke="#45337f" stroke-width="1.0" stroke-linejoin="round"/>
<path d="M347.4,1692.9C347.7,1691.8 348.7,1690.8 350.4,1690.1C352,1689.4 354.9,1688.9 357.2,1688.9C359.5,1688.9 362.3,1689.4 364,1690.1C365.8,1690.8 367.1,1691.7 367.5,1692.9C367.8,1694.1 367.5,1696.1 366.3,1697.1C365.2,1698.2 362.7,1698.8 360.6,1699C358.5,1699.2 355.8,1698.7 353.8,1698.3C351.8,1697.9 349.8,1697.6 348.8,1696.7C347.7,1695.8 347.1,1694 347.4,1692.9Z" fill="#45337f" stroke="#45337f" stroke-width="1.0" stroke-linejoin="round"/>
<path d="M392.5,1700C392.8,1699.1 393.9,1698.1 395.3,1697.6C396.6,1697.1 399.1,1696.8 400.5,1697.1C401.9,1697.5 403.2,1698.9 403.5,1700C403.7,1701.1 403.1,1702.9 402.1,1703.7C401.1,1704.5 399,1704.8 397.5,1704.7C396.1,1704.6 394.5,1703.8 393.7,1703C392.8,1702.2 392.3,1700.9 392.5,1700Z" fill="#45337f" stroke="#45337f" stroke-width="1.0" stroke-linejoin="round"/>
<path d="M541.8,1689.6C541.8,1689.1 544.2,1688.1 545.3,1688.2C546.3,1688.3 548,1689.5 548,1690.1C548,1690.6 546.3,1691.6 545.3,1691.5C544.2,1691.4 541.8,1690.2 541.8,1689.6Z" fill="#45337f" stroke="#45337f" stroke-width="1.0" stroke-linejoin="round"/>
<path d="M556.7,1688.9C556.7,1688.3 558.9,1687.6 560.1,1687.7C561.2,1687.9 563.5,1689 563.5,1689.6C563.5,1690.2 561.2,1691.4 560.1,1691.3C558.9,1691.1 556.7,1689.5 556.7,1688.9Z" fill="#45337f" stroke="#45337f" stroke-width="1.0" stroke-linejoin="round"/>
<path d="M523.6,1706.5C523.8,1705.4 526.1,1704.2 527,1703C528,1701.8 528.2,1700.4 529.3,1699.5C530.4,1698.6 531.6,1697.8 533.9,1697.6C536.1,1697.4 540.7,1697.6 543,1698.3C545.3,1699 545.3,1700.5 547.5,1701.8C549.8,1703.2 554,1705 556.7,1706.5C559.3,1708.1 562.3,1709.7 563.5,1711.3C564.7,1712.8 564.5,1714.6 564,1716C563.4,1717.3 562.1,1718.5 560.1,1719.5C558.1,1720.5 554.6,1721.2 552.1,1721.8C549.6,1722.4 547.3,1722.2 545.3,1723C543.2,1723.8 541.1,1726.1 539.6,1726.5C538,1726.9 537.3,1725.9 536.1,1725.4C535,1724.8 533.9,1724 532.7,1723C531.6,1722 530.3,1720.9 529.3,1719.5C528.4,1718.1 527.6,1716.3 527,1714.8C526.5,1713.2 526.5,1711.4 525.9,1710.1C525.3,1708.7 523.4,1707.7 523.6,1706.5Z" fill="#424286" stroke="#424286" stroke-width="1.0" stroke-linejoin="round"/>
<path d="M360.6,1724.2C360.9,1723.2 361.8,1721.8 363.4,1721.1C364.9,1720.5 367.8,1720 369.7,1720.2C371.6,1720.4 373.8,1721.7 374.8,1722.5C375.7,1723.4 375.9,1724.4 375.4,1725.4C375,1726.3 373.5,1727.6 372,1728.2C370.5,1728.8 368,1729 366.3,1728.9C364.6,1728.7 362.7,1728 361.8,1727.2C360.8,1726.5 360.4,1725.2 360.6,1724.2Z" fill="#45337f" stroke="#45337f" stroke-width="1.0" stroke-linejoin="round"/>
<path d="M375.4,1726.5C375.8,1725.8 377.5,1725.8 378.9,1725.8C380.2,1725.8 382.5,1726 383.4,1726.5C384.4,1727 384.7,1727.9 384.6,1728.9C384.4,1729.9 383.2,1731.8 382.3,1732.4C381.3,1733 379.8,1732.8 378.9,1732.4C377.9,1732 377.1,1731 376.6,1730.1C376,1729.1 375.1,1727.2 375.4,1726.5Z" fill="#45337f" stroke="#45337f" stroke-width="1.0" stroke-linejoin="round"/>
<path d="M404.4,1728.9C404.6,1727.8 405.9,1726.8 407.4,1726.3C408.8,1725.8 411.3,1725.6 413,1725.8C414.8,1726.1 416.7,1726.9 417.6,1727.7C418.6,1728.5 418.9,1729.6 418.7,1730.5C418.6,1731.5 417.8,1733 416.5,1733.6C415.1,1734.2 412.5,1734.4 410.8,1734.3C409.1,1734.2 407.3,1733.8 406.2,1732.9C405.1,1732 404.2,1730 404.4,1728.9Z" fill="#45337f" stroke="#45337f" stroke-width="1.0" stroke-linejoin="round"/>
<path d="M441.5,1725.4C441.5,1723.7 442.5,1721.9 443.8,1720.7C445.2,1719.4 447.4,1718.3 449.5,1717.8C451.6,1717.4 454.3,1717.4 456.4,1717.8C458.4,1718.3 460.8,1719.4 462.1,1720.7C463.3,1721.9 463.7,1723.8 463.7,1725.4C463.7,1726.9 463.3,1728.8 462.1,1730.1C460.8,1731.3 458.4,1732.4 456.4,1732.9C454.3,1733.4 451.6,1733.5 449.5,1733.1C447.4,1732.7 445.2,1731.8 443.8,1730.5C442.5,1729.2 441.5,1727 441.5,1725.4Z" fill="#45337f" stroke="#45337f" stroke-width="1.0" stroke-linejoin="round"/>
<path d="M487.1,1730.1C487.4,1729 488.1,1727.4 489.4,1726.5C490.7,1725.7 493.2,1725 495.1,1724.9C497,1724.8 499.5,1725 500.8,1725.8C502.1,1726.6 502.9,1728.3 503.1,1729.6C503.3,1730.9 503.1,1732.7 501.9,1733.6C500.8,1734.5 498.2,1735 496.3,1735.2C494.4,1735.4 492,1735.2 490.6,1734.8C489.1,1734.4 488.4,1733.7 487.8,1732.9C487.2,1732.1 486.9,1731.1 487.1,1730.1Z" fill="#37678d" stroke="#37678d" stroke-width="1.0" stroke-linejoin="round"/>
<path d="M448.4,1758.3C448.5,1757.2 449.5,1755.5 450.7,1754.8C451.8,1754 453.8,1753.5 455.2,1753.6C456.6,1753.7 458.2,1754.6 459.1,1755.5C460,1756.3 460.5,1757.7 460.5,1758.8C460.4,1759.8 459.7,1761.2 458.6,1761.8C457.6,1762.4 455.5,1762.6 454.1,1762.5C452.6,1762.4 450.9,1761.8 450,1761.1C449,1760.4 448.3,1759.3 448.4,1758.3Z" fill="#45337f" stroke="#45337f" stroke-width="1.0" stroke-linejoin="round"/>
</g></g>
<g filter="url(#soft)"><g mask="url(#sk2)">
<path d="M156.8,1402.5C161.3,1399.1 170.6,1397.3 177,1395.8C183.4,1394.3 189,1393.1 195,1393.5C201,1393.9 208.5,1395.4 213,1398C217.5,1400.6 221.3,1404.8 222,1409.3C222.8,1413.8 218.6,1419.4 217.5,1425C216.4,1430.6 216.8,1437 215.3,1443C213.8,1449 211.9,1457.3 208.5,1461C205.1,1464.8 198.8,1466.3 195,1465.5C191.3,1464.8 188.3,1460.6 186,1456.5C183.8,1452.4 183.8,1445.3 181.5,1440.8C179.3,1436.3 176.3,1432.9 172.5,1429.5C168.8,1426.1 162.8,1422.8 159,1420.5C155.3,1418.3 150.4,1419 150,1416C149.6,1413 152.3,1405.9 156.8,1402.5Z" fill="#b8b8c8" stroke="#b8b8c8" stroke-width="1.2" stroke-linejoin="round"/>
</g></g>
<g filter="url(#soft)"><g mask="url(#sk2)">
<path d="M484.6,1402.5C489.1,1399.1 498.4,1397.3 504.8,1395.8C511.2,1394.3 516.8,1393.1 522.8,1393.5C528.8,1393.9 536.3,1395.4 540.8,1398C545.3,1400.6 549.1,1404.8 549.8,1409.3C550.6,1413.8 546.4,1419.4 545.3,1425C544.2,1430.6 544.6,1437 543.1,1443C541.6,1449 539.7,1457.3 536.3,1461C532.9,1464.8 526.6,1466.3 522.8,1465.5C519.1,1464.8 516.1,1460.6 513.8,1456.5C511.6,1452.4 511.6,1445.3 509.3,1440.8C507.1,1436.3 504.1,1432.9 500.3,1429.5C496.6,1426.1 490.6,1422.8 486.8,1420.5C483.1,1418.3 478.2,1419 477.8,1416C477.4,1413 480.1,1405.9 484.6,1402.5Z" fill="#8fb6d8" stroke="#8fb6d8" stroke-width="1.2" stroke-linejoin="round"/>
</g></g>
<g filter="url(#soft)"><g mask="url(#sk3)">
<path d="M833.6,1402.5C838.1,1399.1 847.4,1397.3 853.8,1395.8C860.2,1394.3 865.8,1393.1 871.8,1393.5C877.8,1393.9 885.3,1395.4 889.8,1398C894.3,1400.6 898.1,1404.8 898.8,1409.3C899.6,1413.8 895.4,1419.4 894.3,1425C893.2,1430.6 893.6,1437 892.1,1443C890.6,1449 888.7,1457.3 885.3,1461C881.9,1464.8 875.6,1466.3 871.8,1465.5C868.1,1464.8 865.1,1460.6 862.8,1456.5C860.6,1452.4 860.6,1445.3 858.3,1440.8C856.1,1436.3 853.1,1432.9 849.3,1429.5C845.6,1426.1 839.6,1422.8 835.8,1420.5C832.1,1418.3 827.2,1419 826.8,1416C826.4,1413 829.1,1405.9 833.6,1402.5Z" fill="#7a5a90" stroke="#7a5a90" stroke-width="1.2" stroke-linejoin="round"/>
</g></g>
<g filter="url(#soft)"><g mask="url(#sk3)">
<path d="M155.3,1654.8C159.9,1651.3 169.4,1649.3 175.9,1647.8C182.3,1646.2 188,1645 194.1,1645.4C200.2,1645.8 207.8,1647.4 212.3,1650.1C216.9,1652.9 220.7,1657.2 221.4,1661.9C222.2,1666.6 218,1672.5 216.9,1678.3C215.8,1684.2 216.1,1690.9 214.6,1697.1C213.1,1703.4 211.2,1712 207.8,1716C204.4,1719.9 197.9,1721.4 194.1,1720.7C190.3,1719.9 187.3,1715.6 185,1711.3C182.7,1706.9 182.7,1699.5 180.4,1694.8C178.1,1690.1 175.1,1686.6 171.3,1683C167.5,1679.5 161.4,1676 157.6,1673.6C153.8,1671.3 148.9,1672.1 148.5,1668.9C148.1,1665.8 150.8,1658.3 155.3,1654.8Z" fill="#7a6a9a" stroke="#7a6a9a" stroke-width="1.2" stroke-linejoin="round"/>
</g></g>
<g filter="url(#soft)"><g mask="url(#sk3)">
<path d="M435.8,1654.8C440.4,1651.3 449.9,1649.3 456.4,1647.8C462.8,1646.2 468.5,1645 474.6,1645.4C480.7,1645.8 488.3,1647.4 492.8,1650.1C497.4,1652.9 501.2,1657.2 501.9,1661.9C502.7,1666.6 498.5,1672.5 497.4,1678.3C496.3,1684.2 496.6,1690.9 495.1,1697.1C493.6,1703.4 491.7,1712 488.3,1716C484.9,1719.9 478.4,1721.4 474.6,1720.7C470.8,1719.9 467.8,1715.6 465.5,1711.3C463.2,1706.9 463.2,1699.5 460.9,1694.8C458.6,1690.1 455.6,1686.6 451.8,1683C448,1679.5 441.9,1676 438.1,1673.6C434.3,1671.3 429.4,1672.1 429,1668.9C428.6,1665.8 431.3,1658.3 435.8,1654.8Z" fill="#7a6a9a" stroke="#7a6a9a" stroke-width="1.2" stroke-linejoin="round"/>
</g></g>
<line x1="143.00" y1="1112.50" x2="143.00" y2="1154.00" stroke="#000" stroke-width="1.6"/>
<line x1="143.00" y1="1206.75" x2="143.00" y2="1232.50" stroke="#000" stroke-width="1.6"/>
<line x1="135.50" y1="1112.50" x2="150.50" y2="1112.50" stroke="#000" stroke-width="1.6"/>
<line x1="135.50" y1="1232.50" x2="150.50" y2="1232.50" stroke="#000" stroke-width="1.6"/>
<rect x="126.25" y="1154.00" width="33.25" height="52.75" fill="#ddc813" stroke="#000" stroke-width="1.6"/>
<line x1="126.25" y1="1178.50" x2="159.50" y2="1178.50" stroke="#000" stroke-width="1.6"/>
<line x1="193.00" y1="1101.00" x2="193.00" y2="1132.00" stroke="#000" stroke-width="1.6"/>
<line x1="193.00" y1="1159.00" x2="193.00" y2="1185.00" stroke="#000" stroke-width="1.6"/>
<line x1="185.50" y1="1101.00" x2="200.50" y2="1101.00" stroke="#000" stroke-width="1.6"/>
<line x1="185.50" y1="1185.00" x2="200.50" y2="1185.00" stroke="#000" stroke-width="1.6"/>
<rect x="176.25" y="1132.00" width="33.25" height="27.00" fill="#7d3f98" stroke="#000" stroke-width="1.6"/>
<line x1="176.25" y1="1151.25" x2="209.50" y2="1151.25" stroke="#000" stroke-width="1.6"/>
<path d="M143.0 1112.5h0M143.0 1126.2h0M142.0 1128.8h0M143.0 1136.2h0M143.0 1146.2h0M143.0 1156.2h0M136.2 1163.2h0M143.0 1163.2h0M150.0 1162.5h0M143.0 1173.8h0M143.0 1181.2h0M143.0 1186.2h0M143.0 1190.0h0M143.0 1196.2h0M143.0 1205.0h0M139.5 1206.2h0M146.2 1206.2h0M143.0 1210.0h0M143.0 1216.2h0M143.0 1221.2h0M143.0 1227.5h0M140.0 1232.0h0M146.2 1232.0h0M193.0 1101.0h0M193.0 1110.5h0M193.0 1118.0h0M193.0 1123.0h0M193.0 1133.0h0M193.0 1139.5h0M189.5 1146.2h0M196.5 1145.5h0M184.5 1151.2h0M190.0 1151.2h0M197.5 1152.0h0M193.0 1155.0h0M182.0 1158.8h0M187.0 1159.5h0M198.8 1159.5h0M203.8 1159.5h0M193.0 1172.0h0M190.0 1184.5h0M196.2 1184.5h0" stroke="#000" stroke-width="4.8" stroke-linecap="round"/>
<line x1="110.00" y1="1063.00" x2="110.00" y2="1238.80" stroke="#000" stroke-width="1.6"/>
<line x1="109.20" y1="1238.00" x2="227.00" y2="1238.00" stroke="#000" stroke-width="1.6"/>
<line x1="104.00" y1="1063.00" x2="110.00" y2="1063.00" stroke="#000" stroke-width="1.6"/>
<text x="98.00" y="1067.60" font-size="13" text-anchor="end" fill="#111">0.25</text>
<line x1="104.00" y1="1098.25" x2="110.00" y2="1098.25" stroke="#000" stroke-width="1.6"/>
<text x="98.00" y="1102.85" font-size="13" text-anchor="end" fill="#111">0.20</text>
<line x1="104.00" y1="1133.25" x2="110.00" y2="1133.25" stroke="#000" stroke-width="1.6"/>
<text x="98.00" y="1137.85" font-size="13" text-anchor="end" fill="#111">0.15</text>
<line x1="104.00" y1="1168.25" x2="110.00" y2="1168.25" stroke="#000" stroke-width="1.6"/>
<text x="98.00" y="1172.85" font-size="13" text-anchor="end" fill="#111">0.10</text>
<line x1="104.00" y1="1203.25" x2="110.00" y2="1203.25" stroke="#000" stroke-width="1.6"/>
<text x="98.00" y="1207.85" font-size="13" text-anchor="end" fill="#111">0.05</text>
<line x1="104.00" y1="1238.00" x2="110.00" y2="1238.00" stroke="#000" stroke-width="1.6"/>
<text x="98.00" y="1242.60" font-size="13" text-anchor="end" fill="#111">0.00</text>
<text x="63.30" y="1150.00" font-size="16.2" text-anchor="middle" transform="rotate(-90 63.30 1150.00)" fill="#111">iCAF score</text>
<line x1="143.00" y1="1238.00" x2="143.00" y2="1243.50" stroke="#000" stroke-width="1.6"/>
<line x1="193.00" y1="1238.00" x2="193.00" y2="1243.50" stroke="#000" stroke-width="1.6"/>
<text x="143.00" y="1263.75" font-size="19" text-anchor="middle" fill="#000">TE</text>
<text x="193.00" y="1263.75" font-size="19" text-anchor="middle" fill="#000">TS</text>
<path d="M143.00 1082.50V1074.50H193.00V1082.50" fill="none" stroke="#000" stroke-width="1.4"/>
<text x="170.00" y="1066.00" font-size="14.3" text-anchor="middle" fill="#111">p=0.0204</text>
<line x1="345.50" y1="1173.00" x2="460.00" y2="1173.00" stroke="#000" stroke-width="2.9" stroke-linecap="round" stroke-dasharray="0.01 5.55"/>
<line x1="375.50" y1="1146.25" x2="375.50" y2="1161.25" stroke="#000" stroke-width="1.6"/>
<line x1="375.50" y1="1194.50" x2="375.50" y2="1217.00" stroke="#000" stroke-width="1.6"/>
<line x1="368.00" y1="1146.25" x2="383.00" y2="1146.25" stroke="#000" stroke-width="1.6"/>
<line x1="368.00" y1="1217.00" x2="383.00" y2="1217.00" stroke="#000" stroke-width="1.6"/>
<rect x="359.50" y="1161.25" width="32.50" height="33.25" fill="#ddc813" stroke="#000" stroke-width="1.6"/>
<line x1="359.50" y1="1177.50" x2="392.00" y2="1177.50" stroke="#000" stroke-width="1.6"/>
<line x1="425.75" y1="1088.00" x2="425.75" y2="1117.50" stroke="#000" stroke-width="1.6"/>
<line x1="425.75" y1="1163.75" x2="425.75" y2="1187.50" stroke="#000" stroke-width="1.6"/>
<line x1="418.25" y1="1088.00" x2="433.25" y2="1088.00" stroke="#000" stroke-width="1.6"/>
<line x1="418.25" y1="1187.50" x2="433.25" y2="1187.50" stroke="#000" stroke-width="1.6"/>
<rect x="409.50" y="1117.50" width="33.00" height="46.25" fill="#7d3f98" stroke="#000" stroke-width="1.6"/>
<line x1="409.50" y1="1139.50" x2="442.50" y2="1139.50" stroke="#000" stroke-width="1.6"/>
<path d="M375.5 1146.2h0M372.5 1149.5h0M382.5 1150.5h0M375.5 1155.0h0M368.8 1161.2h0M375.0 1161.2h0M381.2 1160.0h0M383.8 1163.8h0M375.5 1167.5h0M372.5 1170.5h0M380.0 1171.2h0M375.5 1174.5h0M370.0 1179.5h0M367.5 1185.0h0M375.0 1182.5h0M381.2 1186.2h0M368.8 1190.0h0M376.2 1192.0h0M375.0 1200.0h0M368.8 1205.5h0M382.5 1206.2h0M375.5 1209.5h0M375.5 1217.0h0M425.8 1088.0h0M422.5 1110.5h0M429.5 1110.5h0M425.5 1117.5h0M433.0 1115.0h0M418.8 1128.0h0M426.2 1130.0h0M433.0 1128.8h0M425.5 1134.5h0M422.5 1140.0h0M425.5 1145.0h0M422.5 1148.8h0M428.8 1153.8h0M422.5 1160.0h0M429.5 1160.0h0M426.2 1165.0h0M425.5 1182.0h0M426.2 1187.5h0" stroke="#000" stroke-width="4.8" stroke-linecap="round"/>
<line x1="342.50" y1="1062.50" x2="342.50" y2="1238.80" stroke="#000" stroke-width="1.6"/>
<line x1="341.70" y1="1238.00" x2="460.00" y2="1238.00" stroke="#000" stroke-width="1.6"/>
<line x1="336.50" y1="1062.50" x2="342.50" y2="1062.50" stroke="#000" stroke-width="1.6"/>
<text x="330.00" y="1067.10" font-size="13" text-anchor="end" fill="#111">0.25</text>
<line x1="336.50" y1="1084.50" x2="342.50" y2="1084.50" stroke="#000" stroke-width="1.6"/>
<text x="330.00" y="1089.10" font-size="13" text-anchor="end" fill="#111">0.20</text>
<line x1="336.50" y1="1106.50" x2="342.50" y2="1106.50" stroke="#000" stroke-width="1.6"/>
<text x="330.00" y="1111.10" font-size="13" text-anchor="end" fill="#111">0.15</text>
<line x1="336.50" y1="1128.50" x2="342.50" y2="1128.50" stroke="#000" stroke-width="1.6"/>
<text x="330.00" y="1133.10" font-size="13" text-anchor="end" fill="#111">0.10</text>
<line x1="336.50" y1="1150.50" x2="342.50" y2="1150.50" stroke="#000" stroke-width="1.6"/>
<text x="330.00" y="1155.10" font-size="13" text-anchor="end" fill="#111">0.05</text>
<line x1="336.50" y1="1172.50" x2="342.50" y2="1172.50" stroke="#000" stroke-width="1.6"/>
<text x="330.00" y="1177.10" font-size="13" text-anchor="end" fill="#111">0.00</text>
<line x1="336.50" y1="1194.50" x2="342.50" y2="1194.50" stroke="#000" stroke-width="1.6"/>
<text x="330.00" y="1199.10" font-size="13" text-anchor="end" fill="#111">-0.05</text>
<line x1="336.50" y1="1216.50" x2="342.50" y2="1216.50" stroke="#000" stroke-width="1.6"/>
<text x="330.00" y="1221.10" font-size="13" text-anchor="end" fill="#111">-0.10</text>
<line x1="336.50" y1="1238.50" x2="342.50" y2="1238.50" stroke="#000" stroke-width="1.6"/>
<text x="330.00" y="1243.10" font-size="13" text-anchor="end" fill="#111">-0.15</text>
<text x="292.05" y="1148.75" font-size="16.2" text-anchor="middle" transform="rotate(-90 292.05 1148.75)" fill="#111">myCAF score</text>
<line x1="375.50" y1="1238.00" x2="375.50" y2="1243.50" stroke="#000" stroke-width="1.6"/>
<line x1="425.75" y1="1238.00" x2="425.75" y2="1243.50" stroke="#000" stroke-width="1.6"/>
<text x="375.50" y="1265.00" font-size="19" text-anchor="middle" fill="#000">TE</text>
<text x="425.75" y="1265.00" font-size="19" text-anchor="middle" fill="#000">TS</text>
<path d="M375.50 1079.25V1071.25H425.75V1079.25" fill="none" stroke="#000" stroke-width="1.4"/>
<text x="400.40" y="1063.50" font-size="14.3" text-anchor="middle" fill="#111">p=4.45x10<tspan font-size="9" dy="-6">-5</tspan></text>
<line x1="637.50" y1="1205.00" x2="752.50" y2="1205.00" stroke="#000" stroke-width="2.9" stroke-linecap="round" stroke-dasharray="0.01 5.55"/>
<line x1="668.25" y1="1124.25" x2="668.25" y2="1155.00" stroke="#000" stroke-width="1.6"/>
<line x1="668.25" y1="1185.50" x2="668.25" y2="1228.25" stroke="#000" stroke-width="1.6"/>
<line x1="660.75" y1="1124.25" x2="675.75" y2="1124.25" stroke="#000" stroke-width="1.6"/>
<line x1="660.75" y1="1228.25" x2="675.75" y2="1228.25" stroke="#000" stroke-width="1.6"/>
<rect x="652.50" y="1155.00" width="32.50" height="30.50" fill="#ddc813" stroke="#000" stroke-width="1.6"/>
<line x1="652.50" y1="1171.25" x2="685.00" y2="1171.25" stroke="#000" stroke-width="1.6"/>
<line x1="718.25" y1="1101.25" x2="718.25" y2="1139.25" stroke="#000" stroke-width="1.6"/>
<line x1="718.25" y1="1165.50" x2="718.25" y2="1194.25" stroke="#000" stroke-width="1.6"/>
<line x1="710.75" y1="1101.25" x2="725.75" y2="1101.25" stroke="#000" stroke-width="1.6"/>
<line x1="710.75" y1="1194.25" x2="725.75" y2="1194.25" stroke="#000" stroke-width="1.6"/>
<rect x="702.00" y="1139.25" width="33.00" height="26.25" fill="#7d3f98" stroke="#000" stroke-width="1.6"/>
<line x1="702.00" y1="1150.75" x2="735.00" y2="1150.75" stroke="#000" stroke-width="1.6"/>
<path d="M668.2 1124.2h0M668.2 1128.8h0M665.0 1138.0h0M671.2 1138.0h0M665.0 1144.5h0M671.2 1144.5h0M668.2 1147.5h0M652.5 1153.0h0M657.5 1153.0h0M662.5 1153.0h0M667.5 1153.0h0M672.5 1153.0h0M677.5 1153.0h0M682.5 1153.0h0M663.2 1159.5h0M672.5 1160.0h0M668.2 1163.0h0M659.5 1165.5h0M665.0 1167.0h0M671.2 1166.2h0M678.8 1166.2h0M657.5 1173.0h0M662.5 1173.8h0M670.0 1173.8h0M673.8 1175.0h0M663.8 1180.0h0M668.2 1181.2h0M660.0 1183.8h0M665.0 1185.0h0M672.5 1185.0h0M668.2 1190.0h0M665.0 1195.5h0M671.2 1195.5h0M668.2 1202.5h0M668.2 1209.5h0M665.0 1216.2h0M671.2 1216.2h0M668.2 1228.2h0M718.2 1101.2h0M718.2 1108.0h0M718.2 1113.8h0M718.2 1120.0h0M723.2 1125.5h0M718.2 1127.5h0M712.5 1132.5h0M723.8 1133.0h0M715.0 1138.8h0M721.2 1138.0h0M710.0 1142.5h0M718.2 1143.8h0M726.2 1143.8h0M713.8 1146.2h0M723.8 1147.5h0M705.0 1151.2h0M712.5 1151.2h0M718.2 1150.0h0M723.8 1152.5h0M730.0 1151.2h0M732.5 1151.2h0M712.5 1157.5h0M718.2 1156.2h0M726.2 1157.5h0M715.0 1162.5h0M720.0 1163.8h0M712.5 1168.8h0M723.8 1168.0h0M728.0 1171.2h0M718.2 1173.8h0M712.5 1175.0h0M722.5 1175.0h0M718.2 1181.2h0M718.2 1194.2h0" stroke="#000" stroke-width="4.8" stroke-linecap="round"/>
<line x1="634.50" y1="1063.75" x2="634.50" y2="1240.80" stroke="#000" stroke-width="1.6"/>
<line x1="633.70" y1="1240.00" x2="752.50" y2="1240.00" stroke="#000" stroke-width="1.6"/>
<line x1="628.50" y1="1063.75" x2="634.50" y2="1063.75" stroke="#000" stroke-width="1.6"/>
<text x="623.75" y="1068.35" font-size="13" text-anchor="end" fill="#111">0.4</text>
<line x1="628.50" y1="1099.00" x2="634.50" y2="1099.00" stroke="#000" stroke-width="1.6"/>
<text x="623.75" y="1103.60" font-size="13" text-anchor="end" fill="#111">0.3</text>
<line x1="628.50" y1="1134.25" x2="634.50" y2="1134.25" stroke="#000" stroke-width="1.6"/>
<text x="623.75" y="1138.85" font-size="13" text-anchor="end" fill="#111">0.2</text>
<line x1="628.50" y1="1169.50" x2="634.50" y2="1169.50" stroke="#000" stroke-width="1.6"/>
<text x="623.75" y="1174.10" font-size="13" text-anchor="end" fill="#111">0.1</text>
<line x1="628.50" y1="1204.75" x2="634.50" y2="1204.75" stroke="#000" stroke-width="1.6"/>
<text x="623.75" y="1209.35" font-size="13" text-anchor="end" fill="#111">0.0</text>
<line x1="628.50" y1="1240.00" x2="634.50" y2="1240.00" stroke="#000" stroke-width="1.6"/>
<text x="623.75" y="1244.60" font-size="13" text-anchor="end" fill="#111">-0.1</text>
<text x="592.05" y="1148.75" font-size="16.2" text-anchor="middle" transform="rotate(-90 592.05 1148.75)" fill="#111">iCAF score</text>
<line x1="668.25" y1="1240.00" x2="668.25" y2="1245.50" stroke="#000" stroke-width="1.6"/>
<line x1="718.25" y1="1240.00" x2="718.25" y2="1245.50" stroke="#000" stroke-width="1.6"/>
<text x="668.25" y="1266.25" font-size="19" text-anchor="middle" fill="#000">TE</text>
<text x="718.25" y="1266.25" font-size="19" text-anchor="middle" fill="#000">TS</text>
<path d="M668.25 1081.25V1073.00H718.25V1081.25" fill="none" stroke="#000" stroke-width="1.4"/>
<text x="696.25" y="1066.25" font-size="14.3" text-anchor="middle" fill="#111">p=0.0008</text>
<line x1="873.00" y1="1153.00" x2="987.50" y2="1153.00" stroke="#000" stroke-width="2.9" stroke-linecap="round" stroke-dasharray="0.01 5.55"/>
<line x1="903.25" y1="1116.25" x2="903.25" y2="1154.50" stroke="#000" stroke-width="1.6"/>
<line x1="903.25" y1="1198.00" x2="903.25" y2="1220.00" stroke="#000" stroke-width="1.6"/>
<line x1="895.75" y1="1116.25" x2="910.75" y2="1116.25" stroke="#000" stroke-width="1.6"/>
<line x1="895.75" y1="1220.00" x2="910.75" y2="1220.00" stroke="#000" stroke-width="1.6"/>
<rect x="887.00" y="1154.50" width="33.00" height="43.50" fill="#ddc813" stroke="#000" stroke-width="1.6"/>
<line x1="887.00" y1="1178.75" x2="920.00" y2="1178.75" stroke="#000" stroke-width="1.6"/>
<line x1="953.25" y1="1090.50" x2="953.25" y2="1107.50" stroke="#000" stroke-width="1.6"/>
<line x1="953.25" y1="1125.50" x2="953.25" y2="1170.75" stroke="#000" stroke-width="1.6"/>
<line x1="945.75" y1="1090.50" x2="960.75" y2="1090.50" stroke="#000" stroke-width="1.6"/>
<line x1="945.75" y1="1170.75" x2="960.75" y2="1170.75" stroke="#000" stroke-width="1.6"/>
<rect x="937.00" y="1107.50" width="33.50" height="18.00" fill="#7d3f98" stroke="#000" stroke-width="1.6"/>
<line x1="937.00" y1="1116.25" x2="970.50" y2="1116.25" stroke="#000" stroke-width="1.6"/>
<path d="M903.2 1116.2h0M903.2 1123.0h0M903.2 1140.0h0M893.8 1149.5h0M899.5 1149.5h0M906.2 1149.5h0M903.2 1146.2h0M897.5 1153.0h0M907.5 1153.0h0M913.8 1153.0h0M900.0 1157.5h0M907.5 1158.8h0M915.0 1160.0h0M903.2 1162.0h0M892.5 1163.8h0M903.2 1168.8h0M910.0 1170.0h0M897.5 1173.8h0M906.2 1174.5h0M898.8 1178.8h0M907.5 1179.5h0M915.0 1179.5h0M903.2 1182.5h0M910.0 1183.0h0M900.0 1187.5h0M906.2 1190.0h0M903.2 1193.8h0M900.0 1198.0h0M907.5 1198.0h0M892.5 1204.5h0M903.2 1205.0h0M913.8 1204.5h0M900.0 1207.5h0M892.5 1215.5h0M903.2 1215.5h0M907.5 1214.5h0M913.8 1213.8h0M900.0 1220.0h0M907.5 1220.0h0M953.2 1090.5h0M950.0 1096.2h0M956.2 1095.5h0M943.0 1099.5h0M952.5 1100.0h0M960.0 1096.2h0M964.5 1098.8h0M947.5 1104.5h0M953.8 1105.0h0M961.2 1107.5h0M943.8 1111.2h0M951.2 1110.0h0M957.5 1111.2h0M965.0 1111.2h0M947.5 1115.5h0M953.2 1116.2h0M960.0 1116.2h0M966.2 1116.2h0M942.5 1118.8h0M950.0 1120.5h0M957.5 1121.2h0M963.8 1120.5h0M953.2 1126.2h0M950.0 1131.2h0M956.2 1132.0h0M953.2 1139.5h0M956.2 1145.5h0M950.0 1152.5h0M956.2 1152.5h0M953.2 1157.0h0M953.2 1170.8h0" stroke="#000" stroke-width="4.8" stroke-linecap="round"/>
<line x1="870.00" y1="1065.00" x2="870.00" y2="1241.30" stroke="#000" stroke-width="1.6"/>
<line x1="869.20" y1="1240.50" x2="987.50" y2="1240.50" stroke="#000" stroke-width="1.6"/>
<line x1="864.00" y1="1065.00" x2="870.00" y2="1065.00" stroke="#000" stroke-width="1.6"/>
<text x="860.00" y="1069.60" font-size="13" text-anchor="end" fill="#111">0.15</text>
<line x1="864.00" y1="1094.25" x2="870.00" y2="1094.25" stroke="#000" stroke-width="1.6"/>
<text x="860.00" y="1098.85" font-size="13" text-anchor="end" fill="#111">0.10</text>
<line x1="864.00" y1="1123.50" x2="870.00" y2="1123.50" stroke="#000" stroke-width="1.6"/>
<text x="860.00" y="1128.10" font-size="13" text-anchor="end" fill="#111">0.05</text>
<line x1="864.00" y1="1152.75" x2="870.00" y2="1152.75" stroke="#000" stroke-width="1.6"/>
<text x="860.00" y="1157.35" font-size="13" text-anchor="end" fill="#111">0.00</text>
<line x1="864.00" y1="1182.00" x2="870.00" y2="1182.00" stroke="#000" stroke-width="1.6"/>
<text x="860.00" y="1186.60" font-size="13" text-anchor="end" fill="#111">-0.05</text>
<line x1="864.00" y1="1211.25" x2="870.00" y2="1211.25" stroke="#000" stroke-width="1.6"/>
<text x="860.00" y="1215.85" font-size="13" text-anchor="end" fill="#111">-0.10</text>
<line x1="864.00" y1="1240.50" x2="870.00" y2="1240.50" stroke="#000" stroke-width="1.6"/>
<text x="860.00" y="1245.10" font-size="13" text-anchor="end" fill="#111">-0.15</text>
<text x="819.55" y="1149.40" font-size="16.2" text-anchor="middle" transform="rotate(-90 819.55 1149.40)" fill="#111">myCAF score</text>
<line x1="903.25" y1="1240.50" x2="903.25" y2="1246.00" stroke="#000" stroke-width="1.6"/>
<line x1="953.25" y1="1240.50" x2="953.25" y2="1246.00" stroke="#000" stroke-width="1.6"/>
<text x="903.25" y="1266.25" font-size="19" text-anchor="middle" fill="#000">TE</text>
<text x="953.25" y="1266.25" font-size="19" text-anchor="middle" fill="#000">TS</text>
<path d="M903.25 1076.25V1068.00H953.25V1076.25" fill="none" stroke="#000" stroke-width="1.4"/>
<text x="928.00" y="1059.50" font-size="14.3" text-anchor="middle" fill="#111">p=1.45x10<tspan font-size="9" dy="-6">-13</tspan></text>
<line x1="52.00" y1="290.00" x2="52.00" y2="471.85" stroke="#333" stroke-width="1.2"/>
<line x1="51.40" y1="471.25" x2="277.00" y2="471.25" stroke="#333" stroke-width="1.2"/>
<line x1="48.50" y1="296.30" x2="52.00" y2="296.30" stroke="#333" stroke-width="1"/>
<text x="46.50" y="300.10" font-size="11" text-anchor="end" fill="#222">1.50</text>
<line x1="48.50" y1="318.00" x2="52.00" y2="318.00" stroke="#333" stroke-width="1"/>
<text x="46.50" y="321.80" font-size="11" text-anchor="end" fill="#222">1.25</text>
<line x1="48.50" y1="339.70" x2="52.00" y2="339.70" stroke="#333" stroke-width="1"/>
<text x="46.50" y="343.50" font-size="11" text-anchor="end" fill="#222">1.00</text>
<line x1="48.50" y1="361.40" x2="52.00" y2="361.40" stroke="#333" stroke-width="1"/>
<text x="46.50" y="365.20" font-size="11" text-anchor="end" fill="#222">0.75</text>
<line x1="48.50" y1="383.10" x2="52.00" y2="383.10" stroke="#333" stroke-width="1"/>
<text x="46.50" y="386.90" font-size="11" text-anchor="end" fill="#222">0.50</text>
<line x1="48.50" y1="404.80" x2="52.00" y2="404.80" stroke="#333" stroke-width="1"/>
<text x="46.50" y="408.60" font-size="11" text-anchor="end" fill="#222">0.25</text>
<line x1="48.50" y1="426.50" x2="52.00" y2="426.50" stroke="#333" stroke-width="1"/>
<text x="46.50" y="430.30" font-size="11" text-anchor="end" fill="#222">0.00</text>
<line x1="48.50" y1="448.20" x2="52.00" y2="448.20" stroke="#333" stroke-width="1"/>
<text x="46.50" y="452.00" font-size="11" text-anchor="end" fill="#222">-0.25</text>
<line x1="48.50" y1="469.90" x2="52.00" y2="469.90" stroke="#333" stroke-width="1"/>
<text x="46.50" y="473.70" font-size="11" text-anchor="end" fill="#222">-0.50</text>
<text x="17.65" y="383.75" font-size="14.3" text-anchor="middle" transform="rotate(-90 17.65 383.75)" fill="#222">normalized UMIs</text>
<line x1="61.50" y1="471.25" x2="61.50" y2="474.75" stroke="#333" stroke-width="1"/>
<text x="61.50" y="494.00" font-size="17.5" text-anchor="middle" fill="#111">1</text>
<line x1="80.25" y1="471.25" x2="80.25" y2="474.75" stroke="#333" stroke-width="1"/>
<text x="80.25" y="494.00" font-size="17.5" text-anchor="middle" fill="#111">2</text>
<line x1="99.00" y1="471.25" x2="99.00" y2="474.75" stroke="#333" stroke-width="1"/>
<text x="99.00" y="494.00" font-size="17.5" text-anchor="middle" fill="#111">3</text>
<line x1="117.75" y1="471.25" x2="117.75" y2="474.75" stroke="#333" stroke-width="1"/>
<text x="117.75" y="494.00" font-size="17.5" text-anchor="middle" fill="#111">4</text>
<line x1="136.50" y1="471.25" x2="136.50" y2="474.75" stroke="#333" stroke-width="1"/>
<text x="136.50" y="494.00" font-size="17.5" text-anchor="middle" fill="#111">5</text>
<line x1="155.25" y1="471.25" x2="155.25" y2="474.75" stroke="#333" stroke-width="1"/>
<text x="155.25" y="494.00" font-size="17.5" text-anchor="middle" fill="#111">6</text>
<line x1="174.00" y1="471.25" x2="174.00" y2="474.75" stroke="#333" stroke-width="1"/>
<text x="174.00" y="494.00" font-size="17.5" text-anchor="middle" fill="#111">7</text>
<line x1="192.75" y1="471.25" x2="192.75" y2="474.75" stroke="#333" stroke-width="1"/>
<text x="192.75" y="494.00" font-size="17.5" text-anchor="middle" fill="#111">8</text>
<line x1="211.50" y1="471.25" x2="211.50" y2="474.75" stroke="#333" stroke-width="1"/>
<text x="211.50" y="494.00" font-size="17.5" text-anchor="middle" fill="#111">9</text>
<line x1="230.25" y1="471.25" x2="230.25" y2="474.75" stroke="#333" stroke-width="1"/>
<text x="230.25" y="494.00" font-size="17.5" text-anchor="middle" fill="#111">10</text>
<line x1="249.00" y1="471.25" x2="249.00" y2="474.75" stroke="#333" stroke-width="1"/>
<text x="249.00" y="494.00" font-size="17.5" text-anchor="middle" fill="#111">11</text>
<line x1="267.75" y1="471.25" x2="267.75" y2="474.75" stroke="#333" stroke-width="1"/>
<text x="267.75" y="494.00" font-size="17.5" text-anchor="middle" fill="#111">12</text>
<path d="M61.8,359.5C61.8,366.2 61.7,391.6 62,400C62.3,408.4 63,406.7 63.5,410C64,413.3 64.5,416.7 65.2,420C66,423.3 67.1,427.1 67.8,430C68.4,432.9 69,435 69,437.5C69,440 68.4,442.5 67.8,445C67.1,447.5 66.1,450 65.2,452.5C64.4,455 63.4,458.2 62.8,460C62.1,461.8 61.7,462.5 61.5,463 L61.5,463C61.3,462.5 60.9,461.8 60.2,460C59.6,458.2 58.6,455 57.8,452.5C56.9,450 55.9,447.5 55.2,445C54.6,442.5 54,440 54,437.5C54,435 54.6,432.9 55.2,430C55.9,427.1 57,423.3 57.8,420C58.5,416.7 59,413.3 59.5,410C60,406.7 60.7,408.4 61,400C61.3,391.6 61.2,366.2 61.2,359.5Z" fill="#3274a1" stroke="#333" stroke-width="1.1" stroke-linejoin="round"/>
<path d="M80.5,386.2C80.5,391 80.5,409.4 80.8,415C81,420.6 81.5,417.5 82.2,420C83,422.5 84.3,426.5 85.2,430C86.2,433.5 87.7,437.9 87.8,441.2C87.8,444.6 86.7,447.3 85.8,450C84.8,452.7 83.2,455.8 82.2,457.5C81.3,459.2 80.6,459.6 80.2,460 L80.2,460C79.9,459.6 79.2,459.2 78.2,457.5C77.3,455.8 75.7,452.7 74.8,450C73.8,447.3 72.7,444.6 72.8,441.2C72.8,437.9 74.3,433.5 75.2,430C76.2,426.5 77.5,422.5 78.2,420C79,417.5 79.5,420.6 79.8,415C80,409.4 80,391 80,386.2Z" fill="#e1812c" stroke="#333" stroke-width="1.1" stroke-linejoin="round"/>
<path d="M99.2,298.2C99.3,301 99.5,308.5 99.8,315C100,321.5 100.5,329.6 101,337.5C101.5,345.4 102.2,354.2 102.8,362.5C103.3,370.8 104,379.2 104.5,387.5C105,395.8 105.6,405 106,412.5C106.4,420 107.1,426.2 107,432.5C106.9,438.8 106.2,445.2 105.2,450C104.3,454.8 101.9,459.4 101.2,461.2 L96.8,461.2C96.1,459.4 93.7,454.8 92.8,450C91.8,445.2 91.1,438.8 91,432.5C90.9,426.2 91.6,420 92,412.5C92.4,405 93,395.8 93.5,387.5C94,379.2 94.7,370.8 95.2,362.5C95.8,354.2 96.5,345.4 97,337.5C97.5,329.6 98,321.5 98.2,315C98.5,308.5 98.7,301 98.8,298.2Z" fill="#368f67" stroke="#333" stroke-width="1.1" stroke-linejoin="round"/>
<path d="M118,392.5C118.1,394.2 118.4,399.2 118.8,402.5C119.1,405.8 119.2,409.2 120.2,412.5C121.3,415.8 124.8,420 125.2,422.5C125.7,425 123.8,425.4 122.8,427.5C121.8,429.6 119.9,432.5 119.2,435C118.6,437.5 119.2,440.4 119,442.5C118.8,444.6 118,446.7 117.8,447.5 L117.8,447.5C117.5,446.7 116.8,444.6 116.5,442.5C116.2,440.4 116.9,437.5 116.2,435C115.6,432.5 113.8,429.6 112.8,427.5C111.8,425.4 109.8,425 110.2,422.5C110.7,420 114.2,415.8 115.2,412.5C116.3,409.2 116.4,405.8 116.8,402.5C117.1,399.2 117.4,394.2 117.5,392.5Z" fill="#c03d3e" stroke="#333" stroke-width="1.1" stroke-linejoin="round"/>
<path d="M136.8,388.2C136.8,392.3 136.4,406.8 137.2,412.5C138.1,418.2 140.9,419.8 142,422.5C143.1,425.2 144.1,426.7 144,428.8C143.9,430.8 141.8,433.1 141.5,435C141.2,436.9 142.4,437.9 142,440C141.6,442.1 139.9,444.4 139,447.5C138.1,450.6 136.9,456.9 136.5,458.8 L136.5,458.8C136.1,456.9 134.9,450.6 134,447.5C133.1,444.4 131.4,442.1 131,440C130.6,437.9 131.8,436.9 131.5,435C131.2,433.1 129.1,430.8 129,428.8C128.9,426.7 129.9,425.2 131,422.5C132.1,419.8 134.9,418.2 135.8,412.5C136.6,406.8 136.2,392.3 136.2,388.2Z" fill="#a758e4" stroke="#333" stroke-width="1.1" stroke-linejoin="round"/>
<path d="M155.5,385C155.7,386.7 156,390.4 156.8,395C157.5,399.6 158.8,406.7 159.8,412.5C160.7,418.3 161.8,425.4 162.2,430C162.8,434.6 163,436.7 162.8,440C162.5,443.3 161.8,446.7 160.8,450C159.7,453.3 157.4,458.1 156.5,460C155.6,461.9 155.5,461 155.2,461.2 L155.2,461.2C155,461 154.9,461.9 154,460C153.1,458.1 150.8,453.3 149.8,450C148.7,446.7 148,443.3 147.8,440C147.5,436.7 147.8,434.6 148.2,430C148.8,425.4 149.8,418.3 150.8,412.5C151.7,406.7 153,399.6 153.8,395C154.5,390.4 154.8,386.7 155,385Z" fill="#845b53" stroke="#333" stroke-width="1.1" stroke-linejoin="round"/>
<path d="M174.2,393.2C174.4,396.5 174.4,408 175,412.5C175.6,417 177,417.1 177.8,420C178.5,422.9 179.4,427.5 179.5,430C179.6,432.5 178.2,432.9 178.5,435C178.8,437.1 181.6,440 181.5,442.5C181.4,445 179,447.9 177.8,450C176.5,452.1 174.6,454.2 174,455 L174,455C173.4,454.2 171.5,452.1 170.2,450C169,447.9 166.6,445 166.5,442.5C166.4,440 169.2,437.1 169.5,435C169.8,432.9 168.4,432.5 168.5,430C168.6,427.5 169.5,422.9 170.2,420C171,417.1 172.4,417 173,412.5C173.6,408 173.6,396.5 173.8,393.2Z" fill="#d684bd" stroke="#333" stroke-width="1.1" stroke-linejoin="round"/>
<path d="M193,373.8C193.1,381 192.8,408.1 193.5,417.5C194.2,426.9 196.1,425.8 197.2,430C198.4,434.2 200.4,438.8 200.2,442.5C200.1,446.2 197.8,449.4 196.5,452.5C195.2,455.6 193.4,459.8 192.8,461.2 L192.8,461.2C192.1,459.8 190.2,455.6 189,452.5C187.8,449.4 185.4,446.2 185.2,442.5C185.1,438.8 187.1,434.2 188.2,430C189.4,425.8 191.3,426.9 192,417.5C192.7,408.1 192.4,381 192.5,373.8Z" fill="#acb26d" stroke="#333" stroke-width="1.1" stroke-linejoin="round"/>
<path d="M211.8,382C212,383.8 212.2,388.7 213,392.5C213.8,396.3 215.5,400.4 216.5,405C217.5,409.6 218.7,415.8 219,420C219.3,424.2 219.1,426.2 218.5,430C217.9,433.8 216.4,438.1 215.2,442.5C214.1,446.9 212.1,454 211.5,456.2 L211.5,456.2C210.9,454 208.9,446.9 207.8,442.5C206.6,438.1 205.1,433.8 204.5,430C203.9,426.2 203.7,424.2 204,420C204.3,415.8 205.5,409.6 206.5,405C207.5,400.4 209.2,396.3 210,392.5C210.8,388.7 211,383.8 211.2,382Z" fill="#2eabb8" stroke="#333" stroke-width="1.1" stroke-linejoin="round"/>
<path d="M230.5,413.8C230.6,416.5 230.5,426 231.2,430C232,434 234.4,435.4 235.2,437.5C236.1,439.6 236.9,440.8 236.5,442.5C236.1,444.2 233.8,445.8 232.8,447.5C231.7,449.2 230.7,452.1 230.2,453 L230.2,453C229.8,452.1 228.8,449.2 227.8,447.5C226.7,445.8 224.4,444.2 224,442.5C223.6,440.8 224.4,439.6 225.2,437.5C226.1,435.4 228.5,434 229.2,430C230,426 229.9,416.5 230,413.8Z" fill="#b5c8e1" stroke="#333" stroke-width="1.1" stroke-linejoin="round"/>
<path d="M249.2,400C249.5,402.1 249.7,408.3 250.5,412.5C251.3,416.7 253,420.4 254,425C255,429.6 256.3,435.8 256.5,440C256.7,444.2 256.3,446.7 255.2,450C254.2,453.3 251.3,458.1 250.2,460C249.2,461.9 249.2,461 249,461.2 L249,461.2C248.8,461 248.8,461.9 247.8,460C246.7,458.1 243.8,453.3 242.8,450C241.7,446.7 241.3,444.2 241.5,440C241.7,435.8 243,429.6 244,425C245,420.4 246.7,416.7 247.5,412.5C248.3,408.3 248.5,402.1 248.8,400Z" fill="#eebb89" stroke="#333" stroke-width="1.1" stroke-linejoin="round"/>
<path d="M268.5,426.2C269,427.7 270.4,432.1 271.5,435C272.6,437.9 274.8,440.8 275.2,443.8C275.7,446.7 274.6,450.5 274,452.5C273.4,454.5 272.1,455.2 271.8,455.8 L263.8,455.8C263.4,455.2 262.1,454.5 261.5,452.5C260.9,450.5 259.8,446.7 260.2,443.8C260.7,440.8 262.9,437.9 264,435C265.1,432.1 266.5,427.7 267,426.2Z" fill="#9fd495" stroke="#333" stroke-width="1.1" stroke-linejoin="round"/>
<line x1="671.25" y1="287.50" x2="671.25" y2="471.10" stroke="#333" stroke-width="1.2"/>
<line x1="670.65" y1="470.50" x2="895.00" y2="470.50" stroke="#333" stroke-width="1.2"/>
<line x1="667.75" y1="303.25" x2="671.25" y2="303.25" stroke="#333" stroke-width="1"/>
<text x="664.00" y="307.05" font-size="11" text-anchor="end" fill="#222">1.25</text>
<line x1="667.75" y1="327.50" x2="671.25" y2="327.50" stroke="#333" stroke-width="1"/>
<text x="664.00" y="331.30" font-size="11" text-anchor="end" fill="#222">1.00</text>
<line x1="667.75" y1="351.75" x2="671.25" y2="351.75" stroke="#333" stroke-width="1"/>
<text x="664.00" y="355.55" font-size="11" text-anchor="end" fill="#222">0.75</text>
<line x1="667.75" y1="376.00" x2="671.25" y2="376.00" stroke="#333" stroke-width="1"/>
<text x="664.00" y="379.80" font-size="11" text-anchor="end" fill="#222">0.50</text>
<line x1="667.75" y1="400.25" x2="671.25" y2="400.25" stroke="#333" stroke-width="1"/>
<text x="664.00" y="404.05" font-size="11" text-anchor="end" fill="#222">0.25</text>
<line x1="667.75" y1="424.50" x2="671.25" y2="424.50" stroke="#333" stroke-width="1"/>
<text x="664.00" y="428.30" font-size="11" text-anchor="end" fill="#222">0.00</text>
<line x1="667.75" y1="448.75" x2="671.25" y2="448.75" stroke="#333" stroke-width="1"/>
<text x="664.00" y="452.55" font-size="11" text-anchor="end" fill="#222">-0.25</text>
<text x="635.15" y="382.50" font-size="14.3" text-anchor="middle" transform="rotate(-90 635.15 382.50)" fill="#222">normalized UMIs</text>
<line x1="680.00" y1="470.50" x2="680.00" y2="474.00" stroke="#333" stroke-width="1"/>
<text x="680.00" y="494.00" font-size="17.5" text-anchor="middle" fill="#111">1</text>
<line x1="698.75" y1="470.50" x2="698.75" y2="474.00" stroke="#333" stroke-width="1"/>
<text x="698.75" y="494.00" font-size="17.5" text-anchor="middle" fill="#111">2</text>
<line x1="717.50" y1="470.50" x2="717.50" y2="474.00" stroke="#333" stroke-width="1"/>
<text x="717.50" y="494.00" font-size="17.5" text-anchor="middle" fill="#111">3</text>
<line x1="736.25" y1="470.50" x2="736.25" y2="474.00" stroke="#333" stroke-width="1"/>
<text x="736.25" y="494.00" font-size="17.5" text-anchor="middle" fill="#111">4</text>
<line x1="755.00" y1="470.50" x2="755.00" y2="474.00" stroke="#333" stroke-width="1"/>
<text x="755.00" y="494.00" font-size="17.5" text-anchor="middle" fill="#111">5</text>
<line x1="773.75" y1="470.50" x2="773.75" y2="474.00" stroke="#333" stroke-width="1"/>
<text x="773.75" y="494.00" font-size="17.5" text-anchor="middle" fill="#111">6</text>
<line x1="792.50" y1="470.50" x2="792.50" y2="474.00" stroke="#333" stroke-width="1"/>
<text x="792.50" y="494.00" font-size="17.5" text-anchor="middle" fill="#111">7</text>
<line x1="811.25" y1="470.50" x2="811.25" y2="474.00" stroke="#333" stroke-width="1"/>
<text x="811.25" y="494.00" font-size="17.5" text-anchor="middle" fill="#111">8</text>
<line x1="830.00" y1="470.50" x2="830.00" y2="474.00" stroke="#333" stroke-width="1"/>
<text x="830.00" y="494.00" font-size="17.5" text-anchor="middle" fill="#111">9</text>
<line x1="848.75" y1="470.50" x2="848.75" y2="474.00" stroke="#333" stroke-width="1"/>
<text x="848.75" y="494.00" font-size="17.5" text-anchor="middle" fill="#111">10</text>
<line x1="867.50" y1="470.50" x2="867.50" y2="474.00" stroke="#333" stroke-width="1"/>
<text x="867.50" y="494.00" font-size="17.5" text-anchor="middle" fill="#111">11</text>
<line x1="886.25" y1="470.50" x2="886.25" y2="474.00" stroke="#333" stroke-width="1"/>
<text x="886.25" y="494.00" font-size="17.5" text-anchor="middle" fill="#111">12</text>
<path d="M680.2,372.5C680.3,377.1 680.2,393.8 680.8,400C681.3,406.2 682.8,406.7 683.8,410C684.7,413.3 685.6,416.9 686.2,420C686.9,423.1 687.7,425.4 687.5,428.8C687.3,432.1 685.9,436.5 685,440C684.1,443.5 682.8,446.9 682,450C681.2,453.1 680.3,457.3 680,458.8 L680,458.8C679.7,457.3 678.8,453.1 678,450C677.2,446.9 675.9,443.5 675,440C674.1,436.5 672.7,432.1 672.5,428.8C672.3,425.4 673.1,423.1 673.8,420C674.4,416.9 675.3,413.3 676.2,410C677.2,406.7 678.7,406.2 679.2,400C679.8,393.8 679.7,377.1 679.8,372.5Z" fill="#3274a1" stroke="#333" stroke-width="1.1" stroke-linejoin="round"/>
<path d="M699,400C699.2,403.3 699.2,415 700,420C700.8,425 702.7,427.1 703.8,430C704.8,432.9 706.2,435 706.2,437.5C706.2,440 704.7,442.5 703.8,445C702.8,447.5 701.6,450.2 700.8,452.5C699.9,454.8 699.1,457.7 698.8,458.8 L698.8,458.8C698.4,457.7 697.6,454.8 696.8,452.5C695.9,450.2 694.7,447.5 693.8,445C692.8,442.5 691.2,440 691.2,437.5C691.2,435 692.7,432.9 693.8,430C694.8,427.1 696.7,425 697.5,420C698.3,415 698.3,403.3 698.5,400Z" fill="#e1812c" stroke="#333" stroke-width="1.1" stroke-linejoin="round"/>
<path d="M717.8,296.2C717.9,298.5 717.7,305.2 718.5,310C719.3,314.8 721.4,318.3 722.5,325C723.6,331.7 724.9,341.7 725,350C725.1,358.3 723.6,367.5 723,375C722.4,382.5 721.7,388.8 721.5,395C721.3,401.2 722.1,406.7 722,412.5C721.9,418.3 721.4,424.6 721,430C720.6,435.4 719.9,441.3 719.5,445C719.1,448.7 718.9,450.8 718.8,452 L716.2,452C716.1,450.8 715.9,448.7 715.5,445C715.1,441.3 714.4,435.4 714,430C713.6,424.6 713.1,418.3 713,412.5C712.9,406.7 713.7,401.2 713.5,395C713.3,388.8 712.6,382.5 712,375C711.4,367.5 709.9,358.3 710,350C710.1,341.7 711.4,331.7 712.5,325C713.6,318.3 715.7,314.8 716.5,310C717.3,305.2 717.1,298.5 717.2,296.2Z" fill="#368f67" stroke="#333" stroke-width="1.1" stroke-linejoin="round"/>
<path d="M736.5,404.5C736.6,407.5 736.5,418.2 737.2,422.5C738,426.8 740.2,427.5 741.2,430C742.2,432.5 743.3,435 743.2,437.5C743.2,440 741.6,442.9 740.8,445C739.9,447.1 739,448.3 738.2,450C737.5,451.7 736.6,454.2 736.2,455 L736.2,455C735.9,454.2 735,451.7 734.2,450C733.5,448.3 732.6,447.1 731.8,445C730.9,442.9 729.3,440 729.2,437.5C729.2,435 730.2,432.5 731.2,430C732.2,427.5 734.5,426.8 735.2,422.5C736,418.2 735.9,407.5 736,404.5Z" fill="#c03d3e" stroke="#333" stroke-width="1.1" stroke-linejoin="round"/>
<path d="M755.2,388C755.3,393.8 755,415.5 755.8,422.5C756.5,429.5 759,427.1 760,430C761,432.9 762.2,437.1 762,440C761.8,442.9 759.7,445.4 758.8,447.5C757.8,449.6 757.1,450.4 756.5,452.5C755.9,454.6 755.2,458.8 755,460 L755,460C754.8,458.8 754.1,454.6 753.5,452.5C752.9,450.4 752.2,449.6 751.2,447.5C750.3,445.4 748.2,442.9 748,440C747.8,437.1 749,432.9 750,430C751,427.1 753.5,429.5 754.2,422.5C755,415.5 754.7,393.8 754.8,388Z" fill="#a758e4" stroke="#333" stroke-width="1.1" stroke-linejoin="round"/>
<path d="M774,340C774.3,341.7 775,346.2 775.8,350C776.5,353.8 777.4,357.1 778.2,362.5C779.1,367.9 780.7,376.2 780.8,382.5C780.8,388.8 779.6,393.8 778.8,400C777.9,406.2 776.5,414.6 775.8,420C775,425.4 774.8,429.2 774.5,432.5C774.2,435.8 773.9,438.8 773.8,440 L773.8,440C773.6,438.8 773.3,435.8 773,432.5C772.7,429.2 772.5,425.4 771.8,420C771,414.6 769.6,406.2 768.8,400C767.9,393.8 766.7,388.8 766.8,382.5C766.8,376.2 768.4,367.9 769.2,362.5C770.1,357.1 771,353.8 771.8,350C772.5,346.2 773.2,341.7 773.5,340Z" fill="#845b53" stroke="#333" stroke-width="1.1" stroke-linejoin="round"/>
<path d="M792.8,398C792.9,402.1 792.8,417.2 793.5,422.5C794.2,427.8 795.9,427.1 797,430C798.1,432.9 799.9,437.1 800,440C800.1,442.9 798.4,445.4 797.5,447.5C796.6,449.6 795.3,450.8 794.5,452.5C793.7,454.2 792.8,456.7 792.5,457.5 L792.5,457.5C792.2,456.7 791.3,454.2 790.5,452.5C789.7,450.8 788.4,449.6 787.5,447.5C786.6,445.4 784.9,442.9 785,440C785.1,437.1 786.9,432.9 788,430C789.1,427.1 790.8,427.8 791.5,422.5C792.2,417.2 792.1,402.1 792.2,398Z" fill="#d684bd" stroke="#333" stroke-width="1.1" stroke-linejoin="round"/>
<path d="M811.5,348.2C811.6,359 811.4,399.7 812,412.5C812.6,425.3 814,420.4 815,425C816,429.6 818.2,435.8 818.2,440C818.2,444.2 815.9,447.1 815,450C814.1,452.9 813.4,455.8 812.8,457.5C812.1,459.2 811.5,459.6 811.2,460 L811.2,460C811,459.6 810.4,459.2 809.8,457.5C809.1,455.8 808.4,452.9 807.5,450C806.6,447.1 804.2,444.2 804.2,440C804.2,435.8 806.5,429.6 807.5,425C808.5,420.4 809.9,425.3 810.5,412.5C811.1,399.7 810.9,359 811,348.2Z" fill="#acb26d" stroke="#333" stroke-width="1.1" stroke-linejoin="round"/>
<path d="M830.2,401.2C830.4,404.4 830.5,415.2 831.2,420C832,424.8 834,426.2 835,430C836,433.8 837.5,439.2 837.5,442.5C837.5,445.8 835.9,447.5 835,450C834.1,452.5 832.8,455.4 832,457.5C831.2,459.6 830.3,461.7 830,462.5 L830,462.5C829.7,461.7 828.8,459.6 828,457.5C827.2,455.4 825.9,452.5 825,450C824.1,447.5 822.5,445.8 822.5,442.5C822.5,439.2 824,433.8 825,430C826,426.2 828,424.8 828.8,420C829.5,415.2 829.6,404.4 829.8,401.2Z" fill="#2eabb8" stroke="#333" stroke-width="1.1" stroke-linejoin="round"/>
<path d="M849,406.2C849.2,409 849.3,418.5 850,422.5C850.7,426.5 852.3,427.1 853.2,430C854.2,432.9 855.8,437.1 855.8,440C855.8,442.9 854.2,445 853.2,447.5C852.3,450 850.8,453.1 850,455C849.2,456.9 849,458.1 848.8,458.8 L848.8,458.8C848.5,458.1 848.2,456.9 847.5,455C846.8,453.1 845.2,450 844.2,447.5C843.3,445 841.8,442.9 841.8,440C841.8,437.1 843.3,432.9 844.2,430C845.2,427.1 846.8,426.5 847.5,422.5C848.2,418.5 848.3,409 848.5,406.2Z" fill="#b5c8e1" stroke="#333" stroke-width="1.1" stroke-linejoin="round"/>
<path d="M867.8,400C868,402.1 868.7,408.3 869.5,412.5C870.3,416.7 871.6,420.4 872.5,425C873.4,429.6 875,435.8 875,440C875,444.2 873.5,447.1 872.5,450C871.5,452.9 869.6,456 868.8,457.5C867.9,459 867.7,458.5 867.5,458.8 L867.5,458.8C867.3,458.5 867.1,459 866.2,457.5C865.4,456 863.5,452.9 862.5,450C861.5,447.1 860,444.2 860,440C860,435.8 861.6,429.6 862.5,425C863.4,420.4 864.7,416.7 865.5,412.5C866.3,408.3 867,402.1 867.2,400Z" fill="#eebb89" stroke="#333" stroke-width="1.1" stroke-linejoin="round"/>
<path d="M886.5,425C886.8,425.8 887.5,427.9 888.2,430C889,432.1 890.3,435.2 891.2,437.5C892.2,439.8 893.8,441.7 893.8,443.8C893.7,445.8 891.8,448.1 890.8,450C889.8,451.9 888.5,454 887.8,455C887,456 886.5,456 886.2,456.2 L886.2,456.2C886,456 885.5,456 884.8,455C884,454 882.8,451.9 881.8,450C880.8,448.1 878.8,445.8 878.8,443.8C878.7,441.7 880.3,439.8 881.2,437.5C882.2,435.2 883.5,432.1 884.2,430C885,427.9 885.7,425.8 886,425Z" fill="#9fd495" stroke="#333" stroke-width="1.1" stroke-linejoin="round"/>
<line x1="48.00" y1="807.50" x2="48.00" y2="991.85" stroke="#333" stroke-width="1.2"/>
<line x1="47.40" y1="991.25" x2="272.50" y2="991.25" stroke="#333" stroke-width="1.2"/>
<line x1="44.50" y1="811.35" x2="48.00" y2="811.35" stroke="#333" stroke-width="1"/>
<text x="41.50" y="815.15" font-size="11" text-anchor="end" fill="#222">1.75</text>
<line x1="44.50" y1="831.80" x2="48.00" y2="831.80" stroke="#333" stroke-width="1"/>
<text x="41.50" y="835.60" font-size="11" text-anchor="end" fill="#222">1.50</text>
<line x1="44.50" y1="852.25" x2="48.00" y2="852.25" stroke="#333" stroke-width="1"/>
<text x="41.50" y="856.05" font-size="11" text-anchor="end" fill="#222">1.25</text>
<line x1="44.50" y1="872.70" x2="48.00" y2="872.70" stroke="#333" stroke-width="1"/>
<text x="41.50" y="876.50" font-size="11" text-anchor="end" fill="#222">1.00</text>
<line x1="44.50" y1="893.15" x2="48.00" y2="893.15" stroke="#333" stroke-width="1"/>
<text x="41.50" y="896.95" font-size="11" text-anchor="end" fill="#222">0.75</text>
<line x1="44.50" y1="913.60" x2="48.00" y2="913.60" stroke="#333" stroke-width="1"/>
<text x="41.50" y="917.40" font-size="11" text-anchor="end" fill="#222">0.50</text>
<line x1="44.50" y1="934.05" x2="48.00" y2="934.05" stroke="#333" stroke-width="1"/>
<text x="41.50" y="937.85" font-size="11" text-anchor="end" fill="#222">0.25</text>
<line x1="44.50" y1="954.50" x2="48.00" y2="954.50" stroke="#333" stroke-width="1"/>
<text x="41.50" y="958.30" font-size="11" text-anchor="end" fill="#222">0.00</text>
<line x1="44.50" y1="974.95" x2="48.00" y2="974.95" stroke="#333" stroke-width="1"/>
<text x="41.50" y="978.75" font-size="11" text-anchor="end" fill="#222">-0.25</text>
<text x="12.15" y="900.00" font-size="14.3" text-anchor="middle" transform="rotate(-90 12.15 900.00)" fill="#222">normalized UMIs</text>
<line x1="64.25" y1="991.25" x2="64.25" y2="994.75" stroke="#333" stroke-width="1"/>
<text x="64.25" y="1014.00" font-size="17.5" text-anchor="middle" fill="#111">1</text>
<line x1="96.25" y1="991.25" x2="96.25" y2="994.75" stroke="#333" stroke-width="1"/>
<text x="96.25" y="1014.00" font-size="17.5" text-anchor="middle" fill="#111">2</text>
<line x1="128.25" y1="991.25" x2="128.25" y2="994.75" stroke="#333" stroke-width="1"/>
<text x="128.25" y="1014.00" font-size="17.5" text-anchor="middle" fill="#111">3</text>
<line x1="160.25" y1="991.25" x2="160.25" y2="994.75" stroke="#333" stroke-width="1"/>
<text x="160.25" y="1014.00" font-size="17.5" text-anchor="middle" fill="#111">4</text>
<line x1="192.25" y1="991.25" x2="192.25" y2="994.75" stroke="#333" stroke-width="1"/>
<text x="192.25" y="1014.00" font-size="17.5" text-anchor="middle" fill="#111">5</text>
<line x1="224.25" y1="991.25" x2="224.25" y2="994.75" stroke="#333" stroke-width="1"/>
<text x="224.25" y="1014.00" font-size="17.5" text-anchor="middle" fill="#111">6</text>
<line x1="256.25" y1="991.25" x2="256.25" y2="994.75" stroke="#333" stroke-width="1"/>
<text x="256.25" y="1014.00" font-size="17.5" text-anchor="middle" fill="#111">7</text>
<path d="M64.5,888.8C64.6,892.3 64.6,904 65,910C65.4,916 66,920 66.8,925C67.5,930 68.2,935 69.2,940C70.3,945 71.8,950.8 73,955C74.2,959.2 76,962.5 76.2,965C76.5,967.5 75.4,968.3 74.2,970C73.1,971.7 70.9,973.4 69.2,975C67.6,976.6 65.1,978.8 64.2,979.5 L64.2,979.5C63.4,978.8 60.9,976.6 59.2,975C57.6,973.4 55.4,971.7 54.2,970C53.1,968.3 52,967.5 52.2,965C52.5,962.5 54.3,959.2 55.5,955C56.7,950.8 58.2,945 59.2,940C60.3,935 61,930 61.8,925C62.5,920 63.1,916 63.5,910C63.9,904 63.9,892.3 64,888.8Z" fill="#3274a1" stroke="#333" stroke-width="1.1" stroke-linejoin="round"/>
<path d="M96.5,892.5C96.6,900.4 96.6,930.4 97,940C97.4,949.6 97.6,946.7 98.8,950C99.9,953.3 102,957.3 103.8,960C105.5,962.7 108.6,964.6 109.2,966.2C109.9,967.9 108.8,968.5 107.5,970C106.2,971.5 103.1,973.5 101.2,975C99.4,976.5 97.1,978.1 96.2,978.8 L96.2,978.8C95.4,978.1 93.1,976.5 91.2,975C89.4,973.5 86.3,971.5 85,970C83.7,968.5 82.6,967.9 83.2,966.2C83.9,964.6 87,962.7 88.8,960C90.5,957.3 92.6,953.3 93.8,950C94.9,946.7 95.1,949.6 95.5,940C95.9,930.4 95.9,900.4 96,892.5Z" fill="#e1812c" stroke="#333" stroke-width="1.1" stroke-linejoin="round"/>
<path d="M128.5,927C128.6,929.2 128.8,936.2 129.2,940C129.7,943.8 130.4,946.7 131.2,950C132.1,953.3 132.9,957.3 134.5,960C136.1,962.7 140.1,964.6 140.8,966.2C141.4,967.9 139.7,968.5 138.2,970C136.8,971.5 133.7,973.3 132,975C130.3,976.7 128.9,979.2 128.2,980 L128.2,980C127.6,979.2 126.2,976.7 124.5,975C122.8,973.3 119.7,971.5 118.2,970C116.8,968.5 115.1,967.9 115.8,966.2C116.4,964.6 120.4,962.7 122,960C123.6,957.3 124.4,953.3 125.2,950C126.1,946.7 126.8,943.8 127.2,940C127.7,936.2 127.9,929.2 128,927Z" fill="#3a923a" stroke="#333" stroke-width="1.1" stroke-linejoin="round"/>
<path d="M160.5,920C160.6,923.3 160.7,935.8 161.2,940C161.8,944.2 163.1,942.1 164,945C164.9,947.9 165,954.2 166.5,957.5C168,960.8 172.1,962.9 172.8,965C173.4,967.1 171.7,968.3 170.2,970C168.8,971.7 165.7,973.3 164,975C162.3,976.7 160.9,979.2 160.2,980 L160.2,980C159.6,979.2 158.2,976.7 156.5,975C154.8,973.3 151.7,971.7 150.2,970C148.8,968.3 147.1,967.1 147.8,965C148.4,962.9 152.5,960.8 154,957.5C155.5,954.2 155.6,947.9 156.5,945C157.4,942.1 158.7,944.2 159.2,940C159.8,935.8 159.9,923.3 160,920Z" fill="#c03d3e" stroke="#333" stroke-width="1.1" stroke-linejoin="round"/>
<path d="M192.5,815C192.6,820 192.7,835.8 193,845C193.3,854.2 193.8,859.6 194.2,870C194.8,880.4 195.3,895.8 196,907.5C196.7,919.2 197.2,931.7 198.5,940C199.8,948.3 202.4,952.9 203.5,957.5C204.6,962.1 205.5,964.6 205.2,967.5C205,970.4 203.5,972.5 202.2,975C201,977.5 198.5,981.2 197.8,982.5 L186.8,982.5C186,981.2 183.5,977.5 182.2,975C181,972.5 179.5,970.4 179.2,967.5C179,964.6 179.9,962.1 181,957.5C182.1,952.9 184.8,948.3 186,940C187.2,931.7 187.8,919.2 188.5,907.5C189.2,895.8 189.8,880.4 190.2,870C190.8,859.6 191.2,854.2 191.5,845C191.8,835.8 191.9,820 192,815Z" fill="#9372b2" stroke="#333" stroke-width="1.1" stroke-linejoin="round"/>
<path d="M226.2,901.2C226.3,903.5 226,910.2 226.8,915C227.5,919.8 229,925 230.5,930C232,935 234.5,941.2 235.5,945C236.5,948.8 236.8,950 236.8,952.5C236.8,955 236.3,957.1 235.5,960C234.7,962.9 233,967.5 231.8,970C230.5,972.5 228.4,974.2 227.8,975 L220.8,975C220.1,974.2 218,972.5 216.8,970C215.5,967.5 213.8,962.9 213,960C212.2,957.1 211.8,955 211.8,952.5C211.8,950 212,948.8 213,945C214,941.2 216.5,935 218,930C219.5,925 221,919.8 221.8,915C222.5,910.2 222.2,903.5 222.2,901.2Z" fill="#845b53" stroke="#333" stroke-width="1.1" stroke-linejoin="round"/>
<path d="M256.5,940C256.6,941.7 256.6,947.1 257,950C257.4,952.9 257,955 258.8,957.5C260.5,960 265.8,963.1 267.5,965C269.2,966.9 269.4,967.7 268.8,968.8C268.1,969.8 264.8,970.6 263.8,971.2C262.7,971.9 262.5,972.3 262.2,972.5 L250.2,972.5C250,972.3 249.8,971.9 248.8,971.2C247.7,970.6 244.4,969.8 243.8,968.8C243.1,967.7 243.3,966.9 245,965C246.7,963.1 252,960 253.8,957.5C255.5,955 255.1,952.9 255.5,950C255.9,947.1 255.9,941.7 256,940Z" fill="#d684bd" stroke="#333" stroke-width="1.1" stroke-linejoin="round"/>
<line x1="664.50" y1="806.25" x2="664.50" y2="989.85" stroke="#333" stroke-width="1.2"/>
<line x1="663.90" y1="989.25" x2="888.75" y2="989.25" stroke="#333" stroke-width="1.2"/>
<line x1="661.00" y1="826.25" x2="664.50" y2="826.25" stroke="#333" stroke-width="1"/>
<text x="660.00" y="830.05" font-size="11" text-anchor="end" fill="#222">1.25</text>
<line x1="661.00" y1="851.25" x2="664.50" y2="851.25" stroke="#333" stroke-width="1"/>
<text x="660.00" y="855.05" font-size="11" text-anchor="end" fill="#222">1.00</text>
<line x1="661.00" y1="876.25" x2="664.50" y2="876.25" stroke="#333" stroke-width="1"/>
<text x="660.00" y="880.05" font-size="11" text-anchor="end" fill="#222">0.75</text>
<line x1="661.00" y1="901.25" x2="664.50" y2="901.25" stroke="#333" stroke-width="1"/>
<text x="660.00" y="905.05" font-size="11" text-anchor="end" fill="#222">0.50</text>
<line x1="661.00" y1="926.25" x2="664.50" y2="926.25" stroke="#333" stroke-width="1"/>
<text x="660.00" y="930.05" font-size="11" text-anchor="end" fill="#222">0.25</text>
<line x1="661.00" y1="951.25" x2="664.50" y2="951.25" stroke="#333" stroke-width="1"/>
<text x="660.00" y="955.05" font-size="11" text-anchor="end" fill="#222">0.00</text>
<line x1="661.00" y1="976.25" x2="664.50" y2="976.25" stroke="#333" stroke-width="1"/>
<text x="660.00" y="980.05" font-size="11" text-anchor="end" fill="#222">-0.25</text>
<text x="630.15" y="902.00" font-size="14.3" text-anchor="middle" transform="rotate(-90 630.15 902.00)" fill="#222">normalized UMIs</text>
<line x1="680.50" y1="989.25" x2="680.50" y2="992.75" stroke="#333" stroke-width="1"/>
<text x="680.50" y="1010.00" font-size="17.5" text-anchor="middle" fill="#111">1</text>
<line x1="712.42" y1="989.25" x2="712.42" y2="992.75" stroke="#333" stroke-width="1"/>
<text x="712.42" y="1010.00" font-size="17.5" text-anchor="middle" fill="#111">2</text>
<line x1="744.34" y1="989.25" x2="744.34" y2="992.75" stroke="#333" stroke-width="1"/>
<text x="744.34" y="1010.00" font-size="17.5" text-anchor="middle" fill="#111">3</text>
<line x1="776.26" y1="989.25" x2="776.26" y2="992.75" stroke="#333" stroke-width="1"/>
<text x="776.26" y="1010.00" font-size="17.5" text-anchor="middle" fill="#111">4</text>
<line x1="808.18" y1="989.25" x2="808.18" y2="992.75" stroke="#333" stroke-width="1"/>
<text x="808.18" y="1010.00" font-size="17.5" text-anchor="middle" fill="#111">5</text>
<line x1="840.10" y1="989.25" x2="840.10" y2="992.75" stroke="#333" stroke-width="1"/>
<text x="840.10" y="1010.00" font-size="17.5" text-anchor="middle" fill="#111">6</text>
<line x1="872.02" y1="989.25" x2="872.02" y2="992.75" stroke="#333" stroke-width="1"/>
<text x="872.02" y="1010.00" font-size="17.5" text-anchor="middle" fill="#111">7</text>
<path d="M680.8,883.8C680.8,890.6 680.8,915.6 681.2,925C681.7,934.4 682.4,935 683.5,940C684.6,945 686.4,951 688,955C689.6,959 692.6,961.2 693,963.8C693.4,966.2 692.1,967.7 690.5,970C688.9,972.3 685.2,975.6 683.5,977.5C681.8,979.4 681,980.6 680.5,981.2 L680.5,981.2C680,980.6 679.2,979.4 677.5,977.5C675.8,975.6 672.1,972.3 670.5,970C668.9,967.7 667.6,966.2 668,963.8C668.4,961.2 671.4,959 673,955C674.6,951 676.4,945 677.5,940C678.6,935 679.3,934.4 679.8,925C680.2,915.6 680.2,890.6 680.2,883.8Z" fill="#3274a1" stroke="#333" stroke-width="1.1" stroke-linejoin="round"/>
<path d="M712.7,912C712.8,916.7 713,933.7 713.7,940C714.4,946.3 715.5,946.7 716.9,950C718.4,953.3 721.1,957.5 722.4,960C723.8,962.5 725.1,963.3 724.9,965C724.7,966.7 722.8,968.3 721.2,970C719.6,971.7 716.9,973.4 715.4,975C714,976.6 712.9,978.8 712.4,979.5 L712.4,979.5C711.9,978.8 710.9,976.6 709.4,975C708,973.4 705.3,971.7 703.7,970C702.1,968.3 700.1,966.7 699.9,965C699.7,963.3 701.1,962.5 702.4,960C703.8,957.5 706.5,953.3 707.9,950C709.4,946.7 710.5,946.3 711.2,940C711.9,933.7 712,916.7 712.2,912Z" fill="#e1812c" stroke="#333" stroke-width="1.1" stroke-linejoin="round"/>
<path d="M744.6,921.2C744.9,924.4 745.1,935.2 746.3,940C747.5,944.8 750.1,947.1 751.8,950C753.6,952.9 756.4,955.4 756.8,957.5C757.3,959.6 755.6,960.4 754.3,962.5C753.1,964.6 751,967.5 749.3,970C747.7,972.5 745.2,976.2 744.3,977.5 L744.3,977.5C743.5,976.2 741,972.5 739.3,970C737.7,967.5 735.6,964.6 734.3,962.5C733.1,960.4 731.4,959.6 731.8,957.5C732.3,955.4 735.1,952.9 736.8,950C738.6,947.1 741.1,944.8 742.3,940C743.5,935.2 743.8,924.4 744.1,921.2Z" fill="#3a923a" stroke="#333" stroke-width="1.1" stroke-linejoin="round"/>
<path d="M776.5,902C776.8,905.8 777.1,918.7 778.3,925C779.5,931.3 782.2,935.8 783.8,940C785.3,944.2 786.7,947.3 787.5,950C788.3,952.7 789.2,954.2 788.8,956.2C788.3,958.3 786.8,960.2 785,962.5C783.3,964.8 779.7,968.5 778.3,970C776.8,971.5 776.6,971 776.3,971.2 L776.3,971.2C775.9,971 775.7,971.5 774.3,970C772.8,968.5 769.3,964.8 767.5,962.5C765.8,960.2 764.2,958.3 763.8,956.2C763.3,954.2 764.2,952.7 765,950C765.8,947.3 767.2,944.2 768.8,940C770.3,935.8 773.1,931.3 774.3,925C775.5,918.7 775.7,905.8 776,902Z" fill="#c03d3e" stroke="#333" stroke-width="1.1" stroke-linejoin="round"/>
<path d="M808.4,814.5C808.8,817.9 809.7,827.8 810.7,835C811.7,842.2 813.4,849.6 814.4,857.5C815.5,865.4 816.2,874.2 816.9,882.5C817.6,890.8 818,899.2 818.7,907.5C819.4,915.8 821.1,926.2 821.2,932.5C821.3,938.8 820.3,940.8 819.4,945C818.5,949.2 817.1,953.5 815.7,957.5C814.3,961.5 811.9,966.9 811.2,968.8 L805.2,968.8C804.4,966.9 802.1,961.5 800.7,957.5C799.3,953.5 797.8,949.2 796.9,945C796,940.8 795.1,938.8 795.2,932.5C795.3,926.2 797,915.8 797.7,907.5C798.4,899.2 798.7,890.8 799.4,882.5C800.1,874.2 800.9,865.4 801.9,857.5C803,849.6 804.7,842.2 805.7,835C806.7,827.8 807.6,817.9 807.9,814.5Z" fill="#9372b2" stroke="#333" stroke-width="1.1" stroke-linejoin="round"/>
<path d="M840.4,927C840.9,928.3 842.4,932 843.9,935C845.3,938 847.4,941.7 848.9,945C850.3,948.3 852.6,952.1 852.6,955C852.6,957.9 850.5,960 848.9,962.5C847.2,965 844.1,967.9 842.6,970C841.1,972.1 840.5,974.2 840.1,975 L840.1,975C839.7,974.2 839.1,972.1 837.6,970C836.1,967.9 833,965 831.4,962.5C829.7,960 827.6,957.9 827.6,955C827.6,952.1 829.9,948.3 831.4,945C832.8,941.7 834.9,938 836.4,935C837.8,932 839.3,928.3 839.9,927Z" fill="#845b53" stroke="#333" stroke-width="1.1" stroke-linejoin="round"/>
<path d="M872.3,943.8C872.9,944.8 874.4,947.7 875.8,950C877.2,952.3 879.3,955.4 880.8,957.5C882.2,959.6 884.5,960.6 884.5,962.5C884.5,964.4 882,967.1 880.8,968.8C879.5,970.4 877.6,971.9 877,972.5 L867,972.5C866.4,971.9 864.5,970.4 863.3,968.8C862,967.1 859.5,964.4 859.5,962.5C859.5,960.6 861.8,959.6 863.3,957.5C864.7,955.4 866.9,952.3 868.3,950C869.7,947.7 871.2,944.8 871.8,943.8Z" fill="#d684bd" stroke="#333" stroke-width="1.1" stroke-linejoin="round"/>
<g filter="url(#soft)"><g mask="url(#mkm)">
<path d="M673.9,1713.3C673.5,1709.4 673.5,1705.4 673.9,1702.3C674.4,1699.3 675,1698.4 676.7,1695C678.3,1691.6 681.9,1685.5 684,1682.2C686.1,1678.8 686.8,1677 689.5,1674.8C692.3,1672.7 696.5,1671 700.5,1669.3C704.5,1667.7 708.8,1665.8 713.3,1664.8C717.9,1663.7 723.4,1663.2 728,1662.9C732.6,1662.6 737.2,1662.2 740.8,1662.9C744.5,1663.7 747.3,1665.8 750,1667.5C752.8,1669.2 754.9,1671.5 757.3,1673C759.8,1674.5 762.2,1675.9 764.7,1676.7C767.1,1677.4 769.6,1677.6 772,1677.6C774.4,1677.6 776.3,1677.6 779.3,1676.7C782.4,1675.8 787,1673 790.3,1672.1C793.7,1671.2 796.4,1670.7 799.5,1671.2C802.6,1671.6 805.3,1673.6 808.7,1674.8C812,1676.1 816,1677 819.7,1678.5C823.3,1680 827.6,1681.3 830.7,1684C833.7,1686.8 836.2,1691 838,1695C839.8,1699 841.7,1703.9 841.7,1707.8C841.7,1711.8 839.2,1715.5 838,1718.8C836.8,1722.2 836.2,1724.9 834.3,1728C832.5,1731.1 830.1,1733.8 827,1737.2C823.9,1740.5 819.7,1744.8 816,1748.2C812.3,1751.5 809.3,1754.6 805,1757.3C800.7,1760.1 795.2,1763.1 790.3,1764.7C785.4,1766.2 780.6,1766.8 775.7,1766.5C770.8,1766.2 765.3,1764.1 761,1762.8C756.7,1761.6 753.1,1760.1 750,1759.2C746.9,1758.3 745.7,1757.3 742.7,1757.3C739.6,1757.3 735.6,1759.5 731.7,1759.2C727.7,1758.9 723.1,1756.7 718.8,1755.5C714.6,1754.3 710,1753.4 706,1751.8C702,1750.3 698.4,1748.5 695,1746.3C691.6,1744.2 688.9,1742.4 685.8,1739C682.8,1735.6 678.7,1730.4 676.7,1726.2C674.7,1721.9 674.4,1717.3 673.9,1713.3Z" fill="#1fbab3" stroke="#1fbab3" stroke-width="1.5" stroke-linejoin="round"/>
<path d="M695,1726.2C695.3,1721 697.1,1712.7 698.7,1707.8C700.2,1702.9 701.1,1699.6 704.2,1696.8C707.2,1694.1 713,1692.9 717,1691.3C721,1689.8 724.3,1688 728,1687.7C731.7,1687.4 735.3,1687.7 739,1689.5C742.7,1691.3 746.9,1696.2 750,1698.7C753.1,1701.1 754.9,1702.3 757.3,1704.2C759.8,1706 762.8,1706.9 764.7,1709.7C766.5,1712.4 768.3,1717 768.3,1720.7C768.3,1724.3 766.5,1728 764.7,1731.7C762.8,1735.3 759.8,1739.6 757.3,1742.7C754.9,1745.7 753.1,1748.2 750,1750C746.9,1751.8 742.7,1752.4 739,1753.7C735.3,1754.9 731.7,1757.3 728,1757.3C724.3,1757.3 720.7,1755.2 717,1753.7C713.3,1752.1 709.4,1750.6 706,1748.2C702.6,1745.7 698.7,1742.7 696.8,1739C695,1735.3 694.7,1731.4 695,1726.2Z" fill="#e0e01a" stroke="#e0e01a" stroke-width="1.5" stroke-linejoin="round"/>
<path d="M660.2,1693.2C660.6,1692.3 662,1690.7 663.8,1689.5C665.7,1688.3 669,1686.6 671.2,1685.8C673.3,1685.1 674.8,1685.2 676.7,1684.9C678.5,1684.6 680,1684 682.2,1684C684.3,1684 688.6,1684.2 689.5,1684.9C690.4,1685.7 688.9,1687.5 687.7,1688.6C686.4,1689.7 684,1690.4 682.2,1691.3C680.3,1692.3 679.1,1693.5 676.7,1694.1C674.2,1694.7 670.1,1694.9 667.5,1695C664.9,1695.1 662.3,1694.9 661.1,1694.6C659.9,1694.3 659.7,1694 660.2,1693.2Z" fill="#a62ee2" stroke="#a62ee2" stroke-width="1.5" stroke-linejoin="round"/>
<path d="M775.7,1656.5C776.1,1654.7 778.1,1652.1 779.3,1651C780.6,1649.9 781.8,1649.6 783,1650.1C784.2,1650.5 785.6,1652.4 786.7,1653.8C787.7,1655.1 789.4,1656.8 789.4,1658.3C789.4,1659.9 787.4,1661.4 786.7,1662.9C785.9,1664.4 785.8,1666.4 784.8,1667.5C783.9,1668.6 782.7,1669.2 781.2,1669.3C779.6,1669.5 777.2,1668 775.7,1668.4C774.1,1668.9 772.8,1671.9 772,1672.1C771.2,1672.2 770.6,1670.4 771.1,1669.3C771.5,1668.3 773.8,1666.9 774.8,1665.7C775.7,1664.4 776.4,1663.5 776.6,1662C776.7,1660.5 775.2,1658.3 775.7,1656.5Z" fill="#d62728" stroke="#d62728" stroke-width="1.5" stroke-linejoin="round"/>
</g></g>
<g filter="url(#soft)"><g mask="url(#sk2)">
<path d="M695,1726.2C695.3,1721 697.1,1712.7 698.7,1707.8C700.2,1702.9 701.1,1699.6 704.2,1696.8C707.2,1694.1 713,1692.9 717,1691.3C721,1689.8 724.3,1688 728,1687.7C731.7,1687.4 735.3,1687.7 739,1689.5C742.7,1691.3 746.9,1696.2 750,1698.7C753.1,1701.1 754.9,1702.3 757.3,1704.2C759.8,1706 762.8,1706.9 764.7,1709.7C766.5,1712.4 768.3,1717 768.3,1720.7C768.3,1724.3 766.5,1728 764.7,1731.7C762.8,1735.3 759.8,1739.6 757.3,1742.7C754.9,1745.7 753.1,1748.2 750,1750C746.9,1751.8 742.7,1752.4 739,1753.7C735.3,1754.9 731.7,1757.3 728,1757.3C724.3,1757.3 720.7,1755.2 717,1753.7C713.3,1752.1 709.4,1750.6 706,1748.2C702.6,1745.7 698.7,1742.7 696.8,1739C695,1735.3 694.7,1731.4 695,1726.2Z" fill="#1fbab3"/>
</g></g>
<g filter="url(#soft)"><g mask="url(#sk1)">
<path d="M757.3,1709.7C759.2,1706 764.7,1704.8 768.3,1706C772,1707.2 776.3,1713.3 779.3,1717C782.4,1720.7 786.1,1723.7 786.7,1728C787.3,1732.3 785.4,1739 783,1742.7C780.6,1746.3 775.7,1750 772,1750C768.3,1750 763.4,1746.3 761,1742.7C758.6,1739 757.9,1733.5 757.3,1728C756.7,1722.5 755.5,1713.3 757.3,1709.7Z" fill="#e0e01a"/>
</g></g>
<path d="M717,1685.8C717.9,1684.3 723.1,1683.2 726.2,1683.1C729.2,1682.9 733.5,1683.7 735.3,1684.9C737.2,1686.1 738.1,1689 737.2,1690.4C736.3,1691.8 732.6,1692.9 729.8,1693.2C727.1,1693.5 722.8,1693.5 720.7,1692.3C718.5,1691 716.1,1687.4 717,1685.8Z" fill="#ffffff" fill-opacity="0.45"/>
<circle cx="798.58" cy="1707.47" r="10.30" fill="#ffffff" fill-opacity="0.45"/>
<circle cx="727.63" cy="1722.13" r="10.80" fill="#ffffff" fill-opacity="0.45"/>
<text x="798.58" y="1713.47" font-size="17" text-anchor="middle" fill="#000">1</text>
<text x="727.63" y="1728.13" font-size="17" text-anchor="middle" fill="#000">2</text>
<text x="666.60" y="1683.60" font-size="17" text-anchor="middle" fill="#000">3</text>
<text x="764.70" y="1666.20" font-size="17" text-anchor="middle" fill="#000">4</text>
<line x1="911.00" y1="1644.80" x2="911.00" y2="1770.60" stroke="#333" stroke-width="1.2"/>
<line x1="910.40" y1="1770.00" x2="1032.90" y2="1770.00" stroke="#333" stroke-width="1.2"/>
<line x1="907.50" y1="1658.90" x2="911.00" y2="1658.90" stroke="#333" stroke-width="1"/>
<text x="907.60" y="1662.70" font-size="11" text-anchor="end" fill="#222">1.2</text>
<line x1="907.50" y1="1675.10" x2="911.00" y2="1675.10" stroke="#333" stroke-width="1"/>
<text x="907.60" y="1678.90" font-size="11" text-anchor="end" fill="#222">1.0</text>
<line x1="907.50" y1="1691.20" x2="911.00" y2="1691.20" stroke="#333" stroke-width="1"/>
<text x="907.60" y="1695.00" font-size="11" text-anchor="end" fill="#222">0.8</text>
<line x1="907.50" y1="1707.10" x2="911.00" y2="1707.10" stroke="#333" stroke-width="1"/>
<text x="907.60" y="1710.90" font-size="11" text-anchor="end" fill="#222">0.6</text>
<line x1="907.50" y1="1723.30" x2="911.00" y2="1723.30" stroke="#333" stroke-width="1"/>
<text x="907.60" y="1727.10" font-size="11" text-anchor="end" fill="#222">0.4</text>
<line x1="907.50" y1="1738.80" x2="911.00" y2="1738.80" stroke="#333" stroke-width="1"/>
<text x="907.60" y="1742.60" font-size="11" text-anchor="end" fill="#222">0.2</text>
<line x1="907.50" y1="1755.30" x2="911.00" y2="1755.30" stroke="#333" stroke-width="1"/>
<text x="907.60" y="1759.10" font-size="11" text-anchor="end" fill="#222">0.0</text>
<text x="882.82" y="1711.20" font-size="14.5" text-anchor="middle" transform="rotate(-90 882.82 1711.20)" fill="#222">normalized UMIs</text>
<line x1="926.60" y1="1770.00" x2="926.60" y2="1773.50" stroke="#333" stroke-width="1"/>
<text x="926.60" y="1792.60" font-size="19.5" text-anchor="middle" fill="#111">1</text>
<line x1="956.90" y1="1770.00" x2="956.90" y2="1773.50" stroke="#333" stroke-width="1"/>
<text x="956.90" y="1792.60" font-size="19.5" text-anchor="middle" fill="#111">2</text>
<line x1="987.50" y1="1770.00" x2="987.50" y2="1773.50" stroke="#333" stroke-width="1"/>
<text x="987.50" y="1792.60" font-size="19.5" text-anchor="middle" fill="#111">3</text>
<line x1="1017.80" y1="1770.00" x2="1017.80" y2="1773.50" stroke="#333" stroke-width="1"/>
<text x="1017.80" y="1792.60" font-size="19.5" text-anchor="middle" fill="#111">4</text>
<path d="M926.9,1670.8C927,1673.7 927,1684.1 927.5,1687.8C927.9,1691.6 928.4,1690.2 929.4,1693.5C930.5,1696.8 932.6,1703 933.7,1707.7C934.8,1712.4 935.2,1717.6 936,1721.8C936.7,1726.1 938.1,1729.4 937.9,1733.2C937.8,1737 936,1741.2 935.1,1744.5C934.3,1747.8 933.5,1750.7 932.8,1753C932.1,1755.4 931.9,1756.8 930.9,1758.7C929.8,1760.6 927.3,1763.4 926.6,1764.4 L926.6,1764.4C925.9,1763.4 923.4,1760.6 922.3,1758.7C921.3,1756.8 921.1,1755.4 920.4,1753C919.7,1750.7 918.9,1747.8 918.1,1744.5C917.2,1741.2 915.4,1737 915.3,1733.2C915.1,1729.4 916.5,1726.1 917.2,1721.8C918,1717.6 918.4,1712.4 919.5,1707.7C920.6,1703 922.7,1696.8 923.8,1693.5C924.8,1690.2 925.3,1691.6 925.7,1687.8C926.2,1684.1 926.2,1673.7 926.3,1670.8Z" fill="#1fbab3" stroke="#333" stroke-width="1.1" stroke-linejoin="round"/>
<path d="M957.2,1650.4C957.4,1652.2 957.4,1656.1 958.3,1660.9C959.2,1665.7 961.2,1673.9 962.6,1679.3C964,1684.8 965.8,1688.8 966.8,1693.5C967.9,1698.2 968.8,1703 968.8,1707.7C968.8,1712.4 967.9,1717.1 966.8,1721.8C965.8,1726.6 963.8,1731.3 962.6,1736C961.3,1740.7 960.1,1745.5 959.2,1750.2C958.2,1754.9 957.3,1762 956.9,1764.4 L956.9,1764.4C956.5,1762 955.6,1754.9 954.6,1750.2C953.7,1745.5 952.5,1740.7 951.2,1736C950,1731.3 948,1726.6 947,1721.8C945.9,1717.1 945,1712.4 945,1707.7C945,1703 945.9,1698.2 947,1693.5C948,1688.8 949.8,1684.8 951.2,1679.3C952.6,1673.9 954.6,1665.7 955.5,1660.9C956.4,1656.1 956.4,1652.2 956.6,1650.4Z" fill="#e0e01a" stroke="#333" stroke-width="1.1" stroke-linejoin="round"/>
<path d="M987.8,1706.3C987.9,1707.9 988.3,1713.1 988.6,1716.2C989,1719.3 988.8,1721.8 989.8,1724.7C990.8,1727.5 993.1,1730.3 994.6,1733.2C996.1,1736 998.4,1738.8 998.8,1741.7C999.3,1744.5 998.4,1747.1 997.4,1750.2C996.5,1753.3 993.9,1758.4 993.2,1760.1 L981.8,1760.1C981.1,1758.4 978.5,1753.3 977.6,1750.2C976.6,1747.1 975.7,1744.5 976.2,1741.7C976.6,1738.8 978.9,1736 980.4,1733.2C981.9,1730.3 984.2,1727.5 985.2,1724.7C986.2,1721.8 986,1719.3 986.4,1716.2C986.7,1713.1 987.1,1707.9 987.2,1706.3Z" fill="#a62ee2" stroke="#333" stroke-width="1.1" stroke-linejoin="round"/>
<path d="M1022.1,1697.8C1022.8,1700.4 1025.1,1708.4 1026.3,1713.3C1027.5,1718.3 1028.6,1722.8 1029.1,1727.5C1029.7,1732.2 1029.9,1737.4 1029.7,1741.7C1029.5,1745.9 1028.8,1749.7 1027.7,1753C1026.7,1756.3 1024.2,1760.1 1023.5,1761.5 L1012.1,1761.5C1011.4,1760.1 1008.9,1756.3 1007.9,1753C1006.8,1749.7 1006.1,1745.9 1005.9,1741.7C1005.7,1737.4 1005.9,1732.2 1006.5,1727.5C1007,1722.8 1008.1,1718.3 1009.3,1713.3C1010.5,1708.4 1012.8,1700.4 1013.5,1697.8Z" fill="#c23c3a" stroke="#333" stroke-width="1.1" stroke-linejoin="round"/>
<line x1="1067.70" y1="1644.80" x2="1067.70" y2="1770.60" stroke="#333" stroke-width="1.2"/>
<line x1="1067.10" y1="1770.00" x2="1190.10" y2="1770.00" stroke="#333" stroke-width="1.2"/>
<line x1="1064.20" y1="1652.40" x2="1067.70" y2="1652.40" stroke="#333" stroke-width="1"/>
<text x="1063.50" y="1656.20" font-size="11" text-anchor="end" fill="#222">1.0</text>
<line x1="1064.20" y1="1671.70" x2="1067.70" y2="1671.70" stroke="#333" stroke-width="1"/>
<text x="1063.50" y="1675.50" font-size="11" text-anchor="end" fill="#222">0.8</text>
<line x1="1064.20" y1="1691.20" x2="1067.70" y2="1691.20" stroke="#333" stroke-width="1"/>
<text x="1063.50" y="1695.00" font-size="11" text-anchor="end" fill="#222">0.6</text>
<line x1="1064.20" y1="1711.10" x2="1067.70" y2="1711.10" stroke="#333" stroke-width="1"/>
<text x="1063.50" y="1714.90" font-size="11" text-anchor="end" fill="#222">0.4</text>
<line x1="1064.20" y1="1730.30" x2="1067.70" y2="1730.30" stroke="#333" stroke-width="1"/>
<text x="1063.50" y="1734.10" font-size="11" text-anchor="end" fill="#222">0.2</text>
<line x1="1064.20" y1="1750.20" x2="1067.70" y2="1750.20" stroke="#333" stroke-width="1"/>
<text x="1063.50" y="1754.00" font-size="11" text-anchor="end" fill="#222">0.0</text>
<line x1="1064.20" y1="1769.50" x2="1067.70" y2="1769.50" stroke="#333" stroke-width="1"/>
<text x="1063.50" y="1773.30" font-size="11" text-anchor="end" fill="#222">-0.2</text>
<text x="-99.64" y="-100.00" font-size="1" text-anchor="middle" transform="rotate(-90 -99.64 -100.00)" fill="#222">normalized UMIs</text>
<line x1="1082.40" y1="1770.00" x2="1082.40" y2="1773.50" stroke="#333" stroke-width="1"/>
<text x="1082.40" y="1792.60" font-size="19.5" text-anchor="middle" fill="#111">1</text>
<line x1="1113.00" y1="1770.00" x2="1113.00" y2="1773.50" stroke="#333" stroke-width="1"/>
<text x="1113.00" y="1792.60" font-size="19.5" text-anchor="middle" fill="#111">2</text>
<line x1="1143.40" y1="1770.00" x2="1143.40" y2="1773.50" stroke="#333" stroke-width="1"/>
<text x="1143.40" y="1792.60" font-size="19.5" text-anchor="middle" fill="#111">3</text>
<line x1="1173.70" y1="1770.00" x2="1173.70" y2="1773.50" stroke="#333" stroke-width="1"/>
<text x="1173.70" y="1792.60" font-size="19.5" text-anchor="middle" fill="#111">4</text>
<path d="M1082.7,1650.4C1082.8,1654.3 1082.7,1668.4 1083.3,1673.7C1083.8,1679 1084.3,1678.4 1085.8,1682.2C1087.3,1686 1090.8,1691.1 1092.3,1696.3C1093.9,1701.5 1095.2,1708.6 1095.2,1713.3C1095.2,1718.1 1093.5,1720.9 1092.3,1724.7C1091.1,1728.5 1089.3,1732.2 1088.1,1736C1086.8,1739.8 1085.6,1743.7 1084.7,1747.4C1083.7,1751 1082.8,1756.3 1082.4,1758.1 L1082.4,1758.1C1082,1756.3 1081.1,1751 1080.1,1747.4C1079.2,1743.7 1078,1739.8 1076.7,1736C1075.5,1732.2 1073.7,1728.5 1072.5,1724.7C1071.3,1720.9 1069.6,1718.1 1069.6,1713.3C1069.6,1708.6 1070.9,1701.5 1072.5,1696.3C1074,1691.1 1077.5,1686 1079,1682.2C1080.5,1678.4 1081,1679 1081.5,1673.7C1082.1,1668.4 1082,1654.3 1082.1,1650.4Z" fill="#1fbab3" stroke="#333" stroke-width="1.1" stroke-linejoin="round"/>
<path d="M1113.3,1671.7C1113.4,1674.9 1113.4,1685.6 1113.9,1690.7C1114.3,1695.7 1114.8,1697.3 1115.8,1702C1116.9,1706.7 1118.4,1713.8 1120.1,1719C1121.7,1724.2 1125,1729.4 1125.8,1733.2C1126.5,1737 1125.5,1738.4 1124.3,1741.7C1123.2,1745 1120.6,1749.2 1118.7,1753C1116.8,1756.8 1113.9,1762.5 1113,1764.4 L1113,1764.4C1112.1,1762.5 1109.2,1756.8 1107.3,1753C1105.4,1749.2 1102.8,1745 1101.7,1741.7C1100.5,1738.4 1099.5,1737 1100.2,1733.2C1101,1729.4 1104.3,1724.2 1105.9,1719C1107.6,1713.8 1109.1,1706.7 1110.2,1702C1111.2,1697.3 1111.7,1695.7 1112.1,1690.7C1112.6,1685.6 1112.6,1674.9 1112.7,1671.7Z" fill="#e0e01a" stroke="#333" stroke-width="1.1" stroke-linejoin="round"/>
<path d="M1145.7,1697.2C1146.5,1698.9 1149,1703.6 1150.5,1707.7C1152,1711.8 1153.8,1717.6 1154.7,1721.8C1155.7,1726.1 1156.4,1729.4 1156.2,1733.2C1155.9,1737 1154.5,1740.7 1153.3,1744.5C1152.1,1748.3 1149.8,1754 1149.1,1755.9 L1137.7,1755.9C1137,1754 1134.7,1748.3 1133.5,1744.5C1132.3,1740.7 1130.9,1737 1130.6,1733.2C1130.4,1729.4 1131.1,1726.1 1132.1,1721.8C1133,1717.6 1134.8,1711.8 1136.3,1707.7C1137.8,1703.6 1140.3,1698.9 1141.1,1697.2Z" fill="#a62ee2" stroke="#333" stroke-width="1.1" stroke-linejoin="round"/>
<path d="M1175.1,1699.2C1175.3,1700.6 1175.3,1704.4 1176,1707.7C1176.7,1711 1177.9,1715.2 1179.4,1719C1180.9,1722.8 1183.9,1727.5 1185,1730.3C1186.2,1733.2 1186.7,1733.7 1186.5,1736C1186.2,1738.4 1185,1741.2 1183.6,1744.5C1182.2,1747.8 1178.9,1754 1178,1755.9 L1169.4,1755.9C1168.5,1754 1165.2,1747.8 1163.8,1744.5C1162.4,1741.2 1161.2,1738.4 1160.9,1736C1160.7,1733.7 1161.2,1733.2 1162.4,1730.3C1163.5,1727.5 1166.5,1722.8 1168,1719C1169.5,1715.2 1170.7,1711 1171.4,1707.7C1172.1,1704.4 1172.1,1700.6 1172.3,1699.2Z" fill="#c23c3a" stroke="#333" stroke-width="1.1" stroke-linejoin="round"/>
<text x="4.80" y="20.30" font-size="24.5" text-anchor="start" fill="#000">A</text>
<text x="347.50" y="20.40" font-size="24.5" text-anchor="start" fill="#000">B</text>
<text x="683.80" y="20.40" font-size="24.5" text-anchor="start" fill="#000">C</text>
<text x="4.50" y="277.00" font-size="24.5" text-anchor="start" fill="#000">D</text>
<text x="616.50" y="277.00" font-size="24.5" text-anchor="start" fill="#000">E</text>
<text x="5.20" y="543.30" font-size="24.5" text-anchor="start" fill="#000">F</text>
<text x="373.50" y="542.70" font-size="24.5" text-anchor="start" fill="#000">G</text>
<text x="697.50" y="543.70" font-size="24.5" text-anchor="start" fill="#000">H</text>
<text x="5.00" y="787.50" font-size="24.5" text-anchor="start" fill="#000">I</text>
<text x="602.50" y="787.50" font-size="24.5" text-anchor="start" fill="#000">J</text>
<text x="4.50" y="1065.00" font-size="24.5" text-anchor="start" fill="#000">K</text>
<text x="544.50" y="1065.00" font-size="24.5" text-anchor="start" fill="#000">L</text>
<text x="3.50" y="1318.50" font-size="24.5" text-anchor="start" fill="#000">M</text>
<text x="367.50" y="1317.60" font-size="24.5" text-anchor="start" fill="#000">N</text>
<text x="710.50" y="1317.60" font-size="24.5" text-anchor="start" fill="#000">O</text>
<text x="4.00" y="1581.00" font-size="24.5" text-anchor="start" fill="#000">P</text>
<text x="628.50" y="1614.50" font-size="24.5" text-anchor="start" fill="#000">Q</text>
<text x="180.50" y="26.00" font-size="19.3" text-anchor="middle" fill="#000">clustering</text>
<text x="534.50" y="26.00" font-size="19.3" text-anchor="middle" fill="#000">model</text>
<text x="860.00" y="25.50" font-size="19.3" text-anchor="middle" fill="#000"><tspan font-style="italic">Col1a1</tspan> expression</text>
<text x="305.60" y="288.30" font-size="22.2" text-anchor="middle" fill="#000">iCAF signature</text>
<text x="911.70" y="288.30" font-size="22.2" text-anchor="middle" fill="#000">myCAF signature</text>
<text x="182.00" y="549.30" font-size="19.3" text-anchor="middle" fill="#000">clustering</text>
<text x="535.00" y="549.20" font-size="19.3" text-anchor="middle" fill="#000">model</text>
<text x="869.00" y="550.00" font-size="19.3" text-anchor="middle" fill="#000"><tspan font-style="italic">Col1a1</tspan> expression</text>
<text x="288.50" y="800.00" font-size="22.2" text-anchor="middle" fill="#000">iCAF signature</text>
<text x="912.10" y="800.00" font-size="22.2" text-anchor="middle" fill="#000">myCAF signature</text>
<text x="195.50" y="1325.50" font-size="19.3" text-anchor="middle" fill="#000">clustering</text>
<text x="530.00" y="1326.00" font-size="19.3" text-anchor="middle" fill="#000">tumor type</text>
<text x="878.00" y="1326.60" font-size="19.3" text-anchor="middle" fill="#000"><tspan font-style="italic">COL1A1</tspan> expression</text>
<text x="192.50" y="1579.50" font-size="19.3" text-anchor="middle" fill="#000">iCAF signature</text>
<text x="477.00" y="1579.50" font-size="19.3" text-anchor="middle" fill="#000">myCAF signature</text>
<text x="975.50" y="1628.30" font-size="16.9" text-anchor="middle" fill="#000">iCAF signature</text>
<text x="1133.50" y="1628.30" font-size="16.9" text-anchor="middle" fill="#000">myCAF signature</text>
<line x1="48.25" y1="44.00" x2="48.25" y2="225.30" stroke="#333" stroke-width="1.6"/>
<line x1="48.00" y1="224.50" x2="332.30" y2="224.50" stroke="#333" stroke-width="1.6"/>
<line x1="344.30" y1="224.50" x2="662.30" y2="224.50" stroke="#333" stroke-width="1.6"/>
<line x1="674.30" y1="224.50" x2="982.50" y2="224.50" stroke="#333" stroke-width="1.6"/>
<text x="40.20" y="132.00" font-size="14.6" text-anchor="middle" transform="rotate(-90 40.20 132.00)" fill="#000">UMAP2</text>
<text x="492.00" y="244.30" font-size="14.6" text-anchor="middle" fill="#000">UMAP1</text>
<line x1="50.00" y1="558.30" x2="50.00" y2="739.80" stroke="#333" stroke-width="1.6"/>
<line x1="50.00" y1="739.00" x2="352.70" y2="739.00" stroke="#333" stroke-width="1.6"/>
<line x1="365.50" y1="739.00" x2="683.40" y2="739.00" stroke="#333" stroke-width="1.6"/>
<line x1="695.80" y1="739.00" x2="982.40" y2="739.00" stroke="#333" stroke-width="1.6"/>
<text x="41.90" y="646.70" font-size="14.6" text-anchor="middle" transform="rotate(-90 41.90 646.70)" fill="#000">UMAP2</text>
<text x="516.70" y="757.70" font-size="14.6" text-anchor="middle" fill="#000">UMAP1</text>
<line x1="48.10" y1="1336.90" x2="48.10" y2="1518.40" stroke="#333" stroke-width="1.6"/>
<line x1="48.00" y1="1517.60" x2="358.80" y2="1517.60" stroke="#333" stroke-width="1.6"/>
<line x1="370.50" y1="1517.60" x2="700.00" y2="1517.60" stroke="#333" stroke-width="1.6"/>
<line x1="712.00" y1="1517.60" x2="1009.00" y2="1517.60" stroke="#333" stroke-width="1.6"/>
<text x="40.70" y="1425.40" font-size="14.6" text-anchor="middle" transform="rotate(-90 40.70 1425.40)" fill="#000">UMAP2</text>
<text x="526.00" y="1536.00" font-size="14.6" text-anchor="middle" fill="#000">UMAP1</text>
<line x1="49.10" y1="1590.30" x2="49.10" y2="1773.00" stroke="#333" stroke-width="1.6"/>
<line x1="49.00" y1="1772.20" x2="620.00" y2="1772.20" stroke="#333" stroke-width="1.6"/>
<text x="41.40" y="1679.00" font-size="14.6" text-anchor="middle" transform="rotate(-90 41.40 1679.00)" fill="#000">UMAP2</text>
<text x="334.50" y="1789.00" font-size="14.6" text-anchor="middle" fill="#000">UMAP1</text>
<line x1="652.90" y1="1644.90" x2="652.90" y2="1771.40" stroke="#333" stroke-width="1.6"/>
<line x1="652.90" y1="1770.60" x2="849.60" y2="1770.60" stroke="#333" stroke-width="1.6"/>
<text x="644.50" y="1712.60" font-size="14.6" text-anchor="middle" transform="rotate(-90 644.50 1712.60)" fill="#000">UMAP2</text>
<text x="755.00" y="1790.00" font-size="14.6" text-anchor="middle" fill="#000">UMAP1</text>
<circle cx="380.00" cy="42.00" r="6.00" fill="#87ceeb"/>
<text x="392.50" y="48.50" font-size="14.2" text-anchor="start" fill="#000">WEH1047R</text>
<circle cx="380.00" cy="63.80" r="6.00" fill="#d7191c"/>
<text x="392.50" y="69.50" font-size="14.2" text-anchor="start" fill="#000">WEPtn</text>
<circle cx="594.40" cy="694.10" r="5.80" fill="#17c5c9"/>
<text x="605.50" y="699.80" font-size="17" text-anchor="start" fill="#000">WB1P</text>
<circle cx="551.20" cy="716.00" r="5.80" fill="#e877e8"/>
<text x="564.50" y="722.00" font-size="17" text-anchor="start" fill="#000">WB1P-Myc</text>
<circle cx="639.00" cy="1448.10" r="5.40" fill="#1f77b4"/>
<text x="650.50" y="1454.00" font-size="16.8" text-anchor="start" fill="#000">ER+</text>
<circle cx="639.00" cy="1467.20" r="5.40" fill="#2ca02c"/>
<text x="650.50" y="1473.10" font-size="16.8" text-anchor="start" fill="#000">PR+</text>
<circle cx="639.00" cy="1486.30" r="5.40" fill="#ff7f0e"/>
<text x="650.50" y="1492.20" font-size="16.8" text-anchor="start" fill="#000">HER2+</text>
<circle cx="639.00" cy="1505.40" r="5.40" fill="#d62728"/>
<text x="650.50" y="1511.30" font-size="16.8" text-anchor="start" fill="#000">TN</text>
<rect x="986.50" y="119.00" width="7.00" height="90.60" fill="url(#vir)" stroke="#000" stroke-width="1"/>
<line x1="993.50" y1="133.00" x2="996.00" y2="133.00" stroke="#000" stroke-width="1"/>
<text x="1001.70" y="136.40" font-size="9.5" text-anchor="start" fill="#000">2.5</text>
<line x1="993.50" y1="148.10" x2="996.00" y2="148.10" stroke="#000" stroke-width="1"/>
<text x="1001.70" y="151.50" font-size="9.5" text-anchor="start" fill="#000">2.0</text>
<line x1="993.50" y1="163.30" x2="996.00" y2="163.30" stroke="#000" stroke-width="1"/>
<text x="1001.70" y="166.70" font-size="9.5" text-anchor="start" fill="#000">1.5</text>
<line x1="993.50" y1="178.50" x2="996.00" y2="178.50" stroke="#000" stroke-width="1"/>
<text x="1001.70" y="181.90" font-size="9.5" text-anchor="start" fill="#000">1.0</text>
<line x1="993.50" y1="193.80" x2="996.00" y2="193.80" stroke="#000" stroke-width="1"/>
<text x="1001.70" y="197.20" font-size="9.5" text-anchor="start" fill="#000">0.5</text>
<line x1="993.50" y1="208.80" x2="996.00" y2="208.80" stroke="#000" stroke-width="1"/>
<text x="1001.70" y="212.20" font-size="9.5" text-anchor="start" fill="#000">0.0</text>
<rect x="552.50" y="372.70" width="6.70" height="89.80" fill="url(#vir)" stroke="#000" stroke-width="1"/>
<line x1="559.20" y1="381.50" x2="561.70" y2="381.50" stroke="#000" stroke-width="1"/>
<text x="564.80" y="384.90" font-size="9.5" text-anchor="start" fill="#000">1.25</text>
<line x1="559.20" y1="394.30" x2="561.70" y2="394.30" stroke="#000" stroke-width="1"/>
<text x="564.80" y="397.70" font-size="9.5" text-anchor="start" fill="#000">1.00</text>
<line x1="559.20" y1="406.30" x2="561.70" y2="406.30" stroke="#000" stroke-width="1"/>
<text x="564.80" y="409.70" font-size="9.5" text-anchor="start" fill="#000">0.75</text>
<line x1="559.20" y1="418.30" x2="561.70" y2="418.30" stroke="#000" stroke-width="1"/>
<text x="564.80" y="421.70" font-size="9.5" text-anchor="start" fill="#000">0.50</text>
<line x1="559.20" y1="430.50" x2="561.70" y2="430.50" stroke="#000" stroke-width="1"/>
<text x="564.80" y="433.90" font-size="9.5" text-anchor="start" fill="#000">0.25</text>
<line x1="559.20" y1="442.50" x2="561.70" y2="442.50" stroke="#000" stroke-width="1"/>
<text x="564.80" y="445.90" font-size="9.5" text-anchor="start" fill="#000">0.00</text>
<line x1="559.20" y1="454.80" x2="561.70" y2="454.80" stroke="#000" stroke-width="1"/>
<text x="564.80" y="458.20" font-size="9.5" text-anchor="start" fill="#000">-0.25</text>
<rect x="1170.70" y="373.20" width="6.60" height="89.30" fill="url(#vir)" stroke="#000" stroke-width="1"/>
<line x1="1177.30" y1="379.90" x2="1179.80" y2="379.90" stroke="#000" stroke-width="1"/>
<text x="1178.70" y="383.30" font-size="9.5" text-anchor="start" fill="#000">1.2</text>
<line x1="1177.30" y1="390.00" x2="1179.80" y2="390.00" stroke="#000" stroke-width="1"/>
<text x="1178.70" y="393.40" font-size="9.5" text-anchor="start" fill="#000">1.0</text>
<line x1="1177.30" y1="400.10" x2="1179.80" y2="400.10" stroke="#000" stroke-width="1"/>
<text x="1178.70" y="403.50" font-size="9.5" text-anchor="start" fill="#000">0.8</text>
<line x1="1177.30" y1="410.50" x2="1179.80" y2="410.50" stroke="#000" stroke-width="1"/>
<text x="1178.70" y="413.90" font-size="9.5" text-anchor="start" fill="#000">0.6</text>
<line x1="1177.30" y1="421.20" x2="1179.80" y2="421.20" stroke="#000" stroke-width="1"/>
<text x="1178.70" y="424.60" font-size="9.5" text-anchor="start" fill="#000">0.4</text>
<line x1="1177.30" y1="431.90" x2="1179.80" y2="431.90" stroke="#000" stroke-width="1"/>
<text x="1178.70" y="435.30" font-size="9.5" text-anchor="start" fill="#000">0.2</text>
<line x1="1177.30" y1="442.00" x2="1179.80" y2="442.00" stroke="#000" stroke-width="1"/>
<text x="1178.70" y="445.40" font-size="9.5" text-anchor="start" fill="#000">0.0</text>
<line x1="1177.30" y1="452.70" x2="1179.80" y2="452.70" stroke="#000" stroke-width="1"/>
<text x="1178.70" y="456.10" font-size="9.5" text-anchor="start" fill="#000">-0.2</text>
<rect x="992.50" y="636.50" width="6.70" height="89.30" fill="url(#vir)" stroke="#000" stroke-width="1"/>
<line x1="999.20" y1="648.20" x2="1001.70" y2="648.20" stroke="#000" stroke-width="1"/>
<text x="1005.50" y="651.60" font-size="9.5" text-anchor="start" fill="#000">5.0</text>
<line x1="999.20" y1="663.10" x2="1001.70" y2="663.10" stroke="#000" stroke-width="1"/>
<text x="1005.50" y="666.50" font-size="9.5" text-anchor="start" fill="#000">4.0</text>
<line x1="999.20" y1="678.30" x2="1001.70" y2="678.30" stroke="#000" stroke-width="1"/>
<text x="1005.50" y="681.70" font-size="9.5" text-anchor="start" fill="#000">3.0</text>
<line x1="999.20" y1="693.50" x2="1001.70" y2="693.50" stroke="#000" stroke-width="1"/>
<text x="1005.50" y="696.90" font-size="9.5" text-anchor="start" fill="#000">2.0</text>
<line x1="999.20" y1="709.00" x2="1001.70" y2="709.00" stroke="#000" stroke-width="1"/>
<text x="1005.50" y="712.40" font-size="9.5" text-anchor="start" fill="#000">1.0</text>
<line x1="999.20" y1="723.60" x2="1001.70" y2="723.60" stroke="#000" stroke-width="1"/>
<text x="1005.50" y="727.00" font-size="9.5" text-anchor="start" fill="#000">0.0</text>
<rect x="551.90" y="896.00" width="6.90" height="89.90" fill="url(#vir)" stroke="#000" stroke-width="1"/>
<line x1="558.80" y1="906.10" x2="561.30" y2="906.10" stroke="#000" stroke-width="1"/>
<text x="567.00" y="909.50" font-size="9.5" text-anchor="start" fill="#000">1.5</text>
<line x1="558.80" y1="928.10" x2="561.30" y2="928.10" stroke="#000" stroke-width="1"/>
<text x="567.00" y="931.50" font-size="9.5" text-anchor="start" fill="#000">1.0</text>
<line x1="558.80" y1="950.10" x2="561.30" y2="950.10" stroke="#000" stroke-width="1"/>
<text x="567.00" y="953.50" font-size="9.5" text-anchor="start" fill="#000">0.5</text>
<line x1="558.80" y1="972.10" x2="561.30" y2="972.10" stroke="#000" stroke-width="1"/>
<text x="567.00" y="975.50" font-size="9.5" text-anchor="start" fill="#000">0.0</text>
<rect x="1168.50" y="896.10" width="6.70" height="89.40" fill="url(#vir)" stroke="#000" stroke-width="1"/>
<line x1="1175.20" y1="906.50" x2="1177.70" y2="906.50" stroke="#000" stroke-width="1"/>
<text x="1182.70" y="909.90" font-size="9.5" text-anchor="start" fill="#000">1.2</text>
<line x1="1175.20" y1="927.30" x2="1177.70" y2="927.30" stroke="#000" stroke-width="1"/>
<text x="1182.70" y="930.70" font-size="9.5" text-anchor="start" fill="#000">0.8</text>
<line x1="1175.20" y1="948.10" x2="1177.70" y2="948.10" stroke="#000" stroke-width="1"/>
<text x="1182.70" y="951.50" font-size="9.5" text-anchor="start" fill="#000">0.4</text>
<line x1="1175.20" y1="969.50" x2="1177.70" y2="969.50" stroke="#000" stroke-width="1"/>
<text x="1182.70" y="972.90" font-size="9.5" text-anchor="start" fill="#000">0.0</text>
<rect x="1011.10" y="1416.00" width="6.90" height="89.40" fill="url(#vir)" stroke="#000" stroke-width="1"/>
<line x1="1018.00" y1="1425.90" x2="1020.50" y2="1425.90" stroke="#000" stroke-width="1"/>
<text x="1024.00" y="1429.30" font-size="9.5" text-anchor="start" fill="#000">6.0</text>
<line x1="1018.00" y1="1439.10" x2="1020.50" y2="1439.10" stroke="#000" stroke-width="1"/>
<text x="1024.00" y="1442.50" font-size="9.5" text-anchor="start" fill="#000">5.0</text>
<line x1="1018.00" y1="1452.30" x2="1020.50" y2="1452.30" stroke="#000" stroke-width="1"/>
<text x="1024.00" y="1455.70" font-size="9.5" text-anchor="start" fill="#000">4.0</text>
<line x1="1018.00" y1="1465.50" x2="1020.50" y2="1465.50" stroke="#000" stroke-width="1"/>
<text x="1024.00" y="1468.90" font-size="9.5" text-anchor="start" fill="#000">3.0</text>
<line x1="1018.00" y1="1478.40" x2="1020.50" y2="1478.40" stroke="#000" stroke-width="1"/>
<text x="1024.00" y="1481.80" font-size="9.5" text-anchor="start" fill="#000">2.0</text>
<line x1="1018.00" y1="1491.60" x2="1020.50" y2="1491.60" stroke="#000" stroke-width="1"/>
<text x="1024.00" y="1495.00" font-size="9.5" text-anchor="start" fill="#000">1.0</text>
<line x1="1018.00" y1="1504.50" x2="1020.50" y2="1504.50" stroke="#000" stroke-width="1"/>
<text x="1024.00" y="1507.90" font-size="9.5" text-anchor="start" fill="#000">0.0</text>
<rect x="588.10" y="1685.40" width="6.50" height="84.20" fill="url(#vir)" stroke="#000" stroke-width="1"/>
<line x1="594.60" y1="1690.60" x2="597.10" y2="1690.60" stroke="#000" stroke-width="1"/>
<text x="602.00" y="1694.00" font-size="9" text-anchor="start" fill="#000">1.2</text>
<line x1="594.60" y1="1704.00" x2="597.10" y2="1704.00" stroke="#000" stroke-width="1"/>
<text x="602.00" y="1707.40" font-size="9" text-anchor="start" fill="#000">1.0</text>
<line x1="594.60" y1="1716.40" x2="597.10" y2="1716.40" stroke="#000" stroke-width="1"/>
<text x="602.00" y="1719.80" font-size="9" text-anchor="start" fill="#000">0.8</text>
<line x1="594.60" y1="1728.30" x2="597.10" y2="1728.30" stroke="#000" stroke-width="1"/>
<text x="602.00" y="1731.70" font-size="9" text-anchor="start" fill="#000">0.6</text>
<line x1="594.60" y1="1740.20" x2="597.10" y2="1740.20" stroke="#000" stroke-width="1"/>
<text x="602.00" y="1743.60" font-size="9" text-anchor="start" fill="#000">0.4</text>
<line x1="594.60" y1="1753.10" x2="597.10" y2="1753.10" stroke="#000" stroke-width="1"/>
<text x="602.00" y="1756.50" font-size="9" text-anchor="start" fill="#000">0.2</text>
<line x1="594.60" y1="1766.00" x2="597.10" y2="1766.00" stroke="#000" stroke-width="1"/>
<text x="602.00" y="1769.40" font-size="9" text-anchor="start" fill="#000">0.0</text>
<path d="M733.1,169.3C732.8,166.2 734.2,162.7 736,160C737.8,157.3 740.4,154.9 744,153.3C747.6,151.7 752.4,151.1 757.3,150.4C762.2,149.7 768,149.4 773.3,149.3C778.7,149.3 784.9,149.3 789.3,150C793.8,150.7 797,151.4 800,153.3C803,155.2 805.6,158.2 807.3,161.3C809.1,164.4 810.3,168.4 810.4,172C810.5,175.6 809.7,179.8 808,182.7C806.3,185.6 803.6,187.7 800,189.3C796.4,190.9 791.1,191.9 786.7,192.3C782.2,192.6 777.8,191.9 773.3,191.3C768.9,190.7 764.4,189.8 760,188.7C755.6,187.6 750.4,186.3 746.7,184.7C742.9,183 739.6,181.2 737.3,178.7C735.1,176.1 733.3,172.4 733.1,169.3Z" fill="none" stroke="#000" stroke-width="1.4"/>
<line x1="745.10" y1="184.70" x2="742.90" y2="195.70" stroke="#000" stroke-width="1.4"/>
<text x="686.40" y="212.00" font-size="16.8" text-anchor="start" fill="#000">cluster 3: fibroblasts</text>
<ellipse cx="821" cy="592.4" rx="40.3" ry="15.9" transform="rotate(-25 821 592.4)" fill="none" stroke="#000" stroke-width="1.4"/>
<line x1="858.20" y1="579.80" x2="871.20" y2="581.40" stroke="#000" stroke-width="1.4"/>
<text x="875.80" y="587.50" font-size="16.9" text-anchor="start" fill="#000">cluster 5: fibroblasts</text>
<ellipse cx="857" cy="1377.1" rx="21.1" ry="13.1" fill="none" stroke="#000" stroke-width="1.4"/>
<line x1="877.40" y1="1373.20" x2="901.40" y2="1355.50" stroke="#000" stroke-width="1.4"/>
<text x="897.90" y="1348.40" font-size="16.8" text-anchor="start" fill="#000">fibroblasts</text>
</svg></body></html>
